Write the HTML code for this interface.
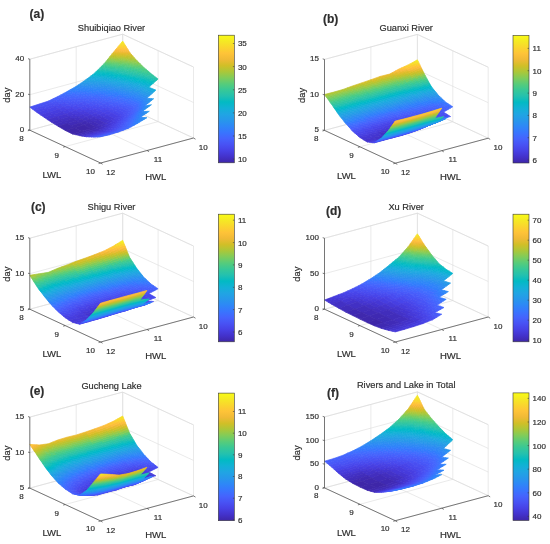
<!DOCTYPE html>
<html><head><meta charset="utf-8"><title>Figure</title>
<style>html,body{margin:0;padding:0;background:#fff}svg{display:block}text{font-family:"Liberation Sans",Arial,sans-serif;fill:#2e2e2e;stroke:#2e2e2e;stroke-width:.18}
.s{filter:blur(.4px)}.s path{stroke-width:.7;stroke-linejoin:round}
.c0{fill:#3e26a8;stroke:#3e26a8}.c1{fill:#3f28ad;stroke:#3f28ad}.c2{fill:#3f29b2;stroke:#3f29b2}.c3{fill:#402bb7;stroke:#402bb7}.c4{fill:#412dbb;stroke:#412dbb}.c5{fill:#422ebf;stroke:#422ebf}.c6{fill:#4230c4;stroke:#4230c4}.c7{fill:#4332c8;stroke:#4332c8}.c8{fill:#4433cd;stroke:#4433cd}.c9{fill:#4435d1;stroke:#4435d1}.c10{fill:#4537d5;stroke:#4537d5}.c11{fill:#4539d8;stroke:#4539d8}.c12{fill:#463bdc;stroke:#463bdc}.c13{fill:#463ddf;stroke:#463ddf}.c14{fill:#473fe2;stroke:#473fe2}.c15{fill:#4741e5;stroke:#4741e5}.c16{fill:#4743e7;stroke:#4743e7}.c17{fill:#4745ea;stroke:#4745ea}.c18{fill:#4848ec;stroke:#4848ec}.c19{fill:#484aee;stroke:#484aee}.c20{fill:#484cf0;stroke:#484cf0}.c21{fill:#484ef1;stroke:#484ef1}.c22{fill:#4851f3;stroke:#4851f3}.c23{fill:#4853f5;stroke:#4853f5}.c24{fill:#4755f6;stroke:#4755f6}.c25{fill:#4757f7;stroke:#4757f7}.c26{fill:#475af9;stroke:#475af9}.c27{fill:#475cfa;stroke:#475cfa}.c28{fill:#465efb;stroke:#465efb}.c29{fill:#4660fc;stroke:#4660fc}.c30{fill:#4563fc;stroke:#4563fc}.c31{fill:#4465fd;stroke:#4465fd}.c32{fill:#4367fd;stroke:#4367fd}.c33{fill:#426afe;stroke:#426afe}.c34{fill:#406cfe;stroke:#406cfe}.c35{fill:#3f6eff;stroke:#3f6eff}.c36{fill:#3d71ff;stroke:#3d71ff}.c37{fill:#3a73fe;stroke:#3a73fe}.c38{fill:#3876fe;stroke:#3876fe}.c39{fill:#3578fd;stroke:#3578fd}.c40{fill:#337bfd;stroke:#337bfd}.c41{fill:#317dfc;stroke:#317dfc}.c42{fill:#307ffb;stroke:#307ffb}.c43{fill:#2f82fa;stroke:#2f82fa}.c44{fill:#2e84f9;stroke:#2e84f9}.c45{fill:#2e86f7;stroke:#2e86f7}.c46{fill:#2d88f6;stroke:#2d88f6}.c47{fill:#2d8af4;stroke:#2d8af4}.c48{fill:#2d8cf3;stroke:#2d8cf3}.c49{fill:#2c8ef1;stroke:#2c8ef1}.c50{fill:#2b90ef;stroke:#2b90ef}.c51{fill:#2a92ee;stroke:#2a92ee}.c52{fill:#2994ec;stroke:#2994ec}.c53{fill:#2797eb;stroke:#2797eb}.c54{fill:#2698ea;stroke:#2698ea}.c55{fill:#269ae8;stroke:#269ae8}.c56{fill:#259ce7;stroke:#259ce7}.c57{fill:#249ee6;stroke:#249ee6}.c58{fill:#23a0e5;stroke:#23a0e5}.c59{fill:#22a2e4;stroke:#22a2e4}.c60{fill:#21a4e3;stroke:#21a4e3}.c61{fill:#1fa5e2;stroke:#1fa5e2}.c62{fill:#1ea7e1;stroke:#1ea7e1}.c63{fill:#1da9e0;stroke:#1da9e0}.c64{fill:#1babde;stroke:#1babde}.c65{fill:#19acdc;stroke:#19acdc}.c66{fill:#17aeda;stroke:#17aeda}.c67{fill:#15afd8;stroke:#15afd8}.c68{fill:#12b1d6;stroke:#12b1d6}.c69{fill:#0eb2d4;stroke:#0eb2d4}.c70{fill:#0ab4d2;stroke:#0ab4d2}.c71{fill:#07b5cf;stroke:#07b5cf}.c72{fill:#04b6cd;stroke:#04b6cd}.c73{fill:#01b7ca;stroke:#01b7ca}.c74{fill:#01b9c8;stroke:#01b9c8}.c75{fill:#01bac5;stroke:#01bac5}.c76{fill:#03bbc3;stroke:#03bbc3}.c77{fill:#06bcc0;stroke:#06bcc0}.c78{fill:#0abdbd;stroke:#0abdbd}.c79{fill:#0fbeba;stroke:#0fbeba}.c80{fill:#14bfb8;stroke:#14bfb8}.c81{fill:#1abfb5;stroke:#1abfb5}.c82{fill:#1ec0b2;stroke:#1ec0b2}.c83{fill:#23c1af;stroke:#23c1af}.c84{fill:#26c2ac;stroke:#26c2ac}.c85{fill:#29c3a9;stroke:#29c3a9}.c86{fill:#2cc4a7;stroke:#2cc4a7}.c87{fill:#2ec5a3;stroke:#2ec5a3}.c88{fill:#31c6a0;stroke:#31c6a0}.c89{fill:#33c69d;stroke:#33c69d}.c90{fill:#35c79a;stroke:#35c79a}.c91{fill:#38c897;stroke:#38c897}.c92{fill:#3bc993;stroke:#3bc993}.c93{fill:#3eca8f;stroke:#3eca8f}.c94{fill:#42ca8c;stroke:#42ca8c}.c95{fill:#46cb88;stroke:#46cb88}.c96{fill:#4bcb84;stroke:#4bcb84}.c97{fill:#50cc80;stroke:#50cc80}.c98{fill:#55cc7c;stroke:#55cc7c}.c99{fill:#5acc78;stroke:#5acc78}.c100{fill:#5fcd73;stroke:#5fcd73}.c101{fill:#64cd6f;stroke:#64cd6f}.c102{fill:#69cd6a;stroke:#69cd6a}.c103{fill:#6fcd66;stroke:#6fcd66}.c104{fill:#75cc61;stroke:#75cc61}.c105{fill:#7bcc5d;stroke:#7bcc5d}.c106{fill:#81cc59;stroke:#81cc59}.c107{fill:#86cb54;stroke:#86cb54}.c108{fill:#8ccb50;stroke:#8ccb50}.c109{fill:#92ca4c;stroke:#92ca4c}.c110{fill:#98ca47;stroke:#98ca47}.c111{fill:#9dc943;stroke:#9dc943}.c112{fill:#a3c83f;stroke:#a3c83f}.c113{fill:#a8c73b;stroke:#a8c73b}.c114{fill:#aec637;stroke:#aec637}.c115{fill:#b3c534;stroke:#b3c534}.c116{fill:#b8c431;stroke:#b8c431}.c117{fill:#bdc32e;stroke:#bdc32e}.c118{fill:#c2c22c;stroke:#c2c22c}.c119{fill:#c7c12a;stroke:#c7c12a}.c120{fill:#ccc028;stroke:#ccc028}.c121{fill:#d1bf27;stroke:#d1bf27}.c122{fill:#d5be28;stroke:#d5be28}.c123{fill:#d9bd28;stroke:#d9bd28}.c124{fill:#debd29;stroke:#debd29}.c125{fill:#e2bc2b;stroke:#e2bc2b}.c126{fill:#e6bb2d;stroke:#e6bb2d}.c127{fill:#e9bb30;stroke:#e9bb30}.c128{fill:#edba33;stroke:#edba33}.c129{fill:#f0ba36;stroke:#f0ba36}.c130{fill:#f4ba39;stroke:#f4ba39}.c131{fill:#f7ba3c;stroke:#f7ba3c}.c132{fill:#fabb3d;stroke:#fabb3d}.c133{fill:#fcbd3d;stroke:#fcbd3d}.c134{fill:#febe3c;stroke:#febe3c}.c135{fill:#fec03a;stroke:#fec03a}.c136{fill:#fec339;stroke:#fec339}.c137{fill:#fec537;stroke:#fec537}.c138{fill:#fec735;stroke:#fec735}.c139{fill:#feca33;stroke:#feca33}.c140{fill:#fdcc32;stroke:#fdcc32}.c141{fill:#fccf31;stroke:#fccf31}.c142{fill:#fcd12f;stroke:#fcd12f}.c143{fill:#fad42e;stroke:#fad42e}.c144{fill:#f9d62d;stroke:#f9d62d}.c145{fill:#f8d92c;stroke:#f8d92c}.c146{fill:#f7db2a;stroke:#f7db2a}.c147{fill:#f6de29;stroke:#f6de29}.c148{fill:#f6e028;stroke:#f6e028}.c149{fill:#f5e327;stroke:#f5e327}.c150{fill:#f5e526;stroke:#f5e526}.c151{fill:#f5e825;stroke:#f5e825}.c152{fill:#f5ea23;stroke:#f5ea23}.c153{fill:#f5ed22;stroke:#f5ed22}.c154{fill:#f6ef20;stroke:#f6ef20}.c155{fill:#f6f11e;stroke:#f6f11e}.c156{fill:#f7f41c;stroke:#f7f41c}.c157{fill:#f8f61a;stroke:#f8f61a}.c158{fill:#f8f917;stroke:#f8f917}.c159{fill:#f9fb15;stroke:#f9fb15}
</style></head><body>
<svg width="550" height="544" viewBox="0 0 550 544">
<defs><linearGradient id="pg" x1="0" y1="0" x2="0" y2="1"><stop offset="0%" stop-color="#f9fb15"/><stop offset="4.8%" stop-color="#f5e924"/><stop offset="9.5%" stop-color="#fad62d"/><stop offset="14.3%" stop-color="#fec338"/><stop offset="19%" stop-color="#f0ba36"/><stop offset="23.8%" stop-color="#d1bf27"/><stop offset="28.6%" stop-color="#abc739"/><stop offset="33.3%" stop-color="#81cc59"/><stop offset="38.1%" stop-color="#57cc7a"/><stop offset="42.9%" stop-color="#37c897"/><stop offset="47.6%" stop-color="#24c1ae"/><stop offset="52.4%" stop-color="#02bac3"/><stop offset="57.1%" stop-color="#12b1d6"/><stop offset="61.9%" stop-color="#20a5e3"/><stop offset="66.7%" stop-color="#2797eb"/><stop offset="71.4%" stop-color="#2e87f7"/><stop offset="76.2%" stop-color="#3875fe"/><stop offset="81%" stop-color="#4563fd"/><stop offset="85.7%" stop-color="#4852f4"/><stop offset="90.5%" stop-color="#4741e5"/><stop offset="95.2%" stop-color="#4332cb"/><stop offset="100%" stop-color="#3e26a8"/></linearGradient></defs>
<rect width="550" height="544" fill="#fff"/>
<g id="pa">
<line x1="29.8" y1="130.2" x2="122.7" y2="105.2" stroke="#dcdcdc" stroke-width="0.6"/>
<line x1="29.8" y1="130.2" x2="100.6" y2="163" stroke="#dcdcdc" stroke-width="0.6"/>
<line x1="65.2" y1="146.6" x2="158.1" y2="121.6" stroke="#dcdcdc" stroke-width="0.6"/>
<line x1="76.2" y1="117.7" x2="147.1" y2="150.5" stroke="#dcdcdc" stroke-width="0.6"/>
<line x1="100.6" y1="163" x2="193.5" y2="138" stroke="#dcdcdc" stroke-width="0.6"/>
<line x1="122.7" y1="105.2" x2="193.5" y2="138" stroke="#dcdcdc" stroke-width="0.6"/>
<line x1="29.8" y1="130.2" x2="29.8" y2="59.2" stroke="#dcdcdc" stroke-width="0.6"/>
<line x1="122.7" y1="105.2" x2="122.7" y2="34.2" stroke="#dcdcdc" stroke-width="0.6"/>
<line x1="76.2" y1="117.7" x2="76.2" y2="46.7" stroke="#dcdcdc" stroke-width="0.6"/>
<line x1="158.1" y1="121.6" x2="158.1" y2="50.6" stroke="#dcdcdc" stroke-width="0.6"/>
<line x1="122.7" y1="105.2" x2="122.7" y2="34.2" stroke="#dcdcdc" stroke-width="0.6"/>
<line x1="193.5" y1="138" x2="193.5" y2="67" stroke="#dcdcdc" stroke-width="0.6"/>
<line x1="29.8" y1="130.2" x2="122.7" y2="105.2" stroke="#dcdcdc" stroke-width="0.6"/>
<line x1="122.7" y1="105.2" x2="193.5" y2="138" stroke="#dcdcdc" stroke-width="0.6"/>
<line x1="29.8" y1="94.7" x2="122.7" y2="69.7" stroke="#dcdcdc" stroke-width="0.6"/>
<line x1="122.7" y1="69.7" x2="193.5" y2="102.5" stroke="#dcdcdc" stroke-width="0.6"/>
<line x1="29.8" y1="59.2" x2="122.7" y2="34.2" stroke="#dcdcdc" stroke-width="0.6"/>
<line x1="122.7" y1="34.2" x2="193.5" y2="67" stroke="#dcdcdc" stroke-width="0.6"/>
<line x1="29.8" y1="59.2" x2="122.7" y2="34.2" stroke="#dcdcdc" stroke-width="0.6"/>
<line x1="122.7" y1="34.2" x2="193.5" y2="67" stroke="#dcdcdc" stroke-width="0.6"/>
<g class="s"><path class="c98" d="M104.1 63.7l1 1.3l1.2 -1.4l-1 -1.3z"/>
<path class="c95" d="M102.8 65l1.2 1.5l1.3 -1.3l-1.2 -1.5z"/>
<path class="c92" d="M101.5 66.3l1.1 1.5l1.4 -1.3l-1.2 -1.5z"/>
<path class="c102" d="M105.3 62.3l1 1.3l1.2 -1.4l-1.1 -1.3z"/>
<path class="c89" d="M100.1 67.7l1.2 1.4l1.3 -1.3l-1.1 -1.5z"/>
<path class="c86" d="M98.8 69l1.2 1.3l1.3 -1.2l-1.2 -1.4z"/>
<path class="c106" d="M106.4 60.9l1.1 1.3l1.1 -1.4l-1 -1.4z"/>
<path class="c83" d="M97.5 70.3l1.2 1.3l1.3 -1.3l-1.2 -1.3z"/>
<path class="c79" d="M96.2 71.6l1.1 1.3l1.4 -1.3l-1.2 -1.3z"/>
<path class="c109" d="M107.6 59.4l1 1.4l1.2 -1.4l-1 -1.4z"/>
<path class="c96" d="M105.1 65l1 1.2l1.2 -1.4l-1 -1.2z"/>
<path class="c76" d="M94.8 72.9l1.2 1.3l1.3 -1.3l-1.1 -1.3z"/>
<path class="c113" d="M108.8 58l1 1.4l1.1 -1.4l-1 -1.4z"/>
<path class="c92" d="M104 66.5l1.2 1.4l1.3 -1.3l-1.2 -1.4z"/>
<path class="c99" d="M106.3 63.6l1 1.2l1.2 -1.3l-1 -1.3z"/>
<path class="c89" d="M102.6 67.8l1.2 1.4l1.4 -1.3l-1.2 -1.4z"/>
<path class="c116" d="M109.9 56.6l1 1.4l1.2 -1.4l-1 -1.4z"/>
<path class="c103" d="M107.5 62.2l1 1.3l1.1 -1.4l-1 -1.3z"/>
<path class="c86" d="M101.3 69.1l1.2 1.3l1.3 -1.2l-1.2 -1.4z"/>
<path class="c73" d="M93 74.4l1.4 1.5l1.8 -1.4l-1.4 -1.6z"/>
<path class="c106" d="M108.6 60.8l1 1.3l1.2 -1.4l-1 -1.3z"/>
<path class="c120" d="M111.1 55.2l1 1.4l1.2 -1.4l-1.1 -1.5z"/>
<path class="c83" d="M100 70.3l1.2 1.4l1.3 -1.3l-1.2 -1.3z"/>
<path class="c93" d="M106.1 66.2l1.1 1.3l1.1 -1.4l-1 -1.3z"/>
<path class="c110" d="M109.8 59.4l1 1.3l1.1 -1.4l-1 -1.3z"/>
<path class="c80" d="M98.7 71.6l1.1 1.4l1.4 -1.3l-1.2 -1.4z"/>
<path class="c123" d="M112.2 53.7l1.1 1.5l1.1 -1.4l-1 -1.5z"/>
<path class="c97" d="M107.3 64.8l1 1.3l1.2 -1.3l-1 -1.3z"/>
<path class="c77" d="M97.3 72.9l1.2 1.4l1.3 -1.3l-1.1 -1.4z"/>
<path class="c113" d="M110.9 58l1 1.3l1.2 -1.3l-1 -1.4z"/>
<path class="c127" d="M113.4 52.3l0.9 1.3l1.2 -1.4l-0.9 -1.3z"/>
<path class="c89" d="M105.2 67.9l1.1 1.4l1.4 -1.2l-1.2 -1.5z"/>
<path class="c100" d="M108.5 63.5l1 1.3l1.1 -1.4l-1 -1.3z"/>
<path class="c74" d="M96 74.2l1.2 1.3l1.3 -1.2l-1.2 -1.4z"/>
<path class="c117" d="M112.1 56.6l1 1.4l1.2 -1.4l-1 -1.4z"/>
<path class="c131" d="M114.6 50.9l0.9 1.3l1.1 -1.4l-0.9 -1.3z"/>
<path class="c103" d="M109.6 62.1l1 1.3l1.2 -1.3l-1 -1.4z"/>
<path class="c86" d="M103.8 69.2l1.2 1.4l1.3 -1.3l-1.1 -1.4z"/>
<path class="c70" d="M91.1 75.8l1.4 1.5l1.9 -1.4l-1.4 -1.5z"/>
<path class="c120" d="M113.3 55.2l1 1.4l1.1 -1.4l-1 -1.4z"/>
<path class="c107" d="M110.8 60.7l1 1.4l1.2 -1.4l-1.1 -1.4z"/>
<path class="c134" d="M115.7 49.5l0.9 1.3l1.2 -1.4l-0.9 -1.3z"/>
<path class="c83" d="M102.5 70.4l1.2 1.4l1.3 -1.2l-1.2 -1.4z"/>
<path class="c124" d="M114.3 53.6l0.9 1.3l1.1 -1.4l-0.8 -1.3z"/>
<path class="c91" d="M107.2 67.5l1 1.2l1.1 -1.3l-1 -1.3z"/>
<path class="c110" d="M111.9 59.3l1.1 1.4l1.1 -1.3l-1 -1.4z"/>
<path class="c138" d="M116.9 48.1l0.9 1.3l1.1 -1.3l-0.8 -1.4z"/>
<path class="c94" d="M108.3 66.1l1 1.3l1.2 -1.3l-1 -1.3z"/>
<path class="c128" d="M115.5 52.2l0.8 1.3l1.2 -1.4l-0.9 -1.3z"/>
<path class="c80" d="M101.2 71.7l1.2 1.4l1.3 -1.3l-1.2 -1.4z"/>
<path class="c114" d="M113.1 58l1 1.4l1.2 -1.4l-1 -1.4z"/>
<path class="c97" d="M109.5 64.8l1 1.3l1.1 -1.4l-1 -1.3z"/>
<path class="c131" d="M116.6 50.8l0.9 1.3l1.2 -1.3l-0.9 -1.4z"/>
<path class="c141" d="M118.1 46.7l0.8 1.4l1.2 -1.4l-0.9 -1.4z"/>
<path class="c77" d="M99.8 73l1.2 1.3l1.4 -1.2l-1.2 -1.4z"/>
<path class="c70" d="M94.4 75.9l1.4 1.5l1.9 -1.3l-1.5 -1.6z"/>
<path class="c101" d="M110.6 63.4l1 1.3l1.2 -1.3l-1 -1.3z"/>
<path class="c121" d="M115.2 54.9l0.9 1.2l1.1 -1.3l-0.9 -1.3z"/>
<path class="c117" d="M114.3 56.6l1 1.4l1.1 -1.3l-1 -1.5z"/>
<path class="c67" d="M89.3 77.2l1.4 1.5l1.8 -1.4l-1.4 -1.5z"/>
<path class="c86" d="M106.3 69.3l1.2 1.5l1.3 -1.2l-1.1 -1.5z"/>
<path class="c135" d="M117.8 49.4l0.9 1.4l1.1 -1.4l-0.9 -1.3z"/>
<path class="c74" d="M98.5 74.3l1.2 1.3l1.3 -1.3l-1.2 -1.3z"/>
<path class="c145" d="M119.2 45.3l0.9 1.4l1.2 -1.4l-0.9 -1.4z"/>
<path class="c104" d="M111.8 62.1l1 1.3l1.2 -1.3l-1 -1.4z"/>
<path class="c125" d="M116.3 53.5l0.9 1.3l1.2 -1.4l-0.9 -1.3z"/>
<path class="c138" d="M118.9 48.1l0.9 1.3l1.2 -1.3l-0.9 -1.4z"/>
<path class="c107" d="M113 60.7l1 1.4l1.1 -1.3l-1 -1.4z"/>
<path class="c71" d="M97.2 75.5l1.2 1.3l1.3 -1.2l-1.2 -1.3z"/>
<path class="c83" d="M105 70.6l1.2 1.4l1.3 -1.2l-1.2 -1.5z"/>
<path class="c128" d="M117.5 52.1l0.9 1.3l1.1 -1.3l-0.8 -1.3z"/>
<path class="c148" d="M120.4 43.9l0.9 1.4l1.1 -1.4l-0.9 -1.4z"/>
<path class="c88" d="M108.2 68.7l1 1.3l1.1 -1.3l-1 -1.3z"/>
<path class="c111" d="M114.1 59.4l1 1.4l1.2 -1.4l-1 -1.4z"/>
<path class="c141" d="M120.1 46.7l0.9 1.4l1.1 -1.4l-0.8 -1.4z"/>
<path class="c119" d="M116.1 56.1l0.9 1.3l1.1 -1.3l-0.9 -1.3z"/>
<path class="c132" d="M118.7 50.8l0.8 1.3l1.2 -1.3l-0.9 -1.4z"/>
<path class="c91" d="M109.3 67.4l1 1.3l1.2 -1.3l-1 -1.3z"/>
<path class="c80" d="M103.7 71.8l1.2 1.4l1.3 -1.2l-1.2 -1.4z"/>
<path class="c152" d="M121.5 42.5l0.9 1.4l1.2 -1.3l-0.9 -1.5z"/>
<path class="c114" d="M115.3 58l1 1.4l1.2 -1.3l-1.1 -1.4z"/>
<path class="c95" d="M110.5 66.1l1 1.3l1.2 -1.3l-1.1 -1.4z"/>
<path class="c122" d="M117.2 54.8l0.9 1.3l1.2 -1.3l-0.9 -1.4z"/>
<path class="c135" d="M119.8 49.4l0.9 1.4l1.2 -1.4l-0.9 -1.3z"/>
<path class="c145" d="M121.3 45.3l0.8 1.4l1.2 -1.4l-0.9 -1.4z"/>
<path class="c98" d="M111.6 64.7l1.1 1.4l1.1 -1.3l-1 -1.4z"/>
<path class="c125" d="M118.4 53.4l0.9 1.4l1.1 -1.4l-0.9 -1.3z"/>
<path class="c77" d="M102.4 73.1l1.1 1.4l1.4 -1.3l-1.2 -1.4z"/>
<path class="c67" d="M92.5 77.3l1.4 1.5l1.9 -1.4l-1.4 -1.5z"/>
<path class="c138" d="M121 48.1l0.9 1.3l1.1 -1.3l-0.9 -1.4z"/>
<path class="c101" d="M112.8 63.4l1 1.4l1.2 -1.3l-1 -1.4z"/>
<path class="c148" d="M122.4 43.9l0.9 1.4l1.2 -1.3l-0.9 -1.4z"/>
<path class="c64" d="M87.4 78.6l1.4 1.5l1.9 -1.4l-1.4 -1.5z"/>
<path class="c129" d="M119.5 52.1l0.9 1.3l1.2 -1.3l-0.9 -1.3z"/>
<path class="c104" d="M114 62.1l1 1.4l1.1 -1.3l-1 -1.4z"/>
<path class="c116" d="M117 57.4l0.8 1.3l1.2 -1.3l-0.9 -1.3z"/>
<path class="c142" d="M122.1 46.7l0.9 1.4l1.2 -1.3l-0.9 -1.5z"/>
<path class="c132" d="M120.7 50.8l0.9 1.3l1.2 -1.3l-0.9 -1.4z"/>
<path class="c75" d="M101 74.3l1.2 1.4l1.3 -1.2l-1.1 -1.4z"/>
<path class="c108" d="M115.1 60.8l1 1.4l1.2 -1.3l-1 -1.5z"/>
<path class="c119" d="M118.1 56.1l0.9 1.3l1.2 -1.3l-0.9 -1.3z"/>
<path class="c83" d="M107.5 70.8l1.2 1.4l1.3 -1.2l-1.2 -1.4z"/>
<path class="c145" d="M123.3 45.3l0.9 1.5l1.2 -1.4l-0.9 -1.4z"/>
<path class="c135" d="M121.9 49.4l0.9 1.4l1.1 -1.3l-0.9 -1.4z"/>
<path class="c111" d="M116.3 59.4l1 1.5l1.2 -1.3l-1 -1.5z"/>
<path class="c122" d="M119.3 54.8l0.9 1.3l1.1 -1.3l-0.9 -1.4z"/>
<path class="c85" d="M109.2 70l1 1.2l1.1 -1.2l-1 -1.3z"/>
<path class="c89" d="M110.3 68.7l1 1.3l1.2 -1.3l-1 -1.3z"/>
<path class="c72" d="M99.7 75.6l1.2 1.3l1.3 -1.2l-1.2 -1.4z"/>
<path class="c126" d="M120.4 53.4l0.9 1.4l1.2 -1.3l-0.9 -1.4z"/>
<path class="c138" d="M123 48.1l0.9 1.4l1.2 -1.3l-0.9 -1.4z"/>
<path class="c80" d="M106.2 72l1.2 1.4l1.3 -1.2l-1.2 -1.4z"/>
<path class="c92" d="M111.5 67.4l1 1.3l1.2 -1.3l-1 -1.3z"/>
<path class="c129" d="M121.6 52.1l0.9 1.4l1.1 -1.3l-0.8 -1.4z"/>
<path class="c142" d="M124.2 46.8l0.9 1.4l1.1 -1.4l-0.8 -1.4z"/>
<path class="c95" d="M112.7 66.1l1 1.3l1.1 -1.3l-1 -1.3z"/>
<path class="c113" d="M117.8 58.7l0.9 1.2l1.2 -1.3l-0.9 -1.2z"/>
<path class="c67" d="M95.8 77.4l1.4 1.6l1.9 -1.4l-1.4 -1.5z"/>
<path class="c132" d="M122.8 50.8l0.8 1.4l1.2 -1.3l-0.9 -1.4z"/>
<path class="c69" d="M98.4 76.8l1.2 1.3l1.3 -1.2l-1.2 -1.3z"/>
<path class="c98" d="M113.8 64.8l1 1.3l1.2 -1.3l-1 -1.3z"/>
<path class="c116" d="M119 57.4l0.9 1.2l1.1 -1.2l-0.8 -1.3z"/>
<path class="c101" d="M115 63.5l1 1.3l1.2 -1.2l-1.1 -1.4z"/>
<path class="c135" d="M123.9 49.5l0.9 1.4l1.2 -1.3l-0.9 -1.4z"/>
<path class="c119" d="M120.2 56.1l0.8 1.3l1.2 -1.3l-0.9 -1.3z"/>
<path class="c78" d="M104.9 73.2l1.1 1.4l1.4 -1.2l-1.2 -1.4z"/>
<path class="c64" d="M90.7 78.7l1.4 1.5l1.8 -1.4l-1.4 -1.5z"/>
<path class="c61" d="M85.5 80.1l1.5 1.4l1.8 -1.4l-1.4 -1.5z"/>
<path class="c104" d="M116.1 62.2l1.1 1.4l1.1 -1.3l-1 -1.4z"/>
<path class="c123" d="M121.3 54.8l0.9 1.3l1.2 -1.3l-0.9 -1.3z"/>
<path class="c138" d="M125.1 48.2l0.9 1.4l1.1 -1.3l-0.9 -1.5z"/>
<path class="c126" d="M122.5 53.5l0.9 1.3l1.1 -1.3l-0.9 -1.3z"/>
<path class="c108" d="M117.3 60.9l1 1.4l1.2 -1.3l-1 -1.4z"/>
<path class="c129" d="M123.6 52.2l0.9 1.3l1.2 -1.2l-0.9 -1.4z"/>
<path class="c75" d="M103.5 74.5l1.2 1.3l1.3 -1.2l-1.1 -1.4z"/>
<path class="c132" d="M124.8 50.9l0.9 1.4l1.1 -1.3l-0.8 -1.4z"/>
<path class="c110" d="M118.7 59.9l0.9 1.3l1.2 -1.3l-0.9 -1.3z"/>
<path class="c113" d="M119.9 58.6l0.9 1.3l1.1 -1.2l-0.9 -1.3z"/>
<path class="c135" d="M126 49.6l0.8 1.4l1.2 -1.3l-0.9 -1.4z"/>
<path class="c83" d="M110.2 71.2l1 1.3l1.2 -1.3l-1.1 -1.2z"/>
<path class="c116" d="M121 57.4l0.9 1.3l1.2 -1.3l-0.9 -1.3z"/>
<path class="c86" d="M111.3 70l1.1 1.2l1.1 -1.2l-1 -1.3z"/>
<path class="c80" d="M108.7 72.2l1.2 1.5l1.3 -1.2l-1.2 -1.5z"/>
<path class="c119" d="M122.2 56.1l0.9 1.3l1.2 -1.2l-0.9 -1.4z"/>
<path class="c89" d="M112.5 68.7l1 1.3l1.2 -1.3l-1 -1.3z"/>
<path class="c123" d="M123.4 54.8l0.9 1.4l1.1 -1.3l-0.9 -1.4z"/>
<path class="c92" d="M113.7 67.4l1 1.3l1.1 -1.2l-1 -1.4z"/>
<path class="c72" d="M102.2 75.7l1.2 1.3l1.3 -1.2l-1.2 -1.3z"/>
<path class="c126" d="M124.5 53.5l0.9 1.4l1.2 -1.2l-0.9 -1.4z"/>
<path class="c95" d="M114.8 66.1l1 1.4l1.2 -1.3l-1 -1.4z"/>
<path class="c129" d="M125.7 52.3l0.9 1.4l1.1 -1.3l-0.9 -1.4z"/>
<path class="c98" d="M116 64.8l1 1.4l1.2 -1.2l-1 -1.4z"/>
<path class="c132" d="M126.8 51l0.9 1.4l1.2 -1.3l-0.9 -1.4z"/>
<path class="c101" d="M117.2 63.6l1 1.4l1.1 -1.3l-1 -1.4z"/>
<path class="c65" d="M93.9 78.8l1.5 1.5l1.8 -1.3l-1.4 -1.6z"/>
<path class="c105" d="M118.3 62.3l1 1.4l1.2 -1.2l-1 -1.5z"/>
<path class="c77" d="M107.4 73.4l1.1 1.5l1.4 -1.2l-1.2 -1.5z"/>
<path class="c107" d="M119.6 61.2l0.9 1.3l1.2 -1.3l-0.9 -1.3z"/>
<path class="c69" d="M100.9 76.9l1.2 1.3l1.3 -1.2l-1.2 -1.3z"/>
<path class="c62" d="M88.8 80.1l1.4 1.4l1.9 -1.3l-1.4 -1.5z"/>
<path class="c110" d="M120.8 59.9l0.9 1.3l1.1 -1.2l-0.9 -1.3z"/>
<path class="c113" d="M121.9 58.7l0.9 1.3l1.2 -1.3l-0.9 -1.3z"/>
<path class="c116" d="M123.1 57.4l0.9 1.3l1.1 -1.2l-0.8 -1.3z"/>
<path class="c120" d="M124.3 56.2l0.8 1.3l1.2 -1.2l-0.9 -1.4z"/>
<path class="c123" d="M125.4 54.9l0.9 1.4l1.2 -1.3l-0.9 -1.3z"/>
<path class="c126" d="M126.6 53.7l0.9 1.3l1.1 -1.2l-0.9 -1.4z"/>
<path class="c129" d="M127.7 52.4l0.9 1.4l1.2 -1.2l-0.9 -1.5z"/>
<path class="c75" d="M106 74.6l1.2 1.4l1.3 -1.1l-1.1 -1.5z"/>
<path class="c66" d="M99.6 78.1l1.1 1.3l1.4 -1.2l-1.2 -1.3z"/>
<path class="c58" d="M83.2 81.6l1.8 1.8l2.3 -1.6l-1.8 -1.7z"/>
<path class="c64" d="M97.2 79l1.4 1.5l1.9 -1.3l-1.4 -1.6z"/>
<path class="c72" d="M104.7 75.8l1.2 1.4l1.3 -1.2l-1.2 -1.4z"/>
<path class="c62" d="M92.1 80.2l1.4 1.4l1.9 -1.3l-1.5 -1.5z"/>
<path class="c59" d="M87 81.5l1.4 1.4l1.8 -1.4l-1.4 -1.4z"/>
<path class="c80" d="M111.2 72.5l1.4 1.3l1.2 -1.2l-1.4 -1.4z"/>
<path class="c69" d="M103.4 77l1.2 1.4l1.3 -1.2l-1.2 -1.4z"/>
<path class="c83" d="M112.4 71.2l1.4 1.4l1.1 -1.2l-1.4 -1.4z"/>
<path class="c86" d="M113.5 70l1.4 1.4l1.2 -1.3l-1.4 -1.4z"/>
<path class="c89" d="M114.7 68.7l1.4 1.4l1.2 -1.2l-1.5 -1.4z"/>
<path class="c93" d="M115.8 67.5l1.5 1.4l1.1 -1.2l-1.4 -1.5z"/>
<path class="c96" d="M117 66.2l1.4 1.5l1.2 -1.3l-1.4 -1.4z"/>
<path class="c125" d="M128.6 53.8l1.4 1.6l1.2 -1.2l-1.4 -1.6z"/>
<path class="c122" d="M127.5 55l1.4 1.6l1.1 -1.2l-1.4 -1.6z"/>
<path class="c99" d="M118.2 65l1.4 1.4l1.1 -1.2l-1.4 -1.5z"/>
<path class="c119" d="M126.3 56.3l1.4 1.5l1.2 -1.2l-1.4 -1.6z"/>
<path class="c117" d="M125.1 57.5l1.5 1.6l1.1 -1.3l-1.4 -1.5z"/>
<path class="c114" d="M124 58.7l1.4 1.6l1.2 -1.2l-1.5 -1.6z"/>
<path class="c111" d="M122.8 60l1.4 1.5l1.2 -1.2l-1.4 -1.6z"/>
<path class="c102" d="M119.3 63.7l1.4 1.5l1.2 -1.3l-1.4 -1.4z"/>
<path class="c108" d="M121.7 61.2l1.4 1.5l1.1 -1.2l-1.4 -1.5z"/>
<path class="c105" d="M120.5 62.5l1.4 1.4l1.2 -1.2l-1.4 -1.5z"/>
<path class="c67" d="M102.1 78.2l1.1 1.4l1.4 -1.2l-1.2 -1.4z"/>
<path class="c77" d="M109.7 73.9l1.7 1.6l1.6 -1.3l-1.8 -1.7z"/>
<path class="c62" d="M95.4 80.3l1.4 1.5l1.8 -1.3l-1.4 -1.5z"/>
<path class="c64" d="M100.7 79.4l1.2 1.3l1.3 -1.1l-1.1 -1.4z"/>
<path class="c59" d="M90.2 81.5l1.4 1.5l1.9 -1.4l-1.4 -1.4z"/>
<path class="c74" d="M108.1 75.2l1.8 1.7l1.5 -1.4l-1.7 -1.6z"/>
<path class="c55" d="M80.9 83.2l1.8 1.7l2.3 -1.5l-1.8 -1.8z"/>
<path class="c62" d="M98.6 80.5l1.5 1.5l1.8 -1.3l-1.4 -1.5z"/>
<path class="c71" d="M106.6 76.6l1.7 1.6l1.6 -1.3l-1.8 -1.7z"/>
<path class="c59" d="M93.5 81.6l1.4 1.5l1.9 -1.3l-1.4 -1.5z"/>
<path class="c122" d="M130 55.4l1.5 1.6l1.1 -1.2l-1.4 -1.6z"/>
<path class="c119" d="M128.9 56.6l1.4 1.6l1.2 -1.2l-1.5 -1.6z"/>
<path class="c117" d="M127.7 57.8l1.4 1.6l1.2 -1.2l-1.4 -1.6z"/>
<path class="c68" d="M105 78l1.8 1.6l1.5 -1.4l-1.7 -1.6z"/>
<path class="c114" d="M126.6 59.1l1.4 1.5l1.1 -1.2l-1.4 -1.6z"/>
<path class="c56" d="M88.4 82.9l1.4 1.4l1.8 -1.3l-1.4 -1.5z"/>
<path class="c111" d="M125.4 60.3l1.4 1.5l1.2 -1.2l-1.4 -1.5z"/>
<path class="c108" d="M124.2 61.5l1.4 1.5l1.2 -1.2l-1.4 -1.5z"/>
<path class="c55" d="M85 83.4l1.8 1.7l2.3 -1.5l-1.8 -1.8z"/>
<path class="c105" d="M123.1 62.7l1.4 1.5l1.1 -1.2l-1.4 -1.5z"/>
<path class="c102" d="M121.9 63.9l1.4 1.5l1.2 -1.2l-1.4 -1.5z"/>
<path class="c99" d="M120.7 65.2l1.5 1.4l1.1 -1.2l-1.4 -1.5z"/>
<path class="c96" d="M119.6 66.4l1.4 1.5l1.2 -1.3l-1.5 -1.4z"/>
<path class="c93" d="M118.4 67.7l1.4 1.4l1.2 -1.2l-1.4 -1.5z"/>
<path class="c90" d="M117.3 68.9l1.4 1.4l1.1 -1.2l-1.4 -1.4z"/>
<path class="c87" d="M116.1 70.1l1.4 1.4l1.2 -1.2l-1.4 -1.4z"/>
<path class="c84" d="M114.9 71.4l1.5 1.4l1.1 -1.3l-1.4 -1.4z"/>
<path class="c81" d="M113.8 72.6l1.4 1.4l1.2 -1.2l-1.5 -1.4z"/>
<path class="c78" d="M112.6 73.8l1.4 1.4l1.2 -1.2l-1.4 -1.4z"/>
<path class="c65" d="M103.5 79.4l1.7 1.5l1.6 -1.3l-1.8 -1.6z"/>
<path class="c59" d="M96.8 81.8l1.4 1.5l1.9 -1.3l-1.5 -1.5z"/>
<path class="c52" d="M78.6 84.7l1.7 1.7l2.4 -1.5l-1.8 -1.7z"/>
<path class="c56" d="M91.6 83l1.5 1.4l1.8 -1.3l-1.4 -1.5z"/>
<path class="c62" d="M101.9 80.7l1.8 1.6l1.5 -1.4l-1.7 -1.5z"/>
<path class="c74" d="M111.4 75.5l1.8 1.7l1.5 -1.3l-1.7 -1.7z"/>
<path class="c119" d="M131.5 57l1.4 1.6l1.1 -1.2l-1.4 -1.6z"/>
<path class="c116" d="M130.3 58.2l1.4 1.6l1.2 -1.2l-1.4 -1.6z"/>
<path class="c56" d="M94.9 83.1l1.4 1.5l1.9 -1.3l-1.4 -1.5z"/>
<path class="c114" d="M129.1 59.4l1.4 1.6l1.2 -1.2l-1.4 -1.6z"/>
<path class="c52" d="M82.7 84.9l1.7 1.7l2.4 -1.5l-1.8 -1.7z"/>
<path class="c71" d="M109.9 76.9l1.7 1.6l1.6 -1.3l-1.8 -1.7z"/>
<path class="c111" d="M128 60.6l1.4 1.6l1.1 -1.2l-1.4 -1.6z"/>
<path class="c108" d="M126.8 61.8l1.4 1.5l1.2 -1.1l-1.4 -1.6z"/>
<path class="c105" d="M125.6 63l1.5 1.5l1.1 -1.2l-1.4 -1.5z"/>
<path class="c102" d="M124.5 64.2l1.4 1.5l1.2 -1.2l-1.5 -1.5z"/>
<path class="c54" d="M89.8 84.3l1.4 1.4l1.9 -1.3l-1.5 -1.4z"/>
<path class="c99" d="M123.3 65.4l1.4 1.5l1.2 -1.2l-1.4 -1.5z"/>
<path class="c96" d="M122.2 66.6l1.4 1.5l1.1 -1.2l-1.4 -1.5z"/>
<path class="c93" d="M121 67.9l1.4 1.4l1.2 -1.2l-1.4 -1.5z"/>
<path class="c90" d="M119.8 69.1l1.5 1.4l1.1 -1.2l-1.4 -1.4z"/>
<path class="c88" d="M118.7 70.3l1.4 1.4l1.2 -1.2l-1.5 -1.4z"/>
<path class="c85" d="M117.5 71.5l1.4 1.4l1.2 -1.2l-1.4 -1.4z"/>
<path class="c82" d="M116.4 72.8l1.4 1.3l1.1 -1.2l-1.4 -1.4z"/>
<path class="c68" d="M108.3 78.2l1.8 1.7l1.5 -1.4l-1.7 -1.6z"/>
<path class="c79" d="M115.2 74l1.4 1.3l1.2 -1.2l-1.4 -1.3z"/>
<path class="c49" d="M76.2 86.3l1.8 1.6l2.3 -1.5l-1.7 -1.7z"/>
<path class="c76" d="M114 75.2l1.4 1.3l1.2 -1.2l-1.4 -1.3z"/>
<path class="c58" d="M99.6 82.3l2.3 2.1l2.4 -1.6l-2.4 -2.1z"/>
<path class="c52" d="M86.8 85.1l1.7 1.7l2.3 -1.4l-1.7 -1.8z"/>
<path class="c65" d="M106.8 79.6l1.7 1.6l1.6 -1.3l-1.8 -1.7z"/>
<path class="c54" d="M93.1 84.4l1.4 1.5l1.8 -1.3l-1.4 -1.5z"/>
<path class="c116" d="M132.9 58.6l1.4 1.6l1.1 -1.2l-1.4 -1.6z"/>
<path class="c62" d="M105.2 80.9l1.8 1.6l1.5 -1.3l-1.7 -1.6z"/>
<path class="c49" d="M80.3 86.4l1.8 1.7l2.3 -1.5l-1.7 -1.7z"/>
<path class="c113" d="M131.7 59.8l1.4 1.6l1.2 -1.2l-1.4 -1.6z"/>
<path class="c111" d="M130.5 61l1.5 1.5l1.1 -1.1l-1.4 -1.6z"/>
<path class="c108" d="M129.4 62.2l1.4 1.5l1.2 -1.2l-1.5 -1.5z"/>
<path class="c105" d="M128.2 63.3l1.4 1.6l1.2 -1.2l-1.4 -1.5z"/>
<path class="c102" d="M127.1 64.5l1.4 1.5l1.1 -1.1l-1.4 -1.6z"/>
<path class="c59" d="M103.7 82.3l1.7 1.6l1.6 -1.4l-1.8 -1.6z"/>
<path class="c99" d="M125.9 65.7l1.4 1.5l1.2 -1.2l-1.4 -1.5z"/>
<path class="c55" d="M97.3 84l2.3 2l2.3 -1.6l-2.3 -2.1z"/>
<path class="c96" d="M124.7 66.9l1.5 1.5l1.1 -1.2l-1.4 -1.5z"/>
<path class="c72" d="M113.2 77.2l1.8 1.7l1.5 -1.3l-1.8 -1.7z"/>
<path class="c51" d="M91.2 85.7l1.4 1.5l1.9 -1.3l-1.4 -1.5z"/>
<path class="c94" d="M123.6 68.1l1.4 1.5l1.2 -1.2l-1.5 -1.5z"/>
<path class="c91" d="M122.4 69.3l1.4 1.5l1.2 -1.2l-1.4 -1.5z"/>
<path class="c88" d="M121.3 70.5l1.4 1.5l1.1 -1.2l-1.4 -1.5z"/>
<path class="c85" d="M120.1 71.7l1.4 1.4l1.2 -1.1l-1.4 -1.5z"/>
<path class="c82" d="M118.9 72.9l1.4 1.4l1.2 -1.2l-1.4 -1.4z"/>
<path class="c79" d="M117.8 74.1l1.4 1.4l1.1 -1.2l-1.4 -1.4z"/>
<path class="c49" d="M84.4 86.6l1.8 1.7l2.3 -1.5l-1.7 -1.7z"/>
<path class="c46" d="M73.2 88.1l1.7 1.6l3.1 -1.8l-1.8 -1.6z"/>
<path class="c76" d="M116.6 75.3l1.4 1.4l1.2 -1.2l-1.4 -1.4z"/>
<path class="c74" d="M115.4 76.5l1.5 1.4l1.1 -1.2l-1.4 -1.4z"/>
<path class="c69" d="M111.6 78.5l1.8 1.7l1.6 -1.3l-1.8 -1.7z"/>
<path class="c113" d="M134.3 60.2l1.4 1.6l1.2 -1.2l-1.5 -1.6z"/>
<path class="c46" d="M78 87.9l1.8 1.7l2.3 -1.5l-1.8 -1.7z"/>
<path class="c66" d="M110.1 79.9l1.8 1.6l1.5 -1.3l-1.8 -1.7z"/>
<path class="c110" d="M133.1 61.4l1.4 1.5l1.2 -1.1l-1.4 -1.6z"/>
<path class="c49" d="M88.5 86.8l1.8 1.8l2.3 -1.4l-1.8 -1.8z"/>
<path class="c108" d="M132 62.5l1.4 1.6l1.1 -1.2l-1.4 -1.5z"/>
<path class="c105" d="M130.8 63.7l1.4 1.6l1.2 -1.2l-1.4 -1.6z"/>
<path class="c52" d="M94.9 85.6l2.4 1.9l2.3 -1.5l-2.3 -2z"/>
<path class="c102" d="M129.6 64.9l1.5 1.5l1.1 -1.1l-1.4 -1.6z"/>
<path class="c63" d="M108.5 81.2l1.8 1.6l1.6 -1.3l-1.8 -1.6z"/>
<path class="c99" d="M128.5 66l1.4 1.6l1.2 -1.2l-1.5 -1.5z"/>
<path class="c97" d="M127.3 67.2l1.4 1.5l1.2 -1.1l-1.4 -1.6z"/>
<path class="c94" d="M126.2 68.4l1.4 1.5l1.1 -1.2l-1.4 -1.5z"/>
<path class="c91" d="M125 69.6l1.4 1.4l1.2 -1.1l-1.4 -1.5z"/>
<path class="c88" d="M123.8 70.8l1.4 1.4l1.2 -1.2l-1.4 -1.4z"/>
<path class="c46" d="M82.1 88.1l1.8 1.6l2.3 -1.4l-1.8 -1.7z"/>
<path class="c85" d="M122.7 72l1.4 1.4l1.1 -1.2l-1.4 -1.4z"/>
<path class="c60" d="M107 82.5l1.8 1.6l1.5 -1.3l-1.8 -1.6z"/>
<path class="c83" d="M121.5 73.1l1.4 1.5l1.2 -1.2l-1.4 -1.4z"/>
<path class="c55" d="M101.9 84.4l2.4 2l2.3 -1.5l-2.3 -2.1z"/>
<path class="c80" d="M120.3 74.3l1.5 1.4l1.1 -1.1l-1.4 -1.5z"/>
<path class="c77" d="M119.2 75.5l1.4 1.4l1.2 -1.2l-1.5 -1.4z"/>
<path class="c74" d="M118 76.7l1.4 1.4l1.2 -1.2l-1.4 -1.4z"/>
<path class="c71" d="M116.9 77.9l1.4 1.3l1.1 -1.1l-1.4 -1.4z"/>
<path class="c69" d="M115 78.9l1.7 1.6l1.6 -1.3l-1.8 -1.6z"/>
<path class="c57" d="M105.4 83.9l1.8 1.5l1.6 -1.3l-1.8 -1.6z"/>
<path class="c49" d="M92.6 87.2l2.4 1.9l2.3 -1.6l-2.4 -1.9z"/>
<path class="c46" d="M86.2 88.3l1.8 1.7l2.3 -1.4l-1.8 -1.8z"/>
<path class="c43" d="M70.1 89.8l1.7 1.6l3.1 -1.7l-1.7 -1.6z"/>
<path class="c44" d="M74.9 89.7l1.8 1.6l3.1 -1.7l-1.8 -1.7z"/>
<path class="c110" d="M135.5 62l1.8 1.7l1.3 -1.4l-1.7 -1.7z"/>
<path class="c66" d="M113.4 80.2l1.8 1.6l1.5 -1.3l-1.7 -1.6z"/>
<path class="c107" d="M134.2 63.3l1.8 1.7l1.3 -1.3l-1.8 -1.7z"/>
<path class="c104" d="M132.9 64.6l1.7 1.7l1.4 -1.3l-1.8 -1.7z"/>
<path class="c101" d="M131.6 65.9l1.7 1.7l1.3 -1.3l-1.7 -1.7z"/>
<path class="c44" d="M79.8 89.6l1.8 1.6l2.3 -1.5l-1.8 -1.6z"/>
<path class="c63" d="M111.9 81.5l1.7 1.6l1.6 -1.3l-1.8 -1.6z"/>
<path class="c52" d="M99.6 86l2.4 2l2.3 -1.6l-2.4 -2z"/>
<path class="c98" d="M130.2 67.2l1.8 1.7l1.3 -1.3l-1.7 -1.7z"/>
<path class="c94" d="M128.9 68.6l1.8 1.6l1.3 -1.3l-1.8 -1.7z"/>
<path class="c91" d="M127.6 69.9l1.7 1.6l1.4 -1.3l-1.8 -1.6z"/>
<path class="c88" d="M126.2 71.2l1.8 1.6l1.3 -1.3l-1.7 -1.6z"/>
<path class="c60" d="M110.3 82.8l1.8 1.6l1.5 -1.3l-1.7 -1.6z"/>
<path class="c85" d="M124.9 72.5l1.8 1.6l1.3 -1.3l-1.8 -1.6z"/>
<path class="c46" d="M90.3 88.6l2.4 1.9l2.3 -1.4l-2.4 -1.9z"/>
<path class="c82" d="M123.6 73.9l1.8 1.5l1.3 -1.3l-1.8 -1.6z"/>
<path class="c44" d="M83.9 89.7l1.8 1.7l2.3 -1.4l-1.8 -1.7z"/>
<path class="c79" d="M122.3 75.2l1.7 1.6l1.4 -1.4l-1.8 -1.5z"/>
<path class="c76" d="M120.9 76.6l1.8 1.5l1.3 -1.3l-1.7 -1.6z"/>
<path class="c57" d="M108.8 84.1l1.7 1.6l1.6 -1.3l-1.8 -1.6z"/>
<path class="c72" d="M119.6 77.9l1.8 1.5l1.3 -1.3l-1.8 -1.5z"/>
<path class="c69" d="M118.3 79.2l1.8 1.5l1.3 -1.3l-1.8 -1.5z"/>
<path class="c49" d="M97.3 87.5l2.4 2l2.3 -1.5l-2.4 -2z"/>
<path class="c40" d="M67 91.6l1.7 1.6l3.1 -1.8l-1.7 -1.6z"/>
<path class="c54" d="M107.2 85.4l1.8 1.6l1.5 -1.3l-1.7 -1.6z"/>
<path class="c41" d="M71.8 91.4l1.8 1.6l3.1 -1.7l-1.8 -1.6z"/>
<path class="c107" d="M137.3 63.7l1.8 1.6l1.3 -1.2l-1.8 -1.8z"/>
<path class="c41" d="M76.7 91.3l1.8 1.6l3.1 -1.7l-1.8 -1.6z"/>
<path class="c66" d="M116.7 80.5l2.4 2l1.5 -1.3l-2.3 -2z"/>
<path class="c104" d="M136 65l1.7 1.6l1.4 -1.3l-1.8 -1.6z"/>
<path class="c52" d="M104.3 86.4l2.4 2.1l2.3 -1.5l-2.4 -2.1z"/>
<path class="c101" d="M134.6 66.3l1.8 1.6l1.3 -1.3l-1.7 -1.6z"/>
<path class="c43" d="M88 90l2.3 1.9l2.4 -1.4l-2.4 -1.9z"/>
<path class="c98" d="M133.3 67.6l1.8 1.6l1.3 -1.3l-1.8 -1.6z"/>
<path class="c41" d="M81.6 91.2l1.7 1.6l2.4 -1.4l-1.8 -1.7z"/>
<path class="c95" d="M132 68.9l1.8 1.6l1.3 -1.3l-1.8 -1.6z"/>
<path class="c63" d="M115.2 81.8l2.3 2l1.6 -1.3l-2.4 -2z"/>
<path class="c92" d="M130.7 70.2l1.7 1.6l1.4 -1.3l-1.8 -1.6z"/>
<path class="c46" d="M95 89.1l2.3 2l2.4 -1.6l-2.4 -2z"/>
<path class="c89" d="M129.3 71.5l1.8 1.6l1.3 -1.3l-1.7 -1.6z"/>
<path class="c86" d="M128 72.8l1.8 1.6l1.3 -1.3l-1.8 -1.6z"/>
<path class="c60" d="M113.6 83.1l2.4 1.9l1.5 -1.2l-2.3 -2z"/>
<path class="c83" d="M126.7 74.1l1.8 1.6l1.3 -1.3l-1.8 -1.6z"/>
<path class="c80" d="M125.4 75.4l1.7 1.6l1.4 -1.3l-1.8 -1.6z"/>
<path class="c76" d="M124 76.8l1.8 1.5l1.3 -1.3l-1.7 -1.6z"/>
<path class="c49" d="M102 88l2.3 2l2.4 -1.5l-2.4 -2.1z"/>
<path class="c73" d="M122.7 78.1l1.8 1.5l1.3 -1.3l-1.8 -1.5z"/>
<path class="c58" d="M112.1 84.4l2.3 1.9l1.6 -1.3l-2.4 -1.9z"/>
<path class="c70" d="M121.4 79.4l1.7 1.5l1.4 -1.3l-1.8 -1.5z"/>
<path class="c41" d="M85.7 91.4l2.3 1.9l2.3 -1.4l-2.3 -1.9z"/>
<path class="c67" d="M120.1 80.7l1.7 1.5l1.3 -1.3l-1.7 -1.5z"/>
<path class="c38" d="M68.7 93.2l1.8 1.5l3.1 -1.7l-1.8 -1.6z"/>
<path class="c55" d="M110.5 85.7l2.4 1.9l1.5 -1.3l-2.3 -1.9z"/>
<path class="c104" d="M139.1 65.3l1.7 1.7l1.4 -1.2l-1.8 -1.7z"/>
<path class="c43" d="M92.7 90.5l2.3 2l2.3 -1.4l-2.3 -2z"/>
<path class="c38" d="M73.6 93l1.8 1.5l3.1 -1.6l-1.8 -1.6z"/>
<path class="c101" d="M137.7 66.6l1.8 1.7l1.3 -1.3l-1.7 -1.7z"/>
<path class="c38" d="M78.5 92.9l1.7 1.6l3.1 -1.7l-1.7 -1.6z"/>
<path class="c37" d="M63.9 93.3l2.3 2l3.1 -1.6l-2.3 -2.1z"/>
<path class="c98" d="M136.4 67.9l1.8 1.7l1.3 -1.3l-1.8 -1.7z"/>
<path class="c52" d="M109 87l2.4 1.8l1.5 -1.2l-2.4 -1.9z"/>
<path class="c95" d="M135.1 69.2l1.8 1.6l1.3 -1.2l-1.8 -1.7z"/>
<path class="c46" d="M99.7 89.5l2.3 2l2.3 -1.5l-2.3 -2z"/>
<path class="c92" d="M133.8 70.5l1.7 1.6l1.4 -1.3l-1.8 -1.6z"/>
<path class="c89" d="M132.4 71.8l1.8 1.6l1.3 -1.3l-1.7 -1.6z"/>
<path class="c86" d="M131.1 73.1l1.8 1.6l1.3 -1.3l-1.8 -1.6z"/>
<path class="c38" d="M83.3 92.8l2.4 1.9l2.3 -1.4l-2.3 -1.9z"/>
<path class="c83" d="M129.8 74.4l1.8 1.6l1.3 -1.3l-1.8 -1.6z"/>
<path class="c63" d="M119.1 82.5l2.4 2l1.5 -1.3l-2.4 -2z"/>
<path class="c80" d="M128.5 75.7l1.7 1.5l1.4 -1.2l-1.8 -1.6z"/>
<path class="c49" d="M106.7 88.5l2.3 1.8l2.3 -1.5l-2.3 -1.8z"/>
<path class="c77" d="M127.1 77l1.8 1.5l1.3 -1.3l-1.7 -1.5z"/>
<path class="c41" d="M90.3 91.9l2.4 1.9l2.3 -1.3l-2.3 -2z"/>
<path class="c74" d="M125.8 78.3l1.8 1.5l1.3 -1.3l-1.8 -1.5z"/>
<path class="c60" d="M117.5 83.8l2.4 1.9l1.6 -1.2l-2.4 -2z"/>
<path class="c71" d="M124.5 79.6l1.7 1.5l1.4 -1.3l-1.8 -1.5z"/>
<path class="c43" d="M97.3 91.1l2.4 1.9l2.3 -1.5l-2.3 -2z"/>
<path class="c68" d="M123.1 80.9l1.8 1.5l1.3 -1.3l-1.7 -1.5z"/>
<path class="c65" d="M121.8 82.2l1.8 1.5l1.3 -1.3l-1.8 -1.5z"/>
<path class="c101" d="M140.8 67l1.8 1.7l1.3 -1.2l-1.7 -1.7z"/>
<path class="c58" d="M116 85l2.4 2l1.5 -1.3l-2.4 -1.9z"/>
<path class="c35" d="M70.5 94.7l1.8 1.5l3.1 -1.7l-1.8 -1.5z"/>
<path class="c98" d="M139.5 68.3l1.8 1.7l1.3 -1.3l-1.8 -1.7z"/>
<path class="c36" d="M75.4 94.5l1.7 1.6l3.1 -1.6l-1.7 -1.6z"/>
<path class="c34" d="M60.8 94.9l2.3 2l3.1 -1.6l-2.3 -2z"/>
<path class="c95" d="M138.2 69.6l1.8 1.6l1.3 -1.2l-1.8 -1.7z"/>
<path class="c46" d="M104.3 90l2.4 1.8l2.3 -1.5l-2.3 -1.8z"/>
<path class="c93" d="M136.9 70.8l1.7 1.7l1.4 -1.3l-1.8 -1.6z"/>
<path class="c55" d="M114.4 86.3l2.4 1.9l1.6 -1.2l-2.4 -2z"/>
<path class="c90" d="M135.5 72.1l1.8 1.7l1.3 -1.3l-1.7 -1.7z"/>
<path class="c36" d="M80.2 94.5l2.4 1.8l3.1 -1.6l-2.4 -1.9z"/>
<path class="c38" d="M88 93.3l2.4 1.9l2.3 -1.4l-2.4 -1.9z"/>
<path class="c87" d="M134.2 73.4l1.8 1.6l1.3 -1.2l-1.8 -1.7z"/>
<path class="c84" d="M132.9 74.7l1.8 1.6l1.3 -1.3l-1.8 -1.6z"/>
<path class="c52" d="M112.9 87.6l2.4 1.9l1.5 -1.3l-2.4 -1.9z"/>
<path class="c40" d="M95 92.5l2.4 1.9l2.3 -1.4l-2.4 -1.9z"/>
<path class="c34" d="M66.2 95.3l2.4 2l3.1 -1.6l-2.4 -2z"/>
<path class="c81" d="M131.6 76l1.7 1.5l1.3 -1.2l-1.7 -1.6z"/>
<path class="c78" d="M130.2 77.2l1.8 1.6l1.3 -1.3l-1.7 -1.5z"/>
<path class="c75" d="M128.9 78.5l1.8 1.6l1.3 -1.3l-1.8 -1.6z"/>
<path class="c49" d="M111.4 88.8l2.3 1.9l1.6 -1.2l-2.4 -1.9z"/>
<path class="c43" d="M102 91.5l2.4 1.8l2.3 -1.5l-2.4 -1.8z"/>
<path class="c72" d="M127.6 79.8l1.7 1.6l1.4 -1.3l-1.8 -1.6z"/>
<path class="c69" d="M126.2 81.1l1.8 1.5l1.3 -1.2l-1.7 -1.6z"/>
<path class="c66" d="M124.9 82.4l1.8 1.5l1.3 -1.3l-1.8 -1.5z"/>
<path class="c60" d="M121.5 84.5l2.3 1.9l1.6 -1.2l-2.4 -2z"/>
<path class="c36" d="M85.7 94.7l2.3 1.9l2.4 -1.4l-2.4 -1.9z"/>
<path class="c63" d="M123.6 83.7l1.8 1.5l1.3 -1.3l-1.8 -1.5z"/>
<path class="c33" d="M72.3 96.2l1.7 1.5l3.1 -1.6l-1.7 -1.6z"/>
<path class="c32" d="M57.7 96.6l2.3 1.9l3.1 -1.6l-2.3 -2z"/>
<path class="c98" d="M142.6 68.7l2.4 2l1.3 -1.2l-2.4 -2z"/>
<path class="c47" d="M109 90.3l2.4 1.9l2.3 -1.5l-2.4 -1.9z"/>
<path class="c38" d="M92.7 93.8l2.4 1.9l2.3 -1.3l-2.4 -1.9z"/>
<path class="c96" d="M141.3 70l2.3 2l1.4 -1.3l-2.4 -2z"/>
<path class="c58" d="M119.9 85.7l2.4 2l1.5 -1.3l-2.3 -1.9z"/>
<path class="c93" d="M140 71.2l2.3 2l1.3 -1.2l-2.3 -2z"/>
<path class="c33" d="M77.1 96.1l2.4 1.8l3.1 -1.6l-2.4 -1.8z"/>
<path class="c40" d="M99.7 93l2.4 1.8l2.3 -1.5l-2.4 -1.8z"/>
<path class="c90" d="M138.6 72.5l2.4 2l1.3 -1.3l-2.3 -2z"/>
<path class="c55" d="M118.4 87l2.3 1.9l1.6 -1.2l-2.4 -2z"/>
<path class="c87" d="M137.3 73.8l2.4 1.9l1.3 -1.2l-2.4 -2z"/>
<path class="c31" d="M63.1 96.9l2.4 2l3.1 -1.6l-2.4 -2z"/>
<path class="c84" d="M136 75l2.3 1.9l1.4 -1.2l-2.4 -1.9z"/>
<path class="c81" d="M134.7 76.3l2.3 1.9l1.3 -1.3l-2.3 -1.9z"/>
<path class="c44" d="M106.7 91.8l2.4 1.9l2.3 -1.5l-2.4 -1.9z"/>
<path class="c52" d="M116.8 88.2l2.4 1.9l1.5 -1.2l-2.3 -1.9z"/>
<path class="c78" d="M133.3 77.5l2.4 1.9l1.3 -1.2l-2.4 -1.9z"/>
<path class="c36" d="M90.4 95.2l2.3 1.9l2.4 -1.4l-2.4 -1.9z"/>
<path class="c33" d="M82.6 96.3l2.4 1.9l3 -1.6l-2.3 -1.9z"/>
<path class="c75" d="M132 78.8l2.4 1.9l1.3 -1.3l-2.4 -1.9z"/>
<path class="c31" d="M68.6 97.3l2.3 2l3.1 -1.6l-2.3 -2z"/>
<path class="c50" d="M115.3 89.5l2.3 1.9l1.6 -1.3l-2.4 -1.9z"/>
<path class="c72" d="M130.7 80.1l2.3 1.9l1.4 -1.3l-2.4 -1.9z"/>
<path class="c69" d="M129.3 81.4l2.4 1.8l1.3 -1.2l-2.3 -1.9z"/>
<path class="c37" d="M96.6 94.8l2.4 1.8l3.1 -1.8l-2.4 -1.8z"/>
<path class="c66" d="M128 82.6l2.4 1.9l1.3 -1.3l-2.4 -1.8z"/>
<path class="c47" d="M113.7 90.7l2.4 1.9l1.5 -1.2l-2.3 -1.9z"/>
<path class="c63" d="M126.7 83.9l2.3 1.8l1.4 -1.2l-2.4 -1.9z"/>
<path class="c41" d="M104.4 93.3l2.3 1.9l2.4 -1.5l-2.4 -1.9z"/>
<path class="c60" d="M125.4 85.2l2.3 1.8l1.3 -1.3l-2.3 -1.8z"/>
<path class="c31" d="M74 97.7l2.4 1.8l3.1 -1.6l-2.4 -1.8z"/>
<path class="c29" d="M53 98.8l2.4 1.9l4.6 -2.2l-2.3 -1.9z"/>
<path class="c33" d="M88 96.6l2.4 1.8l2.3 -1.3l-2.3 -1.9z"/>
<path class="c57" d="M123.5 86.7l2.4 1.7l1.8 -1.4l-2.3 -1.8z"/>
<path class="c95" d="M145 70.7l2.3 2.1l1.4 -1.3l-2.4 -2z"/>
<path class="c29" d="M60 98.5l2.4 1.9l3.1 -1.5l-2.4 -2z"/>
<path class="c44" d="M111.4 92.2l2.3 1.8l2.4 -1.4l-2.4 -1.9z"/>
<path class="c93" d="M143.6 72l2.4 2l1.3 -1.2l-2.3 -2.1z"/>
<path class="c90" d="M142.3 73.2l2.4 2l1.3 -1.2l-2.4 -2z"/>
<path class="c54" d="M121.6 88.1l2.4 1.8l1.9 -1.5l-2.4 -1.7z"/>
<path class="c87" d="M141 74.5l2.4 1.9l1.3 -1.2l-2.4 -2z"/>
<path class="c31" d="M79.5 97.9l2.4 1.9l3.1 -1.6l-2.4 -1.9z"/>
<path class="c38" d="M102.1 94.8l2.3 1.8l2.3 -1.4l-2.3 -1.9z"/>
<path class="c84" d="M139.7 75.7l2.3 2l1.4 -1.3l-2.4 -1.9z"/>
<path class="c29" d="M65.5 98.9l2.3 1.9l3.1 -1.5l-2.3 -2z"/>
<path class="c34" d="M93.5 96.6l2.4 1.8l3.1 -1.8l-2.4 -1.8z"/>
<path class="c81" d="M138.3 76.9l2.4 2l1.3 -1.2l-2.3 -2z"/>
<path class="c51" d="M119.8 89.6l2.3 1.8l1.9 -1.5l-2.4 -1.8z"/>
<path class="c78" d="M137 78.2l2.4 1.9l1.3 -1.2l-2.4 -2z"/>
<path class="c41" d="M109.1 93.7l2.3 1.8l2.3 -1.5l-2.3 -1.8z"/>
<path class="c76" d="M135.7 79.4l2.3 1.9l1.4 -1.2l-2.4 -1.9z"/>
<path class="c31" d="M85 98.2l2.3 1.8l3.1 -1.6l-2.4 -1.8z"/>
<path class="c73" d="M134.4 80.7l2.3 1.9l1.3 -1.3l-2.3 -1.9z"/>
<path class="c28" d="M70.9 99.3l2.4 1.8l3.1 -1.6l-2.4 -1.8z"/>
<path class="c48" d="M117.9 91.1l2.4 1.7l1.8 -1.4l-2.3 -1.8z"/>
<path class="c70" d="M133 82l2.4 1.8l1.3 -1.2l-2.3 -1.9z"/>
<path class="c67" d="M131.7 83.2l2.4 1.9l1.3 -1.3l-2.4 -1.8z"/>
<path class="c35" d="M99 96.6l2.3 1.8l3.1 -1.8l-2.3 -1.8z"/>
<path class="c64" d="M130.4 84.5l2.3 1.8l1.4 -1.2l-2.4 -1.9z"/>
<path class="c45" d="M116.1 92.6l2.3 1.7l1.9 -1.5l-2.4 -1.7z"/>
<path class="c61" d="M129 85.7l2.4 1.8l1.3 -1.2l-2.3 -1.8z"/>
<path class="c39" d="M106.7 95.2l2.4 1.8l2.3 -1.5l-2.3 -1.8z"/>
<path class="c58" d="M127.7 87l2.4 1.8l1.3 -1.3l-2.4 -1.8z"/>
<path class="c28" d="M76.4 99.5l2.4 1.8l3.1 -1.5l-2.4 -1.9z"/>
<path class="c26" d="M55.4 100.7l2.3 1.9l4.7 -2.2l-2.4 -1.9z"/>
<path class="c31" d="M90.4 98.4l2.4 1.8l3.1 -1.8l-2.4 -1.8z"/>
<path class="c92" d="M147.3 72.8l2.4 2l1.3 -1.2l-2.3 -2.1z"/>
<path class="c26" d="M62.4 100.4l2.3 2l3.1 -1.6l-2.3 -1.9z"/>
<path class="c90" d="M146 74l2.4 2l1.3 -1.2l-2.4 -2z"/>
<path class="c55" d="M125.9 88.4l2.3 1.8l1.9 -1.4l-2.4 -1.8z"/>
<path class="c26" d="M48.4 101.1l2.3 1.8l4.7 -2.2l-2.4 -1.9z"/>
<path class="c87" d="M144.7 75.2l2.3 2l1.4 -1.2l-2.4 -2z"/>
<path class="c84" d="M143.4 76.4l2.3 2l1.3 -1.2l-2.3 -2z"/>
<path class="c52" d="M124 89.9l2.4 1.8l1.8 -1.5l-2.3 -1.8z"/>
<path class="c28" d="M81.9 99.8l2.3 1.8l3.1 -1.6l-2.3 -1.8z"/>
<path class="c81" d="M142 77.7l2.4 1.9l1.3 -1.2l-2.3 -2z"/>
<path class="c36" d="M104.4 96.6l2.4 1.8l2.3 -1.4l-2.4 -1.8z"/>
<path class="c26" d="M67.8 100.8l2.4 1.8l3.1 -1.5l-2.4 -1.8z"/>
<path class="c78" d="M140.7 78.9l2.4 1.9l1.3 -1.2l-2.4 -1.9z"/>
<path class="c32" d="M95.9 98.4l2.3 1.8l3.1 -1.8l-2.3 -1.8z"/>
<path class="c41" d="M113.7 94l3.6 2.6l2.3 -1.5l-3.5 -2.5z"/>
<path class="c76" d="M139.4 80.1l2.3 1.9l1.4 -1.2l-2.4 -1.9z"/>
<path class="c49" d="M122.1 91.4l2.4 1.7l1.9 -1.4l-2.4 -1.8z"/>
<path class="c73" d="M138 81.3l2.4 1.9l1.3 -1.2l-2.3 -1.9z"/>
<path class="c70" d="M136.7 82.6l2.4 1.9l1.3 -1.3l-2.4 -1.9z"/>
<path class="c26" d="M73.3 101.1l2.4 1.7l3.1 -1.5l-2.4 -1.8z"/>
<path class="c67" d="M135.4 83.8l2.3 1.9l1.4 -1.2l-2.4 -1.9z"/>
<path class="c46" d="M120.3 92.8l2.3 1.7l1.9 -1.4l-2.4 -1.7z"/>
<path class="c64" d="M134.1 85.1l2.3 1.8l1.3 -1.2l-2.3 -1.9z"/>
<path class="c62" d="M132.7 86.3l2.4 1.8l1.3 -1.2l-2.3 -1.8z"/>
<path class="c39" d="M111.4 95.5l3.6 2.5l2.3 -1.4l-3.6 -2.6z"/>
<path class="c33" d="M101.3 98.4l2.4 1.8l3.1 -1.8l-2.4 -1.8z"/>
<path class="c59" d="M131.4 87.5l2.4 1.9l1.3 -1.3l-2.4 -1.8z"/>
<path class="c28" d="M87.3 100l3.6 2.6l3.1 -1.5l-3.6 -2.7z"/>
<path class="c43" d="M118.4 94.3l2.4 1.7l1.8 -1.5l-2.3 -1.7z"/>
<path class="c56" d="M130.1 88.8l2.3 1.8l1.4 -1.2l-2.4 -1.9z"/>
<path class="c24" d="M57.7 102.6l2.4 1.8l4.6 -2l-2.3 -2z"/>
<path class="c89" d="M149.5 75l2.3 1.8l1.6 -1.4l-2.4 -1.8z"/>
<path class="c26" d="M78.8 101.3l2.3 1.8l3.1 -1.5l-2.3 -1.8z"/>
<path class="c29" d="M92.8 100.2l2.3 1.7l3.1 -1.7l-2.3 -1.8z"/>
<path class="c24" d="M64.7 102.4l2.4 1.7l3.1 -1.5l-2.4 -1.8z"/>
<path class="c86" d="M147.9 76.4l2.4 1.8l1.5 -1.4l-2.3 -1.8z"/>
<path class="c23" d="M50.7 102.9l2.4 1.8l4.6 -2.1l-2.3 -1.9z"/>
<path class="c53" d="M128.2 90.2l2.4 1.8l1.8 -1.4l-2.3 -1.8z"/>
<path class="c83" d="M146.4 77.8l2.3 1.8l1.6 -1.4l-2.4 -1.8z"/>
<path class="c36" d="M109.1 97l3.5 2.5l2.4 -1.5l-3.6 -2.5z"/>
<path class="c80" d="M144.8 79.2l2.4 1.8l1.5 -1.4l-2.3 -1.8z"/>
<path class="c50" d="M126.4 91.7l2.3 1.7l1.9 -1.4l-2.4 -1.8z"/>
<path class="c77" d="M143.3 80.6l2.3 1.7l1.6 -1.3l-2.4 -1.8z"/>
<path class="c24" d="M70.2 102.6l2.4 1.7l3.1 -1.5l-2.4 -1.7z"/>
<path class="c30" d="M98.2 100.2l2.4 1.7l3.1 -1.7l-2.4 -1.8z"/>
<path class="c74" d="M141.7 82l2.4 1.7l1.5 -1.4l-2.3 -1.7z"/>
<path class="c47" d="M124.5 93.1l2.4 1.7l1.8 -1.4l-2.3 -1.7z"/>
<path class="c26" d="M84.2 101.6l3.6 2.5l3.1 -1.5l-3.6 -2.6z"/>
<path class="c33" d="M106.8 98.4l3.5 2.5l2.3 -1.4l-3.5 -2.5z"/>
<path class="c24" d="M75.7 102.8l2.3 1.8l3.1 -1.5l-2.3 -1.8z"/>
<path class="c44" d="M122.6 94.5l2.4 1.8l1.9 -1.5l-2.4 -1.7z"/>
<path class="c70" d="M140.2 83.4l3.5 2.6l1.6 -1.4l-3.6 -2.6z"/>
<path class="c67" d="M138.6 84.9l3.6 2.5l1.5 -1.4l-3.5 -2.6z"/>
<path class="c41" d="M120.8 96l2.3 1.7l1.9 -1.4l-2.4 -1.8z"/>
<path class="c87" d="M151.8 76.8l2.4 1.8l1.5 -1.4l-2.3 -1.8z"/>
<path class="c63" d="M137.1 86.3l3.5 2.5l1.6 -1.4l-3.6 -2.5z"/>
<path class="c23" d="M39.1 104.1l2.3 1.8l9.3 -3l-2.3 -1.8z"/>
<path class="c38" d="M117.3 96.6l3.5 2.5l2.3 -1.4l-3.5 -2.6z"/>
<path class="c27" d="M95.1 101.9l2.4 1.8l3.1 -1.8l-2.4 -1.7z"/>
<path class="c60" d="M135.5 87.7l3.6 2.5l1.5 -1.4l-3.5 -2.5z"/>
<path class="c84" d="M150.3 78.2l2.3 1.7l1.6 -1.3l-2.4 -1.8z"/>
<path class="c22" d="M67.1 104.1l2.4 1.7l3.1 -1.5l-2.4 -1.7z"/>
<path class="c21" d="M53.1 104.7l2.4 1.8l4.6 -2.1l-2.4 -1.8z"/>
<path class="c31" d="M103.7 100.2l3.5 2.4l3.1 -1.7l-3.5 -2.5z"/>
<path class="c57" d="M134 89.1l3.5 2.5l1.6 -1.4l-3.6 -2.5z"/>
<path class="c81" d="M148.7 79.6l2.4 1.7l1.5 -1.4l-2.3 -1.7z"/>
<path class="c21" d="M60.1 104.4l3.5 2.6l4.7 -2l-3.6 -2.6z"/>
<path class="c54" d="M132.4 90.6l3.6 2.4l1.5 -1.4l-3.5 -2.5z"/>
<path class="c23" d="M81.1 103.1l3.6 2.6l3.1 -1.6l-3.6 -2.5z"/>
<path class="c78" d="M147.2 81l2.3 1.7l1.6 -1.4l-2.4 -1.7z"/>
<path class="c75" d="M145.6 82.3l2.4 1.8l1.5 -1.4l-2.3 -1.7z"/>
<path class="c22" d="M72.6 104.3l2.3 1.8l3.1 -1.5l-2.3 -1.8z"/>
<path class="c36" d="M115 98l3.5 2.5l2.3 -1.4l-3.5 -2.5z"/>
<path class="c50" d="M130.6 92l3.5 2.4l1.9 -1.4l-3.6 -2.4z"/>
<path class="c25" d="M90.9 102.6l3.5 2.6l3.1 -1.5l-3.5 -2.6z"/>
<path class="c71" d="M144.1 83.7l2.4 1.7l1.5 -1.3l-2.4 -1.8z"/>
<path class="c48" d="M128.7 93.4l3.6 2.4l1.8 -1.4l-3.5 -2.4z"/>
<path class="c28" d="M100.6 101.9l3.5 2.4l3.1 -1.7l-3.5 -2.4z"/>
<path class="c33" d="M112.6 99.5l3.6 2.5l2.3 -1.5l-3.5 -2.5z"/>
<path class="c45" d="M126.9 94.8l3.5 2.4l1.9 -1.4l-3.6 -2.4z"/>
<path class="c85" d="M154.2 78.6l2.4 1.8l1.5 -1.4l-2.4 -1.8z"/>
<path class="c21" d="M41.4 105.9l2.4 1.8l9.3 -3l-2.4 -1.8z"/>
<path class="c42" d="M125 96.3l3.5 2.3l1.9 -1.4l-3.5 -2.4z"/>
<path class="c82" d="M152.6 79.9l2.4 1.8l1.6 -1.3l-2.4 -1.8z"/>
<path class="c20" d="M69.5 105.8l2.3 1.7l3.1 -1.4l-2.3 -1.8z"/>
<path class="c23" d="M87.8 104.1l3.5 2.6l3.1 -1.5l-3.5 -2.6z"/>
<path class="c21" d="M76.5 105.3l3.5 2.6l4.7 -2.2l-3.6 -2.6z"/>
<path class="c79" d="M151.1 81.3l2.4 1.8l1.5 -1.4l-2.4 -1.8z"/>
<path class="c31" d="M110.3 100.9l3.6 2.5l2.3 -1.4l-3.6 -2.5z"/>
<path class="c39" d="M123.2 97.7l3.5 2.3l1.8 -1.4l-3.5 -2.3z"/>
<path class="c76" d="M149.5 82.7l2.4 1.7l1.6 -1.3l-2.4 -1.8z"/>
<path class="c18" d="M55.5 106.5l3.5 2.5l4.6 -2l-3.5 -2.6z"/>
<path class="c67" d="M143.7 86l3.6 2.5l1.5 -1.3l-3.5 -2.6z"/>
<path class="c25" d="M97.5 103.7l3.5 2.4l3.1 -1.8l-3.5 -2.4z"/>
<path class="c73" d="M148 84.1l2.4 1.7l1.5 -1.4l-2.4 -1.7z"/>
<path class="c64" d="M142.2 87.4l3.5 2.5l1.6 -1.4l-3.6 -2.5z"/>
<path class="c69" d="M146.5 85.4l2.3 1.8l1.6 -1.4l-2.4 -1.7z"/>
<path class="c60" d="M140.6 88.8l3.6 2.5l1.5 -1.4l-3.5 -2.5z"/>
<path class="c36" d="M120.8 99.1l3.6 2.4l2.3 -1.5l-3.6 -2.3z"/>
<path class="c57" d="M139.1 90.2l3.5 2.5l1.6 -1.4l-3.6 -2.5z"/>
<path class="c28" d="M107.2 102.6l3.6 2.5l3.1 -1.7l-3.6 -2.5z"/>
<path class="c54" d="M137.5 91.6l3.6 2.5l1.5 -1.4l-3.5 -2.5z"/>
<path class="c18" d="M63.6 107l3.6 2.5l4.6 -2l-3.5 -2.5z"/>
<path class="c20" d="M84.7 105.7l3.5 2.5l3.1 -1.5l-3.5 -2.6z"/>
<path class="c51" d="M136 93l3.5 2.5l1.6 -1.4l-3.6 -2.5z"/>
<path class="c19" d="M43.8 107.7l2.4 1.7l9.3 -2.9l-2.4 -1.8z"/>
<path class="c48" d="M134.1 94.4l3.6 2.4l1.8 -1.3l-3.5 -2.5z"/>
<path class="c33" d="M118.5 100.5l3.5 2.4l2.4 -1.4l-3.6 -2.4z"/>
<path class="c22" d="M94.4 105.2l3.5 2.4l3.1 -1.5l-3.5 -2.4z"/>
<path class="c18" d="M71.8 107.5l3.6 2.5l4.6 -2.1l-3.5 -2.6z"/>
<path class="c45" d="M132.3 95.8l3.5 2.4l1.9 -1.4l-3.6 -2.4z"/>
<path class="c25" d="M104.1 104.3l3.6 2.5l3.1 -1.7l-3.6 -2.5z"/>
<path class="c31" d="M116.2 102l3.5 2.3l2.3 -1.4l-3.5 -2.4z"/>
<path class="c42" d="M130.4 97.2l3.5 2.4l1.9 -1.4l-3.5 -2.4z"/>
<path class="c22" d="M29.8 107.1l2.4 1.8l9.2 -3l-2.3 -1.8z"/>
<path class="c39" d="M128.5 98.6l3.6 2.4l1.8 -1.4l-3.5 -2.4z"/>
<path class="c18" d="M80 107.9l3.6 2.5l4.6 -2.2l-3.5 -2.5z"/>
<path class="c20" d="M91.3 106.7l3.5 2.4l3.1 -1.5l-3.5 -2.4z"/>
<path class="c28" d="M113.9 103.4l3.5 2.3l2.3 -1.4l-3.5 -2.3z"/>
<path class="c36" d="M126.7 100l3.5 2.4l1.9 -1.4l-3.6 -2.4z"/>
<path class="c15" d="M59 109l3.5 2.5l4.7 -2l-3.6 -2.5z"/>
<path class="c22" d="M101 106.1l3.6 2.4l3.1 -1.7l-3.6 -2.5z"/>
<path class="c34" d="M124.4 101.5l3.5 2.3l2.3 -1.4l-3.5 -2.4z"/>
<path class="c16" d="M46.2 109.4l3.5 2.5l9.3 -2.9l-3.5 -2.5z"/>
<path class="c15" d="M67.2 109.5l3.5 2.5l4.7 -2l-3.6 -2.5z"/>
<path class="c26" d="M110.8 105.1l3.5 2.2l3.1 -1.6l-3.5 -2.3z"/>
<path class="c18" d="M88.2 108.2l3.5 2.4l3.1 -1.5l-3.5 -2.4z"/>
<path class="c20" d="M97.9 107.6l3.6 2.3l3.1 -1.4l-3.6 -2.4z"/>
<path class="c31" d="M122 102.9l3.6 2.3l2.3 -1.4l-3.5 -2.3z"/>
<path class="c19" d="M32.2 108.9l2.3 1.7l9.3 -2.9l-2.4 -1.8z"/>
<path class="c15" d="M75.4 110l3.5 2.5l4.7 -2.1l-3.6 -2.5z"/>
<path class="c23" d="M107.7 106.8l3.5 2.2l3.1 -1.7l-3.5 -2.2z"/>
<path class="c29" d="M119.7 104.3l3.6 2.3l2.3 -1.4l-3.6 -2.3z"/>
<path class="c66" d="M147.3 88.5l7 3l1.6 -1.4l-7.1 -2.9z"/>
<path class="c63" d="M145.7 89.9l7.1 3l1.5 -1.4l-7 -3z"/>
<path class="c59" d="M144.2 91.3l7 3l1.6 -1.4l-7.1 -3z"/>
<path class="c15" d="M83.6 110.4l3.5 2.3l4.6 -2.1l-3.5 -2.4z"/>
<path class="c18" d="M94.8 109.1l3.6 2.3l3.1 -1.5l-3.6 -2.3z"/>
<path class="c56" d="M142.6 92.7l7.1 3l1.5 -1.4l-7 -3z"/>
<path class="c26" d="M117.4 105.7l3.5 2.3l2.4 -1.4l-3.6 -2.3z"/>
<path class="c13" d="M62.5 111.5l3.6 2.4l4.6 -1.9l-3.5 -2.5z"/>
<path class="c53" d="M141.1 94.1l7 3l1.6 -1.4l-7.1 -3z"/>
<path class="c50" d="M139.5 95.5l7.1 3l1.5 -1.4l-7 -3z"/>
<path class="c20" d="M104.6 108.5l3.5 2.2l3.1 -1.7l-3.5 -2.2z"/>
<path class="c17" d="M34.5 110.6l2.4 1.8l9.3 -3l-2.4 -1.7z"/>
<path class="c47" d="M137.7 96.8l7 3.2l1.9 -1.5l-7.1 -3z"/>
<path class="c13" d="M49.7 111.9l3.5 2.5l9.3 -2.9l-3.5 -2.5z"/>
<path class="c12" d="M70.7 112l3.6 2.4l4.6 -1.9l-3.5 -2.5z"/>
<path class="c44" d="M135.8 98.2l7.1 3.2l1.8 -1.4l-7 -3.2z"/>
<path class="c23" d="M114.3 107.3l3.5 2.3l3.1 -1.6l-3.5 -2.3z"/>
<path class="c15" d="M91.7 110.6l3.6 2.3l3.1 -1.5l-3.6 -2.3z"/>
<path class="c41" d="M133.9 99.6l7.1 3.2l1.9 -1.4l-7.1 -3.2z"/>
<path class="c12" d="M78.9 112.5l3.5 2.3l4.7 -2.1l-3.5 -2.3z"/>
<path class="c38" d="M132.1 101l7.1 3.2l1.8 -1.4l-7.1 -3.2z"/>
<path class="c17" d="M99.9 110.7l3.6 2.2l4.6 -2.2l-3.5 -2.2z"/>
<path class="c21" d="M111.2 109l3.5 2.3l3.1 -1.7l-3.5 -2.3z"/>
<path class="c35" d="M130.2 102.4l7.1 3.2l1.9 -1.4l-7.1 -3.2z"/>
<path class="c13" d="M87.1 112.7l3.5 2.3l4.7 -2.1l-3.6 -2.3z"/>
<path class="c33" d="M127.9 103.8l7.1 3.2l2.3 -1.4l-7.1 -3.2z"/>
<path class="c15" d="M36.9 112.4l3.5 2.4l9.3 -2.9l-3.5 -2.5z"/>
<path class="c10" d="M66.1 113.9l3.5 2.5l4.7 -2l-3.6 -2.4z"/>
<path class="c18" d="M108.1 110.7l3.5 2.3l3.1 -1.7l-3.5 -2.3z"/>
<path class="c30" d="M125.6 105.2l7.1 3.2l2.3 -1.4l-7.1 -3.2z"/>
<path class="c11" d="M53.2 114.4l3.6 2.4l9.3 -2.9l-3.6 -2.4z"/>
<path class="c14" d="M95.3 112.9l3.5 2.2l4.7 -2.2l-3.6 -2.2z"/>
<path class="c10" d="M74.3 114.4l3.5 2.3l4.6 -1.9l-3.5 -2.3z"/>
<path class="c27" d="M123.3 106.6l7 3.3l2.4 -1.5l-7.1 -3.2z"/>
<path class="c10" d="M82.4 114.8l3.6 2.3l4.6 -2.1l-3.5 -2.3z"/>
<path class="c15" d="M103.5 112.9l3.5 2.3l4.6 -2.2l-3.5 -2.3z"/>
<path class="c25" d="M120.9 108l7.1 3.3l2.3 -1.4l-7 -3.3z"/>
<path class="c48" d="M144.7 100l1.8 0l1.9 -1.4l-1.8 -0.1z"/>
<path class="c45" d="M142.9 101.4l1.8 0.1l1.8 -1.5l-1.8 0z"/>
<path class="c12" d="M40.4 114.8l3.6 2.4l9.2 -2.8l-3.5 -2.5z"/>
<path class="c11" d="M90.6 115l3.6 2.2l4.6 -2.1l-3.5 -2.2z"/>
<path class="c8" d="M69.6 116.4l3.6 2.2l4.6 -1.9l-3.5 -2.3z"/>
<path class="c22" d="M117.8 109.6l7.1 3.4l3.1 -1.7l-7.1 -3.3z"/>
<path class="c42" d="M141 102.8l1.8 0.1l1.9 -1.4l-1.8 -0.1z"/>
<path class="c39" d="M139.2 104.2l1.7 0.1l1.9 -1.4l-1.8 -0.1z"/>
<path class="c8" d="M56.8 116.8l3.5 2.4l9.3 -2.8l-3.5 -2.5z"/>
<path class="c37" d="M137.3 105.6l1.8 0.1l1.8 -1.4l-1.7 -0.1z"/>
<path class="c12" d="M98.8 115.1l3.6 2.2l4.6 -2.1l-3.5 -2.3z"/>
<path class="c8" d="M77.8 116.7l3.5 2.3l4.7 -1.9l-3.6 -2.3z"/>
<path class="c20" d="M114.7 111.3l7.1 3.4l3.1 -1.7l-7.1 -3.4z"/>
<path class="c51" d="M146.5 100l1.8 0.1l1.8 -1.5l-1.7 0z"/>
<path class="c34" d="M135 107l2.3 0.2l2.4 -1.4l-2.4 -0.2z"/>
<path class="c8" d="M86 117.1l3.5 2.2l4.7 -2.1l-3.6 -2.2z"/>
<path class="c48" d="M144.7 101.5l1.7 0l1.9 -1.4l-1.8 -0.1z"/>
<path class="c45" d="M142.8 102.9l1.8 0.1l1.8 -1.5l-1.7 0z"/>
<path class="c17" d="M111.6 113l7.1 3.4l3.1 -1.7l-7.1 -3.4z"/>
<path class="c31" d="M132.7 108.4l2.3 0.3l2.3 -1.5l-2.3 -0.2z"/>
<path class="c10" d="M44 117.2l3.5 2.4l9.3 -2.8l-3.6 -2.4z"/>
<path class="c42" d="M140.9 104.3l1.8 0.1l1.9 -1.4l-1.8 -0.1z"/>
<path class="c9" d="M94.2 117.2l3.5 2.2l4.7 -2.1l-3.6 -2.2z"/>
<path class="c6" d="M73.2 118.6l3.5 2.2l4.6 -1.8l-3.5 -2.3z"/>
<path class="c39" d="M139.1 105.7l1.7 0.2l1.9 -1.5l-1.8 -0.1z"/>
<path class="c29" d="M130.3 109.9l2.4 0.2l2.3 -1.4l-2.3 -0.3z"/>
<path class="c6" d="M60.3 119.2l3.6 2.2l9.3 -2.8l-3.6 -2.2z"/>
<path class="c53" d="M148.3 100.1l1.8 0.1l1.8 -1.5l-1.8 -0.1z"/>
<path class="c14" d="M107 115.2l7.1 3.4l4.6 -2.2l-7.1 -3.4z"/>
<path class="c6" d="M81.3 119l3.6 2.1l4.6 -1.8l-3.5 -2.2z"/>
<path class="c26" d="M128 111.3l2.4 0.3l2.3 -1.5l-2.4 -0.2z"/>
<path class="c50" d="M146.4 101.5l1.8 0.1l1.9 -1.4l-1.8 -0.1z"/>
<path class="c47" d="M144.6 103l1.7 0.1l1.9 -1.5l-1.8 -0.1z"/>
<path class="c37" d="M137.3 107.2l2.4 0.3l2.3 -1.5l-2.3 -0.2z"/>
<path class="c6" d="M89.5 119.3l3.6 2.1l4.6 -2l-3.5 -2.2z"/>
<path class="c23" d="M124.9 113l2.4 0.3l3.1 -1.7l-2.4 -0.3z"/>
<path class="c44" d="M142.7 104.4l1.8 0.2l1.8 -1.5l-1.7 -0.1z"/>
<path class="c41" d="M140.8 105.9l1.8 0.2l1.9 -1.5l-1.8 -0.2z"/>
<path class="c34" d="M135 108.7l2.4 0.2l2.3 -1.4l-2.4 -0.3z"/>
<path class="c7" d="M47.5 119.6l3.5 2.3l9.3 -2.7l-3.5 -2.4z"/>
<path class="c11" d="M102.4 117.3l7 3.5l4.7 -2.2l-7.1 -3.4z"/>
<path class="c21" d="M121.8 114.7l2.4 0.3l3.1 -1.7l-2.4 -0.3z"/>
<path class="c4" d="M76.7 120.8l3.5 2.2l4.7 -1.9l-3.6 -2.1z"/>
<path class="c56" d="M150.1 100.2l1.7 0l1.9 -1.5l-1.8 0z"/>
<path class="c32" d="M132.7 110.1l2.4 0.3l2.3 -1.5l-2.4 -0.2z"/>
<path class="c53" d="M148.2 101.6l1.8 0.1l1.8 -1.5l-1.7 0z"/>
<path class="c4" d="M63.9 121.4l3.5 2.2l9.3 -2.8l-3.5 -2.2z"/>
<path class="c50" d="M146.3 103.1l1.8 0.1l1.9 -1.5l-1.8 -0.1z"/>
<path class="c29" d="M130.4 111.6l2.3 0.3l2.4 -1.5l-2.4 -0.3z"/>
<path class="c4" d="M84.9 121.1l3.5 2.2l4.7 -1.9l-3.6 -2.1z"/>
<path class="c18" d="M118.7 116.4l2.4 0.4l3.1 -1.8l-2.4 -0.3z"/>
<path class="c46" d="M144.5 104.6l1.7 0.1l1.9 -1.5l-1.8 -0.1z"/>
<path class="c43" d="M142.6 106.1l1.8 0.1l1.8 -1.5l-1.7 -0.1z"/>
<path class="c40" d="M139.7 107.5l2.4 0.2l2.3 -1.5l-2.4 -0.2z"/>
<path class="c8" d="M97.7 119.4l7.1 3.5l4.6 -2.1l-7 -3.5z"/>
<path class="c26" d="M127.3 113.3l2.3 0.3l3.1 -1.7l-2.3 -0.3z"/>
<path class="c15" d="M115.6 117.9l2.4 0.4l3.1 -1.5l-2.4 -0.4z"/>
<path class="c37" d="M137.4 108.9l2.3 0.3l2.4 -1.5l-2.4 -0.2z"/>
<path class="c5" d="M51 121.9l3.6 2.2l9.3 -2.7l-3.6 -2.2z"/>
<path class="c23" d="M124.2 115l2.3 0.4l3.1 -1.8l-2.3 -0.3z"/>
<path class="c34" d="M135.1 110.4l2.3 0.3l2.3 -1.5l-2.3 -0.3z"/>
<path class="c2" d="M80.2 123l3.6 2.1l4.6 -1.8l-3.5 -2.2z"/>
<path class="c13" d="M112.5 119.3l2.4 0.5l3.1 -1.5l-2.4 -0.4z"/>
<path class="c3" d="M67.4 123.6l3.5 2.1l9.3 -2.7l-3.5 -2.2z"/>
<path class="c31" d="M132.7 111.9l2.4 0.3l2.3 -1.5l-2.3 -0.3z"/>
<path class="c5" d="M93.1 121.4l7 3.6l4.7 -2.1l-7.1 -3.5z"/>
<path class="c20" d="M121.1 116.8l2.3 0.4l3.1 -1.8l-2.3 -0.4z"/>
<path class="c43" d="M142.5 107.4l1.4 -0.3l1.9 -1.2l-1.4 0.3z"/>
<path class="c41" d="M140.7 108.6l1.4 -0.2l1.8 -1.3l-1.4 0.3z"/>
<path class="c28" d="M129.6 113.6l2.4 0.4l3.1 -1.8l-2.4 -0.3z"/>
<path class="c11" d="M109.4 120.8l2.4 0.5l3.1 -1.5l-2.4 -0.5z"/>
<path class="c17" d="M118 118.3l2.4 0.4l3 -1.5l-2.3 -0.4z"/>
<path class="c38" d="M138.8 109.8l1.4 -0.2l1.9 -1.2l-1.4 0.2z"/>
<path class="c36" d="M137 111l1.4 -0.2l1.8 -1.2l-1.4 0.2z"/>
<path class="c25" d="M126.5 115.4l2.4 0.4l3.1 -1.8l-2.4 -0.4z"/>
<path class="c4" d="M54.6 124.1l3.5 2.2l9.3 -2.7l-3.5 -2.2z"/>
<path class="c3" d="M88.4 123.3l7.1 3.5l4.6 -1.8l-7 -3.6z"/>
<path class="c46" d="M143.9 107.1l1.5 -0.2l1.8 -1.3l-1.4 0.3z"/>
<path class="c34" d="M135.1 112.2l1.4 -0.2l1.9 -1.2l-1.4 0.2z"/>
<path class="c15" d="M114.9 119.8l2.4 0.5l3.1 -1.6l-2.4 -0.4z"/>
<path class="c44" d="M142.1 108.4l1.4 -0.3l1.9 -1.2l-1.5 0.2z"/>
<path class="c22" d="M123.4 117.2l2.4 0.4l3.1 -1.8l-2.4 -0.4z"/>
<path class="c1" d="M70.9 125.7l3.6 2.1l9.3 -2.7l-3.6 -2.1z"/>
<path class="c31" d="M132.8 113.5l1.4 -0.1l2.3 -1.4l-1.4 0.2z"/>
<path class="c41" d="M140.2 109.6l1.4 -0.2l1.9 -1.3l-1.4 0.3z"/>
<path class="c9" d="M104.8 122.9l3.5 0.8l4.7 -2.1l-3.6 -0.8z"/>
<path class="c13" d="M111.8 121.3l2.4 0.5l3.1 -1.5l-2.4 -0.5z"/>
<path class="c29" d="M130.5 114.9l1.4 -0.1l2.3 -1.4l-1.4 0.1z"/>
<path class="c39" d="M138.4 110.8l1.4 -0.2l1.8 -1.2l-1.4 0.2z"/>
<path class="c20" d="M120.4 118.7l2.3 0.5l3.1 -1.6l-2.4 -0.4z"/>
<path class="c1" d="M83.8 125.1l7.1 3.6l4.6 -1.9l-7.1 -3.5z"/>
<path class="c49" d="M145.4 106.9l1.4 -0.3l1.8 -1.3l-1.4 0.3z"/>
<path class="c36" d="M136.5 112l1.4 -0.1l1.9 -1.3l-1.4 0.2z"/>
<path class="c27" d="M128.1 116.2l1.4 0l2.4 -1.4l-1.4 0.1z"/>
<path class="c47" d="M143.5 108.1l1.4 -0.2l1.9 -1.3l-1.4 0.3z"/>
<path class="c34" d="M134.2 113.4l1.4 -0.1l2.3 -1.4l-1.4 0.1z"/>
<path class="c17" d="M117.3 120.3l2.3 0.4l3.1 -1.5l-2.3 -0.5z"/>
<path class="c44" d="M141.6 109.4l1.5 -0.3l1.8 -1.2l-1.4 0.2z"/>
<path class="c6" d="M100.1 125l3.6 0.8l4.6 -2.1l-3.5 -0.8z"/>
<path class="c24" d="M125.8 117.6l1.4 -0.1l2.3 -1.3l-1.4 0z"/>
<path class="c32" d="M131.9 114.8l1.4 -0.1l2.3 -1.4l-1.4 0.1z"/>
<path class="c42" d="M139.8 110.6l1.4 -0.2l1.9 -1.3l-1.5 0.3z"/>
<path class="c39" d="M137.9 111.9l1.4 -0.2l1.9 -1.3l-1.4 0.2z"/>
<path class="c52" d="M146.8 106.6l1.4 -0.3l1.9 -1.3l-1.5 0.3z"/>
<path class="c15" d="M114.2 121.8l2.3 0.5l3.1 -1.6l-2.3 -0.4z"/>
<path class="c29" d="M129.5 116.2l1.5 -0.1l2.3 -1.4l-1.4 0.1z"/>
<path class="c1" d="M58.1 126.3l7.1 4.1l9.3 -2.6l-7.1 -4.2z"/>
<path class="c22" d="M122.7 119.2l1.8 0l3.1 -1.7l-1.8 0.1z"/>
<path class="c50" d="M144.9 107.9l1.4 -0.3l1.9 -1.3l-1.4 0.3z"/>
<path class="c37" d="M135.6 113.3l1.4 -0.1l2.3 -1.5l-1.4 0.2z"/>
<path class="c27" d="M127.2 117.5l1.4 0l2.4 -1.4l-1.5 0.1z"/>
<path class="c47" d="M143.1 109.1l1.4 -0.2l1.8 -1.3l-1.4 0.3z"/>
<path class="c12" d="M108.3 123.7l3.6 0.8l4.6 -2.2l-3.5 -0.7z"/>
<path class="c4" d="M95.5 126.8l3.5 0.9l4.7 -1.9l-3.6 -0.8z"/>
<path class="c34" d="M133.3 114.7l1.4 -0.1l2.3 -1.4l-1.4 0.1z"/>
<path class="c20" d="M119.6 120.7l1.8 0.1l3.1 -1.6l-1.8 0z"/>
<path class="c44" d="M141.2 110.4l1.4 -0.2l1.9 -1.3l-1.4 0.2z"/>
<path class="c0" d="M74.5 127.8l7.1 3.5l9.3 -2.6l-7.1 -3.6z"/>
<path class="c42" d="M139.3 111.7l1.5 -0.1l1.8 -1.4l-1.4 0.2z"/>
<path class="c31" d="M131 116.1l1.4 -0.1l2.3 -1.4l-1.4 0.1z"/>
<path class="c55" d="M148.2 106.3l1.4 -0.3l1.9 -1.3l-1.4 0.3z"/>
<path class="c39" d="M137 113.2l1.4 -0.2l2.4 -1.4l-1.5 0.1z"/>
<path class="c53" d="M146.3 107.6l1.5 -0.2l1.8 -1.4l-1.4 0.3z"/>
<path class="c25" d="M124.5 119.2l1.8 0l3.1 -1.7l-1.8 0z"/>
<path class="c17" d="M116.5 122.3l1.8 0.1l3.1 -1.6l-1.8 -0.1z"/>
<path class="c29" d="M128.6 117.5l1.5 0l2.3 -1.5l-1.4 0.1z"/>
<path class="c50" d="M144.5 108.9l1.4 -0.2l1.9 -1.3l-1.5 0.2z"/>
<path class="c9" d="M103.7 125.8l3.5 0.9l4.7 -2.2l-3.6 -0.8z"/>
<path class="c36" d="M134.7 114.6l1.4 -0.1l2.3 -1.5l-1.4 0.2z"/>
<path class="c2" d="M90.9 128.7l3.5 0.9l4.6 -1.9l-3.5 -0.9z"/>
<path class="c47" d="M142.6 110.2l1.4 -0.1l1.9 -1.4l-1.4 0.2z"/>
<path class="c22" d="M121.4 120.8l1.8 0l3.1 -1.6l-1.8 0z"/>
<path class="c45" d="M140.8 111.6l1.4 -0.2l1.8 -1.3l-1.4 0.1z"/>
<path class="c34" d="M132.4 116l1.4 0l2.3 -1.5l-1.4 0.1z"/>
<path class="c15" d="M113.4 123.8l2.4 0.1l3.1 -1.5l-2.4 -0.1z"/>
<path class="c42" d="M138.4 113l1.5 -0.1l2.3 -1.5l-1.4 0.2z"/>
<path class="c31" d="M130.1 117.5l1.4 -0.1l2.3 -1.4l-1.4 0z"/>
<path class="c28" d="M126.3 119.2l1.7 0l3.1 -1.7l-1.7 0z"/>
<path class="c20" d="M118.3 122.4l1.8 0.1l3.1 -1.7l-1.8 0z"/>
<path class="c6" d="M99 127.7l3.6 0.9l4.6 -1.9l-3.5 -0.9z"/>
<path class="c39" d="M136.1 114.5l1.4 -0.1l2.4 -1.5l-1.5 0.1z"/>
<path class="c13" d="M110.3 125.2l2.4 0.2l3.1 -1.5l-2.4 -0.1z"/>
<path class="c36" d="M133.8 116l1.4 -0.1l2.3 -1.5l-1.4 0.1z"/>
<path class="c25" d="M123.2 120.8l1.7 0.1l3.1 -1.7l-1.7 0z"/>
<path class="c33" d="M131.5 117.4l1.4 0l2.3 -1.5l-1.4 0.1z"/>
<path class="c44" d="M139.9 112.9l1.7 0l2.4 -1.5l-1.8 0z"/>
<path class="c0" d="M65.2 130.4l7.1 3.5l9.3 -2.6l-7.1 -3.5z"/>
<path class="c11" d="M107.2 126.7l2.4 0.3l3.1 -1.6l-2.4 -0.2z"/>
<path class="c1" d="M81.6 131.3l3.5 0.9l9.3 -2.6l-3.5 -0.9z"/>
<path class="c22" d="M120.1 122.5l1.7 0.1l3.1 -1.7l-1.7 -0.1z"/>
<path class="c30" d="M128 119.2l1.8 0l3.1 -1.8l-1.8 0.1z"/>
<path class="c18" d="M115.8 123.9l2.3 0.2l3.1 -1.5l-2.3 -0.2z"/>
<path class="c4" d="M94.4 129.6l3.5 0.8l4.7 -1.8l-3.6 -0.9z"/>
<path class="c42" d="M137.5 114.4l1.8 0l2.3 -1.5l-1.7 0z"/>
<path class="c39" d="M135.2 115.9l1.8 0l2.3 -1.5l-1.8 0z"/>
<path class="c27" d="M124.9 120.9l1.8 0l3.1 -1.7l-1.8 0z"/>
<path class="c16" d="M112.7 125.4l2.3 0.3l3.1 -1.6l-2.3 -0.2z"/>
<path class="c9" d="M102.6 128.6l2.3 0.3l4.7 -1.9l-2.4 -0.3z"/>
<path class="c36" d="M132.9 117.4l1.8 0l2.3 -1.5l-1.8 0z"/>
<path class="c47" d="M141.6 112.9l1.8 0l2.3 -1.5l-1.7 0z"/>
<path class="c33" d="M130.6 118.7l1.7 0.1l2.4 -1.4l-1.8 0z"/>
<path class="c24" d="M121.8 122.6l1.8 0.1l3.1 -1.8l-1.8 0z"/>
<path class="c44" d="M139.3 114.4l1.8 0l2.3 -1.5l-1.8 0z"/>
<path class="c14" d="M109.6 127l2.4 0.3l3 -1.6l-2.3 -0.3z"/>
<path class="c21" d="M118.1 124.1l2.4 0.2l3.1 -1.6l-2.4 -0.1z"/>
<path class="c31" d="M128.2 120.1l1.8 0l2.3 -1.3l-1.7 -0.1z"/>
<path class="c41" d="M137 115.9l1.8 0l2.3 -1.5l-1.8 0z"/>
<path class="c7" d="M97.9 130.4l2.4 0.4l4.6 -1.9l-2.3 -0.3z"/>
<path class="c3" d="M85.1 132.2l3.5 0.9l9.3 -2.7l-3.5 -0.8z"/>
<path class="c39" d="M134.7 117.4l1.7 0l2.4 -1.5l-1.8 0z"/>
<path class="c29" d="M125.9 121.4l1.8 0l2.3 -1.3l-1.8 0z"/>
<path class="c50" d="M143.4 112.9l1.8 0l2.3 -1.5l-1.8 0z"/>
<path class="c11" d="M104.9 128.9l2.4 0.3l4.7 -1.9l-2.4 -0.3z"/>
<path class="c19" d="M115 125.7l2.4 0.2l3.1 -1.6l-2.4 -0.2z"/>
<path class="c36" d="M132.3 118.8l1.8 0l2.3 -1.4l-1.7 0z"/>
<path class="c26" d="M123.6 122.7l1.8 0.1l2.3 -1.4l-1.8 0z"/>
<path class="c47" d="M141.1 114.4l1.7 0l2.4 -1.5l-1.8 0z"/>
<path class="c0" d="M72.3 133.9l3.5 0.8l9.3 -2.5l-3.5 -0.9z"/>
<path class="c34" d="M130 120.1l1.8 0l2.3 -1.3l-1.8 0z"/>
<path class="c44" d="M138.8 115.9l1.7 0l2.3 -1.5l-1.7 0z"/>
<path class="c16" d="M112 127.3l2.3 0.2l3.1 -1.6l-2.4 -0.2z"/>
<path class="c24" d="M120.5 124.3l2.4 0.1l3.1 -1.6l-2.4 -0.1z"/>
<path class="c41" d="M136.4 117.4l1.8 0l2.3 -1.5l-1.7 0z"/>
<path class="c31" d="M127.7 121.4l1.8 0.1l2.3 -1.4l-1.8 0z"/>
<path class="c9" d="M100.3 130.8l2.4 0.4l4.6 -2l-2.4 -0.3z"/>
<path class="c53" d="M145.2 112.9l1.7 0l2.4 -1.6l-1.8 0.1z"/>
<path class="c39" d="M134.1 118.8l1.8 0l2.3 -1.4l-1.8 0z"/>
<path class="c29" d="M125.4 122.8l1.7 0l2.4 -1.3l-1.8 -0.1z"/>
<path class="c50" d="M142.8 114.4l1.8 0l2.3 -1.5l-1.7 0z"/>
<path class="c14" d="M107.3 129.2l2.4 0.4l4.6 -2.1l-2.3 -0.2z"/>
<path class="c5" d="M88.6 133.1l2.4 0.3l9.3 -2.6l-2.4 -0.4z"/>
<path class="c22" d="M117.4 125.9l2.4 0.2l3.1 -1.7l-2.4 -0.1z"/>
<path class="c36" d="M131.8 120.1l1.8 0.1l2.3 -1.4l-1.8 0z"/>
<path class="c47" d="M140.5 115.9l1.8 0l2.3 -1.5l-1.8 0z"/>
<path class="c19" d="M114.3 127.5l2.4 0.2l3.1 -1.6l-2.4 -0.2z"/>
<path class="c34" d="M129.5 121.5l1.7 0l2.4 -1.3l-1.8 -0.1z"/>
<path class="c44" d="M138.2 117.4l1.8 0l2.3 -1.5l-1.8 0z"/>
<path class="c3" d="M75.8 134.7l3.6 0.9l9.2 -2.5l-3.5 -0.9z"/>
<path class="c28" d="M122.9 124.4l2.3 0.2l3.1 -1.7l-2.3 -0.1z"/>
<path class="c41" d="M135.9 118.8l1.7 0l2.4 -1.4l-1.8 0z"/>
<path class="c11" d="M102.7 131.2l2.3 0.4l4.7 -2l-2.4 -0.4z"/>
<path class="c31" d="M127.1 122.8l1.8 0.1l2.3 -1.4l-1.7 0z"/>
<path class="c39" d="M133.6 120.2l1.7 0l2.3 -1.4l-1.7 0z"/>
<path class="c8" d="M91 133.4l2.4 0.4l9.3 -2.6l-2.4 -0.4z"/>
<path class="c17" d="M109.7 129.6l2.3 0.1l4.7 -2l-2.4 -0.2z"/>
<path class="c25" d="M119.8 126.1l2.3 0.1l3.1 -1.6l-2.3 -0.2z"/>
<path class="c36" d="M131.2 121.5l1.8 0.1l2.3 -1.4l-1.7 0z"/>
<path class="c22" d="M116.7 127.7l2.3 0.2l3.1 -1.7l-2.3 -0.1z"/>
<path class="c44" d="M137.6 118.8l1.8 0.1l2.3 -1.4l-1.7 -0.1z"/>
<path class="c34" d="M128.9 122.9l1.8 0.1l2.3 -1.4l-1.8 -0.1z"/>
<path class="c31" d="M125.2 124.6l2.4 0.1l3.1 -1.7l-2.4 -0.1z"/>
<path class="c14" d="M105 131.6l2.4 0.1l4.6 -2l-2.3 -0.1z"/>
<path class="c41" d="M135.3 120.2l1.8 0.1l2.3 -1.4l-1.8 -0.1z"/>
<path class="c5" d="M79.4 135.6l2.3 0.4l9.3 -2.6l-2.4 -0.3z"/>
<path class="c10" d="M93.4 133.8l2.3 0.4l9.3 -2.6l-2.3 -0.4z"/>
<path class="c39" d="M133 121.6l1.8 0l2.3 -1.3l-1.8 -0.1z"/>
<path class="c20" d="M112 129.7l2.4 0.2l4.6 -2l-2.3 -0.2z"/>
<path class="c28" d="M122.1 126.2l2.4 0.2l3.1 -1.7l-2.4 -0.1z"/>
<path class="c46" d="M139.4 118.9l1.8 0l2.3 -1.4l-1.8 0z"/>
<path class="c36" d="M130.7 123l1.8 0l2.3 -1.4l-1.8 0z"/>
<path class="c25" d="M119 127.9l2.4 0.1l3.1 -1.6l-2.4 -0.2z"/>
<path class="c44" d="M137.1 120.3l1.8 0l2.3 -1.4l-1.8 0z"/>
<path class="c34" d="M127.6 124.7l1.8 0l3 -1.7l-1.7 0z"/>
<path class="c17" d="M107.4 131.7l2.3 0.2l4.7 -2l-2.4 -0.2z"/>
<path class="c8" d="M81.7 136l2.4 0.4l9.3 -2.6l-2.4 -0.4z"/>
<path class="c41" d="M134.8 121.6l1.7 0.1l2.4 -1.4l-1.8 0z"/>
<path class="c13" d="M95.7 134.2l2.4 0.2l9.3 -2.7l-2.4 -0.1z"/>
<path class="c31" d="M124.5 126.4l1.8 0l3.1 -1.7l-1.8 0z"/>
<path class="c23" d="M114.4 129.9l2.3 0.1l4.7 -2l-2.4 -0.1z"/>
<path class="c49" d="M141.2 118.9l1.8 0.1l2.3 -1.4l-1.8 -0.1z"/>
<path class="c39" d="M132.5 123l1.7 0.1l2.3 -1.4l-1.7 -0.1z"/>
<path class="c46" d="M138.9 120.3l1.7 0.1l2.4 -1.4l-1.8 -0.1z"/>
<path class="c28" d="M121.4 128l1.8 0.1l3.1 -1.7l-1.8 0z"/>
<path class="c36" d="M129.4 124.7l1.7 0.1l3.1 -1.7l-1.8 -0.1z"/>
<path class="c44" d="M136.5 121.7l1.8 0l2.3 -1.3l-1.7 -0.1z"/>
<path class="c10" d="M84.1 136.4l2.3 0.3l9.3 -2.5l-2.3 -0.4z"/>
<path class="c20" d="M109.7 131.9l2.4 0.1l4.6 -2l-2.3 -0.1z"/>
<path class="c33" d="M126.3 126.4l1.7 0.1l3.1 -1.7l-1.7 -0.1z"/>
<path class="c51" d="M143 119l1.7 0l2.3 -1.3l-1.7 -0.1z"/>
<path class="c41" d="M134.2 123.1l1.8 0l2.3 -1.4l-1.8 0z"/>
<path class="c26" d="M116.7 130l1.8 0l4.7 -1.9l-1.8 -0.1z"/>
<path class="c16" d="M98.1 134.4l2.3 0.1l9.3 -2.6l-2.3 -0.2z"/>
<path class="c49" d="M140.6 120.4l1.8 0l2.3 -1.4l-1.7 0z"/>
<path class="c30" d="M123.2 128.1l1.7 0.1l3.1 -1.7l-1.7 -0.1z"/>
<path class="c39" d="M131.1 124.8l1.8 0l3.1 -1.7l-1.8 0z"/>
<path class="c46" d="M138.3 121.7l1.8 0.1l2.3 -1.4l-1.8 0z"/>
<path class="c36" d="M128 126.5l1.8 0.1l3.1 -1.8l-1.8 0z"/>
<path class="c44" d="M136 123.1l1.8 0.1l2.3 -1.4l-1.8 -0.1z"/>
<path class="c23" d="M112.1 132l1.8 -0.1l4.6 -1.9l-1.8 0z"/>
<path class="c28" d="M118.5 130l1.8 0l4.6 -1.8l-1.7 -0.1z"/>
<path class="c13" d="M86.4 136.7l2.4 0.1l9.3 -2.4l-2.4 -0.2z"/>
<path class="c33" d="M124.9 128.2l1.8 0.1l3.1 -1.7l-1.8 -0.1z"/>
<path class="c41" d="M132.9 124.8l1.8 0.1l3.1 -1.7l-1.8 -0.1z"/>
<path class="c19" d="M100.4 134.5l2.4 0.1l9.3 -2.6l-2.4 -0.1z"/>
<path class="c38" d="M129.8 126.6l1.8 0l3.1 -1.7l-1.8 -0.1z"/>
<path class="c26" d="M113.9 131.9l1.7 0l4.7 -1.9l-1.8 0z"/>
<path class="c31" d="M120.3 130l1.8 0l4.6 -1.7l-1.8 -0.1z"/>
<path class="c35" d="M126.7 128.3l1.8 0l3.1 -1.7l-1.8 0z"/>
<path class="c16" d="M88.8 136.8l2.4 0.1l9.2 -2.4l-2.3 -0.1z"/>
<path class="c22" d="M102.8 134.6l1.8 0l9.3 -2.7l-1.8 0.1z"/>
<path class="c29" d="M115.6 131.9l1.8 -0.1l4.7 -1.8l-1.8 0z"/>
<path class="c33" d="M122.1 130l1.7 0l4.7 -1.7l-1.8 0z"/>
<path class="c25" d="M104.6 134.6l1.7 0l9.3 -2.7l-1.7 0z"/>
<path class="c19" d="M91.2 136.9l2.3 0.1l9.3 -2.4l-2.4 -0.1z"/>
<path class="c32" d="M117.4 131.8l1.8 -0.1l4.6 -1.7l-1.7 0z"/>
<path class="c28" d="M106.3 134.6l1.8 0l9.3 -2.8l-1.8 0.1z"/>
<path class="c22" d="M93.5 137l1.8 -0.1l9.3 -2.3l-1.8 0z"/>
<path class="c30" d="M108.1 134.6l1.8 0l9.3 -2.9l-1.8 0.1z"/>
<path class="c25" d="M95.3 136.9l1.8 0l9.2 -2.3l-1.7 0z"/>
<path class="c28" d="M97.1 136.9l1.7 -0.1l9.3 -2.2l-1.8 0z"/>
<path class="c30" d="M98.8 136.8l1.8 -0.1l9.3 -2.1l-1.8 0z"/></g>
<line x1="29.8" y1="130.2" x2="29.8" y2="59.2" stroke="#444444" stroke-width="0.7"/>
<line x1="29.8" y1="130.2" x2="100.6" y2="163" stroke="#444444" stroke-width="0.7"/>
<line x1="100.6" y1="163" x2="193.5" y2="138" stroke="#444444" stroke-width="0.7"/>
<line x1="29.8" y1="130.2" x2="27.8" y2="130.8" stroke="#444444" stroke-width="0.7"/>
<line x1="100.6" y1="163" x2="102.6" y2="164.2" stroke="#444444" stroke-width="0.7"/>
<line x1="65.2" y1="146.6" x2="63.2" y2="147.2" stroke="#444444" stroke-width="0.7"/>
<line x1="147.1" y1="150.5" x2="149.1" y2="151.7" stroke="#444444" stroke-width="0.7"/>
<line x1="100.6" y1="163" x2="98.6" y2="163.6" stroke="#444444" stroke-width="0.7"/>
<line x1="193.5" y1="138" x2="195.5" y2="139.2" stroke="#444444" stroke-width="0.7"/>
<line x1="29.8" y1="130.2" x2="28" y2="129.7" stroke="#444444" stroke-width="0.7"/>
<line x1="29.8" y1="94.7" x2="28" y2="94.2" stroke="#444444" stroke-width="0.7"/>
<line x1="29.8" y1="59.2" x2="28" y2="58.7" stroke="#444444" stroke-width="0.7"/>
<text x="24.2" y="132.2" font-size="8" text-anchor="end">0</text>
<text x="24.2" y="96.7" font-size="8" text-anchor="end">20</text>
<text x="24.2" y="61.2" font-size="8" text-anchor="end">40</text>
<text x="21.6" y="140.6" font-size="8" text-anchor="middle">8</text>
<text x="56.7" y="157.6" font-size="8" text-anchor="middle">9</text>
<text x="90.4" y="173.5" font-size="8" text-anchor="middle">10</text>
<text x="110.8" y="174.6" font-size="8" text-anchor="middle">12</text>
<text x="158" y="161.9" font-size="8" text-anchor="middle">11</text>
<text x="203.2" y="149.6" font-size="8" text-anchor="middle">10</text>
<text x="51.8" y="178.3" font-size="9.5" text-anchor="middle">LWL</text>
<text x="155.8" y="179.9" font-size="9.5" text-anchor="middle">HWL</text>
<text font-size="9.4" text-anchor="middle" transform="translate(10.2 95.2) rotate(-90)">day</text>
<text x="111.5" y="30.7" font-size="9.25" text-anchor="middle">Shuibiqiao River</text>
<text x="29.5" y="17.8" font-size="12" font-weight="bold" fill="#000">(a)</text>
<rect x="218.3" y="35.2" width="16" height="127.6" fill="url(#pg)" stroke="#3a3a3a" stroke-width="0.6"/>
<line x1="232.9" y1="159.1" x2="234.3" y2="159.1" stroke="#3a3a3a" stroke-width="0.6"/>
<text x="237.9" y="162" font-size="8">10</text>
<line x1="232.9" y1="136" x2="234.3" y2="136" stroke="#3a3a3a" stroke-width="0.6"/>
<text x="237.9" y="138.9" font-size="8">15</text>
<line x1="232.9" y1="112.9" x2="234.3" y2="112.9" stroke="#3a3a3a" stroke-width="0.6"/>
<text x="237.9" y="115.8" font-size="8">20</text>
<line x1="232.9" y1="89.8" x2="234.3" y2="89.8" stroke="#3a3a3a" stroke-width="0.6"/>
<text x="237.9" y="92.7" font-size="8">25</text>
<line x1="232.9" y1="66.6" x2="234.3" y2="66.6" stroke="#3a3a3a" stroke-width="0.6"/>
<text x="237.9" y="69.5" font-size="8">30</text>
<line x1="232.9" y1="43.5" x2="234.3" y2="43.5" stroke="#3a3a3a" stroke-width="0.6"/>
<text x="237.9" y="46.4" font-size="8">35</text>
</g>
<g id="pb">
<line x1="324.5" y1="130.4" x2="417.4" y2="105.4" stroke="#dcdcdc" stroke-width="0.6"/>
<line x1="324.5" y1="130.4" x2="395.3" y2="163.2" stroke="#dcdcdc" stroke-width="0.6"/>
<line x1="359.9" y1="146.8" x2="452.8" y2="121.8" stroke="#dcdcdc" stroke-width="0.6"/>
<line x1="370.9" y1="117.9" x2="441.8" y2="150.7" stroke="#dcdcdc" stroke-width="0.6"/>
<line x1="395.3" y1="163.2" x2="488.2" y2="138.2" stroke="#dcdcdc" stroke-width="0.6"/>
<line x1="417.4" y1="105.4" x2="488.2" y2="138.2" stroke="#dcdcdc" stroke-width="0.6"/>
<line x1="324.5" y1="130.4" x2="324.5" y2="59.4" stroke="#dcdcdc" stroke-width="0.6"/>
<line x1="417.4" y1="105.4" x2="417.4" y2="34.4" stroke="#dcdcdc" stroke-width="0.6"/>
<line x1="370.9" y1="117.9" x2="370.9" y2="46.9" stroke="#dcdcdc" stroke-width="0.6"/>
<line x1="452.8" y1="121.8" x2="452.8" y2="50.8" stroke="#dcdcdc" stroke-width="0.6"/>
<line x1="417.4" y1="105.4" x2="417.4" y2="34.4" stroke="#dcdcdc" stroke-width="0.6"/>
<line x1="488.2" y1="138.2" x2="488.2" y2="67.2" stroke="#dcdcdc" stroke-width="0.6"/>
<line x1="324.5" y1="130.4" x2="417.4" y2="105.4" stroke="#dcdcdc" stroke-width="0.6"/>
<line x1="417.4" y1="105.4" x2="488.2" y2="138.2" stroke="#dcdcdc" stroke-width="0.6"/>
<line x1="324.5" y1="94.9" x2="417.4" y2="69.9" stroke="#dcdcdc" stroke-width="0.6"/>
<line x1="417.4" y1="69.9" x2="488.2" y2="102.7" stroke="#dcdcdc" stroke-width="0.6"/>
<line x1="324.5" y1="59.4" x2="417.4" y2="34.4" stroke="#dcdcdc" stroke-width="0.6"/>
<line x1="417.4" y1="34.4" x2="488.2" y2="67.2" stroke="#dcdcdc" stroke-width="0.6"/>
<line x1="324.5" y1="59.4" x2="417.4" y2="34.4" stroke="#dcdcdc" stroke-width="0.6"/>
<line x1="417.4" y1="34.4" x2="488.2" y2="67.2" stroke="#dcdcdc" stroke-width="0.6"/>
<g class="s"><path class="c113" d="M421.3 73.5l0.9 1.7l2.3 -1l-0.9 -1.8z"/>
<path class="c118" d="M420.4 71.7l0.9 1.8l2.3 -1.1l-0.9 -1.8z"/>
<path class="c124" d="M419.5 69.9l0.9 1.8l2.3 -1.1l-0.9 -1.8z"/>
<path class="c129" d="M418.6 68.2l0.9 1.7l2.3 -1.1l-0.9 -1.8z"/>
<path class="c134" d="M417.7 66.4l0.9 1.8l2.3 -1.2l-0.8 -1.8z"/>
<path class="c107" d="M419.8 76.2l0.9 1.6l4.7 -2l-0.9 -1.6z"/>
<path class="c103" d="M420.7 77.8l0.9 1.6l4.6 -2l-0.8 -1.6z"/>
<path class="c98" d="M421.6 79.4l0.9 1.5l4.6 -1.9l-0.9 -1.6z"/>
<path class="c140" d="M416.8 64.6l0.9 1.8l2.4 -1.2l-0.9 -1.8z"/>
<path class="c93" d="M422.5 80.9l0.9 1.6l4.6 -1.9l-0.9 -1.6z"/>
<path class="c89" d="M423.4 82.5l0.9 1.6l4.6 -1.9l-0.9 -1.6z"/>
<path class="c84" d="M424.3 84.1l0.8 1.6l4.7 -1.9l-0.9 -1.6z"/>
<path class="c80" d="M425.1 85.7l0.9 1.5l4.7 -1.8l-0.9 -1.6z"/>
<path class="c145" d="M416 62.9l0.8 1.7l2.4 -1.2l-0.9 -1.8z"/>
<path class="c75" d="M426 87.2l0.9 1.6l4.7 -1.8l-0.9 -1.6z"/>
<path class="c151" d="M415.1 61.1l0.9 1.8l2.3 -1.3l-0.9 -1.8z"/>
<path class="c71" d="M426.9 88.8l1 1.3l4.7 -1.9l-1 -1.2z"/>
<path class="c111" d="M419 74.5l0.8 1.7l2.4 -1l-0.9 -1.7z"/>
<path class="c117" d="M418.1 72.8l0.9 1.7l2.3 -1l-0.9 -1.8z"/>
<path class="c122" d="M417.2 71l0.9 1.8l2.3 -1.1l-0.9 -1.8z"/>
<path class="c127" d="M416.3 69.3l0.9 1.7l2.3 -1.1l-0.9 -1.7z"/>
<path class="c68" d="M427.9 90.1l1 1.2l4.7 -1.9l-1 -1.2z"/>
<path class="c132" d="M415.4 67.6l0.9 1.7l2.3 -1.1l-0.9 -1.8z"/>
<path class="c138" d="M414.5 65.8l0.9 1.8l2.3 -1.2l-0.9 -1.8z"/>
<path class="c143" d="M413.6 64.1l0.9 1.7l2.3 -1.2l-0.8 -1.7z"/>
<path class="c148" d="M412.8 62.4l0.8 1.7l2.4 -1.2l-0.9 -1.8z"/>
<path class="c65" d="M428.9 91.3l1 1.3l4.7 -1.9l-1 -1.3z"/>
<path class="c110" d="M416.6 75.5l0.9 1.7l2.3 -1l-0.8 -1.7z"/>
<path class="c115" d="M415.7 73.8l0.9 1.7l2.4 -1l-0.9 -1.7z"/>
<path class="c120" d="M414.9 72.1l0.8 1.7l2.4 -1l-0.9 -1.8z"/>
<path class="c62" d="M429.9 92.6l1.1 1.2l4.6 -1.9l-1 -1.2z"/>
<path class="c125" d="M414 70.4l0.9 1.7l2.3 -1.1l-0.9 -1.7z"/>
<path class="c130" d="M413.1 68.7l0.9 1.7l2.3 -1.1l-0.9 -1.7z"/>
<path class="c135" d="M412.2 67l0.9 1.7l2.3 -1.1l-0.9 -1.8z"/>
<path class="c140" d="M411.3 65.4l0.9 1.6l2.3 -1.2l-0.9 -1.7z"/>
<path class="c146" d="M410.4 63.7l0.9 1.7l2.3 -1.3l-0.8 -1.7z"/>
<path class="c104" d="M415.2 78.2l0.9 1.5l4.6 -1.9l-0.9 -1.6z"/>
<path class="c100" d="M416.1 79.7l0.9 1.6l4.6 -1.9l-0.9 -1.6z"/>
<path class="c95" d="M417 81.3l0.8 1.6l4.7 -2l-0.9 -1.5z"/>
<path class="c59" d="M431 93.8l1 1.3l4.6 -2l-1 -1.2z"/>
<path class="c91" d="M417.8 82.9l0.9 1.5l4.7 -1.9l-0.9 -1.6z"/>
<path class="c86" d="M418.7 84.4l0.9 1.6l4.7 -1.9l-0.9 -1.6z"/>
<path class="c82" d="M419.6 86l0.9 1.5l4.6 -1.8l-0.8 -1.6z"/>
<path class="c77" d="M420.5 87.5l0.9 1.6l4.6 -1.9l-0.9 -1.5z"/>
<path class="c73" d="M421.4 89.1l0.9 1.6l4.6 -1.9l-0.9 -1.6z"/>
<path class="c108" d="M414.3 76.5l0.9 1.7l2.3 -1l-0.9 -1.7z"/>
<path class="c69" d="M422.3 90.7l1 1.2l4.6 -1.8l-1 -1.3z"/>
<path class="c56" d="M432 95.1l1 1.2l4.6 -2l-1 -1.2z"/>
<path class="c113" d="M413.4 74.9l0.9 1.6l2.3 -1l-0.9 -1.7z"/>
<path class="c118" d="M412.5 73.2l0.9 1.7l2.3 -1.1l-0.8 -1.7z"/>
<path class="c123" d="M411.6 71.6l0.9 1.6l2.4 -1.1l-0.9 -1.7z"/>
<path class="c128" d="M410.8 69.9l0.8 1.7l2.4 -1.2l-0.9 -1.7z"/>
<path class="c133" d="M409.9 68.3l0.9 1.6l2.3 -1.2l-0.9 -1.7z"/>
<path class="c138" d="M409 66.6l0.9 1.7l2.3 -1.3l-0.9 -1.6z"/>
<path class="c143" d="M408.1 64.9l0.9 1.7l2.3 -1.2l-0.9 -1.7z"/>
<path class="c66" d="M423.3 91.9l1 1.3l4.6 -1.9l-1 -1.2z"/>
<path class="c53" d="M433 96.3l1 1.3l4.6 -2l-1 -1.3z"/>
<path class="c51" d="M435.5 96.9l1.5 1.4l3.1 -1.4l-1.5 -1.3z"/>
<path class="c62" d="M424.3 93.2l1 1.3l4.6 -1.9l-1 -1.3z"/>
<path class="c107" d="M411.2 77.8l0.9 1.6l3.1 -1.2l-0.9 -1.7z"/>
<path class="c59" d="M425.3 94.5l1 1.3l4.7 -2l-1.1 -1.2z"/>
<path class="c112" d="M410.3 76.1l0.9 1.7l3.1 -1.3l-0.9 -1.6z"/>
<path class="c117" d="M409.4 74.5l0.9 1.6l3.1 -1.2l-0.9 -1.7z"/>
<path class="c121" d="M408.6 72.9l0.8 1.6l3.1 -1.3l-0.9 -1.6z"/>
<path class="c126" d="M407.7 71.2l0.9 1.7l3 -1.3l-0.8 -1.7z"/>
<path class="c131" d="M406.8 69.6l0.9 1.6l3.1 -1.3l-0.9 -1.6z"/>
<path class="c136" d="M405.9 68l0.9 1.6l3.1 -1.3l-0.9 -1.7z"/>
<path class="c141" d="M405 66.3l0.9 1.7l3.1 -1.4l-0.9 -1.7z"/>
<path class="c102" d="M410.5 80l0.9 1.5l4.7 -1.8l-0.9 -1.5z"/>
<path class="c48" d="M437 98.3l1.4 1.3l3.1 -1.4l-1.4 -1.3z"/>
<path class="c56" d="M426.3 95.8l1 1.3l4.7 -2l-1 -1.3z"/>
<path class="c97" d="M411.4 81.5l0.9 1.6l4.7 -1.8l-0.9 -1.6z"/>
<path class="c93" d="M412.3 83.1l0.9 1.5l4.6 -1.7l-0.8 -1.6z"/>
<path class="c88" d="M413.2 84.6l0.9 1.5l4.6 -1.7l-0.9 -1.5z"/>
<path class="c84" d="M414.1 86.1l0.9 1.5l4.6 -1.6l-0.9 -1.6z"/>
<path class="c80" d="M415 87.6l0.9 1.6l4.6 -1.7l-0.9 -1.5z"/>
<path class="c75" d="M415.9 89.2l0.8 1.5l4.7 -1.6l-0.9 -1.6z"/>
<path class="c71" d="M416.7 90.7l0.9 1.5l4.7 -1.5l-0.9 -1.6z"/>
<path class="c53" d="M427.3 97.1l1 1.2l4.7 -2l-1 -1.2z"/>
<path class="c48" d="M432.4 98.3l1.5 1.4l3.1 -1.4l-1.5 -1.4z"/>
<path class="c50" d="M428.3 98.3l1.1 1.3l4.6 -2l-1 -1.3z"/>
<path class="c45" d="M438.4 99.6l1.4 1.4l3.1 -1.5l-1.4 -1.3z"/>
<path class="c139" d="M401.9 67.7l0.9 1.7l3.1 -1.4l-0.9 -1.7z"/>
<path class="c134" d="M402.8 69.4l0.9 1.6l3.1 -1.4l-0.9 -1.6z"/>
<path class="c129" d="M403.7 71l0.9 1.6l3.1 -1.4l-0.9 -1.6z"/>
<path class="c124" d="M404.6 72.6l0.9 1.6l3.1 -1.3l-0.9 -1.7z"/>
<path class="c120" d="M405.5 74.2l0.8 1.6l3.1 -1.3l-0.8 -1.6z"/>
<path class="c115" d="M406.3 75.8l0.9 1.6l3.1 -1.3l-0.9 -1.6z"/>
<path class="c110" d="M407.2 77.4l0.9 1.6l3.1 -1.2l-0.9 -1.7z"/>
<path class="c105" d="M408.1 79l0.9 1.6l3.1 -1.2l-0.9 -1.6z"/>
<path class="c46" d="M433.9 99.7l1.4 1.3l3.1 -1.4l-1.4 -1.3z"/>
<path class="c66" d="M413 93.8l0.9 1.2l9.3 -3.2l-0.9 -1.1z"/>
<path class="c43" d="M439.8 101l1.4 1.3l3.1 -1.4l-1.4 -1.4z"/>
<path class="c46" d="M429.4 99.6l1.4 1.4l3.1 -1.3l-1.5 -1.4z"/>
<path class="c64" d="M413.9 95l0.9 1.1l9.2 -3.2l-0.8 -1.1z"/>
<path class="c100" d="M405.9 81.8l0.9 1.5l4.6 -1.8l-0.9 -1.5z"/>
<path class="c43" d="M435.3 101l1.4 1.4l3.1 -1.4l-1.4 -1.4z"/>
<path class="c95" d="M406.8 83.3l0.9 1.5l4.6 -1.7l-0.9 -1.6z"/>
<path class="c136" d="M398.8 69.1l0.9 1.6l3.1 -1.3l-0.9 -1.7z"/>
<path class="c91" d="M407.7 84.8l0.9 1.5l4.6 -1.7l-0.9 -1.5z"/>
<path class="c132" d="M399.7 70.7l0.9 1.6l3.1 -1.3l-0.9 -1.6z"/>
<path class="c127" d="M400.6 72.3l0.9 1.6l3.1 -1.3l-0.9 -1.6z"/>
<path class="c122" d="M401.5 73.9l0.9 1.6l3.1 -1.3l-0.9 -1.6z"/>
<path class="c87" d="M408.6 86.3l0.8 1.5l4.7 -1.7l-0.9 -1.5z"/>
<path class="c118" d="M402.4 75.5l0.8 1.6l3.1 -1.3l-0.8 -1.6z"/>
<path class="c113" d="M403.2 77.1l0.9 1.5l3.1 -1.2l-0.9 -1.6z"/>
<path class="c61" d="M414.8 96.1l0.8 1.1l9.3 -3.2l-0.9 -1.1z"/>
<path class="c109" d="M404.1 78.6l0.9 1.6l3.1 -1.2l-0.9 -1.6z"/>
<path class="c82" d="M409.4 87.8l0.9 1.5l4.7 -1.7l-0.9 -1.5z"/>
<path class="c104" d="M405 80.2l0.9 1.6l3.1 -1.2l-0.9 -1.6z"/>
<path class="c78" d="M410.3 89.3l0.9 1.5l4.7 -1.6l-0.9 -1.6z"/>
<path class="c74" d="M411.2 90.8l0.9 1.5l4.6 -1.6l-0.8 -1.5z"/>
<path class="c43" d="M430.8 101l1.4 1.4l3.1 -1.4l-1.4 -1.3z"/>
<path class="c40" d="M441.2 102.3l1.4 1.4l3.1 -1.5l-1.4 -1.3z"/>
<path class="c69" d="M412.1 92.3l0.9 1.5l4.6 -1.6l-0.9 -1.5z"/>
<path class="c58" d="M415.6 97.2l0.9 1.2l9.3 -3.3l-0.9 -1.1z"/>
<path class="c40" d="M436.7 102.4l1.4 1.4l3.1 -1.5l-1.4 -1.3z"/>
<path class="c55" d="M416.5 98.4l0.9 1.1l9.3 -3.2l-0.9 -1.2z"/>
<path class="c52" d="M417.4 99.5l0.9 1.2l9.3 -3.3l-0.9 -1.1z"/>
<path class="c41" d="M432.2 102.4l1.4 1.4l3.1 -1.4l-1.4 -1.4z"/>
<path class="c134" d="M395.7 70.8l0.9 1.5l3.1 -1.6l-0.9 -1.6z"/>
<path class="c129" d="M396.6 72.3l0.9 1.6l3.1 -1.6l-0.9 -1.6z"/>
<path class="c44" d="M424.7 101.3l1.4 1.4l4.7 -1.7l-1.4 -1.4z"/>
<path class="c125" d="M397.5 73.9l0.9 1.5l3.1 -1.5l-0.9 -1.6z"/>
<path class="c120" d="M398.4 75.4l0.9 1.5l3.1 -1.4l-0.9 -1.6z"/>
<path class="c116" d="M399.3 76.9l0.8 1.5l3.1 -1.3l-0.8 -1.6z"/>
<path class="c111" d="M400.1 78.4l0.9 1.5l3.1 -1.3l-0.9 -1.5z"/>
<path class="c49" d="M418.3 100.7l0.9 1.1l9.3 -3.3l-0.9 -1.1z"/>
<path class="c107" d="M401 79.9l0.9 1.6l3.1 -1.3l-0.9 -1.6z"/>
<path class="c38" d="M443.4 103.3l2.4 1.6l2.3 -1.2l-2.4 -1.5z"/>
<path class="c102" d="M401.9 81.5l0.9 1.5l3.1 -1.2l-0.9 -1.6z"/>
<path class="c37" d="M438.1 103.8l1.4 1.4l3.1 -1.5l-1.4 -1.4z"/>
<path class="c47" d="M419.2 101.8l0.9 1.2l9.3 -3.4l-0.9 -1.1z"/>
<path class="c38" d="M433.6 103.8l1.4 1.4l3.1 -1.4l-1.4 -1.4z"/>
<path class="c98" d="M401.3 83.6l0.8 1.5l4.7 -1.8l-0.9 -1.5z"/>
<path class="c41" d="M426.1 102.7l1.4 1.5l4.7 -1.8l-1.4 -1.4z"/>
<path class="c93" d="M402.1 85.1l0.9 1.4l4.7 -1.7l-0.9 -1.5z"/>
<path class="c89" d="M403 86.5l0.9 1.5l4.7 -1.7l-0.9 -1.5z"/>
<path class="c85" d="M403.9 88l0.9 1.4l4.6 -1.6l-0.8 -1.5z"/>
<path class="c131" d="M392.6 72.5l0.9 1.4l3.1 -1.6l-0.9 -1.5z"/>
<path class="c81" d="M404.8 89.4l0.9 1.5l4.6 -1.6l-0.9 -1.5z"/>
<path class="c126" d="M393.5 73.9l0.9 1.5l3.1 -1.5l-0.9 -1.6z"/>
<path class="c36" d="M441.1 104.4l2.3 1.7l2.4 -1.2l-2.4 -1.6z"/>
<path class="c77" d="M405.7 90.9l0.9 1.5l4.6 -1.6l-0.9 -1.5z"/>
<path class="c122" d="M394.4 75.4l0.9 1.5l3.1 -1.5l-0.9 -1.5z"/>
<path class="c72" d="M406.6 92.4l0.8 1.4l4.7 -1.5l-0.9 -1.5z"/>
<path class="c118" d="M395.3 76.9l0.9 1.4l3.1 -1.4l-0.9 -1.5z"/>
<path class="c68" d="M407.4 93.8l0.9 1.5l4.7 -1.5l-0.9 -1.5z"/>
<path class="c114" d="M396.2 78.3l0.9 1.5l3 -1.4l-0.8 -1.5z"/>
<path class="c109" d="M397.1 79.8l0.8 1.5l3.1 -1.4l-0.9 -1.5z"/>
<path class="c35" d="M435 105.2l1.4 1.5l3.1 -1.5l-1.4 -1.4z"/>
<path class="c38" d="M427.5 104.2l1.5 1.4l4.6 -1.8l-1.4 -1.4z"/>
<path class="c105" d="M397.9 81.3l0.9 1.4l3.1 -1.2l-0.9 -1.6z"/>
<path class="c101" d="M398.8 82.7l0.9 1.5l3.1 -1.2l-0.9 -1.5z"/>
<path class="c34" d="M438.8 105.5l2.3 1.8l2.3 -1.2l-2.3 -1.7z"/>
<path class="c36" d="M445.8 104.9l2.3 1.6l2.3 -1.2l-2.3 -1.6z"/>
<path class="c127" d="M389.5 74.1l0.9 1.4l3.1 -1.6l-0.9 -1.4z"/>
<path class="c43" d="M420.1 103l1.4 1.4l4.6 -1.7l-1.4 -1.4z"/>
<path class="c123" d="M390.4 75.5l0.9 1.4l3.1 -1.5l-0.9 -1.5z"/>
<path class="c35" d="M429 105.6l1.4 1.4l4.6 -1.8l-1.4 -1.4z"/>
<path class="c119" d="M391.3 76.9l0.9 1.5l3.1 -1.5l-0.9 -1.5z"/>
<path class="c115" d="M392.2 78.4l0.9 1.4l3.1 -1.5l-0.9 -1.4z"/>
<path class="c111" d="M393.1 79.8l0.9 1.4l3.1 -1.4l-0.9 -1.5z"/>
<path class="c64" d="M403.7 96.8l0.9 1.1l9.3 -2.9l-0.9 -1.2z"/>
<path class="c107" d="M394 81.2l0.8 1.4l3.1 -1.3l-0.8 -1.5z"/>
<path class="c96" d="M396.6 85.4l0.9 1.4l4.6 -1.7l-0.8 -1.5z"/>
<path class="c103" d="M394.8 82.6l0.9 1.4l3.1 -1.3l-0.9 -1.4z"/>
<path class="c32" d="M436.4 106.7l2.4 1.8l2.3 -1.2l-2.3 -1.8z"/>
<path class="c40" d="M421.5 104.4l1.4 1.5l4.6 -1.7l-1.4 -1.5z"/>
<path class="c92" d="M397.5 86.8l0.9 1.4l4.6 -1.7l-0.9 -1.4z"/>
<path class="c34" d="M443.4 106.1l2.4 1.7l2.3 -1.3l-2.3 -1.6z"/>
<path class="c99" d="M395.7 84l0.9 1.4l3.1 -1.2l-0.9 -1.5z"/>
<path class="c87" d="M398.4 88.2l0.9 1.5l4.6 -1.7l-0.9 -1.5z"/>
<path class="c61" d="M404.6 97.9l0.9 1.2l9.3 -3l-0.9 -1.1z"/>
<path class="c32" d="M430.4 107l1.4 1.5l4.6 -1.8l-1.4 -1.5z"/>
<path class="c83" d="M399.3 89.7l0.9 1.4l4.6 -1.7l-0.9 -1.4z"/>
<path class="c79" d="M400.2 91.1l0.8 1.4l4.7 -1.6l-0.9 -1.5z"/>
<path class="c58" d="M405.5 99.1l0.8 1.1l9.3 -3l-0.8 -1.1z"/>
<path class="c75" d="M401 92.5l0.9 1.5l4.7 -1.6l-0.9 -1.5z"/>
<path class="c71" d="M401.9 94l0.9 1.4l4.6 -1.6l-0.8 -1.4z"/>
<path class="c67" d="M402.8 95.4l0.9 1.4l4.6 -1.5l-0.9 -1.5z"/>
<path class="c37" d="M422.9 105.9l1.4 1.5l4.7 -1.8l-1.5 -1.4z"/>
<path class="c56" d="M406.3 100.2l0.9 1.2l9.3 -3l-0.9 -1.2z"/>
<path class="c31" d="M441.1 107.3l2.4 1.7l2.3 -1.2l-2.4 -1.7z"/>
<path class="c34" d="M448.1 106.5l2.4 1.6l2.3 -1.3l-2.4 -1.5z"/>
<path class="c53" d="M407.2 101.4l0.9 1.1l9.3 -3l-0.9 -1.1z"/>
<path class="c50" d="M408.1 102.5l0.9 1.2l9.3 -3l-0.9 -1.2z"/>
<path class="c30" d="M431.8 108.5l2.3 1.7l4.7 -1.7l-2.4 -1.8z"/>
<path class="c33" d="M424.3 107.4l1.4 1.4l4.7 -1.8l-1.4 -1.4z"/>
<path class="c29" d="M438.8 108.5l2.4 1.8l2.3 -1.3l-2.4 -1.7z"/>
<path class="c47" d="M409 103.7l0.9 1.1l9.3 -3l-0.9 -1.1z"/>
<path class="c32" d="M445.8 107.8l2.4 1.6l2.3 -1.3l-2.4 -1.6z"/>
<path class="c44" d="M409.9 104.8l0.9 1.1l9.3 -2.9l-0.9 -1.2z"/>
<path class="c126" d="M380.2 76.4l0.9 1.5l9.3 -2.4l-0.9 -1.4z"/>
<path class="c30" d="M425.7 108.8l1.4 1.5l4.7 -1.8l-1.4 -1.5z"/>
<path class="c122" d="M381.1 77.9l0.9 1.4l9.3 -2.4l-0.9 -1.4z"/>
<path class="c118" d="M382 79.3l0.9 1.5l9.3 -2.4l-0.9 -1.5z"/>
<path class="c41" d="M410.8 105.9l1.4 1.5l9.3 -3l-1.4 -1.4z"/>
<path class="c29" d="M443.5 109l2.3 1.8l2.4 -1.4l-2.4 -1.6z"/>
<path class="c114" d="M382.9 80.8l0.9 1.4l9.3 -2.4l-0.9 -1.4z"/>
<path class="c110" d="M383.8 82.2l0.9 1.5l9.3 -2.5l-0.9 -1.4z"/>
<path class="c106" d="M384.7 83.7l0.8 1.5l9.3 -2.6l-0.8 -1.4z"/>
<path class="c102" d="M385.5 85.2l0.9 1.4l9.3 -2.6l-0.9 -1.4z"/>
<path class="c27" d="M434.1 110.2l2.4 1.8l4.7 -1.7l-2.4 -1.8z"/>
<path class="c98" d="M386.4 86.6l0.9 1.5l9.3 -2.7l-0.9 -1.4z"/>
<path class="c94" d="M387.3 88.1l0.9 1.4l9.3 -2.7l-0.9 -1.4z"/>
<path class="c38" d="M412.2 107.4l1.4 1.5l9.3 -3l-1.4 -1.5z"/>
<path class="c26" d="M441.2 110.3l2.3 1.8l2.3 -1.3l-2.3 -1.8z"/>
<path class="c90" d="M388.2 89.5l0.9 1.4l9.3 -2.7l-0.9 -1.4z"/>
<path class="c27" d="M427.1 110.3l2.4 1.7l4.6 -1.8l-2.3 -1.7z"/>
<path class="c86" d="M389.1 90.9l0.9 1.5l9.3 -2.7l-0.9 -1.5z"/>
<path class="c82" d="M390 92.4l0.9 1.4l9.2 -2.7l-0.8 -1.4z"/>
<path class="c78" d="M390.9 93.8l0.8 1.5l9.3 -2.8l-0.9 -1.4z"/>
<path class="c74" d="M391.7 95.3l0.9 1.4l9.3 -2.7l-0.9 -1.5z"/>
<path class="c35" d="M413.6 108.9l1.4 1.5l9.3 -3l-1.4 -1.5z"/>
<path class="c70" d="M392.6 96.7l0.9 1.4l9.3 -2.7l-0.9 -1.4z"/>
<path class="c66" d="M393.5 98.1l0.9 1.5l9.3 -2.8l-0.9 -1.4z"/>
<path class="c63" d="M394.4 99.6l0.9 1.1l9.3 -2.8l-0.9 -1.1z"/>
<path class="c60" d="M395.3 100.7l0.9 1.2l9.3 -2.8l-0.9 -1.2z"/>
<path class="c31" d="M415 110.4l1.4 1.5l9.3 -3.1l-1.4 -1.4z"/>
<path class="c24" d="M436.5 112l2.4 1.8l4.6 -1.7l-2.3 -1.8z"/>
<path class="c57" d="M396.2 101.9l0.9 1.1l9.2 -2.8l-0.8 -1.1z"/>
<path class="c25" d="M429.5 112l2.4 1.7l4.6 -1.7l-2.4 -1.8z"/>
<path class="c54" d="M397.1 103l0.8 1.2l9.3 -2.8l-0.9 -1.2z"/>
<path class="c28" d="M416.4 111.9l1.4 1.5l9.3 -3.1l-1.4 -1.5z"/>
<path class="c51" d="M397.9 104.2l0.9 1.1l9.3 -2.8l-0.9 -1.1z"/>
<path class="c48" d="M398.8 105.3l0.9 1.2l9.3 -2.8l-0.9 -1.2z"/>
<path class="c45" d="M399.7 106.5l0.9 1.2l9.3 -2.9l-0.9 -1.1z"/>
<path class="c42" d="M400.6 107.7l0.9 1.1l9.3 -2.9l-0.9 -1.1z"/>
<path class="c25" d="M417.9 113.4l2.3 1.6l9.3 -3l-2.4 -1.7z"/>
<path class="c125" d="M371 79.7l0.8 1.4l9.3 -3.2l-0.9 -1.5z"/>
<path class="c22" d="M431.9 113.7l2.3 1.8l4.7 -1.7l-2.4 -1.8z"/>
<path class="c121" d="M371.8 81.1l0.9 1.4l9.3 -3.2l-0.9 -1.4z"/>
<path class="c40" d="M401.5 108.8l1.2 1.3l9.2 -2.9l-1.1 -1.3z"/>
<path class="c22" d="M438.9 113.8l3.5 1.8l4.6 -1.3l-3.5 -2.2z"/>
<path class="c117" d="M372.7 82.5l0.9 1.4l9.3 -3.1l-0.9 -1.5z"/>
<path class="c113" d="M373.6 83.9l0.9 1.4l9.3 -3.1l-0.9 -1.4z"/>
<path class="c109" d="M374.5 85.3l0.9 1.4l9.3 -3l-0.9 -1.5z"/>
<path class="c105" d="M375.4 86.7l0.9 1.4l9.2 -2.9l-0.8 -1.5z"/>
<path class="c37" d="M402.7 110.1l1.1 1.3l9.3 -3l-1.2 -1.2z"/>
<path class="c101" d="M376.3 88.1l0.8 1.4l9.3 -2.9l-0.9 -1.4z"/>
<path class="c97" d="M377.1 89.5l0.9 1.4l9.3 -2.8l-0.9 -1.5z"/>
<path class="c93" d="M378 90.9l0.9 1.4l9.3 -2.8l-0.9 -1.4z"/>
<path class="c89" d="M378.9 92.3l0.9 1.4l9.3 -2.8l-0.9 -1.4z"/>
<path class="c85" d="M379.8 93.7l0.9 1.5l9.3 -2.8l-0.9 -1.5z"/>
<path class="c34" d="M403.8 111.4l1.2 1.3l9.3 -3l-1.2 -1.3z"/>
<path class="c81" d="M380.7 95.2l0.9 1.4l9.3 -2.8l-0.9 -1.4z"/>
<path class="c77" d="M381.6 96.6l0.9 1.4l9.2 -2.7l-0.8 -1.5z"/>
<path class="c23" d="M420.2 115l2.4 1.6l9.3 -2.9l-2.4 -1.7z"/>
<path class="c73" d="M382.5 98l0.8 1.4l9.3 -2.7l-0.9 -1.4z"/>
<path class="c69" d="M383.3 99.4l0.9 1.5l9.3 -2.8l-0.9 -1.4z"/>
<path class="c31" d="M405 112.7l1.2 1.2l9.3 -3l-1.2 -1.2z"/>
<path class="c65" d="M384.2 100.9l0.9 1.4l9.3 -2.7l-0.9 -1.5z"/>
<path class="c62" d="M385.1 102.3l0.9 1.2l9.3 -2.8l-0.9 -1.1z"/>
<path class="c59" d="M386 103.5l0.9 1.2l9.3 -2.8l-0.9 -1.2z"/>
<path class="c21" d="M434.2 115.5l3.6 1.4l4.6 -1.3l-3.5 -1.8z"/>
<path class="c28" d="M406.2 113.9l1.2 1.3l9.3 -3.1l-1.2 -1.2z"/>
<path class="c56" d="M386.9 104.7l0.9 1.1l9.3 -2.8l-0.9 -1.1z"/>
<path class="c53" d="M387.8 105.8l0.8 1.2l9.3 -2.8l-0.8 -1.2z"/>
<path class="c26" d="M407.4 115.2l1.2 1.3l9.2 -3.1l-1.1 -1.3z"/>
<path class="c20" d="M442.4 115.6l3.5 1.8l4.7 -0.8l-3.6 -2.3z"/>
<path class="c24" d="M413.2 114.9l2.4 1.7l4.6 -1.6l-2.4 -1.6z"/>
<path class="c21" d="M422.6 116.6l2.3 1.7l9.3 -2.8l-2.3 -1.8z"/>
<path class="c50" d="M388.6 107l0.9 1.2l9.3 -2.9l-0.9 -1.1z"/>
<path class="c47" d="M389.5 108.2l0.9 1.2l9.3 -2.9l-0.9 -1.2z"/>
<path class="c44" d="M390.4 109.4l0.9 1.1l9.3 -2.8l-0.9 -1.2z"/>
<path class="c41" d="M391.3 110.5l0.9 1.2l9.3 -2.9l-0.9 -1.1z"/>
<path class="c122" d="M361.7 82.9l0.8 1.4l9.3 -3.2l-0.8 -1.4z"/>
<path class="c118" d="M362.5 84.3l0.9 1.3l9.3 -3.1l-0.9 -1.4z"/>
<path class="c115" d="M363.4 85.6l0.9 1.4l9.3 -3.1l-0.9 -1.4z"/>
<path class="c38" d="M392.2 111.7l1.2 1.3l9.3 -2.9l-1.2 -1.3z"/>
<path class="c111" d="M364.3 87l0.9 1.4l9.3 -3.1l-0.9 -1.4z"/>
<path class="c21" d="M415.6 116.6l2.3 1.7l4.7 -1.7l-2.4 -1.6z"/>
<path class="c107" d="M365.2 88.4l0.9 1.3l9.3 -3l-0.9 -1.4z"/>
<path class="c103" d="M366.1 89.7l0.9 1.4l9.3 -3l-0.9 -1.4z"/>
<path class="c35" d="M393.4 113l1.1 1.4l9.3 -3l-1.1 -1.3z"/>
<path class="c99" d="M367 91.1l0.9 1.3l9.2 -2.9l-0.8 -1.4z"/>
<path class="c22" d="M408.6 116.5l2.3 1.7l4.7 -1.6l-2.4 -1.7z"/>
<path class="c96" d="M367.9 92.4l0.8 1.4l9.3 -2.9l-0.9 -1.4z"/>
<path class="c92" d="M368.7 93.8l0.9 1.4l9.3 -2.9l-0.9 -1.4z"/>
<path class="c21" d="M437.8 116.9l3.5 1.4l4.6 -0.9l-3.5 -1.8z"/>
<path class="c88" d="M369.6 95.2l0.9 1.4l9.3 -2.9l-0.9 -1.4z"/>
<path class="c32" d="M394.5 114.4l1.2 1.3l9.3 -3l-1.2 -1.3z"/>
<path class="c84" d="M370.5 96.6l0.9 1.4l9.3 -2.8l-0.9 -1.5z"/>
<path class="c80" d="M371.4 98l0.9 1.4l9.3 -2.8l-0.9 -1.4z"/>
<path class="c76" d="M372.3 99.4l0.9 1.4l9.3 -2.8l-0.9 -1.4z"/>
<path class="c72" d="M373.2 100.8l0.8 1.4l9.3 -2.8l-0.8 -1.4z"/>
<path class="c29" d="M395.7 115.7l1.2 1.4l9.3 -3.2l-1.2 -1.2z"/>
<path class="c68" d="M374 102.2l0.9 1.5l9.3 -2.8l-0.9 -1.5z"/>
<path class="c64" d="M374.9 103.7l0.9 1.4l9.3 -2.8l-0.9 -1.4z"/>
<path class="c19" d="M417.9 118.3l2.4 1.7l4.6 -1.7l-2.3 -1.7z"/>
<path class="c61" d="M375.8 105.1l0.9 1.1l9.3 -2.7l-0.9 -1.2z"/>
<path class="c26" d="M396.9 117.1l1.2 1.3l9.3 -3.2l-1.2 -1.3z"/>
<path class="c58" d="M376.7 106.2l0.9 1.2l9.3 -2.7l-0.9 -1.2z"/>
<path class="c20" d="M410.9 118.2l2.4 1.7l4.6 -1.6l-2.3 -1.7z"/>
<path class="c55" d="M377.6 107.4l0.9 1.2l9.3 -2.8l-0.9 -1.1z"/>
<path class="c23" d="M398.1 118.4l1.2 1.3l9.3 -3.2l-1.2 -1.3z"/>
<path class="c21" d="M403.9 118.1l2.4 1.8l4.6 -1.7l-2.3 -1.7z"/>
<path class="c21" d="M424.9 118.3l7.1 2.6l9.3 -2.6l-7.1 -2.8z"/>
<path class="c52" d="M378.5 108.6l0.9 1.2l9.2 -2.8l-0.8 -1.2z"/>
<path class="c49" d="M379.4 109.8l0.8 1.2l9.3 -2.8l-0.9 -1.2z"/>
<path class="c46" d="M380.2 111l0.9 1.1l9.3 -2.7l-0.9 -1.2z"/>
<path class="c43" d="M381.1 112.1l0.9 1.2l9.3 -2.8l-0.9 -1.1z"/>
<path class="c120" d="M352.4 86l0.9 1.3l9.2 -3l-0.8 -1.4z"/>
<path class="c18" d="M413.3 119.9l2.3 1.7l4.7 -1.6l-2.4 -1.7z"/>
<path class="c40" d="M382 113.3l0.9 1.2l9.3 -2.8l-0.9 -1.2z"/>
<path class="c116" d="M353.3 87.3l0.8 1.4l9.3 -3.1l-0.9 -1.3z"/>
<path class="c112" d="M354.1 88.7l0.9 1.3l9.3 -3l-0.9 -1.4z"/>
<path class="c18" d="M406.3 119.9l2.3 1.8l4.7 -1.8l-2.4 -1.7z"/>
<path class="c36" d="M382.9 114.5l1.2 1.4l9.3 -2.9l-1.2 -1.3z"/>
<path class="c109" d="M355 90l0.9 1.3l9.3 -2.9l-0.9 -1.4z"/>
<path class="c105" d="M355.9 91.3l0.9 1.4l9.3 -3l-0.9 -1.3z"/>
<path class="c101" d="M356.8 92.7l0.9 1.3l9.3 -2.9l-0.9 -1.4z"/>
<path class="c19" d="M399.3 119.7l2.3 1.9l4.7 -1.7l-2.4 -1.8z"/>
<path class="c33" d="M384.1 115.9l1.2 1.4l9.2 -2.9l-1.1 -1.4z"/>
<path class="c98" d="M357.7 94l0.9 1.4l9.3 -3l-0.9 -1.3z"/>
<path class="c94" d="M358.6 95.4l0.8 1.3l9.3 -2.9l-0.8 -1.4z"/>
<path class="c90" d="M359.4 96.7l0.9 1.4l9.3 -2.9l-0.9 -1.4z"/>
<path class="c30" d="M385.3 117.3l1.1 1.3l9.3 -2.9l-1.2 -1.3z"/>
<path class="c86" d="M360.3 98.1l0.9 1.4l9.3 -2.9l-0.9 -1.4z"/>
<path class="c83" d="M361.2 99.5l0.9 1.3l9.3 -2.8l-0.9 -1.4z"/>
<path class="c23" d="M436.7 119.6l1.1 -0.1l4.7 -1.4l-1.2 0.2z"/>
<path class="c79" d="M362.1 100.8l0.9 1.4l9.3 -2.8l-0.9 -1.4z"/>
<path class="c75" d="M363 102.2l0.9 1.4l9.3 -2.8l-0.9 -1.4z"/>
<path class="c27" d="M386.4 118.6l1.2 1.4l9.3 -2.9l-1.2 -1.4z"/>
<path class="c16" d="M408.6 121.7l2.4 1.8l4.6 -1.9l-2.3 -1.7z"/>
<path class="c71" d="M363.9 103.6l0.9 1.4l9.2 -2.8l-0.8 -1.4z"/>
<path class="c19" d="M420.3 120l7.1 2.8l4.6 -1.9l-7.1 -2.6z"/>
<path class="c67" d="M364.8 105l0.8 1.3l9.3 -2.6l-0.9 -1.5z"/>
<path class="c63" d="M365.6 106.3l0.9 1.4l9.3 -2.6l-0.9 -1.4z"/>
<path class="c16" d="M401.6 121.6l2.4 1.9l4.6 -1.8l-2.3 -1.8z"/>
<path class="c24" d="M387.6 120l1.2 1.4l9.3 -3l-1.2 -1.3z"/>
<path class="c60" d="M366.5 107.7l0.9 1.2l9.3 -2.7l-0.9 -1.1z"/>
<path class="c18" d="M394.6 121.3l1.8 1.4l4.6 -1.5l-1.7 -1.5z"/>
<path class="c57" d="M367.4 108.9l0.9 1.1l9.3 -2.6l-0.9 -1.2z"/>
<path class="c21" d="M388.8 121.4l1.2 1.4l9.3 -3.1l-1.2 -1.3z"/>
<path class="c118" d="M347.7 87.7l0.9 1.3l4.7 -1.7l-0.9 -1.3z"/>
<path class="c26" d="M437.8 119.5l1.2 -0.1l4.7 -1.5l-1.2 0.2z"/>
<path class="c54" d="M368.3 110l0.9 1.2l9.3 -2.6l-0.9 -1.2z"/>
<path class="c114" d="M348.6 89l0.9 1.3l4.6 -1.6l-0.8 -1.4z"/>
<path class="c51" d="M369.2 111.2l0.9 1.2l9.3 -2.6l-0.9 -1.2z"/>
<path class="c111" d="M349.5 90.3l0.9 1.3l4.6 -1.6l-0.9 -1.3z"/>
<path class="c107" d="M350.4 91.6l0.9 1.3l4.6 -1.6l-0.9 -1.3z"/>
<path class="c48" d="M370.1 112.4l0.9 1.1l9.2 -2.5l-0.8 -1.2z"/>
<path class="c104" d="M351.3 92.9l0.9 1.3l4.6 -1.5l-0.9 -1.4z"/>
<path class="c16" d="M396.4 122.7l1.8 1.5l4.6 -1.6l-1.8 -1.4z"/>
<path class="c23" d="M432 120.9l1.2 0.1l4.6 -1.5l-1.1 0.1z"/>
<path class="c13" d="M404 123.5l2.3 1.9l4.7 -1.9l-2.4 -1.8z"/>
<path class="c45" d="M371 113.5l0.8 1.2l9.3 -2.6l-0.9 -1.1z"/>
<path class="c17" d="M415.6 121.6l7.1 3.1l4.7 -1.9l-7.1 -2.8z"/>
<path class="c100" d="M352.2 94.2l0.8 1.3l4.7 -1.5l-0.9 -1.3z"/>
<path class="c96" d="M353 95.5l0.9 1.3l4.7 -1.4l-0.9 -1.4z"/>
<path class="c42" d="M371.8 114.7l0.9 1.2l9.3 -2.6l-0.9 -1.2z"/>
<path class="c93" d="M353.9 96.8l0.9 1.3l4.6 -1.4l-0.8 -1.3z"/>
<path class="c29" d="M439 119.4l1.2 -0.1l4.6 -1.6l-1.1 0.2z"/>
<path class="c39" d="M372.7 115.9l0.9 1.1l9.3 -2.5l-0.9 -1.2z"/>
<path class="c17" d="M390 122.8l1.8 1.5l4.6 -1.6l-1.8 -1.4z"/>
<path class="c36" d="M373.6 117l1.2 1.4l9.3 -2.5l-1.2 -1.4z"/>
<path class="c13" d="M398.2 124.2l1.7 1.5l4.7 -1.7l-1.8 -1.4z"/>
<path class="c116" d="M343.1 89.4l0.9 1.3l4.6 -1.7l-0.9 -1.3z"/>
<path class="c25" d="M433.2 121l1.2 0l4.6 -1.6l-1.2 0.1z"/>
<path class="c113" d="M344 90.7l0.9 1.2l4.6 -1.6l-0.9 -1.3z"/>
<path class="c33" d="M374.8 118.4l1.2 1.4l9.3 -2.5l-1.2 -1.4z"/>
<path class="c109" d="M344.9 91.9l0.8 1.3l4.7 -1.6l-0.9 -1.3z"/>
<path class="c15" d="M412.5 122.9l7.1 3.2l3.1 -1.4l-7.1 -3.1z"/>
<path class="c89" d="M350.2 99.6l0.8 1.3l9.3 -2.8l-0.9 -1.4z"/>
<path class="c106" d="M345.7 93.2l0.9 1.3l4.7 -1.6l-0.9 -1.3z"/>
<path class="c85" d="M351 100.9l0.9 1.3l9.3 -2.7l-0.9 -1.4z"/>
<path class="c14" d="M391.8 124.3l1.7 1.6l4.7 -1.7l-1.8 -1.5z"/>
<path class="c29" d="M376 119.8l1.2 1.4l9.2 -2.6l-1.1 -1.3z"/>
<path class="c102" d="M346.6 94.5l0.9 1.3l4.7 -1.6l-0.9 -1.3z"/>
<path class="c31" d="M440.2 119.3l1.2 -0.1l4.6 -1.7l-1.2 0.2z"/>
<path class="c81" d="M351.9 102.2l0.9 1.4l9.3 -2.8l-0.9 -1.3z"/>
<path class="c11" d="M399.9 125.7l1.8 1.5l4.6 -1.8l-1.7 -1.4z"/>
<path class="c99" d="M347.5 95.8l0.9 1.2l4.6 -1.5l-0.8 -1.3z"/>
<path class="c78" d="M352.8 103.6l0.9 1.3l9.3 -2.7l-0.9 -1.4z"/>
<path class="c22" d="M427.4 122.8l1.7 0l4.7 -1.8l-1.8 -0.1z"/>
<path class="c74" d="M353.7 104.9l0.9 1.3l9.3 -2.6l-0.9 -1.4z"/>
<path class="c95" d="M348.4 97l0.9 1.3l4.6 -1.5l-0.9 -1.3z"/>
<path class="c26" d="M377.2 121.2l1.1 1.3l9.3 -2.5l-1.2 -1.4z"/>
<path class="c70" d="M354.6 106.2l0.9 1.3l9.3 -2.5l-0.9 -1.4z"/>
<path class="c92" d="M349.3 98.3l0.9 1.3l4.6 -1.5l-0.9 -1.3z"/>
<path class="c27" d="M434.4 121l1.2 0l4.6 -1.7l-1.2 0.1z"/>
<path class="c67" d="M355.5 107.5l0.9 1.4l9.2 -2.6l-0.8 -1.3z"/>
<path class="c13" d="M409.4 124.2l7.1 3.3l3.1 -1.4l-7.1 -3.2z"/>
<path class="c63" d="M356.4 108.9l0.8 1.3l9.3 -2.5l-0.9 -1.4z"/>
<path class="c23" d="M378.3 122.5l1.2 1.4l9.3 -2.5l-1.2 -1.4z"/>
<path class="c12" d="M393.5 125.9l1.8 1.5l4.6 -1.7l-1.7 -1.5z"/>
<path class="c60" d="M357.2 110.2l0.9 1.1l9.3 -2.4l-0.9 -1.2z"/>
<path class="c19" d="M379.5 123.9l1.2 1.4l9.3 -2.5l-1.2 -1.4z"/>
<path class="c57" d="M358.1 111.3l0.9 1.2l9.3 -2.5l-0.9 -1.1z"/>
<path class="c34" d="M441.4 119.2l1.2 -0.1l4.6 -1.9l-1.2 0.3z"/>
<path class="c54" d="M359 112.5l0.9 1.1l9.3 -2.4l-0.9 -1.2z"/>
<path class="c30" d="M435.6 121l1.1 0l4.7 -1.8l-1.2 0.1z"/>
<path class="c51" d="M359.9 113.6l0.9 1.1l9.3 -2.3l-0.9 -1.2z"/>
<path class="c11" d="M406.3 125.4l7.1 3.5l3.1 -1.4l-7.1 -3.3z"/>
<path class="c9" d="M395.3 127.4l1.8 1.6l4.6 -1.8l-1.8 -1.5z"/>
<path class="c19" d="M422.7 124.7l1.8 0l4.6 -1.9l-1.7 0z"/>
<path class="c16" d="M380.7 125.3l1.8 1.5l9.3 -2.5l-1.8 -1.5z"/>
<path class="c25" d="M429.1 122.8l1.8 0.1l4.7 -1.9l-1.8 0z"/>
<path class="c48" d="M360.8 114.7l0.9 1.2l9.3 -2.4l-0.9 -1.1z"/>
<path class="c115" d="M333.8 92.1l0.9 1.3l9.3 -2.7l-0.9 -1.3z"/>
<path class="c112" d="M334.7 93.4l0.9 1.2l9.2 -2.7l-0.8 -1.2z"/>
<path class="c45" d="M361.7 115.9l0.9 1.1l9.2 -2.3l-0.8 -1.2z"/>
<path class="c108" d="M335.6 94.6l0.8 1.2l9.3 -2.6l-0.9 -1.3z"/>
<path class="c37" d="M442.6 119.1l1.1 -0.1l4.7 -2l-1.2 0.2z"/>
<path class="c42" d="M362.6 117l0.8 1.1l9.3 -2.2l-0.9 -1.2z"/>
<path class="c105" d="M336.4 95.8l0.9 1.3l9.3 -2.6l-0.9 -1.3z"/>
<path class="c39" d="M363.4 118.1l0.9 1.2l9.3 -2.3l-0.9 -1.1z"/>
<path class="c14" d="M382.5 126.8l1.7 1.6l9.3 -2.5l-1.7 -1.6z"/>
<path class="c102" d="M337.3 97.1l0.9 1.2l9.3 -2.5l-0.9 -1.3z"/>
<path class="c32" d="M436.7 121l1.2 0l4.7 -1.9l-1.2 0.1z"/>
<path class="c98" d="M338.2 98.3l0.9 1.3l9.3 -2.6l-0.9 -1.2z"/>
<path class="c9" d="M401.7 127.2l7.1 3.8l4.6 -2.1l-7.1 -3.5z"/>
<path class="c36" d="M364.3 119.3l1.2 1.3l9.3 -2.2l-1.2 -1.4z"/>
<path class="c17" d="M419.6 126.1l1.8 0l3.1 -1.4l-1.8 0z"/>
<path class="c95" d="M339.1 99.6l0.9 1.2l9.3 -2.5l-0.9 -1.3z"/>
<path class="c92" d="M340 100.8l0.9 1.3l9.3 -2.5l-0.9 -1.3z"/>
<path class="c33" d="M365.5 120.6l1.2 1.4l9.3 -2.2l-1.2 -1.4z"/>
<path class="c88" d="M340.9 102.1l0.9 1.3l9.2 -2.5l-0.8 -1.3z"/>
<path class="c22" d="M424.5 124.7l1.8 0.1l4.6 -1.9l-1.8 -0.1z"/>
<path class="c28" d="M430.9 122.9l1.8 0l4.6 -1.9l-1.7 0z"/>
<path class="c11" d="M384.2 128.4l1.8 1.5l9.3 -2.5l-1.8 -1.5z"/>
<path class="c85" d="M341.8 103.4l0.8 1.3l9.3 -2.5l-0.9 -1.3z"/>
<path class="c81" d="M342.6 104.7l0.9 1.3l9.3 -2.4l-0.9 -1.4z"/>
<path class="c30" d="M366.7 122l1.2 1.3l9.3 -2.1l-1.2 -1.4z"/>
<path class="c78" d="M343.5 106l0.9 1.2l9.3 -2.3l-0.9 -1.3z"/>
<path class="c34" d="M437.9 121l1.2 0l4.6 -2l-1.1 0.1z"/>
<path class="c15" d="M416.5 127.5l1.8 0l3.1 -1.4l-1.8 0z"/>
<path class="c74" d="M344.4 107.2l0.9 1.3l9.3 -2.3l-0.9 -1.3z"/>
<path class="c27" d="M367.9 123.3l1.1 1.4l9.3 -2.2l-1.1 -1.3z"/>
<path class="c70" d="M345.3 108.5l0.9 1.3l9.3 -2.3l-0.9 -1.3z"/>
<path class="c67" d="M346.2 109.8l0.9 1.3l9.3 -2.2l-0.9 -1.4z"/>
<path class="c8" d="M386 129.9l1.8 1.6l9.3 -2.5l-1.8 -1.6z"/>
<path class="c6" d="M397.1 129l7 4l4.7 -2l-7.1 -3.8z"/>
<path class="c63" d="M347.1 111.1l0.8 1.3l9.3 -2.2l-0.8 -1.3z"/>
<path class="c23" d="M369 124.7l1.2 1.3l9.3 -2.1l-1.2 -1.4z"/>
<path class="c20" d="M421.4 126.1l1.8 0.1l3.1 -1.4l-1.8 -0.1z"/>
<path class="c60" d="M348 112.4l1 1.3l9.3 -2.2l-1.1 -1.3z"/>
<path class="c12" d="M413.4 128.9l1.8 0l3.1 -1.4l-1.8 0z"/>
<path class="c20" d="M370.2 126l1.2 1.4l9.3 -2.1l-1.2 -1.4z"/>
<path class="c25" d="M426.3 124.8l1.7 0l4.7 -1.9l-1.8 0z"/>
<path class="c57" d="M349 113.7l1 1.3l9.3 -2.2l-1 -1.3z"/>
<path class="c31" d="M432.7 122.9l1.7 0l4.7 -1.9l-1.8 0z"/>
<path class="c54" d="M350 115l1 1.2l9.3 -2.1l-1 -1.3z"/>
<path class="c18" d="M418.3 127.5l1.8 0.1l3.1 -1.4l-1.8 -0.1z"/>
<path class="c115" d="M324.5 94.5l0.9 1.3l9.3 -2.4l-0.9 -1.3z"/>
<path class="c17" d="M371.4 127.4l1.8 1.5l9.3 -2.1l-1.8 -1.5z"/>
<path class="c50" d="M351 116.2l1 1.3l9.3 -2.1l-1 -1.3z"/>
<path class="c111" d="M325.4 95.8l0.9 1.2l9.3 -2.4l-0.9 -1.2z"/>
<path class="c47" d="M352 117.5l1 1.3l9.3 -2.1l-1 -1.3z"/>
<path class="c9" d="M408.8 131l1.4 -0.1l4.6 -2l-1.4 0z"/>
<path class="c108" d="M326.3 97l0.9 1.2l9.2 -2.4l-0.8 -1.2z"/>
<path class="c44" d="M353 118.8l1 1.3l9.3 -2.1l-1 -1.3z"/>
<path class="c105" d="M327.2 98.2l0.8 1.2l9.3 -2.3l-0.9 -1.3z"/>
<path class="c23" d="M423.2 126.2l1.7 0l3.1 -1.4l-1.7 0z"/>
<path class="c102" d="M328 99.4l0.9 1.2l9.3 -2.3l-0.9 -1.2z"/>
<path class="c15" d="M373.2 128.9l1.7 1.5l9.3 -2l-1.7 -1.6z"/>
<path class="c41" d="M354 120.1l1 1.2l9.3 -2l-1 -1.3z"/>
<path class="c34" d="M434.4 122.9l1.1 -0.3l4.6 -2l-1 0.4z"/>
<path class="c16" d="M415.2 128.9l1.8 0.1l3.1 -1.4l-1.8 -0.1z"/>
<path class="c99" d="M328.9 100.6l0.9 1.3l9.3 -2.3l-0.9 -1.3z"/>
<path class="c29" d="M428 124.8l1.8 0.1l4.6 -2l-1.7 0z"/>
<path class="c95" d="M329.8 101.9l0.9 1.2l9.3 -2.3l-0.9 -1.2z"/>
<path class="c38" d="M355 121.3l1.2 1.4l9.3 -2.1l-1.2 -1.3z"/>
<path class="c92" d="M330.7 103.1l0.9 1.2l9.3 -2.2l-0.9 -1.3z"/>
<path class="c5" d="M387.8 131.5l7 3.9l9.3 -2.4l-7 -4z"/>
<path class="c89" d="M331.6 104.3l0.9 1.3l9.3 -2.2l-0.9 -1.3z"/>
<path class="c21" d="M420.1 127.6l1.7 0l3.1 -1.4l-1.7 0z"/>
<path class="c35" d="M356.2 122.7l1.2 1.3l9.3 -2l-1.2 -1.4z"/>
<path class="c12" d="M410.2 130.9l1.4 -0.1l4.7 -1.8l-1.5 -0.1z"/>
<path class="c12" d="M374.9 130.4l1.8 1.5l9.3 -2l-1.8 -1.5z"/>
<path class="c85" d="M332.5 105.6l0.9 1.3l9.2 -2.2l-0.8 -1.3z"/>
<path class="c7" d="M404.1 133l1.5 -0.1l4.6 -2l-1.4 0.1z"/>
<path class="c82" d="M333.4 106.9l0.8 1.3l9.3 -2.2l-0.9 -1.3z"/>
<path class="c38" d="M435.5 122.6l1 -0.4l4.6 -1.9l-1 0.3z"/>
<path class="c31" d="M357.4 124l1.2 1.3l9.3 -2l-1.2 -1.3z"/>
<path class="c78" d="M334.2 108.2l0.9 1.2l9.3 -2.2l-0.9 -1.2z"/>
<path class="c75" d="M335.1 109.4l0.9 1.3l9.3 -2.2l-0.9 -1.3z"/>
<path class="c26" d="M424.9 126.2l1.8 0l3.1 -1.3l-1.8 -0.1z"/>
<path class="c32" d="M429.8 124.9l1 -0.4l4.7 -1.9l-1.1 0.3z"/>
<path class="c71" d="M336 110.7l0.9 1.3l9.3 -2.2l-0.9 -1.3z"/>
<path class="c28" d="M358.6 125.3l1.1 1.4l9.3 -2l-1.1 -1.4z"/>
<path class="c19" d="M417 129l1.7 0l3.1 -1.4l-1.7 0z"/>
<path class="c68" d="M336.9 112l0.9 1.3l9.3 -2.2l-0.9 -1.3z"/>
<path class="c9" d="M376.7 131.9l1.8 1.5l9.3 -1.9l-1.8 -1.6z"/>
<path class="c65" d="M337.8 113.3l0.9 1.3l9.2 -2.2l-0.8 -1.3z"/>
<path class="c25" d="M359.7 126.7l1.2 1.3l9.3 -2l-1.2 -1.3z"/>
<path class="c61" d="M338.7 114.6l1 1.3l9.3 -2.2l-1 -1.3z"/>
<path class="c15" d="M411.6 130.8l1.4 0l4.7 -1.8l-1.4 0z"/>
<path class="c41" d="M436.5 122.2l1 -0.3l4.6 -2l-1 0.4z"/>
<path class="c10" d="M405.6 132.9l1.4 -0.2l4.6 -1.9l-1.4 0.1z"/>
<path class="c24" d="M421.8 127.6l1.8 0l3.1 -1.4l-1.8 0z"/>
<path class="c58" d="M339.7 115.9l1 1.2l9.3 -2.1l-1 -1.3z"/>
<path class="c22" d="M360.9 128l1.2 1.3l9.3 -1.9l-1.2 -1.4z"/>
<path class="c35" d="M430.8 124.5l1 -0.3l4.7 -2l-1 0.4z"/>
<path class="c55" d="M340.7 117.1l1 1.3l9.3 -2.2l-1 -1.2z"/>
<path class="c29" d="M425.2 126.9l0.8 -0.4l4.7 -1.9l-0.9 0.3z"/>
<path class="c52" d="M341.7 118.4l1 1.2l9.3 -2.1l-1 -1.3z"/>
<path class="c19" d="M362.1 129.3l1.8 1.5l9.3 -1.9l-1.8 -1.5z"/>
<path class="c49" d="M342.7 119.6l1 1.3l9.3 -2.1l-1 -1.3z"/>
<path class="c22" d="M418.7 129l1.8 0l3.1 -1.4l-1.8 0z"/>
<path class="c44" d="M437.5 121.9l1 -0.4l4.6 -1.9l-1 0.3z"/>
<path class="c18" d="M413 130.8l1.4 -0.1l4.7 -1.7l-1.4 0z"/>
<path class="c5" d="M394.8 135.4l1.5 0l9.3 -2.5l-1.5 0.1z"/>
<path class="c46" d="M343.7 120.9l1 1.3l9.3 -2.1l-1 -1.3z"/>
<path class="c12" d="M407 132.7l1.4 -0.1l4.6 -1.8l-1.4 0z"/>
<path class="c38" d="M431.8 124.2l1 -0.4l4.7 -1.9l-1 0.3z"/>
<path class="c43" d="M344.7 122.2l1 1.2l9.3 -2.1l-1 -1.2z"/>
<path class="c32" d="M426 126.5l0.9 -0.3l4.7 -2l-0.9 0.4z"/>
<path class="c16" d="M363.9 130.8l1.7 1.6l9.3 -2l-1.7 -1.5z"/>
<path class="c39" d="M345.7 123.4l1.2 1.3l9.3 -2l-1.2 -1.4z"/>
<path class="c26" d="M420.5 129l0.9 -0.5l4.6 -2l-0.8 0.4z"/>
<path class="c6" d="M378.5 133.4l7.1 4l9.2 -2l-7 -3.9z"/>
<path class="c47" d="M438.5 121.5l1 -0.3l4.6 -2l-1 0.4z"/>
<path class="c36" d="M346.9 124.7l1.2 1.4l9.3 -2.1l-1.2 -1.3z"/>
<path class="c20" d="M414.4 130.7l1.5 0l4.6 -1.7l-1.4 0z"/>
<path class="c14" d="M365.6 132.4l1.8 1.5l9.3 -2l-1.8 -1.5z"/>
<path class="c41" d="M432.8 123.8l1 -0.4l4.7 -1.9l-1 0.4z"/>
<path class="c8" d="M396.3 135.4l1.4 0l9.3 -2.7l-1.4 0.2z"/>
<path class="c35" d="M426.9 126.2l0.9 -0.4l4.7 -1.9l-0.9 0.3z"/>
<path class="c15" d="M408.4 132.6l1.4 -0.1l4.6 -1.8l-1.4 0.1z"/>
<path class="c33" d="M348.1 126.1l1.2 1.3l9.3 -2.1l-1.2 -1.3z"/>
<path class="c29" d="M421.4 128.5l0.9 -0.4l4.6 -1.9l-0.9 0.3z"/>
<path class="c30" d="M349.3 127.4l1.2 1.3l9.2 -2l-1.1 -1.4z"/>
<path class="c50" d="M439.5 121.2l1 -0.4l4.7 -1.9l-1.1 0.3z"/>
<path class="c11" d="M367.4 133.9l1.8 1.5l9.3 -2l-1.8 -1.5z"/>
<path class="c38" d="M427.8 125.8l0.9 -0.4l4.6 -1.8l-0.8 0.3z"/>
<path class="c23" d="M415.9 130.7l0.9 -0.5l4.6 -1.7l-0.9 0.5z"/>
<path class="c27" d="M350.5 128.7l1.1 1.4l9.3 -2.1l-1.2 -1.3z"/>
<path class="c45" d="M433.8 123.4l1.1 -0.3l4.6 -1.9l-1 0.3z"/>
<path class="c11" d="M397.7 135.4l1.4 -0.1l9.3 -2.7l-1.4 0.1z"/>
<path class="c18" d="M409.8 132.5l1.4 -0.1l4.7 -1.7l-1.5 0z"/>
<path class="c24" d="M351.6 130.1l1.2 1.3l9.3 -2.1l-1.2 -1.3z"/>
<path class="c32" d="M422.3 128.1l0.9 -0.5l4.6 -1.8l-0.9 0.4z"/>
<path class="c54" d="M440.5 120.8l1 -0.3l4.7 -1.9l-1 0.3z"/>
<path class="c41" d="M428.7 125.4l0.9 -0.4l4.6 -1.7l-0.9 0.3z"/>
<path class="c27" d="M416.8 130.2l0.8 -0.5l4.7 -1.6l-0.9 0.4z"/>
<path class="c21" d="M352.8 131.4l1.8 1.5l9.3 -2.1l-1.8 -1.5z"/>
<path class="c48" d="M434.9 123.1l1 -0.4l4.6 -1.9l-1 0.4z"/>
<path class="c9" d="M369.2 135.4l3.5 2.1l9.3 -2.1l-3.5 -2z"/>
<path class="c6" d="M385.6 137.4l1.4 0.1l9.3 -2.1l-1.5 0z"/>
<path class="c35" d="M423.2 127.6l0.8 -0.5l4.7 -1.7l-0.9 0.4z"/>
<path class="c14" d="M399.1 135.3l1.4 0l9.3 -2.8l-1.4 0.1z"/>
<path class="c22" d="M411.2 132.4l0.9 -0.6l4.7 -1.6l-0.9 0.5z"/>
<path class="c18" d="M354.6 132.9l1.8 1.5l9.2 -2l-1.7 -1.6z"/>
<path class="c44" d="M429.6 125l0.9 -0.4l4.6 -1.6l-0.9 0.3z"/>
<path class="c30" d="M417.6 129.7l0.9 -0.5l4.7 -1.6l-0.9 0.5z"/>
<path class="c51" d="M435.9 122.7l1 -0.3l4.6 -1.9l-1 0.3z"/>
<path class="c39" d="M424 127.1l0.9 -0.4l4.7 -1.7l-0.9 0.4z"/>
<path class="c9" d="M387 137.5l1.4 0l9.3 -2.1l-1.4 0z"/>
<path class="c25" d="M412.1 131.8l0.9 -0.5l4.6 -1.6l-0.8 0.5z"/>
<path class="c16" d="M356.4 134.4l1.7 1.6l9.3 -2.1l-1.8 -1.5z"/>
<path class="c46" d="M430.5 124.6l0.9 -0.4l4.6 -1.5l-0.9 0.3z"/>
<path class="c17" d="M400.5 135.3l1.4 0l9.3 -2.9l-1.4 0.1z"/>
<path class="c34" d="M418.5 129.2l0.9 -0.6l4.6 -1.5l-0.8 0.5z"/>
<path class="c7" d="M372.7 137.5l3.6 2.1l9.3 -2.2l-3.6 -2z"/>
<path class="c42" d="M424.9 126.7l0.9 -0.5l4.7 -1.6l-0.9 0.4z"/>
<path class="c13" d="M358.1 136l1.8 1.5l9.3 -2.1l-1.8 -1.5z"/>
<path class="c29" d="M413 131.3l0.9 -0.6l4.6 -1.5l-0.9 0.5z"/>
<path class="c49" d="M431.4 124.2l0.8 -0.4l4.7 -1.4l-0.9 0.3z"/>
<path class="c11" d="M388.4 137.5l1.4 0.1l9.3 -2.3l-1.4 0.1z"/>
<path class="c20" d="M401.9 135.3l0.9 -0.6l9.3 -2.9l-0.9 0.6z"/>
<path class="c37" d="M419.4 128.6l0.9 -0.5l4.6 -1.4l-0.9 0.4z"/>
<path class="c45" d="M425.8 126.2l0.9 -0.4l4.7 -1.6l-0.9 0.4z"/>
<path class="c33" d="M413.9 130.7l0.9 -0.5l4.6 -1.6l-0.9 0.6z"/>
<path class="c10" d="M359.9 137.5l3.5 2.2l9.3 -2.2l-3.5 -2.1z"/>
<path class="c24" d="M402.8 134.7l0.9 -0.6l9.3 -2.8l-0.9 0.5z"/>
<path class="c41" d="M420.3 128.1l0.9 -0.5l4.6 -1.4l-0.9 0.5z"/>
<path class="c14" d="M389.8 137.6l1.4 0.1l9.3 -2.4l-1.4 0z"/>
<path class="c8" d="M376.3 139.6l1.7 0.2l9.3 -2.3l-1.7 -0.1z"/>
<path class="c48" d="M426.7 125.8l0.9 -0.5l4.6 -1.5l-0.8 0.4z"/>
<path class="c53" d="M427.6 125.3l0.9 -0.9l9.3 -2.8l-0.9 0.8z"/>
<path class="c36" d="M414.8 130.2l0.8 -0.6l4.7 -1.5l-0.9 0.5z"/>
<path class="c44" d="M421.2 127.6l0.9 -0.5l4.6 -1.3l-0.9 0.4z"/>
<path class="c28" d="M403.7 134.1l0.9 -0.5l9.3 -2.9l-0.9 0.6z"/>
<path class="c16" d="M391.2 137.7l1.4 0l9.3 -2.4l-1.4 0z"/>
<path class="c11" d="M378 139.8l1.8 0.1l9.3 -2.3l-1.8 -0.1z"/>
<path class="c40" d="M415.6 129.6l0.9 -0.5l4.7 -1.5l-0.9 0.5z"/>
<path class="c58" d="M428.5 124.4l0.9 -0.8l9.2 -2.7l-0.8 0.7z"/>
<path class="c8" d="M363.4 139.7l3.6 2.2l9.3 -2.3l-3.6 -2.1z"/>
<path class="c48" d="M422.1 127.1l0.8 -0.5l4.7 -1.3l-0.9 0.5z"/>
<path class="c31" d="M404.6 133.6l0.9 -0.6l9.3 -2.8l-0.9 0.5z"/>
<path class="c19" d="M392.6 137.7l0.9 -0.5l9.3 -2.5l-0.9 0.6z"/>
<path class="c44" d="M416.5 129.1l0.9 -0.6l4.7 -1.4l-0.9 0.5z"/>
<path class="c62" d="M429.4 123.6l0.8 -0.9l9.3 -2.5l-0.9 0.7z"/>
<path class="c35" d="M405.5 133l0.9 -0.6l9.2 -2.8l-0.8 0.6z"/>
<path class="c13" d="M379.8 139.9l1.8 0.2l9.3 -2.5l-1.8 0z"/>
<path class="c23" d="M393.5 137.2l0.9 -0.6l9.3 -2.5l-0.9 0.6z"/>
<path class="c47" d="M417.4 128.5l0.9 -0.5l4.6 -1.4l-0.8 0.5z"/>
<path class="c9" d="M367 141.9l1.8 0.2l9.2 -2.3l-1.7 -0.2z"/>
<path class="c52" d="M418.3 128l0.9 -0.9l9.3 -2.7l-0.9 0.9z"/>
<path class="c67" d="M430.2 122.7l0.9 -0.9l9.3 -2.4l-0.9 0.8z"/>
<path class="c39" d="M406.4 132.4l0.8 -0.6l9.3 -2.7l-0.9 0.5z"/>
<path class="c27" d="M394.4 136.6l0.9 -0.5l9.3 -2.5l-0.9 0.5z"/>
<path class="c16" d="M381.6 140.1l1.7 0.1l9.3 -2.5l-1.7 -0.1z"/>
<path class="c57" d="M419.2 127.1l0.9 -1l9.3 -2.5l-0.9 0.8z"/>
<path class="c72" d="M431.1 121.8l0.9 -0.8l9.3 -2.3l-0.9 0.7z"/>
<path class="c11" d="M368.8 142.1l1.7 0.2l9.3 -2.4l-1.8 -0.1z"/>
<path class="c43" d="M407.2 131.8l0.9 -0.5l9.3 -2.8l-0.9 0.6z"/>
<path class="c31" d="M395.3 136.1l0.9 -0.6l9.3 -2.5l-0.9 0.6z"/>
<path class="c19" d="M383.3 140.2l0.9 -0.5l9.3 -2.5l-0.9 0.5z"/>
<path class="c47" d="M408.1 131.3l0.9 -0.6l9.3 -2.7l-0.9 0.5z"/>
<path class="c77" d="M432 121l0.9 -0.9l9.3 -2.1l-0.9 0.7z"/>
<path class="c62" d="M420.1 126.1l0.9 -0.9l9.2 -2.5l-0.8 0.9z"/>
<path class="c35" d="M396.2 135.5l0.9 -0.5l9.3 -2.6l-0.9 0.6z"/>
<path class="c14" d="M370.5 142.3l1.8 0.3l9.3 -2.5l-1.8 -0.2z"/>
<path class="c23" d="M384.2 139.7l0.9 -0.5l9.3 -2.6l-0.9 0.6z"/>
<path class="c51" d="M409 130.7l0.9 -0.9l9.3 -2.7l-0.9 0.9z"/>
<path class="c81" d="M432.9 120.1l0.9 -0.8l9.3 -2.1l-0.9 0.8z"/>
<path class="c67" d="M421 125.2l0.8 -0.9l9.3 -2.5l-0.9 0.9z"/>
<path class="c38" d="M397.1 135l0.9 -0.6l9.2 -2.6l-0.8 0.6z"/>
<path class="c27" d="M385.1 139.2l0.9 -0.6l9.3 -2.5l-0.9 0.5z"/>
<path class="c16" d="M372.3 142.6l1.8 0.2l9.2 -2.6l-1.7 -0.1z"/>
<path class="c56" d="M409.9 129.8l0.9 -1l9.3 -2.7l-0.9 1z"/>
<path class="c42" d="M398 134.4l0.8 -0.5l9.3 -2.6l-0.9 0.5z"/>
<path class="c86" d="M433.8 119.3l0.9 -0.9l9.3 -1.9l-0.9 0.7z"/>
<path class="c72" d="M421.8 124.3l0.9 -0.9l9.3 -2.4l-0.9 0.8z"/>
<path class="c31" d="M386 138.6l0.9 -0.5l9.3 -2.6l-0.9 0.6z"/>
<path class="c19" d="M374.1 142.8l0.8 -0.6l9.3 -2.5l-0.9 0.5z"/>
<path class="c46" d="M398.8 133.9l0.9 -0.6l9.3 -2.6l-0.9 0.6z"/>
<path class="c62" d="M410.8 128.8l0.9 -0.9l9.3 -2.7l-0.9 0.9z"/>
<path class="c77" d="M422.7 123.4l0.9 -0.9l9.3 -2.4l-0.9 0.9z"/>
<path class="c34" d="M386.9 138.1l0.9 -0.6l9.3 -2.5l-0.9 0.5z"/>
<path class="c23" d="M374.9 142.2l0.9 -0.5l9.3 -2.5l-0.9 0.5z"/>
<path class="c51" d="M399.7 133.3l0.9 -0.9l9.3 -2.6l-0.9 0.9z"/>
<path class="c67" d="M411.7 127.9l0.9 -0.9l9.2 -2.7l-0.8 0.9z"/>
<path class="c38" d="M387.8 137.5l0.9 -0.5l9.2 -2.6l-0.8 0.6z"/>
<path class="c82" d="M423.6 122.5l0.9 -0.9l9.3 -2.3l-0.9 0.8z"/>
<path class="c27" d="M375.8 141.7l0.9 -0.5l9.3 -2.6l-0.9 0.6z"/>
<path class="c56" d="M400.6 132.4l0.9 -0.9l9.3 -2.7l-0.9 1z"/>
<path class="c42" d="M388.7 137l0.8 -0.6l9.3 -2.5l-0.9 0.5z"/>
<path class="c72" d="M412.6 127l0.8 -0.9l9.3 -2.7l-0.9 0.9z"/>
<path class="c88" d="M424.5 121.6l0.9 -0.9l9.3 -2.3l-0.9 0.9z"/>
<path class="c30" d="M376.7 141.2l0.9 -0.6l9.3 -2.5l-0.9 0.5z"/>
<path class="c46" d="M389.5 136.4l0.9 -0.5l9.3 -2.6l-0.9 0.6z"/>
<path class="c61" d="M401.5 131.5l0.9 -1l9.3 -2.6l-0.9 0.9z"/>
<path class="c77" d="M413.4 126.1l0.9 -0.9l9.3 -2.7l-0.9 0.9z"/>
<path class="c34" d="M377.6 140.6l0.9 -0.5l9.3 -2.6l-0.9 0.6z"/>
<path class="c93" d="M425.4 120.7l0.9 -1.2l9.3 -2.4l-0.9 1.3z"/>
<path class="c50" d="M390.4 135.9l0.9 -0.9l9.3 -2.6l-0.9 0.9z"/>
<path class="c66" d="M402.4 130.5l0.9 -0.9l9.3 -2.6l-0.9 0.9z"/>
<path class="c38" d="M378.5 140.1l0.9 -0.6l9.3 -2.5l-0.9 0.5z"/>
<path class="c82" d="M414.3 125.2l0.9 -1l9.3 -2.6l-0.9 0.9z"/>
<path class="c100" d="M426.3 119.5l0.9 -1.3l9.2 -2.4l-0.8 1.3z"/>
<path class="c55" d="M391.3 135l0.9 -1l9.3 -2.5l-0.9 0.9z"/>
<path class="c42" d="M379.4 139.5l0.9 -0.5l9.2 -2.6l-0.8 0.6z"/>
<path class="c71" d="M403.3 129.6l0.8 -0.9l9.3 -2.6l-0.8 0.9z"/>
<path class="c88" d="M415.2 124.2l0.9 -0.9l9.3 -2.6l-0.9 0.9z"/>
<path class="c106" d="M427.2 118.2l0.8 -1.2l9.3 -2.5l-0.9 1.3z"/>
<path class="c45" d="M380.3 139l0.8 -0.5l9.3 -2.6l-0.9 0.5z"/>
<path class="c61" d="M392.2 134l0.9 -0.9l9.3 -2.6l-0.9 1z"/>
<path class="c77" d="M404.1 128.7l0.9 -1l9.3 -2.5l-0.9 0.9z"/>
<path class="c93" d="M416.1 123.3l0.9 -1.2l9.3 -2.6l-0.9 1.2z"/>
<path class="c50" d="M381.1 138.5l0.9 -1l9.3 -2.5l-0.9 0.9z"/>
<path class="c113" d="M428 117l0.9 -1.2l9.3 -2.6l-0.9 1.3z"/>
<path class="c66" d="M393.1 133.1l0.9 -1l9.3 -2.5l-0.9 0.9z"/>
<path class="c82" d="M405 127.7l0.9 -0.9l9.3 -2.6l-0.9 1z"/>
<path class="c100" d="M417 122.1l0.9 -1.2l9.3 -2.7l-0.9 1.3z"/>
<path class="c55" d="M382 137.5l0.9 -0.9l9.3 -2.6l-0.9 1z"/>
<path class="c119" d="M428.9 115.8l0.9 -1.2l9.3 -2.6l-0.9 1.2z"/>
<path class="c71" d="M394 132.1l0.9 -0.9l9.2 -2.5l-0.8 0.9z"/>
<path class="c87" d="M405.9 126.8l0.9 -0.9l9.3 -2.6l-0.9 0.9z"/>
<path class="c106" d="M417.9 120.9l0.8 -1.2l9.3 -2.7l-0.8 1.2z"/>
<path class="c61" d="M382.9 136.6l0.9 -1l9.3 -2.5l-0.9 0.9z"/>
<path class="c76" d="M394.9 131.2l0.8 -0.9l9.3 -2.6l-0.9 1z"/>
<path class="c126" d="M429.8 114.6l0.9 -1.2l9.3 -2.7l-0.9 1.3z"/>
<path class="c93" d="M406.8 125.9l0.9 -1.2l9.3 -2.6l-0.9 1.2z"/>
<path class="c112" d="M418.7 119.7l0.9 -1.1l9.3 -2.8l-0.9 1.2z"/>
<path class="c66" d="M383.8 135.6l0.9 -1l9.3 -2.5l-0.9 1z"/>
<path class="c82" d="M395.7 130.3l0.9 -1l9.3 -2.5l-0.9 0.9z"/>
<path class="c132" d="M430.7 113.4l0.9 -1.2l9.3 -2.8l-0.9 1.3z"/>
<path class="c99" d="M407.7 124.7l0.9 -1.2l9.3 -2.6l-0.9 1.2z"/>
<path class="c119" d="M419.6 118.6l0.9 -1.2l9.3 -2.8l-0.9 1.2z"/>
<path class="c71" d="M384.7 134.6l0.9 -0.9l9.3 -2.5l-0.9 0.9z"/>
<path class="c87" d="M396.6 129.3l0.9 -0.9l9.3 -2.5l-0.9 0.9z"/>
<path class="c139" d="M431.6 112.2l0.9 -1.2l9.3 -2.9l-0.9 1.3z"/>
<path class="c106" d="M408.6 123.5l0.9 -1.2l9.2 -2.6l-0.8 1.2z"/>
<path class="c76" d="M385.6 133.7l0.8 -1l9.3 -2.4l-0.8 0.9z"/>
<path class="c125" d="M420.5 117.4l0.9 -1.2l9.3 -2.8l-0.9 1.2z"/>
<path class="c93" d="M397.5 128.4l0.9 -1.2l9.3 -2.5l-0.9 1.2z"/>
<path class="c112" d="M409.5 122.3l0.8 -1.2l9.3 -2.5l-0.9 1.1z"/>
<path class="c82" d="M386.4 132.7l0.9 -0.9l9.3 -2.5l-0.9 1z"/>
<path class="c131" d="M421.4 116.2l0.9 -1.2l9.3 -2.8l-0.9 1.2z"/>
<path class="c99" d="M398.4 127.2l0.9 -1.2l9.3 -2.5l-0.9 1.2z"/>
<path class="c118" d="M410.3 121.1l0.9 -1.2l9.3 -2.5l-0.9 1.2z"/>
<path class="c87" d="M387.3 131.8l0.9 -1l9.3 -2.4l-0.9 0.9z"/>
<path class="c138" d="M422.3 115l0.9 -1.2l9.3 -2.8l-0.9 1.2z"/>
<path class="c105" d="M399.3 126l0.9 -1.2l9.3 -2.5l-0.9 1.2z"/>
<path class="c124" d="M411.2 119.9l0.9 -1.2l9.3 -2.5l-0.9 1.2z"/>
<path class="c93" d="M388.2 130.8l0.9 -1.2l9.3 -2.4l-0.9 1.2z"/>
<path class="c112" d="M400.2 124.8l0.8 -1.2l9.3 -2.5l-0.8 1.2z"/>
<path class="c131" d="M412.1 118.7l0.9 -1.2l9.3 -2.5l-0.9 1.2z"/>
<path class="c99" d="M389.1 129.6l0.9 -1.2l9.3 -2.4l-0.9 1.2z"/>
<path class="c118" d="M401 123.6l0.9 -1.2l9.3 -2.5l-0.9 1.2z"/>
<path class="c137" d="M413 117.5l0.9 -1.2l9.3 -2.5l-0.9 1.2z"/>
<path class="c106" d="M390 128.4l0.9 -1.3l9.3 -2.3l-0.9 1.2z"/>
<path class="c124" d="M401.9 122.4l0.9 -1.2l9.3 -2.5l-0.9 1.2z"/>
<path class="c112" d="M390.9 127.1l0.9 -1.2l9.2 -2.3l-0.8 1.2z"/>
<path class="c131" d="M402.8 121.2l0.9 -1.2l9.3 -2.5l-0.9 1.2z"/>
<path class="c118" d="M391.8 125.9l0.8 -1.2l9.3 -2.3l-0.9 1.2z"/>
<path class="c137" d="M403.7 120l0.9 -1.2l9.3 -2.5l-0.9 1.2z"/>
<path class="c125" d="M392.6 124.7l0.9 -1.2l9.3 -2.3l-0.9 1.2z"/>
<path class="c131" d="M393.5 123.5l0.9 -1.3l9.3 -2.2l-0.9 1.2z"/>
<path class="c137" d="M394.4 122.2l0.9 -1.2l9.3 -2.2l-0.9 1.2z"/></g>
<line x1="324.5" y1="130.4" x2="324.5" y2="59.4" stroke="#444444" stroke-width="0.7"/>
<line x1="324.5" y1="130.4" x2="395.3" y2="163.2" stroke="#444444" stroke-width="0.7"/>
<line x1="395.3" y1="163.2" x2="488.2" y2="138.2" stroke="#444444" stroke-width="0.7"/>
<line x1="324.5" y1="130.4" x2="322.5" y2="131" stroke="#444444" stroke-width="0.7"/>
<line x1="395.3" y1="163.2" x2="397.3" y2="164.4" stroke="#444444" stroke-width="0.7"/>
<line x1="359.9" y1="146.8" x2="357.9" y2="147.4" stroke="#444444" stroke-width="0.7"/>
<line x1="441.8" y1="150.7" x2="443.8" y2="151.9" stroke="#444444" stroke-width="0.7"/>
<line x1="395.3" y1="163.2" x2="393.3" y2="163.8" stroke="#444444" stroke-width="0.7"/>
<line x1="488.2" y1="138.2" x2="490.2" y2="139.4" stroke="#444444" stroke-width="0.7"/>
<line x1="324.5" y1="130.4" x2="322.7" y2="129.9" stroke="#444444" stroke-width="0.7"/>
<line x1="324.5" y1="94.9" x2="322.7" y2="94.4" stroke="#444444" stroke-width="0.7"/>
<line x1="324.5" y1="59.4" x2="322.7" y2="58.9" stroke="#444444" stroke-width="0.7"/>
<text x="318.9" y="132.4" font-size="8" text-anchor="end">5</text>
<text x="318.9" y="96.9" font-size="8" text-anchor="end">10</text>
<text x="318.9" y="61.4" font-size="8" text-anchor="end">15</text>
<text x="316.3" y="140.8" font-size="8" text-anchor="middle">8</text>
<text x="351.4" y="157.8" font-size="8" text-anchor="middle">9</text>
<text x="385.1" y="173.7" font-size="8" text-anchor="middle">10</text>
<text x="405.5" y="174.8" font-size="8" text-anchor="middle">12</text>
<text x="452.7" y="162.1" font-size="8" text-anchor="middle">11</text>
<text x="497.9" y="149.8" font-size="8" text-anchor="middle">10</text>
<text x="346.5" y="178.5" font-size="9.5" text-anchor="middle">LWL</text>
<text x="450.5" y="180.1" font-size="9.5" text-anchor="middle">HWL</text>
<text font-size="9.4" text-anchor="middle" transform="translate(304.9 95.4) rotate(-90)">day</text>
<text x="406.2" y="30.9" font-size="9.25" text-anchor="middle">Guanxi River</text>
<text x="322.9" y="22.8" font-size="12" font-weight="bold" fill="#000">(b)</text>
<rect x="513" y="35.4" width="16" height="127.6" fill="url(#pg)" stroke="#3a3a3a" stroke-width="0.6"/>
<line x1="527.6" y1="160.1" x2="529" y2="160.1" stroke="#3a3a3a" stroke-width="0.6"/>
<text x="532.6" y="163" font-size="8">6</text>
<line x1="527.6" y1="137.7" x2="529" y2="137.7" stroke="#3a3a3a" stroke-width="0.6"/>
<text x="532.6" y="140.6" font-size="8">7</text>
<line x1="527.6" y1="115.4" x2="529" y2="115.4" stroke="#3a3a3a" stroke-width="0.6"/>
<text x="532.6" y="118.3" font-size="8">8</text>
<line x1="527.6" y1="93.1" x2="529" y2="93.1" stroke="#3a3a3a" stroke-width="0.6"/>
<text x="532.6" y="96" font-size="8">9</text>
<line x1="527.6" y1="70.7" x2="529" y2="70.7" stroke="#3a3a3a" stroke-width="0.6"/>
<text x="532.6" y="73.6" font-size="8">10</text>
<line x1="527.6" y1="48.4" x2="529" y2="48.4" stroke="#3a3a3a" stroke-width="0.6"/>
<text x="532.6" y="51.3" font-size="8">11</text>
</g>
<g id="pc">
<line x1="29.8" y1="309.2" x2="122.7" y2="284.2" stroke="#dcdcdc" stroke-width="0.6"/>
<line x1="29.8" y1="309.2" x2="100.6" y2="342" stroke="#dcdcdc" stroke-width="0.6"/>
<line x1="65.2" y1="325.6" x2="158.1" y2="300.6" stroke="#dcdcdc" stroke-width="0.6"/>
<line x1="76.2" y1="296.7" x2="147.1" y2="329.5" stroke="#dcdcdc" stroke-width="0.6"/>
<line x1="100.6" y1="342" x2="193.5" y2="317" stroke="#dcdcdc" stroke-width="0.6"/>
<line x1="122.7" y1="284.2" x2="193.5" y2="317" stroke="#dcdcdc" stroke-width="0.6"/>
<line x1="29.8" y1="309.2" x2="29.8" y2="238.2" stroke="#dcdcdc" stroke-width="0.6"/>
<line x1="122.7" y1="284.2" x2="122.7" y2="213.2" stroke="#dcdcdc" stroke-width="0.6"/>
<line x1="76.2" y1="296.7" x2="76.2" y2="225.7" stroke="#dcdcdc" stroke-width="0.6"/>
<line x1="158.1" y1="300.6" x2="158.1" y2="229.6" stroke="#dcdcdc" stroke-width="0.6"/>
<line x1="122.7" y1="284.2" x2="122.7" y2="213.2" stroke="#dcdcdc" stroke-width="0.6"/>
<line x1="193.5" y1="317" x2="193.5" y2="246" stroke="#dcdcdc" stroke-width="0.6"/>
<line x1="29.8" y1="309.2" x2="122.7" y2="284.2" stroke="#dcdcdc" stroke-width="0.6"/>
<line x1="122.7" y1="284.2" x2="193.5" y2="317" stroke="#dcdcdc" stroke-width="0.6"/>
<line x1="29.8" y1="273.7" x2="122.7" y2="248.7" stroke="#dcdcdc" stroke-width="0.6"/>
<line x1="122.7" y1="248.7" x2="193.5" y2="281.5" stroke="#dcdcdc" stroke-width="0.6"/>
<line x1="29.8" y1="238.2" x2="122.7" y2="213.2" stroke="#dcdcdc" stroke-width="0.6"/>
<line x1="122.7" y1="213.2" x2="193.5" y2="246" stroke="#dcdcdc" stroke-width="0.6"/>
<line x1="29.8" y1="238.2" x2="122.7" y2="213.2" stroke="#dcdcdc" stroke-width="0.6"/>
<line x1="122.7" y1="213.2" x2="193.5" y2="246" stroke="#dcdcdc" stroke-width="0.6"/>
<g class="s"><path class="c104" d="M126.6 256.5l0.9 2.1l2.3 -0.9l-0.9 -2.2z"/>
<path class="c99" d="M126.7 259l0.9 1.3l3.1 -1.3l-0.9 -1.3z"/>
<path class="c95" d="M127.6 260.3l0.9 1.4l3.1 -1.3l-0.9 -1.4z"/>
<path class="c111" d="M125.7 254.4l0.9 2.1l2.3 -1l-0.9 -2.2z"/>
<path class="c91" d="M128.5 261.7l0.8 1.4l3.1 -1.4l-0.8 -1.3z"/>
<path class="c87" d="M129.3 263.1l0.9 1.4l3.1 -1.4l-0.9 -1.4z"/>
<path class="c118" d="M124.8 252.3l0.9 2.1l2.3 -1.1l-0.9 -2.1z"/>
<path class="c84" d="M130.2 264.5l0.9 1.4l3.1 -1.4l-0.9 -1.4z"/>
<path class="c80" d="M131.1 265.9l0.9 1.3l3.1 -1.4l-0.9 -1.3z"/>
<path class="c103" d="M124.3 257.6l0.8 2l2.4 -1l-0.9 -2.1z"/>
<path class="c124" d="M123.9 250.2l0.9 2.1l2.3 -1.1l-0.9 -2.2z"/>
<path class="c76" d="M132 267.2l0.9 1.4l3.1 -1.4l-0.9 -1.4z"/>
<path class="c72" d="M132.9 268.6l0.9 1.4l3.1 -1.5l-0.9 -1.3z"/>
<path class="c109" d="M123.4 255.5l0.9 2.1l2.3 -1.1l-0.9 -2.1z"/>
<path class="c131" d="M123 248.1l0.9 2.1l2.3 -1.2l-0.8 -2.2z"/>
<path class="c97" d="M123.6 260.2l0.9 1.5l3.1 -1.4l-0.9 -1.3z"/>
<path class="c93" d="M124.5 261.7l0.9 1.4l3.1 -1.4l-0.9 -1.4z"/>
<path class="c69" d="M133.8 270l1 1.3l3.1 -1.5l-1 -1.3z"/>
<path class="c116" d="M122.5 253.5l0.9 2l2.3 -1.1l-0.9 -2.1z"/>
<path class="c138" d="M122.1 246l0.9 2.1l2.4 -1.3l-0.9 -2.1z"/>
<path class="c89" d="M125.4 263.1l0.8 1.4l3.1 -1.4l-0.8 -1.4z"/>
<path class="c85" d="M126.2 264.5l0.9 1.4l3.1 -1.4l-0.9 -1.4z"/>
<path class="c122" d="M121.6 251.4l0.9 2.1l2.3 -1.2l-0.9 -2.1z"/>
<path class="c101" d="M121.9 258.6l0.9 2l2.3 -1l-0.8 -2z"/>
<path class="c66" d="M134.8 271.3l1 1.2l3.1 -1.4l-1 -1.3z"/>
<path class="c81" d="M127.1 265.9l0.9 1.4l3.1 -1.4l-0.9 -1.4z"/>
<path class="c145" d="M121.3 243.9l0.8 2.1l2.4 -1.3l-0.9 -2.2z"/>
<path class="c129" d="M120.7 249.4l0.9 2l2.3 -1.2l-0.9 -2.1z"/>
<path class="c77" d="M128 267.3l0.9 1.4l3.1 -1.5l-0.9 -1.3z"/>
<path class="c107" d="M121 256.6l0.9 2l2.4 -1l-0.9 -2.1z"/>
<path class="c74" d="M128.9 268.7l0.9 1.4l3.1 -1.5l-0.9 -1.4z"/>
<path class="c63" d="M135.8 272.5l1 1.3l3.1 -1.5l-1 -1.2z"/>
<path class="c152" d="M120.4 241.8l0.9 2.1l2.3 -1.4l-0.9 -2.2z"/>
<path class="c114" d="M120.2 254.6l0.8 2l2.4 -1.1l-0.9 -2z"/>
<path class="c135" d="M119.8 247.3l0.9 2.1l2.3 -1.3l-0.9 -2.1z"/>
<path class="c70" d="M129.8 270.1l0.9 1.4l3.1 -1.5l-0.9 -1.4z"/>
<path class="c95" d="M120.5 261.5l0.9 1.5l3.1 -1.3l-0.9 -1.5z"/>
<path class="c120" d="M119.3 252.6l0.9 2l2.3 -1.1l-0.9 -2.1z"/>
<path class="c59" d="M136.8 273.8l1 1.3l3.1 -1.5l-1 -1.3z"/>
<path class="c66" d="M130.7 271.5l1 1.2l3.1 -1.4l-1 -1.3z"/>
<path class="c142" d="M118.9 245.3l0.9 2l2.3 -1.3l-0.8 -2.1z"/>
<path class="c91" d="M121.4 263l0.9 1.4l3.1 -1.3l-0.9 -1.4z"/>
<path class="c100" d="M119.6 259.6l0.9 1.9l2.3 -0.9l-0.9 -2z"/>
<path class="c126" d="M118.4 250.6l0.9 2l2.3 -1.2l-0.9 -2z"/>
<path class="c87" d="M122.3 264.4l0.8 1.4l3.1 -1.3l-0.8 -1.4z"/>
<path class="c148" d="M118.1 243.2l0.8 2.1l2.4 -1.4l-0.9 -2.1z"/>
<path class="c83" d="M123.1 265.8l0.9 1.4l3.1 -1.3l-0.9 -1.4z"/>
<path class="c106" d="M118.7 257.7l0.9 1.9l2.3 -1l-0.9 -2z"/>
<path class="c56" d="M137.8 275.1l1 1.2l3.1 -1.5l-1 -1.2z"/>
<path class="c63" d="M131.7 272.7l1 1.3l3.1 -1.5l-1 -1.2z"/>
<path class="c133" d="M117.5 248.6l0.9 2l2.3 -1.2l-0.9 -2.1z"/>
<path class="c79" d="M124 267.2l0.9 1.5l3.1 -1.4l-0.9 -1.4z"/>
<path class="c112" d="M117.8 255.7l0.9 2l2.3 -1.1l-0.8 -2z"/>
<path class="c75" d="M124.9 268.7l0.9 1.4l3.1 -1.4l-0.9 -1.4z"/>
<path class="c139" d="M116.6 246.6l0.9 2l2.3 -1.3l-0.9 -2z"/>
<path class="c53" d="M138.8 276.3l1 1.3l3.1 -1.5l-1 -1.3z"/>
<path class="c60" d="M132.7 274l1 1.3l3.1 -1.5l-1 -1.3z"/>
<path class="c71" d="M125.8 270.1l0.9 1.4l3.1 -1.4l-0.9 -1.4z"/>
<path class="c118" d="M117 253.8l0.8 1.9l2.4 -1.1l-0.9 -2z"/>
<path class="c67" d="M126.7 271.5l0.9 1.4l3.1 -1.4l-0.9 -1.4z"/>
<path class="c145" d="M115.7 244.6l0.9 2l2.3 -1.3l-0.8 -2.1z"/>
<path class="c124" d="M116.1 251.9l0.9 1.9l2.3 -1.2l-0.9 -2z"/>
<path class="c50" d="M139.8 277.6l1 1.2l3.1 -1.4l-1 -1.3z"/>
<path class="c57" d="M133.7 275.3l1 1.2l3.1 -1.4l-1 -1.3z"/>
<path class="c64" d="M127.6 272.9l1 1.3l3.1 -1.5l-1 -1.2z"/>
<path class="c130" d="M115.2 250l0.9 1.9l2.3 -1.3l-0.9 -2z"/>
<path class="c98" d="M116.5 260.9l0.9 1.8l3.1 -1.2l-0.9 -1.9z"/>
<path class="c136" d="M114.3 248l0.9 2l2.3 -1.4l-0.9 -2z"/>
<path class="c104" d="M115.6 259l0.9 1.9l3.1 -1.3l-0.9 -1.9z"/>
<path class="c54" d="M134.7 276.5l1 1.3l3.1 -1.5l-1 -1.2z"/>
<path class="c61" d="M128.6 274.2l1 1.3l3.1 -1.5l-1 -1.3z"/>
<path class="c93" d="M115.8 263.3l0.9 1.5l4.7 -1.8l-0.9 -1.5z"/>
<path class="c110" d="M114.7 257.1l0.9 1.9l3.1 -1.3l-0.9 -2z"/>
<path class="c142" d="M113.4 246.1l0.9 1.9l2.3 -1.4l-0.9 -2z"/>
<path class="c89" d="M116.7 264.8l0.9 1.4l4.7 -1.8l-0.9 -1.4z"/>
<path class="c47" d="M140.8 278.8l1.5 1.4l3.1 -1.5l-1.5 -1.3z"/>
<path class="c116" d="M113.9 255.2l0.8 1.9l3.1 -1.4l-0.9 -1.9z"/>
<path class="c85" d="M117.6 266.2l0.9 1.4l4.6 -1.8l-0.8 -1.4z"/>
<path class="c51" d="M135.7 277.8l1 1.3l3.1 -1.5l-1 -1.3z"/>
<path class="c58" d="M129.6 275.5l1 1.2l3.1 -1.4l-1 -1.3z"/>
<path class="c81" d="M118.5 267.6l0.9 1.4l4.6 -1.8l-0.9 -1.4z"/>
<path class="c122" d="M113 253.3l0.9 1.9l3 -1.4l-0.8 -1.9z"/>
<path class="c77" d="M119.4 269l0.9 1.5l4.6 -1.8l-0.9 -1.5z"/>
<path class="c128" d="M112.1 251.4l0.9 1.9l3.1 -1.4l-0.9 -1.9z"/>
<path class="c73" d="M120.3 270.5l0.9 1.4l4.6 -1.8l-0.9 -1.4z"/>
<path class="c48" d="M136.7 279.1l1 1.2l3.1 -1.5l-1 -1.2z"/>
<path class="c54" d="M130.6 276.7l1 1.3l3.1 -1.5l-1 -1.2z"/>
<path class="c133" d="M111.2 249.6l0.9 1.8l3.1 -1.4l-0.9 -2z"/>
<path class="c69" d="M121.2 271.9l0.8 1.4l4.7 -1.8l-0.9 -1.4z"/>
<path class="c65" d="M122 273.3l0.9 1.4l4.7 -1.8l-0.9 -1.4z"/>
<path class="c139" d="M110.3 247.7l0.9 1.9l3.1 -1.6l-0.9 -1.9z"/>
<path class="c45" d="M142.3 280.2l1.4 1.3l3.1 -1.5l-1.4 -1.3z"/>
<path class="c97" d="M113.4 262.1l0.9 1.9l3.1 -1.3l-0.9 -1.8z"/>
<path class="c51" d="M131.6 278l1 1.3l3.1 -1.5l-1 -1.3z"/>
<path class="c62" d="M122.9 274.7l0.9 1.1l4.7 -1.8l-0.9 -1.1z"/>
<path class="c102" d="M112.5 260.3l0.9 1.8l3.1 -1.2l-0.9 -1.9z"/>
<path class="c45" d="M137.7 280.3l1.5 1.4l3.1 -1.5l-1.5 -1.4z"/>
<path class="c108" d="M111.6 258.4l0.9 1.9l3.1 -1.3l-0.9 -1.9z"/>
<path class="c114" d="M110.8 256.6l0.8 1.8l3.1 -1.3l-0.8 -1.9z"/>
<path class="c59" d="M123.8 275.8l0.9 1.2l4.6 -1.8l-0.8 -1.2z"/>
<path class="c48" d="M132.6 279.3l1 1.3l3.1 -1.5l-1 -1.3z"/>
<path class="c119" d="M109.9 254.8l0.9 1.8l3.1 -1.4l-0.9 -1.9z"/>
<path class="c125" d="M109 252.9l0.9 1.9l3.1 -1.5l-0.9 -1.9z"/>
<path class="c42" d="M143.7 281.5l1.4 1.3l3.1 -1.4l-1.4 -1.4z"/>
<path class="c56" d="M124.7 277l0.9 1.1l4.6 -1.8l-0.9 -1.1z"/>
<path class="c45" d="M133.6 280.6l1.1 1.2l3 -1.5l-1 -1.2z"/>
<path class="c131" d="M108.1 251.1l0.9 1.8l3.1 -1.5l-0.9 -1.8z"/>
<path class="c91" d="M111.2 265.2l0.9 1.4l4.6 -1.8l-0.9 -1.5z"/>
<path class="c136" d="M107.2 249.3l0.9 1.8l3.1 -1.5l-0.9 -1.9z"/>
<path class="c42" d="M139.2 281.7l1.4 1.3l3.1 -1.5l-1.4 -1.3z"/>
<path class="c53" d="M125.6 278.1l0.9 1.1l4.6 -1.8l-0.9 -1.1z"/>
<path class="c87" d="M112.1 266.6l0.9 1.4l4.6 -1.8l-0.9 -1.4z"/>
<path class="c83" d="M113 268l0.9 1.4l4.6 -1.8l-0.9 -1.4z"/>
<path class="c95" d="M110.3 263.4l0.9 1.8l3.1 -1.2l-0.9 -1.9z"/>
<path class="c79" d="M113.9 269.4l0.8 1.4l4.7 -1.8l-0.9 -1.4z"/>
<path class="c51" d="M126.5 279.2l0.9 1.2l4.6 -1.9l-0.9 -1.1z"/>
<path class="c101" d="M109.4 261.6l0.9 1.8l3.1 -1.3l-0.9 -1.8z"/>
<path class="c42" d="M134.7 281.8l1.4 1.3l3.1 -1.4l-1.5 -1.4z"/>
<path class="c75" d="M114.7 270.8l0.9 1.4l4.7 -1.7l-0.9 -1.5z"/>
<path class="c106" d="M108.5 259.8l0.9 1.8l3.1 -1.3l-0.9 -1.9z"/>
<path class="c39" d="M145.1 282.8l1.4 1.4l3.1 -1.5l-1.4 -1.3z"/>
<path class="c71" d="M115.6 272.2l0.9 1.5l4.7 -1.8l-0.9 -1.4z"/>
<path class="c112" d="M107.7 258l0.8 1.8l3.1 -1.4l-0.8 -1.8z"/>
<path class="c48" d="M127.4 280.4l0.8 1.1l4.7 -1.9l-0.9 -1.1z"/>
<path class="c67" d="M116.5 273.7l0.9 1.4l4.6 -1.8l-0.8 -1.4z"/>
<path class="c117" d="M106.8 256.2l0.9 1.8l3.1 -1.4l-0.9 -1.8z"/>
<path class="c123" d="M105.9 254.4l0.9 1.8l3.1 -1.4l-0.9 -1.9z"/>
<path class="c63" d="M117.4 275.1l0.9 1.4l4.6 -1.8l-0.9 -1.4z"/>
<path class="c39" d="M140.6 283l1.4 1.3l3.1 -1.5l-1.4 -1.3z"/>
<path class="c128" d="M105 252.6l0.9 1.8l3.1 -1.5l-0.9 -1.8z"/>
<path class="c45" d="M128.2 281.5l0.9 1.1l4.7 -1.9l-0.9 -1.1z"/>
<path class="c134" d="M104.1 250.9l0.9 1.7l3.1 -1.5l-0.9 -1.8z"/>
<path class="c60" d="M118.3 276.5l0.9 1.1l4.6 -1.8l-0.9 -1.1z"/>
<path class="c40" d="M136.1 283.1l1.4 1.4l3.1 -1.5l-1.4 -1.3z"/>
<path class="c37" d="M146.5 284.2l1.4 1.3l3.1 -1.5l-1.4 -1.3z"/>
<path class="c42" d="M129.1 282.6l0.9 1.1l4.6 -1.9l-0.8 -1.1z"/>
<path class="c57" d="M119.2 277.6l0.9 1.2l4.6 -1.8l-0.9 -1.2z"/>
<path class="c37" d="M142 284.3l1.4 1.3l3.1 -1.4l-1.4 -1.4z"/>
<path class="c54" d="M120.1 278.8l0.8 1.1l4.7 -1.8l-0.9 -1.1z"/>
<path class="c39" d="M130 283.7l1.4 1.4l4.7 -2l-1.5 -1.3z"/>
<path class="c93" d="M105.7 265l0.9 1.8l4.6 -1.6l-0.9 -1.8z"/>
<path class="c37" d="M137.5 284.5l1.4 1.3l3.1 -1.5l-1.4 -1.3z"/>
<path class="c51" d="M120.9 279.9l0.9 1.2l4.7 -1.9l-0.9 -1.1z"/>
<path class="c99" d="M104.8 263.3l0.9 1.7l4.6 -1.6l-0.9 -1.8z"/>
<path class="c104" d="M103.9 261.5l0.9 1.8l4.6 -1.7l-0.9 -1.8z"/>
<path class="c110" d="M103 259.8l0.9 1.7l4.6 -1.7l-0.8 -1.8z"/>
<path class="c115" d="M102.1 258l0.9 1.8l4.7 -1.8l-0.9 -1.8z"/>
<path class="c48" d="M121.8 281.1l0.9 1.1l4.7 -1.8l-0.9 -1.2z"/>
<path class="c120" d="M101.2 256.3l0.9 1.7l4.7 -1.8l-0.9 -1.8z"/>
<path class="c34" d="M143.4 285.6l1.4 1.4l3.1 -1.5l-1.4 -1.3z"/>
<path class="c126" d="M100.4 254.5l0.8 1.8l4.7 -1.9l-0.9 -1.8z"/>
<path class="c34" d="M147.9 285.5l2.4 1.6l3.1 -1.5l-2.4 -1.6z"/>
<path class="c131" d="M99.5 252.7l0.9 1.8l4.6 -1.9l-0.9 -1.7z"/>
<path class="c45" d="M122.7 282.2l0.9 1.2l4.6 -1.9l-0.8 -1.1z"/>
<path class="c37" d="M131.4 285.1l1.4 1.3l4.7 -1.9l-1.4 -1.4z"/>
<path class="c34" d="M138.9 285.8l1.4 1.3l3.1 -1.5l-1.4 -1.3z"/>
<path class="c42" d="M123.6 283.4l0.9 1.1l4.6 -1.9l-0.9 -1.1z"/>
<path class="c88" d="M101.9 268.4l0.9 1.4l9.3 -3.2l-0.9 -1.4z"/>
<path class="c58" d="M113.6 278.1l0.9 1.1l4.7 -1.6l-0.9 -1.1z"/>
<path class="c84" d="M102.8 269.8l0.9 1.4l9.3 -3.2l-0.9 -1.4z"/>
<path class="c40" d="M124.5 284.5l0.9 1.2l4.6 -2l-0.9 -1.1z"/>
<path class="c80" d="M103.7 271.2l0.9 1.4l9.3 -3.2l-0.9 -1.4z"/>
<path class="c76" d="M104.6 272.6l0.8 1.4l9.3 -3.2l-0.8 -1.4z"/>
<path class="c55" d="M114.5 279.2l0.9 1.2l4.7 -1.6l-0.9 -1.2z"/>
<path class="c34" d="M132.8 286.4l1.5 1.3l4.6 -1.9l-1.4 -1.3z"/>
<path class="c72" d="M105.4 274l0.9 1.4l9.3 -3.2l-0.9 -1.4z"/>
<path class="c32" d="M140.3 287.1l1.4 1.3l3.1 -1.4l-1.4 -1.4z"/>
<path class="c68" d="M106.3 275.4l0.9 1.5l9.3 -3.2l-0.9 -1.5z"/>
<path class="c32" d="M144.8 287l2.4 1.6l3.1 -1.5l-2.4 -1.6z"/>
<path class="c52" d="M115.4 280.4l0.9 1.2l4.6 -1.7l-0.8 -1.1z"/>
<path class="c37" d="M125.4 285.7l1.4 1.3l4.6 -1.9l-1.4 -1.4z"/>
<path class="c65" d="M107.2 276.9l0.9 1.4l9.3 -3.2l-0.9 -1.4z"/>
<path class="c61" d="M108.1 278.3l0.9 1.4l9.3 -3.2l-0.9 -1.4z"/>
<path class="c49" d="M116.3 281.6l0.9 1.1l4.6 -1.6l-0.9 -1.2z"/>
<path class="c92" d="M101 266.7l0.9 1.7l4.7 -1.6l-0.9 -1.8z"/>
<path class="c97" d="M100.1 265l0.9 1.7l4.7 -1.7l-0.9 -1.7z"/>
<path class="c102" d="M99.3 263.2l0.8 1.8l4.7 -1.7l-0.9 -1.8z"/>
<path class="c108" d="M98.4 261.5l0.9 1.7l4.6 -1.7l-0.9 -1.7z"/>
<path class="c32" d="M150.3 287.1l2.3 1.7l3.1 -1.6l-2.3 -1.6z"/>
<path class="c113" d="M97.5 259.8l0.9 1.7l4.6 -1.7l-0.9 -1.8z"/>
<path class="c46" d="M117.2 282.7l0.9 1.2l4.6 -1.7l-0.9 -1.1z"/>
<path class="c32" d="M134.3 287.7l1.4 1.4l4.6 -2l-1.4 -1.3z"/>
<path class="c118" d="M96.6 258.1l0.9 1.7l4.6 -1.8l-0.9 -1.7z"/>
<path class="c123" d="M95.7 256.4l0.9 1.7l4.6 -1.8l-0.8 -1.8z"/>
<path class="c128" d="M94.8 254.6l0.9 1.8l4.7 -1.9l-0.9 -1.8z"/>
<path class="c34" d="M126.8 287l1.4 1.4l4.6 -2l-1.4 -1.3z"/>
<path class="c43" d="M118.1 283.9l0.8 1.1l4.7 -1.6l-0.9 -1.2z"/>
<path class="c29" d="M141.7 288.4l2.4 1.7l3.1 -1.5l-2.4 -1.6z"/>
<path class="c40" d="M118.9 285l0.9 1.2l4.7 -1.7l-0.9 -1.1z"/>
<path class="c29" d="M135.7 289.1l1.4 1.3l4.6 -2l-1.4 -1.3z"/>
<path class="c37" d="M119.8 286.2l0.9 1.2l4.7 -1.7l-0.9 -1.2z"/>
<path class="c56" d="M109 279.7l0.9 1.1l4.6 -1.6l-0.9 -1.1z"/>
<path class="c31" d="M128.2 288.4l1.4 1.3l4.7 -2l-1.5 -1.3z"/>
<path class="c29" d="M147.2 288.6l2.3 1.7l3.1 -1.5l-2.3 -1.7z"/>
<path class="c54" d="M109.9 280.8l0.9 1.2l4.6 -1.6l-0.9 -1.2z"/>
<path class="c35" d="M120.7 287.4l1.4 1.3l4.7 -1.7l-1.4 -1.3z"/>
<path class="c51" d="M110.8 282l0.8 1.2l4.7 -1.6l-0.9 -1.2z"/>
<path class="c30" d="M152.6 288.8l2.4 1.6l3.1 -1.6l-2.4 -1.6z"/>
<path class="c48" d="M111.6 283.2l0.9 1.2l4.7 -1.7l-0.9 -1.1z"/>
<path class="c91" d="M96.4 268.2l0.9 1.7l4.6 -1.5l-0.9 -1.7z"/>
<path class="c29" d="M129.6 289.7l1.4 1.4l4.7 -2l-1.4 -1.4z"/>
<path class="c96" d="M95.5 266.5l0.9 1.7l4.6 -1.5l-0.9 -1.7z"/>
<path class="c101" d="M94.6 264.8l0.9 1.7l4.6 -1.5l-0.8 -1.8z"/>
<path class="c106" d="M93.7 263.1l0.9 1.7l4.7 -1.6l-0.9 -1.7z"/>
<path class="c111" d="M92.8 261.4l0.9 1.7l4.7 -1.6l-0.9 -1.7z"/>
<path class="c26" d="M137.1 290.4l2.3 1.7l4.7 -2l-2.4 -1.7z"/>
<path class="c45" d="M112.5 284.4l0.9 1.1l4.7 -1.6l-0.9 -1.2z"/>
<path class="c116" d="M92 259.7l0.8 1.7l4.7 -1.6l-0.9 -1.7z"/>
<path class="c121" d="M91.1 258l0.9 1.7l4.6 -1.6l-0.9 -1.7z"/>
<path class="c126" d="M90.2 256.3l0.9 1.7l4.6 -1.6l-0.9 -1.8z"/>
<path class="c27" d="M144.1 290.1l2.4 1.8l3 -1.6l-2.3 -1.7z"/>
<path class="c32" d="M122.1 288.7l1.4 1.4l4.7 -1.7l-1.4 -1.4z"/>
<path class="c42" d="M113.4 285.5l0.9 1.2l4.6 -1.7l-0.8 -1.1z"/>
<path class="c39" d="M114.3 286.7l0.9 1.2l4.6 -1.7l-0.9 -1.2z"/>
<path class="c26" d="M131 291.1l1.4 1.3l4.7 -2l-1.4 -1.3z"/>
<path class="c27" d="M149.5 290.3l2.4 1.7l3.1 -1.6l-2.4 -1.6z"/>
<path class="c36" d="M115.2 287.9l0.9 1.2l4.6 -1.7l-0.9 -1.2z"/>
<path class="c86" d="M92.6 271.4l0.9 1.4l9.3 -3l-0.9 -1.4z"/>
<path class="c29" d="M123.5 290.1l1.5 1.4l4.6 -1.8l-1.4 -1.3z"/>
<path class="c82" d="M93.5 272.8l0.9 1.4l9.3 -3l-0.9 -1.4z"/>
<path class="c78" d="M94.4 274.2l0.9 1.4l9.3 -3l-0.9 -1.4z"/>
<path class="c74" d="M95.3 275.6l0.9 1.4l9.2 -3l-0.8 -1.4z"/>
<path class="c33" d="M116.1 289.1l1.4 1.4l4.6 -1.8l-1.4 -1.3z"/>
<path class="c70" d="M96.2 277l0.8 1.4l9.3 -3l-0.9 -1.4z"/>
<path class="c66" d="M97 278.4l0.9 1.4l9.3 -2.9l-0.9 -1.5z"/>
<path class="c24" d="M139.4 292.1l2.4 1.8l4.6 -2l-2.3 -1.8z"/>
<path class="c26" d="M125 291.5l1.4 1.4l4.6 -1.8l-1.4 -1.4z"/>
<path class="c62" d="M97.9 279.8l0.9 1.4l9.3 -2.9l-0.9 -1.4z"/>
<path class="c24" d="M146.5 291.9l2.3 1.7l3.1 -1.6l-2.4 -1.7z"/>
<path class="c23" d="M132.4 292.4l2.4 1.7l4.6 -2l-2.3 -1.7z"/>
<path class="c58" d="M98.8 281.2l0.9 1.4l9.3 -2.9l-0.9 -1.4z"/>
<path class="c90" d="M91.7 269.8l0.9 1.6l4.7 -1.5l-0.9 -1.7z"/>
<path class="c95" d="M90.8 268.1l0.9 1.7l4.7 -1.6l-0.9 -1.7z"/>
<path class="c100" d="M90 266.4l0.8 1.7l4.7 -1.6l-0.9 -1.7z"/>
<path class="c105" d="M89.1 264.7l0.9 1.7l4.6 -1.6l-0.9 -1.7z"/>
<path class="c110" d="M88.2 263l0.9 1.7l4.6 -1.6l-0.9 -1.7z"/>
<path class="c55" d="M99.7 282.6l0.9 1.2l9.3 -3l-0.9 -1.1z"/>
<path class="c115" d="M87.3 261.4l0.9 1.6l4.6 -1.6l-0.8 -1.7z"/>
<path class="c120" d="M86.4 259.7l0.9 1.7l4.7 -1.7l-0.9 -1.7z"/>
<path class="c30" d="M117.5 290.5l1.4 1.4l4.6 -1.8l-1.4 -1.4z"/>
<path class="c125" d="M85.5 258l0.9 1.7l4.7 -1.7l-0.9 -1.7z"/>
<path class="c52" d="M100.6 283.8l0.9 1.2l9.3 -3l-0.9 -1.2z"/>
<path class="c23" d="M126.4 292.9l1.4 1.3l4.6 -1.8l-1.4 -1.3z"/>
<path class="c49" d="M101.5 285l0.9 1.2l9.2 -3l-0.8 -1.2z"/>
<path class="c46" d="M102.4 286.2l0.8 1.2l9.3 -3l-0.9 -1.2z"/>
<path class="c27" d="M118.9 291.9l1.4 1.4l4.7 -1.8l-1.5 -1.4z"/>
<path class="c43" d="M103.2 287.4l0.9 1.2l9.3 -3.1l-0.9 -1.1z"/>
<path class="c21" d="M141.8 293.9l2.4 1.7l4.6 -2l-2.4 -1.7z"/>
<path class="c21" d="M134.8 294.1l2.4 1.8l4.6 -2l-2.4 -1.8z"/>
<path class="c40" d="M104.1 288.6l0.9 1.2l9.3 -3.1l-0.9 -1.2z"/>
<path class="c24" d="M120.3 293.3l1.4 1.4l4.7 -1.8l-1.4 -1.4z"/>
<path class="c21" d="M127.8 294.2l2.4 1.8l4.6 -1.9l-2.4 -1.7z"/>
<path class="c37" d="M105 289.8l0.9 1.2l9.3 -3.1l-0.9 -1.2z"/>
<path class="c34" d="M105.9 291l0.9 1.2l9.3 -3.1l-0.9 -1.2z"/>
<path class="c21" d="M121.7 294.7l1.4 1.4l4.7 -1.9l-1.4 -1.3z"/>
<path class="c31" d="M106.8 292.2l1.4 1.4l9.3 -3.1l-1.4 -1.4z"/>
<path class="c19" d="M137.2 295.9l2.3 1.7l4.7 -2l-2.4 -1.7z"/>
<path class="c88" d="M82.4 272.8l0.9 1.6l9.3 -3l-0.9 -1.6z"/>
<path class="c93" d="M81.6 271.2l0.8 1.6l9.3 -3l-0.9 -1.7z"/>
<path class="c98" d="M80.7 269.5l0.9 1.7l9.2 -3.1l-0.8 -1.7z"/>
<path class="c84" d="M83.3 274.4l0.9 1.4l9.3 -3l-0.9 -1.4z"/>
<path class="c103" d="M79.8 267.9l0.9 1.6l9.3 -3.1l-0.9 -1.7z"/>
<path class="c108" d="M78.9 266.2l0.9 1.7l9.3 -3.2l-0.9 -1.7z"/>
<path class="c113" d="M78 264.6l0.9 1.6l9.3 -3.2l-0.9 -1.6z"/>
<path class="c118" d="M77.1 262.9l0.9 1.7l9.3 -3.2l-0.9 -1.7z"/>
<path class="c28" d="M108.2 293.6l1.4 1.4l9.3 -3.1l-1.4 -1.4z"/>
<path class="c122" d="M76.2 261.3l0.9 1.6l9.3 -3.2l-0.9 -1.7z"/>
<path class="c80" d="M84.2 275.8l0.9 1.4l9.3 -3l-0.9 -1.4z"/>
<path class="c18" d="M130.2 296l2.3 1.7l4.7 -1.8l-2.4 -1.8z"/>
<path class="c76" d="M85.1 277.2l0.9 1.4l9.3 -3l-0.9 -1.4z"/>
<path class="c72" d="M86 278.6l0.9 1.4l9.3 -3l-0.9 -1.4z"/>
<path class="c19" d="M123.2 296.1l2.3 1.7l4.7 -1.8l-2.4 -1.8z"/>
<path class="c68" d="M86.9 280l0.9 1.3l9.2 -2.9l-0.8 -1.4z"/>
<path class="c64" d="M87.8 281.3l0.8 1.4l9.3 -2.9l-0.9 -1.4z"/>
<path class="c25" d="M109.6 295l1.4 1.5l9.3 -3.2l-1.4 -1.4z"/>
<path class="c61" d="M88.6 282.7l0.9 1.4l9.3 -2.9l-0.9 -1.4z"/>
<path class="c57" d="M89.5 284.1l0.9 1.4l9.3 -2.9l-0.9 -1.4z"/>
<path class="c53" d="M90.4 285.5l0.9 1.2l9.3 -2.9l-0.9 -1.2z"/>
<path class="c50" d="M91.3 286.7l0.9 1.1l9.3 -2.8l-0.9 -1.2z"/>
<path class="c22" d="M111 296.5l1.4 1.4l9.3 -3.2l-1.4 -1.4z"/>
<path class="c19" d="M144.2 295.6l7 3.6l4.7 -1.6l-7.1 -4z"/>
<path class="c16" d="M132.5 297.7l2.4 1.7l4.6 -1.8l-2.3 -1.7z"/>
<path class="c47" d="M92.2 287.8l0.9 1.2l9.3 -2.8l-0.9 -1.2z"/>
<path class="c44" d="M93.1 289l0.9 1.2l9.2 -2.8l-0.8 -1.2z"/>
<path class="c16" d="M125.5 297.8l2.4 1.8l4.6 -1.9l-2.3 -1.7z"/>
<path class="c19" d="M112.4 297.9l1.5 1.5l9.2 -3.3l-1.4 -1.4z"/>
<path class="c41" d="M94 290.2l0.8 1.2l9.3 -2.8l-0.9 -1.2z"/>
<path class="c17" d="M118.5 297.7l2.4 1.8l4.6 -1.7l-2.4 -1.7z"/>
<path class="c38" d="M94.8 291.4l0.9 1.2l9.3 -2.8l-0.9 -1.2z"/>
<path class="c35" d="M95.7 292.6l0.9 1.2l9.3 -2.8l-0.9 -1.2z"/>
<path class="c86" d="M77.8 274.4l0.9 1.6l4.6 -1.6l-0.9 -1.6z"/>
<path class="c91" d="M76.9 272.8l0.9 1.6l4.6 -1.6l-0.8 -1.6z"/>
<path class="c96" d="M76 271.2l0.9 1.6l4.7 -1.6l-0.9 -1.7z"/>
<path class="c101" d="M75.1 269.6l0.9 1.6l4.7 -1.7l-0.9 -1.6z"/>
<path class="c105" d="M74.3 267.9l0.8 1.7l4.7 -1.7l-0.9 -1.7z"/>
<path class="c110" d="M73.4 266.3l0.9 1.6l4.6 -1.7l-0.9 -1.6z"/>
<path class="c115" d="M72.5 264.7l0.9 1.6l4.6 -1.7l-0.9 -1.7z"/>
<path class="c120" d="M71.6 263.1l0.9 1.6l4.6 -1.8l-0.9 -1.6z"/>
<path class="c32" d="M96.6 293.8l0.9 1.2l9.3 -2.8l-0.9 -1.2z"/>
<path class="c29" d="M97.5 295l1.4 1.4l9.3 -2.8l-1.4 -1.4z"/>
<path class="c14" d="M127.9 299.6l2.3 1.7l4.7 -1.9l-2.4 -1.7z"/>
<path class="c17" d="M139.5 297.6l7.1 3.1l4.6 -1.5l-7 -3.6z"/>
<path class="c14" d="M120.9 299.5l2.3 1.8l4.7 -1.7l-2.4 -1.8z"/>
<path class="c81" d="M74 277.6l0.9 1.3l9.3 -3.1l-0.9 -1.4z"/>
<path class="c26" d="M98.9 296.4l1.4 1.5l9.3 -2.9l-1.4 -1.4z"/>
<path class="c78" d="M74.9 278.9l0.9 1.3l9.3 -3l-0.9 -1.4z"/>
<path class="c15" d="M113.9 299.4l2.3 1.8l4.7 -1.7l-2.4 -1.8z"/>
<path class="c74" d="M75.8 280.2l0.9 1.4l9.3 -3l-0.9 -1.4z"/>
<path class="c70" d="M76.7 281.6l0.9 1.3l9.3 -2.9l-0.9 -1.4z"/>
<path class="c67" d="M77.6 282.9l0.9 1.3l9.3 -2.9l-0.9 -1.3z"/>
<path class="c118" d="M67 264.9l0.8 1.6l4.7 -1.8l-0.9 -1.6z"/>
<path class="c63" d="M78.5 284.2l0.9 1.4l9.2 -2.9l-0.8 -1.4z"/>
<path class="c113" d="M67.8 266.5l0.9 1.6l4.7 -1.8l-0.9 -1.6z"/>
<path class="c23" d="M100.3 297.9l1.4 1.4l9.3 -2.8l-1.4 -1.5z"/>
<path class="c108" d="M68.7 268.1l0.9 1.6l4.7 -1.8l-0.9 -1.6z"/>
<path class="c104" d="M69.6 269.7l0.9 1.5l4.6 -1.6l-0.8 -1.7z"/>
<path class="c99" d="M70.5 271.2l0.9 1.6l4.6 -1.6l-0.9 -1.6z"/>
<path class="c94" d="M71.4 272.8l0.9 1.6l4.6 -1.6l-0.9 -1.6z"/>
<path class="c90" d="M72.3 274.4l0.9 1.6l4.6 -1.6l-0.9 -1.6z"/>
<path class="c85" d="M73.2 276l0.8 1.6l4.7 -1.6l-0.9 -1.6z"/>
<path class="c59" d="M79.4 285.6l0.8 1.3l9.3 -2.8l-0.9 -1.4z"/>
<path class="c56" d="M80.2 286.9l0.9 1.3l9.3 -2.7l-0.9 -1.4z"/>
<path class="c52" d="M81.1 288.2l0.9 1.2l9.3 -2.7l-0.9 -1.2z"/>
<path class="c11" d="M123.2 301.3l2.4 1.8l4.6 -1.8l-2.3 -1.7z"/>
<path class="c15" d="M134.9 299.4l7.1 3.1l4.6 -1.8l-7.1 -3.1z"/>
<path class="c20" d="M101.7 299.3l1.5 1.5l9.2 -2.9l-1.4 -1.4z"/>
<path class="c49" d="M82 289.4l0.9 1.2l9.3 -2.8l-0.9 -1.1z"/>
<path class="c12" d="M116.2 301.2l2.4 1.8l4.6 -1.7l-2.3 -1.8z"/>
<path class="c46" d="M82.9 290.6l0.9 1.1l9.3 -2.7l-0.9 -1.2z"/>
<path class="c43" d="M83.8 291.7l0.9 1.2l9.3 -2.7l-0.9 -1.2z"/>
<path class="c16" d="M103.2 300.8l1.4 1.5l9.3 -2.9l-1.5 -1.5z"/>
<path class="c40" d="M84.7 292.9l0.8 1.1l9.3 -2.6l-0.8 -1.2z"/>
<path class="c116" d="M62.3 266.6l0.9 1.6l4.6 -1.7l-0.8 -1.6z"/>
<path class="c37" d="M85.5 294l0.9 1.2l9.3 -2.6l-0.9 -1.2z"/>
<path class="c111" d="M63.2 268.2l0.9 1.6l4.6 -1.7l-0.9 -1.6z"/>
<path class="c107" d="M64.1 269.8l0.9 1.5l4.6 -1.6l-0.9 -1.6z"/>
<path class="c102" d="M65 271.3l0.9 1.6l4.6 -1.7l-0.9 -1.5z"/>
<path class="c97" d="M65.9 272.9l0.8 1.5l4.7 -1.6l-0.9 -1.6z"/>
<path class="c93" d="M66.7 274.4l0.9 1.6l4.7 -1.6l-0.9 -1.6z"/>
<path class="c88" d="M67.6 276l0.9 1.6l4.7 -1.6l-0.9 -1.6z"/>
<path class="c84" d="M68.5 277.6l0.9 1.5l4.6 -1.5l-0.8 -1.6z"/>
<path class="c34" d="M86.4 295.2l0.9 1.1l9.3 -2.5l-0.9 -1.2z"/>
<path class="c31" d="M87.3 296.3l0.9 1.2l9.3 -2.5l-0.9 -1.2z"/>
<path class="c9" d="M118.6 303l2.3 1.8l4.7 -1.7l-2.4 -1.8z"/>
<path class="c13" d="M130.2 301.3l7.1 2.9l4.7 -1.7l-7.1 -3.1z"/>
<path class="c13" d="M104.6 302.3l2.3 1.8l9.3 -2.9l-2.3 -1.8z"/>
<path class="c28" d="M88.2 297.5l1.4 1.4l9.3 -2.5l-1.4 -1.4z"/>
<path class="c79" d="M64.7 280.7l0.9 1.3l9.3 -3.1l-0.9 -1.3z"/>
<path class="c76" d="M65.6 282l0.9 1.2l9.3 -3l-0.9 -1.3z"/>
<path class="c72" d="M66.5 283.2l0.9 1.3l9.3 -2.9l-0.9 -1.4z"/>
<path class="c25" d="M89.6 298.9l1.4 1.5l9.3 -2.5l-1.4 -1.5z"/>
<path class="c69" d="M67.4 284.5l0.9 1.3l9.3 -2.9l-0.9 -1.3z"/>
<path class="c114" d="M57.7 268.3l0.9 1.6l4.6 -1.7l-0.9 -1.6z"/>
<path class="c109" d="M58.6 269.9l0.8 1.5l4.7 -1.6l-0.9 -1.6z"/>
<path class="c105" d="M59.4 271.4l0.9 1.6l4.7 -1.7l-0.9 -1.5z"/>
<path class="c100" d="M60.3 273l0.9 1.5l4.7 -1.6l-0.9 -1.6z"/>
<path class="c10" d="M106.9 304.1l2.4 1.9l9.3 -3l-2.4 -1.8z"/>
<path class="c96" d="M61.2 274.5l0.9 1.6l4.6 -1.7l-0.8 -1.5z"/>
<path class="c65" d="M68.3 285.8l0.9 1.2l9.3 -2.8l-0.9 -1.3z"/>
<path class="c91" d="M62.1 276.1l0.9 1.5l4.6 -1.6l-0.9 -1.6z"/>
<path class="c87" d="M63 277.6l0.9 1.6l4.6 -1.6l-0.9 -1.6z"/>
<path class="c82" d="M63.9 279.2l0.8 1.5l4.7 -1.6l-0.9 -1.5z"/>
<path class="c62" d="M69.2 287l0.9 1.3l9.2 -2.7l-0.8 -1.4z"/>
<path class="c22" d="M91 300.4l1.4 1.4l9.3 -2.5l-1.4 -1.4z"/>
<path class="c11" d="M125.6 303.1l7.1 2.9l4.6 -1.8l-7.1 -2.9z"/>
<path class="c58" d="M70.1 288.3l0.8 1.3l9.3 -2.7l-0.9 -1.3z"/>
<path class="c55" d="M70.9 289.6l0.9 1.2l9.3 -2.6l-0.9 -1.3z"/>
<path class="c17" d="M142 302.5l2.3 0.2l4.7 -1.7l-2.4 -0.3z"/>
<path class="c52" d="M71.8 290.8l0.9 1.1l9.3 -2.5l-0.9 -1.2z"/>
<path class="c19" d="M92.4 301.8l1.5 1.5l9.3 -2.5l-1.5 -1.5z"/>
<path class="c49" d="M72.7 291.9l0.9 1.2l9.3 -2.5l-0.9 -1.2z"/>
<path class="c46" d="M73.6 293.1l0.9 1.1l9.3 -2.5l-0.9 -1.1z"/>
<path class="c8" d="M109.3 306l2.3 1.8l9.3 -3l-2.3 -1.8z"/>
<path class="c112" d="M53 270.3l0.9 1.5l4.7 -1.9l-0.9 -1.6z"/>
<path class="c16" d="M93.9 303.3l1.4 1.4l9.3 -2.4l-1.4 -1.5z"/>
<path class="c43" d="M74.5 294.2l0.9 1.1l9.3 -2.4l-0.9 -1.2z"/>
<path class="c107" d="M53.9 271.8l0.9 1.5l4.6 -1.9l-0.8 -1.5z"/>
<path class="c103" d="M54.8 273.3l0.9 1.5l4.6 -1.8l-0.9 -1.6z"/>
<path class="c99" d="M55.7 274.8l0.9 1.4l4.6 -1.7l-0.9 -1.5z"/>
<path class="c94" d="M56.6 276.2l0.8 1.5l4.7 -1.6l-0.9 -1.6z"/>
<path class="c90" d="M57.4 277.7l0.9 1.5l4.7 -1.6l-0.9 -1.5z"/>
<path class="c40" d="M75.4 295.3l0.9 1.1l9.2 -2.4l-0.8 -1.1z"/>
<path class="c86" d="M58.3 279.2l0.9 1.5l4.7 -1.5l-0.9 -1.6z"/>
<path class="c81" d="M59.2 280.7l0.9 1.5l4.6 -1.5l-0.8 -1.5z"/>
<path class="c9" d="M120.9 304.8l7.1 3l4.7 -1.8l-7.1 -2.9z"/>
<path class="c37" d="M76.3 296.4l0.8 1.1l9.3 -2.3l-0.9 -1.2z"/>
<path class="c35" d="M77.1 297.5l0.9 1.1l9.3 -2.3l-0.9 -1.1z"/>
<path class="c15" d="M137.3 304.2l2.4 0.3l4.6 -1.8l-2.3 -0.2z"/>
<path class="c13" d="M95.3 304.7l2.3 1.9l9.3 -2.5l-2.3 -1.8z"/>
<path class="c32" d="M78 298.6l0.9 1.1l9.3 -2.2l-0.9 -1.2z"/>
<path class="c20" d="M144.3 302.7l2.4 0.3l4.6 -1.7l-2.3 -0.3z"/>
<path class="c77" d="M55.5 283.6l0.8 1.2l9.3 -2.8l-0.9 -1.3z"/>
<path class="c29" d="M78.9 299.7l1.4 1.4l9.3 -2.2l-1.4 -1.4z"/>
<path class="c109" d="M48.4 272.3l0.9 1.4l4.6 -1.9l-0.9 -1.5z"/>
<path class="c105" d="M49.3 273.7l0.9 1.4l4.6 -1.8l-0.9 -1.5z"/>
<path class="c74" d="M56.3 284.8l0.9 1.2l9.3 -2.8l-0.9 -1.2z"/>
<path class="c101" d="M50.2 275.1l0.8 1.5l4.7 -1.8l-0.9 -1.5z"/>
<path class="c97" d="M51 276.6l0.9 1.4l4.7 -1.8l-0.9 -1.4z"/>
<path class="c71" d="M57.2 286l0.9 1.1l9.3 -2.6l-0.9 -1.3z"/>
<path class="c93" d="M51.9 278l0.9 1.4l4.6 -1.7l-0.8 -1.5z"/>
<path class="c89" d="M52.8 279.4l0.9 1.4l4.6 -1.6l-0.9 -1.5z"/>
<path class="c68" d="M58.1 287.1l0.9 1.2l9.3 -2.5l-0.9 -1.3z"/>
<path class="c12" d="M132.7 306l1.4 0.1l4.6 -1.7l-1.4 -0.2z"/>
<path class="c85" d="M53.7 280.8l0.9 1.4l4.6 -1.5l-0.9 -1.5z"/>
<path class="c26" d="M80.3 301.1l1.4 1.4l9.3 -2.1l-1.4 -1.5z"/>
<path class="c80" d="M54.6 282.2l0.9 1.4l4.6 -1.4l-0.9 -1.5z"/>
<path class="c10" d="M97.6 306.6l2.4 1.9l9.3 -2.5l-2.4 -1.9z"/>
<path class="c64" d="M59 288.3l0.9 1.2l9.3 -2.5l-0.9 -1.2z"/>
<path class="c61" d="M59.9 289.5l0.9 1.2l9.3 -2.4l-0.9 -1.3z"/>
<path class="c58" d="M60.8 290.7l0.9 1.2l9.2 -2.3l-0.8 -1.3z"/>
<path class="c23" d="M81.7 302.5l1.5 1.4l9.2 -2.1l-1.4 -1.4z"/>
<path class="c55" d="M61.7 291.9l0.8 1.1l9.3 -2.2l-0.9 -1.2z"/>
<path class="c18" d="M139.7 304.5l2.3 0.3l4.7 -1.8l-2.4 -0.3z"/>
<path class="c7" d="M111.6 307.8l7.1 2.9l9.3 -2.9l-7.1 -3z"/>
<path class="c52" d="M62.5 293l1.1 1.3l9.2 -2.2l-1 -1.3z"/>
<path class="c20" d="M83.2 303.9l1.4 1.4l9.3 -2l-1.5 -1.5z"/>
<path class="c108" d="M43.7 273.1l0.9 1.4l4.7 -0.8l-0.9 -1.4z"/>
<path class="c15" d="M134.1 306.1l1.4 0l4.6 -1.5l-1.4 -0.2z"/>
<path class="c24" d="M146.7 303l2.3 0.3l4.7 -1.8l-2.4 -0.2z"/>
<path class="c104" d="M44.6 274.5l0.9 1.4l4.6 -0.8l-0.8 -1.4z"/>
<path class="c49" d="M63.6 294.3l1 1.2l9.3 -2.1l-1.1 -1.3z"/>
<path class="c7" d="M100 308.5l2.4 1.8l9.2 -2.5l-2.3 -1.8z"/>
<path class="c101" d="M45.5 275.9l0.9 1.4l4.6 -0.7l-0.9 -1.5z"/>
<path class="c97" d="M46.4 277.3l0.9 1.4l4.6 -0.7l-0.9 -1.4z"/>
<path class="c10" d="M128 307.8l1.4 0l4.7 -1.7l-1.4 -0.1z"/>
<path class="c46" d="M64.6 295.5l1 1.2l9.3 -2.1l-1 -1.2z"/>
<path class="c93" d="M47.3 278.7l0.9 1.5l4.6 -0.8l-0.9 -1.4z"/>
<path class="c89" d="M48.2 280.2l0.8 1.4l4.7 -0.8l-0.9 -1.4z"/>
<path class="c17" d="M84.6 305.3l1.4 1.4l9.3 -2l-1.4 -1.4z"/>
<path class="c85" d="M49 281.6l0.9 1.4l4.7 -0.8l-0.9 -1.4z"/>
<path class="c43" d="M65.6 296.7l1 1.2l9.3 -2l-1 -1.3z"/>
<path class="c81" d="M49.9 283l0.9 1.4l4.7 -0.8l-0.9 -1.4z"/>
<path class="c77" d="M50.8 284.4l0.9 1.2l4.6 -0.8l-0.8 -1.2z"/>
<path class="c40" d="M66.6 297.9l1 1.2l9.3 -1.9l-1 -1.3z"/>
<path class="c74" d="M51.7 285.6l0.9 1.2l4.6 -0.8l-0.9 -1.2z"/>
<path class="c17" d="M135.5 306.1l1.4 0.1l4.7 -1.5l-1.5 -0.1z"/>
<path class="c37" d="M67.6 299.1l1 1.2l9.3 -1.9l-1 -1.2z"/>
<path class="c71" d="M52.6 286.8l0.9 1.2l4.6 -0.9l-0.9 -1.1z"/>
<path class="c14" d="M86 306.7l2.4 1.9l9.2 -2l-2.3 -1.9z"/>
<path class="c68" d="M53.5 288l0.9 1.1l4.6 -0.8l-0.9 -1.2z"/>
<path class="c21" d="M142 304.8l2.4 0.3l4.6 -1.8l-2.3 -0.3z"/>
<path class="c13" d="M129.4 307.8l1.5 -0.1l4.6 -1.6l-1.4 0z"/>
<path class="c34" d="M68.6 300.3l1 1.3l9.3 -1.9l-1 -1.3z"/>
<path class="c65" d="M54.4 289.1l0.8 1.2l4.7 -0.8l-0.9 -1.2z"/>
<path class="c62" d="M55.2 290.3l0.9 1.2l4.7 -0.8l-0.9 -1.2z"/>
<path class="c110" d="M39.1 273.8l0.9 1.5l4.6 -0.8l-0.9 -1.4z"/>
<path class="c31" d="M69.6 301.6l1.4 1.3l9.3 -1.8l-1.4 -1.4z"/>
<path class="c106" d="M40 275.3l0.9 1.4l4.6 -0.8l-0.9 -1.4z"/>
<path class="c59" d="M56.1 291.5l0.9 1.2l4.7 -0.8l-0.9 -1.2z"/>
<path class="c102" d="M40.9 276.7l0.8 1.4l4.7 -0.8l-0.9 -1.4z"/>
<path class="c98" d="M41.7 278.1l0.9 1.4l4.7 -0.8l-0.9 -1.4z"/>
<path class="c56" d="M57 292.7l0.9 1.1l4.6 -0.8l-0.8 -1.1z"/>
<path class="c19" d="M136.9 306.2l1.4 0.1l4.7 -1.4l-1.4 -0.2z"/>
<path class="c94" d="M42.6 279.5l0.9 1.5l4.7 -0.8l-0.9 -1.5z"/>
<path class="c91" d="M43.5 281l0.9 1.4l4.6 -0.8l-0.8 -1.4z"/>
<path class="c87" d="M44.4 282.4l0.9 1.4l4.6 -0.8l-0.9 -1.4z"/>
<path class="c11" d="M88.4 308.6l2.3 1.8l9.3 -1.9l-2.4 -1.9z"/>
<path class="c28" d="M71 302.9l1.5 1.4l9.2 -1.8l-1.4 -1.4z"/>
<path class="c53" d="M57.9 293.8l1 1.2l4.7 -0.7l-1.1 -1.3z"/>
<path class="c83" d="M45.3 283.8l0.9 1.4l4.6 -0.8l-0.9 -1.4z"/>
<path class="c9" d="M118.7 310.7l1.4 0l9.3 -2.9l-1.4 0z"/>
<path class="c16" d="M130.9 307.7l1.4 0l4.6 -1.5l-1.4 -0.1z"/>
<path class="c79" d="M46.2 285.2l0.9 1.2l4.6 -0.8l-0.9 -1.2z"/>
<path class="c50" d="M58.9 295l1 1.3l4.7 -0.8l-1 -1.2z"/>
<path class="c76" d="M47.1 286.4l0.8 1.2l4.7 -0.8l-0.9 -1.2z"/>
<path class="c6" d="M102.4 310.3l7 3.3l9.3 -2.9l-7.1 -2.9z"/>
<path class="c25" d="M72.5 304.3l1.4 1.4l9.3 -1.8l-1.5 -1.4z"/>
<path class="c47" d="M59.9 296.3l1 1.2l4.7 -0.8l-1 -1.2z"/>
<path class="c73" d="M47.9 287.6l0.9 1.2l4.7 -0.8l-0.9 -1.2z"/>
<path class="c70" d="M48.8 288.8l0.9 1.1l4.7 -0.8l-0.9 -1.1z"/>
<path class="c45" d="M60.9 297.5l1 1.2l4.7 -0.8l-1 -1.2z"/>
<path class="c21" d="M138.3 306.3l1.4 0l4.7 -1.2l-1.4 -0.2z"/>
<path class="c67" d="M49.7 289.9l0.9 1.2l4.6 -0.8l-0.8 -1.2z"/>
<path class="c8" d="M90.7 310.4l2.4 1.9l9.3 -2l-2.4 -1.8z"/>
<path class="c22" d="M73.9 305.7l1.4 1.3l9.3 -1.7l-1.4 -1.4z"/>
<path class="c42" d="M61.9 298.7l1.1 1.2l4.6 -0.8l-1 -1.2z"/>
<path class="c64" d="M50.6 291.1l0.9 1.2l4.6 -0.8l-0.9 -1.2z"/>
<path class="c112" d="M34.4 274.5l0.9 1.5l4.7 -0.7l-0.9 -1.5z"/>
<path class="c11" d="M120.1 310.7l1.5 0l9.3 -3l-1.5 0.1z"/>
<path class="c18" d="M132.3 307.7l1.4 -0.1l4.6 -1.3l-1.4 -0.1z"/>
<path class="c108" d="M35.3 276l0.9 1.4l4.7 -0.7l-0.9 -1.4z"/>
<path class="c61" d="M51.5 292.3l0.9 1.2l4.6 -0.8l-0.9 -1.2z"/>
<path class="c39" d="M63 299.9l1 1.2l4.6 -0.8l-1 -1.2z"/>
<path class="c104" d="M36.2 277.4l0.9 1.4l4.6 -0.7l-0.8 -1.4z"/>
<path class="c100" d="M37.1 278.8l0.9 1.4l4.6 -0.7l-0.9 -1.4z"/>
<path class="c19" d="M75.3 307l1.4 1.4l9.3 -1.7l-1.4 -1.4z"/>
<path class="c58" d="M52.4 293.5l0.8 1.1l4.7 -0.8l-0.9 -1.1z"/>
<path class="c97" d="M38 280.2l0.9 1.4l4.6 -0.6l-0.9 -1.5z"/>
<path class="c36" d="M64 301.1l1 1.2l4.6 -0.7l-1 -1.3z"/>
<path class="c93" d="M38.9 281.6l0.9 1.4l4.6 -0.6l-0.9 -1.4z"/>
<path class="c89" d="M39.8 283l0.8 1.5l4.7 -0.7l-0.9 -1.4z"/>
<path class="c55" d="M53.2 294.6l1.1 1.2l4.6 -0.8l-1 -1.2z"/>
<path class="c85" d="M40.6 284.5l0.9 1.4l4.7 -0.7l-0.9 -1.4z"/>
<path class="c81" d="M41.5 285.9l0.9 1.1l4.7 -0.6l-0.9 -1.2z"/>
<path class="c52" d="M54.3 295.8l1 1.2l4.6 -0.7l-1 -1.3z"/>
<path class="c33" d="M65 302.3l1.4 1.4l4.6 -0.8l-1.4 -1.3z"/>
<path class="c78" d="M42.4 287l0.9 1.2l4.6 -0.6l-0.8 -1.2z"/>
<path class="c16" d="M76.7 308.4l2.4 1.9l9.3 -1.7l-2.4 -1.9z"/>
<path class="c49" d="M55.3 297l1 1.3l4.6 -0.8l-1 -1.2z"/>
<path class="c14" d="M121.6 310.7l1.4 0l9.3 -3l-1.4 0z"/>
<path class="c75" d="M43.3 288.2l0.9 1.2l4.6 -0.6l-0.9 -1.2z"/>
<path class="c21" d="M133.7 307.6l1.4 0l4.6 -1.3l-1.4 0z"/>
<path class="c72" d="M44.2 289.4l0.9 1.2l4.6 -0.7l-0.9 -1.1z"/>
<path class="c30" d="M66.4 303.7l1.4 1.4l4.7 -0.8l-1.5 -1.4z"/>
<path class="c24" d="M135.1 307.6l0.9 -0.4l9.3 -2.5l-0.9 0.4z"/>
<path class="c46" d="M56.3 298.3l1 1.2l4.6 -0.8l-1 -1.2z"/>
<path class="c69" d="M45.1 290.6l0.8 1.2l4.7 -0.7l-0.9 -1.2z"/>
<path class="c43" d="M57.3 299.5l1 1.2l4.7 -0.8l-1.1 -1.2z"/>
<path class="c66" d="M45.9 291.8l0.9 1.2l4.7 -0.7l-0.9 -1.2z"/>
<path class="c115" d="M29.8 275.3l0.9 1.4l4.6 -0.7l-0.9 -1.5z"/>
<path class="c7" d="M109.4 313.6l1.5 -0.1l9.2 -2.8l-1.4 0z"/>
<path class="c27" d="M67.8 305.1l1.4 1.3l4.7 -0.7l-1.4 -1.4z"/>
<path class="c111" d="M30.7 276.7l0.9 1.4l4.6 -0.7l-0.9 -1.4z"/>
<path class="c63" d="M46.8 293l0.9 1.1l4.7 -0.6l-0.9 -1.2z"/>
<path class="c41" d="M58.3 300.7l1 1.2l4.7 -0.8l-1 -1.2z"/>
<path class="c107" d="M31.6 278.1l0.9 1.4l4.6 -0.7l-0.9 -1.4z"/>
<path class="c103" d="M32.5 279.5l0.8 1.4l4.7 -0.7l-0.9 -1.4z"/>
<path class="c60" d="M47.7 294.1l0.9 1.2l4.6 -0.7l-0.8 -1.1z"/>
<path class="c13" d="M79.1 310.3l2.3 1.9l9.3 -1.8l-2.3 -1.8z"/>
<path class="c99" d="M33.3 280.9l0.9 1.4l4.7 -0.7l-0.9 -1.4z"/>
<path class="c26" d="M136 307.2l0.9 -0.3l9.3 -2.5l-0.9 0.3z"/>
<path class="c38" d="M59.3 301.9l1 1.2l4.7 -0.8l-1 -1.2z"/>
<path class="c17" d="M123 310.7l1.4 0l9.3 -3.1l-1.4 0.1z"/>
<path class="c95" d="M34.2 282.3l0.9 1.4l4.7 -0.7l-0.9 -1.4z"/>
<path class="c57" d="M48.6 295.3l1 1.2l4.7 -0.7l-1.1 -1.2z"/>
<path class="c91" d="M35.1 283.7l0.9 1.4l4.6 -0.6l-0.8 -1.5z"/>
<path class="c6" d="M93.1 312.3l7 3.4l9.3 -2.1l-7 -3.3z"/>
<path class="c24" d="M69.2 306.4l1.4 1.4l4.7 -0.8l-1.4 -1.3z"/>
<path class="c87" d="M36 285.1l0.9 1.4l4.6 -0.6l-0.9 -1.4z"/>
<path class="c84" d="M36.9 286.5l0.9 1.2l4.6 -0.7l-0.9 -1.1z"/>
<path class="c35" d="M60.3 303.1l1.4 1.4l4.7 -0.8l-1.4 -1.4z"/>
<path class="c54" d="M49.6 296.5l1 1.3l4.7 -0.8l-1 -1.2z"/>
<path class="c81" d="M37.8 287.7l0.8 1.2l4.7 -0.7l-0.9 -1.2z"/>
<path class="c51" d="M50.6 297.8l1 1.2l4.7 -0.7l-1 -1.3z"/>
<path class="c22" d="M70.6 307.8l1.5 1.4l4.6 -0.8l-1.4 -1.4z"/>
<path class="c77" d="M38.6 288.9l0.9 1.2l4.7 -0.7l-0.9 -1.2z"/>
<path class="c10" d="M110.9 313.5l1.4 -0.1l9.3 -2.7l-1.5 0z"/>
<path class="c29" d="M136.9 306.9l0.9 -0.4l9.2 -2.5l-0.8 0.4z"/>
<path class="c32" d="M61.7 304.5l1.5 1.4l4.6 -0.8l-1.4 -1.4z"/>
<path class="c74" d="M39.5 290.1l0.9 1.2l4.7 -0.7l-0.9 -1.2z"/>
<path class="c48" d="M51.6 299l1.1 1.2l4.6 -0.7l-1 -1.2z"/>
<path class="c10" d="M81.4 312.2l2.4 1.8l9.3 -1.7l-2.4 -1.9z"/>
<path class="c71" d="M40.4 291.3l0.9 1.1l4.6 -0.6l-0.8 -1.2z"/>
<path class="c19" d="M124.4 310.7l1.4 0l9.3 -3.1l-1.4 0z"/>
<path class="c45" d="M52.7 300.2l1 1.2l4.6 -0.7l-1 -1.2z"/>
<path class="c68" d="M41.3 292.4l0.9 1.2l4.6 -0.6l-0.9 -1.2z"/>
<path class="c19" d="M72.1 309.2l1.7 1.4l4.7 -0.8l-1.8 -1.4z"/>
<path class="c29" d="M63.2 305.9l1.4 1.3l4.6 -0.8l-1.4 -1.3z"/>
<path class="c42" d="M53.7 301.4l1 1.2l4.6 -0.7l-1 -1.2z"/>
<path class="c65" d="M42.2 293.6l0.9 1.2l4.6 -0.7l-0.9 -1.1z"/>
<path class="c32" d="M137.8 306.5l0.8 -0.3l9.3 -2.5l-0.9 0.3z"/>
<path class="c62" d="M43.1 294.8l0.9 1.2l4.6 -0.7l-0.9 -1.2z"/>
<path class="c40" d="M54.7 302.6l1 1.3l4.6 -0.8l-1 -1.2z"/>
<path class="c13" d="M112.3 313.4l1.4 0l9.3 -2.7l-1.4 0z"/>
<path class="c59" d="M44 296l1 1.3l4.6 -0.8l-1 -1.2z"/>
<path class="c26" d="M64.6 307.2l1.4 1.4l4.6 -0.8l-1.4 -1.4z"/>
<path class="c17" d="M73.8 310.6l1.8 1.5l4.6 -0.9l-1.7 -1.4z"/>
<path class="c22" d="M125.8 310.7l0.9 -0.5l9.3 -3l-0.9 0.4z"/>
<path class="c37" d="M55.7 303.9l1.4 1.4l4.6 -0.8l-1.4 -1.4z"/>
<path class="c56" d="M45 297.3l1 1.2l4.6 -0.7l-1 -1.3z"/>
<path class="c53" d="M46 298.5l1 1.2l4.6 -0.7l-1 -1.2z"/>
<path class="c23" d="M66 308.6l1.4 1.4l4.7 -0.8l-1.5 -1.4z"/>
<path class="c35" d="M138.6 306.2l0.9 -0.4l9.3 -2.5l-0.9 0.4z"/>
<path class="c34" d="M57.1 305.3l1.4 1.3l4.7 -0.7l-1.5 -1.4z"/>
<path class="c50" d="M47 299.7l1 1.2l4.7 -0.7l-1.1 -1.2z"/>
<path class="c7" d="M100.1 315.7l1.5 0.1l9.3 -2.3l-1.5 0.1z"/>
<path class="c14" d="M75.6 312.1l1.8 1.4l4.6 -0.9l-1.8 -1.4z"/>
<path class="c47" d="M48 300.9l1 1.3l4.7 -0.8l-1 -1.2z"/>
<path class="c15" d="M113.7 313.4l1.4 -0.1l9.3 -2.6l-1.4 0z"/>
<path class="c26" d="M126.7 310.2l0.9 -0.5l9.3 -2.8l-0.9 0.3z"/>
<path class="c21" d="M67.4 310l1.8 1.4l4.6 -0.8l-1.7 -1.4z"/>
<path class="c31" d="M58.5 306.6l1.4 1.4l4.7 -0.8l-1.4 -1.3z"/>
<path class="c44" d="M49 302.2l1 1.2l4.7 -0.8l-1 -1.2z"/>
<path class="c38" d="M139.5 305.8l0.9 -0.4l9.3 -2.4l-0.9 0.3z"/>
<path class="c8" d="M83.8 314l7.1 3.8l9.2 -2.1l-7 -3.4z"/>
<path class="c41" d="M50 303.4l1 1.2l4.7 -0.7l-1 -1.3z"/>
<path class="c12" d="M77.4 313.5l1.7 1.4l4.7 -0.9l-1.8 -1.4z"/>
<path class="c28" d="M59.9 308l1.4 1.4l4.7 -0.8l-1.4 -1.4z"/>
<path class="c10" d="M101.6 315.8l1.4 0.1l9.3 -2.5l-1.4 0.1z"/>
<path class="c18" d="M69.2 311.4l1.7 1.5l4.7 -0.8l-1.8 -1.5z"/>
<path class="c29" d="M127.6 309.7l0.9 -0.5l9.3 -2.7l-0.9 0.4z"/>
<path class="c39" d="M51 304.6l1.5 1.4l4.6 -0.7l-1.4 -1.4z"/>
<path class="c18" d="M115.1 313.3l1.4 0l9.3 -2.6l-1.4 0z"/>
<path class="c41" d="M140.4 305.4l0.9 -0.3l9.3 -2.4l-0.9 0.3z"/>
<path class="c25" d="M61.3 309.4l1.5 1.4l4.6 -0.8l-1.4 -1.4z"/>
<path class="c36" d="M52.5 306l1.4 1.4l4.6 -0.8l-1.4 -1.3z"/>
<path class="c16" d="M70.9 312.9l1.8 1.5l4.7 -0.9l-1.8 -1.4z"/>
<path class="c32" d="M128.5 309.2l0.9 -0.5l9.2 -2.5l-0.8 0.3z"/>
<path class="c33" d="M53.9 307.4l1.4 1.5l4.6 -0.9l-1.4 -1.4z"/>
<path class="c12" d="M103 315.9l1.4 0.1l9.3 -2.6l-1.4 0z"/>
<path class="c44" d="M141.3 305.1l0.9 -0.4l9.3 -2.4l-0.9 0.4z"/>
<path class="c21" d="M116.5 313.3l0.9 -0.6l9.3 -2.5l-0.9 0.5z"/>
<path class="c14" d="M72.7 314.4l1.8 1.4l4.6 -0.9l-1.7 -1.4z"/>
<path class="c30" d="M55.3 308.9l1.4 1.4l4.6 -0.9l-1.4 -1.4z"/>
<path class="c36" d="M129.4 308.7l0.8 -0.5l9.3 -2.4l-0.9 0.4z"/>
<path class="c23" d="M58.1 311.7l1.8 1.5l9.3 -1.8l-1.8 -1.4z"/>
<path class="c11" d="M74.5 315.8l3.5 2.1l9.3 -2l-3.5 -1.9z"/>
<path class="c27" d="M56.7 310.3l1.4 1.4l4.7 -0.9l-1.5 -1.4z"/>
<path class="c15" d="M104.4 316l1.4 0.1l9.3 -2.8l-1.4 0.1z"/>
<path class="c25" d="M117.4 312.7l0.9 -0.5l9.3 -2.5l-0.9 0.5z"/>
<path class="c9" d="M90.9 317.8l1.7 0.3l9.3 -2.3l-1.8 -0.1z"/>
<path class="c21" d="M59.9 313.2l1.8 1.5l9.2 -1.8l-1.7 -1.5z"/>
<path class="c39" d="M130.2 308.2l0.9 -0.5l9.3 -2.3l-0.9 0.4z"/>
<path class="c29" d="M118.3 312.2l0.9 -0.6l9.3 -2.4l-0.9 0.5z"/>
<path class="c17" d="M105.8 316.1l1.4 0.1l9.3 -2.9l-1.4 0z"/>
<path class="c18" d="M61.7 314.7l1.7 1.5l9.3 -1.8l-1.8 -1.5z"/>
<path class="c42" d="M131.1 307.7l0.9 -0.5l9.3 -2.1l-0.9 0.3z"/>
<path class="c11" d="M92.6 318.1l1.8 0.3l9.3 -2.4l-1.8 -0.2z"/>
<path class="c10" d="M78 317.9l3.6 2.1l9.3 -2.2l-3.6 -1.9z"/>
<path class="c32" d="M119.2 311.6l0.9 -0.5l9.3 -2.4l-0.9 0.5z"/>
<path class="c15" d="M63.4 316.2l1.8 1.5l9.3 -1.9l-1.8 -1.4z"/>
<path class="c20" d="M107.2 316.2l0.9 -0.5l9.3 -3l-0.9 0.6z"/>
<path class="c45" d="M132 307.2l0.9 -0.5l9.3 -2l-0.9 0.4z"/>
<path class="c49" d="M137.5 305.7l0.9 -0.8l4.7 -0.9l-0.9 0.7z"/>
<path class="c13" d="M94.4 318.4l1.8 0.3l9.3 -2.6l-1.8 -0.1z"/>
<path class="c36" d="M120.1 311.1l0.8 -0.6l9.3 -2.3l-0.8 0.5z"/>
<path class="c24" d="M108.1 315.7l0.9 -0.6l9.3 -2.9l-0.9 0.5z"/>
<path class="c13" d="M65.2 317.7l3.5 2.3l9.3 -2.1l-3.5 -2.1z"/>
<path class="c53" d="M138.4 304.9l0.9 -0.8l4.7 -0.8l-0.9 0.7z"/>
<path class="c10" d="M81.6 320l2.3 0.5l9.3 -2.3l-2.3 -0.4z"/>
<path class="c40" d="M120.9 310.5l0.9 -0.5l9.3 -2.3l-0.9 0.5z"/>
<path class="c16" d="M96.2 318.7l1.7 0.3l9.3 -2.8l-1.7 -0.1z"/>
<path class="c28" d="M109 315.1l0.9 -0.6l9.3 -2.9l-0.9 0.6z"/>
<path class="c50" d="M132.9 306.7l0.9 -0.9l4.6 -0.9l-0.9 0.8z"/>
<path class="c58" d="M139.3 304.1l0.9 -0.7l4.6 -0.9l-0.8 0.8z"/>
<path class="c43" d="M121.8 310l0.9 -0.6l9.3 -2.2l-0.9 0.5z"/>
<path class="c32" d="M109.9 314.5l0.9 -0.6l9.3 -2.8l-0.9 0.5z"/>
<path class="c55" d="M133.8 305.8l0.9 -0.8l4.6 -0.9l-0.9 0.8z"/>
<path class="c11" d="M68.7 320l3.6 2.2l9.3 -2.2l-3.6 -2.1z"/>
<path class="c19" d="M97.9 319l0.9 -0.6l9.3 -2.7l-0.9 0.5z"/>
<path class="c13" d="M83.9 320.5l2.4 0.6l9.3 -2.5l-2.4 -0.4z"/>
<path class="c63" d="M140.2 303.4l0.9 -0.8l4.6 -0.8l-0.9 0.7z"/>
<path class="c47" d="M122.7 309.4l0.9 -0.5l9.3 -2.2l-0.9 0.5z"/>
<path class="c36" d="M110.8 313.9l0.9 -0.6l9.2 -2.8l-0.8 0.6z"/>
<path class="c23" d="M98.8 318.4l0.9 -0.5l9.3 -2.8l-0.9 0.6z"/>
<path class="c60" d="M134.7 305l0.8 -0.8l4.7 -0.8l-0.9 0.7z"/>
<path class="c67" d="M141.1 302.6l0.9 -0.8l4.6 -0.7l-0.9 0.7z"/>
<path class="c51" d="M123.6 308.9l0.9 -0.9l9.3 -2.2l-0.9 0.9z"/>
<path class="c39" d="M111.7 313.3l0.8 -0.5l9.3 -2.8l-0.9 0.5z"/>
<path class="c15" d="M86.3 321.1l2.3 0.5l9.3 -2.6l-2.3 -0.4z"/>
<path class="c27" d="M99.7 317.9l0.9 -0.6l9.3 -2.8l-0.9 0.6z"/>
<path class="c64" d="M135.5 304.2l0.9 -0.9l4.7 -0.7l-0.9 0.8z"/>
<path class="c11" d="M72.3 322.2l3.5 1l9.3 -2.4l-3.5 -0.8z"/>
<path class="c72" d="M142 301.8l0.8 -0.8l4.7 -0.7l-0.9 0.8z"/>
<path class="c56" d="M124.5 308l0.9 -0.9l9.3 -2.1l-0.9 0.8z"/>
<path class="c43" d="M112.5 312.8l0.9 -0.6l9.3 -2.8l-0.9 0.6z"/>
<path class="c30" d="M100.6 317.3l0.9 -0.6l9.3 -2.8l-0.9 0.6z"/>
<path class="c18" d="M88.6 321.6l0.9 -0.5l9.3 -2.7l-0.9 0.6z"/>
<path class="c69" d="M136.4 303.3l0.9 -0.8l4.7 -0.7l-0.9 0.8z"/>
<path class="c76" d="M142.8 301l0.9 -0.8l4.7 -0.6l-0.9 0.7z"/>
<path class="c61" d="M125.4 307.1l0.9 -0.9l9.2 -2l-0.8 0.8z"/>
<path class="c47" d="M113.4 312.2l0.9 -0.6l9.3 -2.7l-0.9 0.5z"/>
<path class="c34" d="M101.5 316.7l0.9 -0.5l9.3 -2.9l-0.9 0.6z"/>
<path class="c22" d="M89.5 321.1l0.9 -0.6l9.3 -2.6l-0.9 0.5z"/>
<path class="c74" d="M137.3 302.5l0.9 -0.9l4.6 -0.6l-0.8 0.8z"/>
<path class="c81" d="M143.7 300.2l0.9 -0.8l4.7 -0.5l-0.9 0.7z"/>
<path class="c14" d="M75.8 323.2l3.6 1l9.2 -2.6l-3.5 -0.8z"/>
<path class="c52" d="M114.3 311.6l0.9 -0.9l9.3 -2.7l-0.9 0.9z"/>
<path class="c66" d="M126.3 306.2l0.8 -0.9l9.3 -2l-0.9 0.9z"/>
<path class="c38" d="M102.4 316.2l0.9 -0.6l9.2 -2.8l-0.8 0.5z"/>
<path class="c26" d="M90.4 320.5l0.9 -0.5l9.3 -2.7l-0.9 0.6z"/>
<path class="c79" d="M138.2 301.6l0.9 -0.8l4.6 -0.6l-0.9 0.8z"/>
<path class="c42" d="M103.3 315.6l0.8 -0.6l9.3 -2.8l-0.9 0.6z"/>
<path class="c57" d="M115.2 310.7l0.9 -0.9l9.3 -2.7l-0.9 0.9z"/>
<path class="c71" d="M127.1 305.3l0.9 -0.8l9.3 -2l-0.9 0.8z"/>
<path class="c29" d="M91.3 320l0.9 -0.5l9.3 -2.8l-0.9 0.6z"/>
<path class="c18" d="M79.4 324.2l0.8 -0.5l9.3 -2.6l-0.9 0.5z"/>
<path class="c84" d="M139.1 300.8l0.9 -0.8l4.6 -0.6l-0.9 0.8z"/>
<path class="c46" d="M104.1 315l0.9 -0.5l9.3 -2.9l-0.9 0.6z"/>
<path class="c76" d="M128 304.5l0.9 -0.9l9.3 -2l-0.9 0.9z"/>
<path class="c62" d="M116.1 309.8l0.9 -0.9l9.3 -2.7l-0.9 0.9z"/>
<path class="c33" d="M92.2 319.5l0.9 -0.6l9.3 -2.7l-0.9 0.5z"/>
<path class="c21" d="M80.2 323.7l0.9 -0.5l9.3 -2.7l-0.9 0.6z"/>
<path class="c50" d="M105 314.5l0.9 -1l9.3 -2.8l-0.9 0.9z"/>
<path class="c37" d="M93.1 318.9l0.9 -0.5l9.2 -2.8l-0.8 0.6z"/>
<path class="c81" d="M128.9 303.6l0.9 -0.9l9.3 -1.9l-0.9 0.8z"/>
<path class="c67" d="M117 308.9l0.8 -1l9.3 -2.6l-0.8 0.9z"/>
<path class="c25" d="M81.1 323.2l0.9 -0.6l9.3 -2.6l-0.9 0.5z"/>
<path class="c41" d="M94 318.4l0.8 -0.6l9.3 -2.8l-0.9 0.6z"/>
<path class="c56" d="M105.9 313.5l0.9 -0.9l9.3 -2.8l-0.9 0.9z"/>
<path class="c86" d="M129.8 302.7l0.9 -0.9l9.3 -1.8l-0.9 0.8z"/>
<path class="c72" d="M117.8 307.9l0.9 -0.9l9.3 -2.5l-0.9 0.8z"/>
<path class="c29" d="M82 322.6l0.9 -0.5l9.3 -2.6l-0.9 0.5z"/>
<path class="c45" d="M94.8 317.8l0.9 -0.5l9.3 -2.8l-0.9 0.5z"/>
<path class="c61" d="M106.8 312.6l0.9 -1l9.3 -2.7l-0.9 0.9z"/>
<path class="c32" d="M82.9 322.1l0.9 -0.5l9.3 -2.7l-0.9 0.6z"/>
<path class="c77" d="M118.7 307l0.9 -0.9l9.3 -2.5l-0.9 0.9z"/>
<path class="c92" d="M130.7 301.8l0.9 -1.1l9.3 -1.9l-0.9 1.2z"/>
<path class="c49" d="M95.7 317.3l0.9 -1l9.3 -2.8l-0.9 1z"/>
<path class="c36" d="M83.8 321.6l0.9 -0.5l9.3 -2.7l-0.9 0.5z"/>
<path class="c66" d="M107.7 311.6l0.9 -0.9l9.2 -2.8l-0.8 1z"/>
<path class="c82" d="M119.6 306.1l0.9 -0.9l9.3 -2.5l-0.9 0.9z"/>
<path class="c98" d="M131.6 300.7l0.9 -1.1l9.2 -2l-0.8 1.2z"/>
<path class="c40" d="M84.7 321.1l0.9 -0.5l9.2 -2.8l-0.8 0.6z"/>
<path class="c54" d="M96.6 316.3l0.9 -0.9l9.3 -2.8l-0.9 0.9z"/>
<path class="c71" d="M108.6 310.7l0.8 -0.9l9.3 -2.8l-0.9 0.9z"/>
<path class="c87" d="M120.5 305.2l0.9 -0.9l9.3 -2.5l-0.9 0.9z"/>
<path class="c104" d="M132.5 299.6l0.8 -1.1l9.3 -2.1l-0.9 1.2z"/>
<path class="c43" d="M85.6 320.6l0.8 -0.6l9.3 -2.7l-0.9 0.5z"/>
<path class="c60" d="M97.5 315.4l0.9 -1l9.3 -2.8l-0.9 1z"/>
<path class="c77" d="M109.4 309.8l0.9 -1l9.3 -2.7l-0.9 0.9z"/>
<path class="c93" d="M121.4 304.3l0.9 -1.1l9.3 -2.5l-0.9 1.1z"/>
<path class="c110" d="M133.3 298.5l0.9 -1.1l9.3 -2.2l-0.9 1.2z"/>
<path class="c48" d="M86.4 320l0.9 -0.9l9.3 -2.8l-0.9 1z"/>
<path class="c65" d="M98.4 314.4l0.9 -0.9l9.3 -2.8l-0.9 0.9z"/>
<path class="c82" d="M110.3 308.8l0.9 -0.9l9.3 -2.7l-0.9 0.9z"/>
<path class="c99" d="M122.3 303.2l0.9 -1.1l9.2 -2.5l-0.8 1.1z"/>
<path class="c116" d="M134.2 297.4l0.9 -1.1l9.3 -2.3l-0.9 1.2z"/>
<path class="c53" d="M87.3 319.1l0.9 -1l9.3 -2.7l-0.9 0.9z"/>
<path class="c70" d="M99.3 313.5l0.9 -1l9.2 -2.7l-0.8 0.9z"/>
<path class="c87" d="M111.2 307.9l0.9 -0.9l9.3 -2.7l-0.9 0.9z"/>
<path class="c105" d="M123.2 302.1l0.8 -1.1l9.3 -2.5l-0.9 1.1z"/>
<path class="c59" d="M88.2 318.1l0.9 -0.9l9.3 -2.8l-0.9 1z"/>
<path class="c122" d="M135.1 296.3l0.9 -1.1l9.3 -2.4l-0.9 1.2z"/>
<path class="c76" d="M100.2 312.5l0.8 -0.9l9.3 -2.8l-0.9 1z"/>
<path class="c93" d="M112.1 307l0.9 -1.2l9.3 -2.6l-0.9 1.1z"/>
<path class="c111" d="M124 301l0.9 -1.1l9.3 -2.5l-0.9 1.1z"/>
<path class="c64" d="M89.1 317.2l0.9 -1l9.3 -2.7l-0.9 0.9z"/>
<path class="c128" d="M136 295.2l0.9 -1.1l9.3 -2.5l-0.9 1.2z"/>
<path class="c81" d="M101 311.6l0.9 -1l9.3 -2.7l-0.9 0.9z"/>
<path class="c99" d="M113 305.8l0.9 -1.1l9.3 -2.6l-0.9 1.1z"/>
<path class="c117" d="M124.9 299.9l0.9 -1.1l9.3 -2.5l-0.9 1.1z"/>
<path class="c69" d="M90 316.2l0.9 -0.9l9.3 -2.8l-0.9 1z"/>
<path class="c135" d="M136.9 294.1l0.9 -1.1l9.2 -2.6l-0.8 1.2z"/>
<path class="c86" d="M101.9 310.6l0.9 -0.9l9.3 -2.7l-0.9 0.9z"/>
<path class="c105" d="M113.9 304.7l0.9 -1.1l9.2 -2.6l-0.8 1.1z"/>
<path class="c123" d="M125.8 298.8l0.9 -1.1l9.3 -2.5l-0.9 1.1z"/>
<path class="c75" d="M90.9 315.3l0.9 -1l9.2 -2.7l-0.8 0.9z"/>
<path class="c92" d="M102.8 309.7l0.9 -1.2l9.3 -2.7l-0.9 1.2z"/>
<path class="c111" d="M114.8 303.6l0.8 -1.1l9.3 -2.6l-0.9 1.1z"/>
<path class="c80" d="M91.8 314.3l0.8 -0.9l9.3 -2.8l-0.9 1z"/>
<path class="c129" d="M126.7 297.7l0.9 -1.1l9.3 -2.5l-0.9 1.1z"/>
<path class="c98" d="M103.7 308.5l0.9 -1.1l9.3 -2.7l-0.9 1.1z"/>
<path class="c117" d="M115.6 302.5l0.9 -1.2l9.3 -2.5l-0.9 1.1z"/>
<path class="c85" d="M92.6 313.4l0.9 -1l9.3 -2.7l-0.9 0.9z"/>
<path class="c135" d="M127.6 296.6l0.9 -1.2l9.3 -2.4l-0.9 1.1z"/>
<path class="c104" d="M104.6 307.4l0.9 -1.2l9.3 -2.6l-0.9 1.1z"/>
<path class="c123" d="M116.5 301.3l0.9 -1.1l9.3 -2.5l-0.9 1.1z"/>
<path class="c91" d="M93.5 312.4l0.9 -1.1l9.3 -2.8l-0.9 1.2z"/>
<path class="c110" d="M105.5 306.2l0.8 -1.1l9.3 -2.6l-0.8 1.1z"/>
<path class="c129" d="M117.4 300.2l0.9 -1.1l9.3 -2.5l-0.9 1.1z"/>
<path class="c97" d="M94.4 311.3l0.9 -1.2l9.3 -2.7l-0.9 1.1z"/>
<path class="c116" d="M106.3 305.1l0.9 -1.2l9.3 -2.6l-0.9 1.2z"/>
<path class="c135" d="M118.3 299.1l0.9 -1.1l9.3 -2.6l-0.9 1.2z"/>
<path class="c103" d="M95.3 310.1l0.9 -1.1l9.3 -2.8l-0.9 1.2z"/>
<path class="c122" d="M107.2 303.9l0.9 -1.1l9.3 -2.6l-0.9 1.1z"/>
<path class="c109" d="M96.2 309l0.9 -1.2l9.2 -2.7l-0.8 1.1z"/>
<path class="c128" d="M108.1 302.8l0.9 -1.2l9.3 -2.5l-0.9 1.1z"/>
<path class="c116" d="M97.1 307.8l0.8 -1.2l9.3 -2.7l-0.9 1.2z"/>
<path class="c135" d="M109 301.6l0.9 -1.1l9.3 -2.5l-0.9 1.1z"/>
<path class="c122" d="M97.9 306.6l0.9 -1.1l9.3 -2.7l-0.9 1.1z"/>
<path class="c128" d="M98.8 305.5l0.9 -1.2l9.3 -2.7l-0.9 1.2z"/>
<path class="c134" d="M99.7 304.3l0.9 -1.1l9.3 -2.7l-0.9 1.1z"/></g>
<line x1="29.8" y1="309.2" x2="29.8" y2="238.2" stroke="#444444" stroke-width="0.7"/>
<line x1="29.8" y1="309.2" x2="100.6" y2="342" stroke="#444444" stroke-width="0.7"/>
<line x1="100.6" y1="342" x2="193.5" y2="317" stroke="#444444" stroke-width="0.7"/>
<line x1="29.8" y1="309.2" x2="27.8" y2="309.8" stroke="#444444" stroke-width="0.7"/>
<line x1="100.6" y1="342" x2="102.6" y2="343.2" stroke="#444444" stroke-width="0.7"/>
<line x1="65.2" y1="325.6" x2="63.2" y2="326.2" stroke="#444444" stroke-width="0.7"/>
<line x1="147.1" y1="329.5" x2="149.1" y2="330.7" stroke="#444444" stroke-width="0.7"/>
<line x1="100.6" y1="342" x2="98.6" y2="342.6" stroke="#444444" stroke-width="0.7"/>
<line x1="193.5" y1="317" x2="195.5" y2="318.2" stroke="#444444" stroke-width="0.7"/>
<line x1="29.8" y1="309.2" x2="28" y2="308.7" stroke="#444444" stroke-width="0.7"/>
<line x1="29.8" y1="273.7" x2="28" y2="273.2" stroke="#444444" stroke-width="0.7"/>
<line x1="29.8" y1="238.2" x2="28" y2="237.7" stroke="#444444" stroke-width="0.7"/>
<text x="24.2" y="311.2" font-size="8" text-anchor="end">5</text>
<text x="24.2" y="275.7" font-size="8" text-anchor="end">10</text>
<text x="24.2" y="240.2" font-size="8" text-anchor="end">15</text>
<text x="21.6" y="319.6" font-size="8" text-anchor="middle">8</text>
<text x="56.7" y="336.6" font-size="8" text-anchor="middle">9</text>
<text x="90.4" y="352.5" font-size="8" text-anchor="middle">10</text>
<text x="110.8" y="353.6" font-size="8" text-anchor="middle">12</text>
<text x="158" y="340.9" font-size="8" text-anchor="middle">11</text>
<text x="203.2" y="328.6" font-size="8" text-anchor="middle">10</text>
<text x="51.8" y="357.3" font-size="9.5" text-anchor="middle">LWL</text>
<text x="155.8" y="358.9" font-size="9.5" text-anchor="middle">HWL</text>
<text font-size="9.4" text-anchor="middle" transform="translate(10.2 274.2) rotate(-90)">day</text>
<text x="111.5" y="209.7" font-size="9.25" text-anchor="middle">Shigu River</text>
<text x="30.9" y="210.9" font-size="12" font-weight="bold" fill="#000">(c)</text>
<rect x="218.3" y="214.2" width="16" height="127.6" fill="url(#pg)" stroke="#3a3a3a" stroke-width="0.6"/>
<line x1="232.9" y1="332" x2="234.3" y2="332" stroke="#3a3a3a" stroke-width="0.6"/>
<text x="237.9" y="334.9" font-size="8">6</text>
<line x1="232.9" y1="309.6" x2="234.3" y2="309.6" stroke="#3a3a3a" stroke-width="0.6"/>
<text x="237.9" y="312.5" font-size="8">7</text>
<line x1="232.9" y1="287.3" x2="234.3" y2="287.3" stroke="#3a3a3a" stroke-width="0.6"/>
<text x="237.9" y="290.2" font-size="8">8</text>
<line x1="232.9" y1="264.9" x2="234.3" y2="264.9" stroke="#3a3a3a" stroke-width="0.6"/>
<text x="237.9" y="267.8" font-size="8">9</text>
<line x1="232.9" y1="242.6" x2="234.3" y2="242.6" stroke="#3a3a3a" stroke-width="0.6"/>
<text x="237.9" y="245.5" font-size="8">10</text>
<line x1="232.9" y1="220.2" x2="234.3" y2="220.2" stroke="#3a3a3a" stroke-width="0.6"/>
<text x="237.9" y="223.1" font-size="8">11</text>
</g>
<g id="pd">
<line x1="324.5" y1="309.2" x2="417.4" y2="284.2" stroke="#dcdcdc" stroke-width="0.6"/>
<line x1="324.5" y1="309.2" x2="395.3" y2="342" stroke="#dcdcdc" stroke-width="0.6"/>
<line x1="359.9" y1="325.6" x2="452.8" y2="300.6" stroke="#dcdcdc" stroke-width="0.6"/>
<line x1="370.9" y1="296.7" x2="441.8" y2="329.5" stroke="#dcdcdc" stroke-width="0.6"/>
<line x1="395.3" y1="342" x2="488.2" y2="317" stroke="#dcdcdc" stroke-width="0.6"/>
<line x1="417.4" y1="284.2" x2="488.2" y2="317" stroke="#dcdcdc" stroke-width="0.6"/>
<line x1="324.5" y1="309.2" x2="324.5" y2="238.2" stroke="#dcdcdc" stroke-width="0.6"/>
<line x1="417.4" y1="284.2" x2="417.4" y2="213.2" stroke="#dcdcdc" stroke-width="0.6"/>
<line x1="370.9" y1="296.7" x2="370.9" y2="225.7" stroke="#dcdcdc" stroke-width="0.6"/>
<line x1="452.8" y1="300.6" x2="452.8" y2="229.6" stroke="#dcdcdc" stroke-width="0.6"/>
<line x1="417.4" y1="284.2" x2="417.4" y2="213.2" stroke="#dcdcdc" stroke-width="0.6"/>
<line x1="488.2" y1="317" x2="488.2" y2="246" stroke="#dcdcdc" stroke-width="0.6"/>
<line x1="324.5" y1="309.2" x2="417.4" y2="284.2" stroke="#dcdcdc" stroke-width="0.6"/>
<line x1="417.4" y1="284.2" x2="488.2" y2="317" stroke="#dcdcdc" stroke-width="0.6"/>
<line x1="324.5" y1="273.7" x2="417.4" y2="248.7" stroke="#dcdcdc" stroke-width="0.6"/>
<line x1="417.4" y1="248.7" x2="488.2" y2="281.5" stroke="#dcdcdc" stroke-width="0.6"/>
<line x1="324.5" y1="238.2" x2="417.4" y2="213.2" stroke="#dcdcdc" stroke-width="0.6"/>
<line x1="417.4" y1="213.2" x2="488.2" y2="246" stroke="#dcdcdc" stroke-width="0.6"/>
<line x1="324.5" y1="238.2" x2="417.4" y2="213.2" stroke="#dcdcdc" stroke-width="0.6"/>
<line x1="417.4" y1="213.2" x2="488.2" y2="246" stroke="#dcdcdc" stroke-width="0.6"/>
<g class="s"><path class="c90" d="M398.8 257.2l1.4 1.3l1.2 -1.3l-1.4 -1.3z"/>
<path class="c93" d="M400 255.9l1.4 1.3l1.2 -1.2l-1.5 -1.4z"/>
<path class="c97" d="M401.1 254.6l1.5 1.4l1.1 -1.3l-1.4 -1.4z"/>
<path class="c100" d="M402.3 253.3l1.4 1.4l1.2 -1.3l-1.4 -1.4z"/>
<path class="c104" d="M403.5 252l1.4 1.4l1.1 -1.3l-1.4 -1.4z"/>
<path class="c107" d="M404.6 250.7l1.4 1.4l1.2 -1.2l-1.4 -1.5z"/>
<path class="c110" d="M405.8 249.4l1.4 1.5l1.2 -1.3l-1.5 -1.5z"/>
<path class="c87" d="M397.3 258.5l1.7 1.6l1.6 -1.3l-1.8 -1.6z"/>
<path class="c114" d="M406.9 248.1l1.5 1.5l1.1 -1.3l-1.4 -1.5z"/>
<path class="c118" d="M408.1 246.8l0.9 1l1.2 -1.6l-0.9 -1z"/>
<path class="c83" d="M395.7 259.7l1.8 1.7l1.5 -1.3l-1.7 -1.6z"/>
<path class="c123" d="M409.3 245.2l0.9 1l1.1 -1.6l-0.9 -1.1z"/>
<path class="c116" d="M409 247.8l0.9 0.9l1.1 -1.5l-0.8 -1z"/>
<path class="c80" d="M394.2 261l1.7 1.6l1.6 -1.2l-1.8 -1.7z"/>
<path class="c127" d="M410.4 243.5l0.9 1.1l1.2 -1.6l-0.9 -1.1z"/>
<path class="c88" d="M400.2 258.5l1.5 1.3l1.1 -1.2l-1.4 -1.4z"/>
<path class="c91" d="M401.4 257.2l1.4 1.4l1.2 -1.3l-1.4 -1.3z"/>
<path class="c94" d="M402.6 256l1.4 1.3l1.1 -1.2l-1.4 -1.4z"/>
<path class="c121" d="M410.2 246.2l0.8 1l1.2 -1.5l-0.9 -1.1z"/>
<path class="c98" d="M403.7 254.7l1.4 1.4l1.2 -1.3l-1.4 -1.4z"/>
<path class="c101" d="M404.9 253.4l1.4 1.4l1.2 -1.2l-1.5 -1.5z"/>
<path class="c104" d="M406 252.1l1.5 1.5l1.1 -1.2l-1.4 -1.5z"/>
<path class="c108" d="M407.2 250.9l1.4 1.5l1.2 -1.3l-1.4 -1.5z"/>
<path class="c77" d="M392.6 262.3l1.8 1.6l1.5 -1.3l-1.7 -1.6z"/>
<path class="c111" d="M408.4 249.6l1.4 1.5l1.1 -1.2l-1.4 -1.6z"/>
<path class="c132" d="M411.6 241.9l0.9 1.1l1.1 -1.5l-0.8 -1.2z"/>
<path class="c125" d="M411.3 244.6l0.9 1.1l1.2 -1.5l-0.9 -1.2z"/>
<path class="c114" d="M409.9 248.7l0.9 1l1.1 -1.5l-0.9 -1z"/>
<path class="c74" d="M391.1 263.6l1.7 1.6l1.6 -1.3l-1.8 -1.6z"/>
<path class="c136" d="M412.8 240.3l0.8 1.2l1.2 -1.6l-0.9 -1.2z"/>
<path class="c118" d="M411 247.2l0.9 1l1.2 -1.4l-0.9 -1.1z"/>
<path class="c84" d="M399 260.1l1.8 1.6l1.6 -1.2l-1.8 -1.7z"/>
<path class="c129" d="M412.5 243l0.9 1.2l1.1 -1.5l-0.9 -1.2z"/>
<path class="c123" d="M412.2 245.7l0.9 1.1l1.1 -1.5l-0.8 -1.1z"/>
<path class="c71" d="M389.5 264.9l1.8 1.5l1.5 -1.2l-1.7 -1.6z"/>
<path class="c141" d="M413.9 238.7l0.9 1.2l1.2 -1.6l-0.9 -1.3z"/>
<path class="c134" d="M413.6 241.5l0.9 1.2l1.2 -1.5l-0.9 -1.3z"/>
<path class="c112" d="M410.8 249.7l0.8 0.9l1.2 -1.4l-0.9 -1z"/>
<path class="c81" d="M397.5 261.4l1.8 1.6l1.5 -1.3l-1.8 -1.6z"/>
<path class="c127" d="M413.4 244.2l0.8 1.1l1.2 -1.4l-0.9 -1.2z"/>
<path class="c116" d="M411.9 248.2l0.9 1l1.2 -1.4l-0.9 -1z"/>
<path class="c108" d="M409.8 251.1l1.4 1.5l1.2 -1.2l-1.5 -1.5z"/>
<path class="c105" d="M408.6 252.4l1.4 1.4l1.2 -1.2l-1.4 -1.5z"/>
<path class="c101" d="M407.5 253.6l1.4 1.5l1.1 -1.3l-1.4 -1.4z"/>
<path class="c98" d="M406.3 254.8l1.4 1.5l1.2 -1.2l-1.4 -1.5z"/>
<path class="c95" d="M405.1 256.1l1.5 1.4l1.1 -1.2l-1.4 -1.5z"/>
<path class="c92" d="M404 257.3l1.4 1.4l1.2 -1.2l-1.5 -1.4z"/>
<path class="c88" d="M402.8 258.6l1.4 1.3l1.2 -1.2l-1.4 -1.4z"/>
<path class="c85" d="M401.7 259.8l1.4 1.4l1.1 -1.3l-1.4 -1.3z"/>
<path class="c69" d="M388 266.1l1.8 1.5l1.5 -1.2l-1.8 -1.5z"/>
<path class="c138" d="M414.8 239.9l0.9 1.3l1.1 -1.6l-0.8 -1.3z"/>
<path class="c145" d="M415.1 237l0.9 1.3l1.1 -1.5l-0.9 -1.4z"/>
<path class="c131" d="M414.5 242.7l0.9 1.2l1.2 -1.5l-0.9 -1.2z"/>
<path class="c120" d="M413.1 246.8l0.9 1l1.1 -1.4l-0.9 -1.1z"/>
<path class="c78" d="M395.9 262.6l1.8 1.6l1.6 -1.2l-1.8 -1.6z"/>
<path class="c142" d="M416 238.3l0.8 1.3l1.2 -1.5l-0.9 -1.3z"/>
<path class="c124" d="M414.2 245.3l0.9 1.1l1.2 -1.4l-0.9 -1.1z"/>
<path class="c135" d="M415.7 241.2l0.9 1.2l1.1 -1.5l-0.9 -1.3z"/>
<path class="c110" d="M411.6 250.6l0.9 1l1.2 -1.3l-0.9 -1.1z"/>
<path class="c150" d="M416.2 235.4l0.9 1.4l1.2 -1.6l-0.9 -1.4z"/>
<path class="c66" d="M386.4 267.4l1.8 1.5l1.6 -1.3l-1.8 -1.5z"/>
<path class="c114" d="M412.8 249.2l0.9 1.1l1.2 -1.4l-0.9 -1.1z"/>
<path class="c128" d="M415.4 243.9l0.9 1.1l1.2 -1.4l-0.9 -1.2z"/>
<path class="c75" d="M394.4 263.9l1.8 1.6l1.5 -1.3l-1.8 -1.6z"/>
<path class="c139" d="M416.8 239.6l0.9 1.3l1.2 -1.4l-0.9 -1.4z"/>
<path class="c147" d="M417.1 236.8l0.9 1.3l1.2 -1.5l-0.9 -1.4z"/>
<path class="c118" d="M414 247.8l0.9 1.1l1.1 -1.3l-0.9 -1.2z"/>
<path class="c132" d="M416.6 242.4l0.9 1.2l1.1 -1.4l-0.9 -1.3z"/>
<path class="c121" d="M415.1 246.4l0.9 1.2l1.2 -1.4l-0.9 -1.2z"/>
<path class="c63" d="M384.9 268.6l1.8 1.5l1.5 -1.2l-1.8 -1.5z"/>
<path class="c143" d="M418 238.1l0.9 1.4l1.2 -1.5l-0.9 -1.4z"/>
<path class="c136" d="M417.7 240.9l0.9 1.3l1.2 -1.4l-0.9 -1.3z"/>
<path class="c72" d="M392.8 265.2l1.8 1.5l1.6 -1.2l-1.8 -1.6z"/>
<path class="c125" d="M416.3 245l0.9 1.2l1.1 -1.3l-0.8 -1.3z"/>
<path class="c81" d="M400.8 261.7l1.8 1.7l1.5 -1.3l-1.7 -1.6z"/>
<path class="c108" d="M412.5 251.6l0.9 1l1.2 -1.3l-0.9 -1z"/>
<path class="c105" d="M411.2 252.6l1.4 1.5l1.2 -1.2l-1.4 -1.5z"/>
<path class="c129" d="M417.5 243.6l0.8 1.3l1.2 -1.4l-0.9 -1.3z"/>
<path class="c102" d="M410 253.8l1.5 1.5l1.1 -1.2l-1.4 -1.5z"/>
<path class="c112" d="M413.7 250.3l0.9 1l1.1 -1.3l-0.8 -1.1z"/>
<path class="c98" d="M408.9 255.1l1.4 1.4l1.2 -1.2l-1.5 -1.5z"/>
<path class="c140" d="M418.9 239.5l0.9 1.3l1.1 -1.4l-0.8 -1.4z"/>
<path class="c95" d="M407.7 256.3l1.4 1.4l1.2 -1.2l-1.4 -1.4z"/>
<path class="c92" d="M406.6 257.5l1.4 1.4l1.1 -1.2l-1.4 -1.4z"/>
<path class="c115" d="M414.9 248.9l0.8 1.1l1.2 -1.3l-0.9 -1.1z"/>
<path class="c89" d="M405.4 258.7l1.4 1.4l1.2 -1.2l-1.4 -1.4z"/>
<path class="c133" d="M418.6 242.2l0.9 1.3l1.2 -1.3l-0.9 -1.4z"/>
<path class="c86" d="M404.2 259.9l1.4 1.4l1.2 -1.2l-1.4 -1.4z"/>
<path class="c60" d="M383.3 269.8l1.8 1.5l1.6 -1.2l-1.8 -1.5z"/>
<path class="c83" d="M403.1 261.2l1.4 1.3l1.1 -1.2l-1.4 -1.4z"/>
<path class="c119" d="M416 247.6l0.9 1.1l1.2 -1.3l-0.9 -1.2z"/>
<path class="c69" d="M391.3 266.4l1.8 1.6l1.5 -1.3l-1.8 -1.5z"/>
<path class="c122" d="M417.2 246.2l0.9 1.2l1.1 -1.3l-0.9 -1.2z"/>
<path class="c136" d="M419.8 240.8l0.9 1.4l1.1 -1.3l-0.9 -1.5z"/>
<path class="c78" d="M399.3 263l1.7 1.6l1.6 -1.2l-1.8 -1.7z"/>
<path class="c126" d="M418.3 244.9l0.9 1.2l1.2 -1.3l-0.9 -1.3z"/>
<path class="c129" d="M419.5 243.5l0.9 1.3l1.1 -1.2l-0.8 -1.4z"/>
<path class="c133" d="M420.7 242.2l0.8 1.4l1.2 -1.3l-0.9 -1.4z"/>
<path class="c57" d="M381.8 271.1l1.8 1.4l1.5 -1.2l-1.8 -1.5z"/>
<path class="c106" d="M413.4 252.6l0.9 0.9l1.2 -1.2l-0.9 -1z"/>
<path class="c110" d="M414.6 251.3l0.9 1l1.1 -1.2l-0.9 -1.1z"/>
<path class="c113" d="M415.7 250l0.9 1.1l1.2 -1.3l-0.9 -1.1z"/>
<path class="c66" d="M389.8 267.6l1.7 1.6l1.6 -1.2l-1.8 -1.6z"/>
<path class="c116" d="M416.9 248.7l0.9 1.1l1.2 -1.2l-0.9 -1.2z"/>
<path class="c120" d="M418.1 247.4l0.9 1.2l1.1 -1.2l-0.9 -1.3z"/>
<path class="c75" d="M397.7 264.2l1.8 1.6l1.5 -1.2l-1.7 -1.6z"/>
<path class="c123" d="M419.2 246.1l0.9 1.3l1.2 -1.3l-0.9 -1.3z"/>
<path class="c126" d="M420.4 244.8l0.9 1.3l1.1 -1.2l-0.9 -1.3z"/>
<path class="c129" d="M421.5 243.6l0.9 1.3l1.2 -1.2l-0.9 -1.4z"/>
<path class="c54" d="M380.2 272.3l1.8 1.5l1.6 -1.3l-1.8 -1.4z"/>
<path class="c126" d="M422.4 244.9l0.9 1.4l1.2 -1.2l-0.9 -1.4z"/>
<path class="c123" d="M421.3 246.1l0.9 1.3l1.1 -1.1l-0.9 -1.4z"/>
<path class="c102" d="M412.6 254.1l1.4 1.5l1.2 -1.1l-1.4 -1.6z"/>
<path class="c120" d="M420.1 247.4l0.9 1.2l1.2 -1.2l-0.9 -1.3z"/>
<path class="c63" d="M388.2 268.9l1.8 1.5l1.5 -1.2l-1.7 -1.6z"/>
<path class="c117" d="M419 248.6l0.8 1.2l1.2 -1.2l-0.9 -1.2z"/>
<path class="c99" d="M411.5 255.3l1.4 1.5l1.1 -1.2l-1.4 -1.5z"/>
<path class="c72" d="M396.2 265.5l1.7 1.6l1.6 -1.3l-1.8 -1.6z"/>
<path class="c114" d="M417.8 249.8l0.9 1.2l1.1 -1.2l-0.8 -1.2z"/>
<path class="c110" d="M416.6 251.1l0.9 1l1.2 -1.1l-0.9 -1.2z"/>
<path class="c96" d="M410.3 256.5l1.4 1.5l1.2 -1.2l-1.4 -1.5z"/>
<path class="c107" d="M415.5 252.3l0.9 1l1.1 -1.2l-0.9 -1z"/>
<path class="c104" d="M414.3 253.5l0.9 1l1.2 -1.2l-0.9 -1z"/>
<path class="c93" d="M409.1 257.7l1.4 1.4l1.2 -1.1l-1.4 -1.5z"/>
<path class="c90" d="M408 258.9l1.4 1.4l1.1 -1.2l-1.4 -1.4z"/>
<path class="c87" d="M406.8 260.1l1.4 1.4l1.2 -1.2l-1.4 -1.4z"/>
<path class="c123" d="M423.3 246.3l1 1.3l1.2 -1.1l-1 -1.4z"/>
<path class="c83" d="M405.6 261.3l1.5 1.3l1.1 -1.1l-1.4 -1.4z"/>
<path class="c80" d="M404.5 262.5l1.4 1.3l1.2 -1.2l-1.5 -1.3z"/>
<path class="c120" d="M422.2 247.4l1 1.4l1.1 -1.2l-1 -1.3z"/>
<path class="c60" d="M386.7 270.1l1.7 1.5l1.6 -1.2l-1.8 -1.5z"/>
<path class="c117" d="M421 248.6l1 1.3l1.2 -1.1l-1 -1.4z"/>
<path class="c78" d="M402.6 263.4l1.8 1.6l1.5 -1.2l-1.8 -1.7z"/>
<path class="c69" d="M394.6 266.7l1.8 1.6l1.5 -1.2l-1.7 -1.6z"/>
<path class="c114" d="M419.8 249.8l1 1.3l1.2 -1.2l-1 -1.3z"/>
<path class="c111" d="M418.7 251l1 1.2l1.1 -1.1l-1 -1.3z"/>
<path class="c108" d="M417.5 252.1l1 1.3l1.2 -1.2l-1 -1.2z"/>
<path class="c105" d="M416.4 253.3l1 1.2l1.1 -1.1l-1 -1.3z"/>
<path class="c102" d="M415.2 254.5l1 1.2l1.2 -1.2l-1 -1.2z"/>
<path class="c120" d="M424.3 247.6l1 1.4l1.2 -1.1l-1 -1.4z"/>
<path class="c66" d="M393.1 268l1.7 1.5l1.6 -1.2l-1.8 -1.6z"/>
<path class="c75" d="M401 264.6l1.8 1.6l1.6 -1.2l-1.8 -1.6z"/>
<path class="c58" d="M385.1 271.3l1.8 1.5l1.5 -1.2l-1.7 -1.5z"/>
<path class="c117" d="M423.2 248.8l1 1.3l1.1 -1.1l-1 -1.4z"/>
<path class="c51" d="M377.9 273.9l2.4 1.8l2.3 -1.5l-2.4 -1.9z"/>
<path class="c99" d="M414 255.6l1.2 1.4l1.2 -1.1l-1.2 -1.4z"/>
<path class="c114" d="M422 249.9l1 1.4l1.2 -1.2l-1 -1.3z"/>
<path class="c96" d="M412.9 256.8l1.1 1.4l1.2 -1.2l-1.2 -1.4z"/>
<path class="c111" d="M420.8 251.1l1.1 1.3l1.1 -1.1l-1 -1.4z"/>
<path class="c93" d="M411.7 258l1.2 1.3l1.1 -1.1l-1.1 -1.4z"/>
<path class="c108" d="M419.7 252.2l1 1.3l1.2 -1.1l-1.1 -1.3z"/>
<path class="c90" d="M410.5 259.1l1.2 1.3l1.2 -1.1l-1.2 -1.3z"/>
<path class="c105" d="M418.5 253.4l1 1.3l1.2 -1.2l-1 -1.3z"/>
<path class="c87" d="M409.4 260.3l1.2 1.2l1.1 -1.1l-1.2 -1.3z"/>
<path class="c116" d="M425.3 249l1.1 1.3l1.1 -1.1l-1 -1.3z"/>
<path class="c63" d="M391.5 269.2l1.8 1.5l1.5 -1.2l-1.7 -1.5z"/>
<path class="c72" d="M399.5 265.8l1.8 1.6l1.5 -1.2l-1.8 -1.6z"/>
<path class="c55" d="M383.6 272.5l1.7 1.5l1.6 -1.2l-1.8 -1.5z"/>
<path class="c102" d="M417.4 254.5l1 1.3l1.1 -1.1l-1 -1.3z"/>
<path class="c84" d="M408.2 261.5l1.2 1.2l1.2 -1.2l-1.2 -1.2z"/>
<path class="c114" d="M424.2 250.1l1 1.4l1.2 -1.2l-1.1 -1.3z"/>
<path class="c99" d="M416.2 255.7l1 1.2l1.2 -1.1l-1 -1.3z"/>
<path class="c81" d="M407.1 262.6l1.1 1.2l1.2 -1.1l-1.2 -1.2z"/>
<path class="c111" d="M423 251.3l1 1.3l1.2 -1.1l-1 -1.4z"/>
<path class="c78" d="M405.9 263.8l1.2 1.1l1.1 -1.1l-1.1 -1.2z"/>
<path class="c108" d="M421.9 252.4l1 1.3l1.1 -1.1l-1 -1.3z"/>
<path class="c96" d="M415.2 257l1.2 1.4l1.1 -1.1l-1.1 -1.4z"/>
<path class="c69" d="M397.9 267.1l1.8 1.6l1.6 -1.3l-1.8 -1.6z"/>
<path class="c105" d="M420.7 253.5l1 1.3l1.2 -1.1l-1 -1.3z"/>
<path class="c52" d="M382 273.8l1.8 1.4l1.5 -1.2l-1.7 -1.5z"/>
<path class="c61" d="M390 270.4l1.7 1.5l1.6 -1.2l-1.8 -1.5z"/>
<path class="c113" d="M426.4 250.3l1 1.4l1.1 -1.1l-1 -1.4z"/>
<path class="c93" d="M414 258.2l1.2 1.3l1.2 -1.1l-1.2 -1.4z"/>
<path class="c48" d="M375.6 275.4l2.4 1.9l2.3 -1.6l-2.4 -1.8z"/>
<path class="c102" d="M419.5 254.7l1 1.2l1.2 -1.1l-1 -1.3z"/>
<path class="c110" d="M425.2 251.5l1 1.3l1.2 -1.1l-1 -1.4z"/>
<path class="c90" d="M412.9 259.3l1.2 1.3l1.1 -1.1l-1.2 -1.3z"/>
<path class="c99" d="M418.4 255.8l1 1.2l1.1 -1.1l-1 -1.2z"/>
<path class="c108" d="M424 252.6l1 1.3l1.2 -1.1l-1 -1.3z"/>
<path class="c75" d="M404.4 265l1.7 1.7l1.6 -1.2l-1.8 -1.7z"/>
<path class="c87" d="M411.7 260.4l1.2 1.3l1.2 -1.1l-1.2 -1.3z"/>
<path class="c97" d="M417.2 256.9l1 1.2l1.2 -1.1l-1 -1.2z"/>
<path class="c66" d="M396.4 268.3l1.8 1.6l1.5 -1.2l-1.8 -1.6z"/>
<path class="c105" d="M422.9 253.7l1 1.3l1.1 -1.1l-1 -1.3z"/>
<path class="c84" d="M410.6 261.5l1.1 1.3l1.2 -1.1l-1.2 -1.3z"/>
<path class="c58" d="M388.4 271.6l1.8 1.5l1.5 -1.2l-1.7 -1.5z"/>
<path class="c110" d="M427.4 251.7l1 1.4l1.1 -1.1l-1 -1.4z"/>
<path class="c102" d="M421.7 254.8l1 1.3l1.2 -1.1l-1 -1.3z"/>
<path class="c82" d="M409.4 262.7l1.2 1.2l1.1 -1.1l-1.1 -1.3z"/>
<path class="c107" d="M426.2 252.8l1 1.3l1.2 -1l-1 -1.4z"/>
<path class="c79" d="M408.2 263.8l1.2 1.2l1.2 -1.1l-1.2 -1.2z"/>
<path class="c99" d="M420.5 255.9l1.1 1.3l1.1 -1.1l-1 -1.3z"/>
<path class="c93" d="M416.4 258.4l1.2 1.4l1.1 -1.1l-1.2 -1.4z"/>
<path class="c72" d="M402.8 266.2l1.8 1.7l1.5 -1.2l-1.7 -1.7z"/>
<path class="c76" d="M407.1 264.9l1.2 1.2l1.1 -1.1l-1.2 -1.2z"/>
<path class="c64" d="M394.8 269.5l1.8 1.6l1.6 -1.2l-1.8 -1.6z"/>
<path class="c97" d="M419.4 257l1 1.3l1.2 -1.1l-1.1 -1.3z"/>
<path class="c105" d="M425 253.9l1.1 1.3l1.1 -1.1l-1 -1.3z"/>
<path class="c90" d="M415.2 259.5l1.2 1.4l1.2 -1.1l-1.2 -1.4z"/>
<path class="c55" d="M386.9 272.8l1.7 1.4l1.6 -1.1l-1.8 -1.5z"/>
<path class="c94" d="M418.2 258.1l1 1.3l1.2 -1.1l-1 -1.3z"/>
<path class="c102" d="M423.9 255l1 1.3l1.2 -1.1l-1.1 -1.3z"/>
<path class="c107" d="M428.4 253.1l1 1.3l1.1 -1l-1 -1.4z"/>
<path class="c44" d="M373.3 277l2.3 1.8l2.4 -1.5l-2.4 -1.9z"/>
<path class="c87" d="M414.1 260.6l1.1 1.3l1.2 -1l-1.2 -1.4z"/>
<path class="c99" d="M422.7 256.1l1 1.3l1.2 -1.1l-1 -1.3z"/>
<path class="c104" d="M427.2 254.1l1 1.4l1.2 -1.1l-1 -1.3z"/>
<path class="c85" d="M412.9 261.7l1.2 1.3l1.1 -1.1l-1.1 -1.3z"/>
<path class="c69" d="M401.3 267.4l1.7 1.6l1.6 -1.1l-1.8 -1.7z"/>
<path class="c61" d="M393.3 270.7l1.8 1.5l1.5 -1.1l-1.8 -1.6z"/>
<path class="c97" d="M421.6 257.2l1 1.2l1.1 -1l-1 -1.3z"/>
<path class="c82" d="M411.7 262.8l1.2 1.2l1.2 -1l-1.2 -1.3z"/>
<path class="c102" d="M426.1 255.2l1 1.3l1.1 -1l-1 -1.4z"/>
<path class="c53" d="M385.3 274l1.8 1.4l1.5 -1.2l-1.7 -1.4z"/>
<path class="c94" d="M420.4 258.3l1 1.2l1.2 -1.1l-1 -1.2z"/>
<path class="c90" d="M417.6 259.8l1.1 1.4l1.2 -1l-1.2 -1.5z"/>
<path class="c104" d="M429.4 254.4l1 1.4l1.2 -1l-1.1 -1.4z"/>
<path class="c79" d="M410.6 263.9l1.2 1.2l1.1 -1.1l-1.2 -1.2z"/>
<path class="c99" d="M424.9 256.3l1 1.3l1.2 -1.1l-1 -1.3z"/>
<path class="c91" d="M419.2 259.4l1 1.2l1.2 -1.1l-1 -1.2z"/>
<path class="c48" d="M380.3 275.7l2.3 1.9l2.4 -1.5l-2.4 -1.9z"/>
<path class="c67" d="M399.7 268.7l1.8 1.5l1.5 -1.2l-1.7 -1.6z"/>
<path class="c77" d="M409.4 265l1.2 1.1l1.2 -1l-1.2 -1.2z"/>
<path class="c87" d="M416.4 260.9l1.2 1.3l1.1 -1l-1.1 -1.4z"/>
<path class="c101" d="M428.2 255.5l1 1.3l1.2 -1l-1 -1.4z"/>
<path class="c96" d="M423.7 257.4l1 1.2l1.2 -1l-1 -1.3z"/>
<path class="c58" d="M391.7 271.9l1.8 1.5l1.6 -1.2l-1.8 -1.5z"/>
<path class="c50" d="M383.8 275.2l1.7 1.4l1.6 -1.2l-1.8 -1.4z"/>
<path class="c74" d="M408.3 266.1l1.1 1.1l1.2 -1.1l-1.2 -1.1z"/>
<path class="c94" d="M422.6 258.4l1 1.3l1.1 -1.1l-1 -1.2z"/>
<path class="c85" d="M415.2 261.9l1.2 1.3l1.2 -1l-1.2 -1.3z"/>
<path class="c72" d="M406.1 266.7l1.8 1.6l1.5 -1.1l-1.7 -1.7z"/>
<path class="c99" d="M427.1 256.5l1 1.4l1.1 -1.1l-1 -1.3z"/>
<path class="c41" d="M371 278.5l2.3 1.8l2.3 -1.5l-2.3 -1.8z"/>
<path class="c91" d="M421.4 259.5l1 1.2l1.2 -1l-1 -1.3z"/>
<path class="c82" d="M414.1 263l1.2 1.2l1.1 -1l-1.2 -1.3z"/>
<path class="c96" d="M425.9 257.6l1 1.3l1.2 -1l-1 -1.4z"/>
<path class="c64" d="M398.2 269.9l1.7 1.5l1.6 -1.2l-1.8 -1.5z"/>
<path class="c100" d="M430.2 255.9l1.2 1.4l1.3 -1.1l-1.1 -1.4z"/>
<path class="c56" d="M390.2 273.1l1.8 1.5l1.5 -1.2l-1.8 -1.5z"/>
<path class="c89" d="M420.2 260.6l1.1 1.2l1.1 -1.1l-1 -1.2z"/>
<path class="c87" d="M418.7 261.2l1.2 1.4l1.2 -1l-1.2 -1.4z"/>
<path class="c79" d="M412.9 264l1.2 1.3l1.2 -1.1l-1.2 -1.2z"/>
<path class="c94" d="M424.7 258.6l1.1 1.3l1.1 -1l-1 -1.3z"/>
<path class="c69" d="M404.6 267.9l1.7 1.6l1.6 -1.2l-1.8 -1.6z"/>
<path class="c98" d="M428.9 257.1l1.2 1.4l1.3 -1.2l-1.2 -1.4z"/>
<path class="c77" d="M411.8 265.1l1.1 1.2l1.2 -1l-1.2 -1.3z"/>
<path class="c91" d="M423.6 259.7l1 1.2l1.2 -1l-1.1 -1.3z"/>
<path class="c84" d="M417.6 262.2l1.2 1.4l1.1 -1l-1.2 -1.4z"/>
<path class="c61" d="M396.6 271.1l1.8 1.5l1.5 -1.2l-1.7 -1.5z"/>
<path class="c45" d="M378 277.3l2.3 1.8l2.3 -1.5l-2.3 -1.9z"/>
<path class="c95" d="M427.6 258.3l1.2 1.4l1.3 -1.2l-1.2 -1.4z"/>
<path class="c74" d="M410.6 266.1l1.2 1.2l1.1 -1l-1.1 -1.2z"/>
<path class="c88" d="M422.4 260.7l1 1.3l1.2 -1.1l-1 -1.2z"/>
<path class="c53" d="M388.6 274.2l1.8 1.5l1.6 -1.1l-1.8 -1.5z"/>
<path class="c82" d="M416.4 263.2l1.2 1.3l1.2 -0.9l-1.2 -1.4z"/>
<path class="c86" d="M421.3 261.8l1 1.2l1.1 -1l-1 -1.3z"/>
<path class="c72" d="M409.4 267.2l1.2 1.1l1.2 -1l-1.2 -1.2z"/>
<path class="c67" d="M403 269l1.8 1.6l1.5 -1.1l-1.7 -1.6z"/>
<path class="c92" d="M426.3 259.5l1.1 1.3l1.4 -1.1l-1.2 -1.4z"/>
<path class="c97" d="M431.4 257.3l1.2 1.5l1.3 -1.2l-1.2 -1.4z"/>
<path class="c79" d="M415.3 264.2l1.1 1.3l1.2 -1l-1.2 -1.3z"/>
<path class="c38" d="M368.6 279.9l2.4 1.7l2.3 -1.3l-2.3 -1.8z"/>
<path class="c84" d="M419.9 262.6l1.2 1.4l1.2 -1l-1.2 -1.4z"/>
<path class="c89" d="M424.9 260.7l1.2 1.3l1.3 -1.2l-1.1 -1.3z"/>
<path class="c95" d="M430.1 258.5l1.2 1.4l1.3 -1.1l-1.2 -1.5z"/>
<path class="c50" d="M387.1 275.4l1.8 1.5l1.5 -1.2l-1.8 -1.5z"/>
<path class="c77" d="M414.1 265.3l1.2 1.2l1.1 -1l-1.1 -1.3z"/>
<path class="c81" d="M418.8 263.6l1.1 1.3l1.2 -0.9l-1.2 -1.4z"/>
<path class="c64" d="M401.5 270.2l1.7 1.6l1.6 -1.2l-1.8 -1.6z"/>
<path class="c86" d="M423.6 261.8l1.2 1.4l1.3 -1.2l-1.2 -1.3z"/>
<path class="c58" d="M394.8 272.5l2.3 1.9l1.9 -1.3l-2.4 -2z"/>
<path class="c75" d="M412.9 266.3l1.2 1.2l1.2 -1l-1.2 -1.2z"/>
<path class="c92" d="M428.8 259.7l1.1 1.3l1.4 -1.1l-1.2 -1.4z"/>
<path class="c69" d="M407.9 268.3l1.8 1.7l1.5 -1.1l-1.8 -1.7z"/>
<path class="c42" d="M375.6 278.8l2.4 1.8l2.3 -1.5l-2.3 -1.8z"/>
<path class="c79" d="M417.6 264.5l1.2 1.4l1.1 -1l-1.1 -1.3z"/>
<path class="c83" d="M422.3 263l1.1 1.3l1.4 -1.1l-1.2 -1.4z"/>
<path class="c72" d="M411.8 267.3l1.2 1.2l1.1 -1l-1.2 -1.2z"/>
<path class="c48" d="M385.5 276.6l1.8 1.4l1.6 -1.1l-1.8 -1.5z"/>
<path class="c94" d="M432.6 258.8l1.2 1.4l1.3 -1.2l-1.2 -1.4z"/>
<path class="c89" d="M427.4 260.8l1.2 1.4l1.3 -1.2l-1.1 -1.3z"/>
<path class="c61" d="M399.9 271.4l1.8 1.5l1.5 -1.1l-1.7 -1.6z"/>
<path class="c77" d="M416.4 265.5l1.2 1.3l1.2 -0.9l-1.2 -1.4z"/>
<path class="c70" d="M410.6 268.3l1.2 1.2l1.2 -1l-1.2 -1.2z"/>
<path class="c86" d="M426.1 262l1.2 1.3l1.3 -1.1l-1.2 -1.4z"/>
<path class="c92" d="M431.3 259.9l1.1 1.4l1.4 -1.1l-1.2 -1.4z"/>
<path class="c55" d="M392.9 273.9l2.4 1.9l1.8 -1.4l-2.3 -1.9z"/>
<path class="c80" d="M420.7 264.3l1.4 1.5l1.6 -1.2l-1.4 -1.6z"/>
<path class="c66" d="M406.3 269.5l1.8 1.6l1.6 -1.1l-1.8 -1.7z"/>
<path class="c36" d="M366.3 281.3l2.4 1.7l2.3 -1.4l-2.4 -1.7z"/>
<path class="c45" d="M382.6 277.6l2.4 1.9l2.3 -1.5l-2.3 -1.9z"/>
<path class="c74" d="M415.3 266.5l1.2 1.2l1.1 -0.9l-1.2 -1.3z"/>
<path class="c83" d="M424.8 263.2l1.2 1.3l1.3 -1.2l-1.2 -1.3z"/>
<path class="c89" d="M429.9 261l1.2 1.4l1.3 -1.1l-1.1 -1.4z"/>
<path class="c59" d="M398.4 272.6l1.8 1.5l1.5 -1.2l-1.8 -1.5z"/>
<path class="c72" d="M414.1 267.5l1.2 1.2l1.2 -1l-1.2 -1.2z"/>
<path class="c77" d="M419.2 265.5l1.4 1.5l1.5 -1.2l-1.4 -1.5z"/>
<path class="c91" d="M433.8 260.2l1.2 1.4l1.3 -1.1l-1.2 -1.5z"/>
<path class="c81" d="M423.4 264.3l1.2 1.3l1.4 -1.1l-1.2 -1.3z"/>
<path class="c86" d="M428.6 262.2l1.2 1.3l1.3 -1.1l-1.2 -1.4z"/>
<path class="c64" d="M404.8 270.6l1.8 1.6l1.5 -1.1l-1.8 -1.6z"/>
<path class="c39" d="M373.3 280.3l2.4 1.7l2.3 -1.4l-2.4 -1.8z"/>
<path class="c52" d="M391 275.3l2.4 1.8l1.9 -1.3l-2.4 -1.9z"/>
<path class="c70" d="M413 268.5l1.1 1.1l1.2 -0.9l-1.2 -1.2z"/>
<path class="c89" d="M432.4 261.3l1.2 1.4l1.4 -1.1l-1.2 -1.4z"/>
<path class="c83" d="M427.3 263.3l1.2 1.4l1.3 -1.2l-1.2 -1.3z"/>
<path class="c74" d="M417.6 266.8l1.4 1.5l1.6 -1.3l-1.4 -1.5z"/>
<path class="c68" d="M411.8 269.5l1.2 1.1l1.1 -1l-1.1 -1.1z"/>
<path class="c86" d="M431.1 262.4l1.2 1.4l1.3 -1.1l-1.2 -1.4z"/>
<path class="c81" d="M426 264.5l1.1 1.3l1.4 -1.1l-1.2 -1.4z"/>
<path class="c61" d="M403.2 271.8l1.8 1.5l1.6 -1.1l-1.8 -1.6z"/>
<path class="c77" d="M422.1 265.8l1.5 1.5l1.5 -1.1l-1.4 -1.6z"/>
<path class="c66" d="M409.7 270l1.7 1.7l1.6 -1.1l-1.8 -1.7z"/>
<path class="c42" d="M380.3 279.1l2.4 1.8l2.3 -1.4l-2.4 -1.9z"/>
<path class="c33" d="M364 282.7l2.3 1.7l2.4 -1.4l-2.4 -1.7z"/>
<path class="c88" d="M435 261.6l1.1 1.4l1.4 -1.1l-1.2 -1.4z"/>
<path class="c71" d="M416.1 268.1l1.4 1.4l1.5 -1.2l-1.4 -1.5z"/>
<path class="c49" d="M389.2 276.6l2.3 1.9l1.9 -1.4l-2.4 -1.8z"/>
<path class="c83" d="M429.8 263.5l1.2 1.4l1.3 -1.1l-1.2 -1.4z"/>
<path class="c78" d="M424.6 265.6l1.2 1.3l1.3 -1.1l-1.1 -1.3z"/>
<path class="c74" d="M420.6 267l1.4 1.5l1.6 -1.2l-1.5 -1.5z"/>
<path class="c86" d="M433.6 262.7l1.2 1.4l1.3 -1.1l-1.1 -1.4z"/>
<path class="c59" d="M401.7 272.9l1.8 1.5l1.5 -1.1l-1.8 -1.5z"/>
<path class="c81" d="M428.5 264.7l1.1 1.3l1.4 -1.1l-1.2 -1.4z"/>
<path class="c69" d="M414.5 269.3l1.4 1.4l1.6 -1.2l-1.4 -1.4z"/>
<path class="c36" d="M371 281.6l2.3 1.8l2.4 -1.4l-2.4 -1.7z"/>
<path class="c63" d="M408.1 271.1l1.8 1.6l1.5 -1l-1.7 -1.7z"/>
<path class="c55" d="M397.1 274.4l2.4 2l1.8 -1.4l-2.3 -1.9z"/>
<path class="c83" d="M432.3 263.8l1.2 1.4l1.3 -1.1l-1.2 -1.4z"/>
<path class="c46" d="M387.3 278l2.4 1.8l1.8 -1.3l-2.3 -1.9z"/>
<path class="c78" d="M427.1 265.8l1.2 1.3l1.3 -1.1l-1.1 -1.3z"/>
<path class="c71" d="M419 268.3l1.5 1.4l1.5 -1.2l-1.4 -1.5z"/>
<path class="c85" d="M436.1 263l1.2 1.4l1.3 -1.1l-1.1 -1.4z"/>
<path class="c66" d="M413 270.6l1.4 1.4l1.5 -1.3l-1.4 -1.4z"/>
<path class="c56" d="M400.2 274.1l1.7 1.4l1.6 -1.1l-1.8 -1.5z"/>
<path class="c80" d="M431 264.9l1.2 1.4l1.3 -1.1l-1.2 -1.4z"/>
<path class="c74" d="M423.6 267.3l1.4 1.6l1.5 -1.2l-1.4 -1.5z"/>
<path class="c39" d="M378 280.6l2.4 1.8l2.3 -1.5l-2.4 -1.8z"/>
<path class="c75" d="M425.8 266.9l1.2 1.4l1.3 -1.2l-1.2 -1.3z"/>
<path class="c61" d="M406.6 272.2l1.7 1.6l1.6 -1.1l-1.8 -1.6z"/>
<path class="c83" d="M434.8 264.1l1.2 1.4l1.3 -1.1l-1.2 -1.4z"/>
<path class="c31" d="M361.7 284.1l2.3 1.6l2.3 -1.3l-2.3 -1.7z"/>
<path class="c69" d="M417.5 269.5l1.4 1.4l1.6 -1.2l-1.5 -1.4z"/>
<path class="c78" d="M429.6 266l1.2 1.4l1.4 -1.1l-1.2 -1.4z"/>
<path class="c52" d="M395.3 275.8l2.3 1.9l1.9 -1.3l-2.4 -2z"/>
<path class="c71" d="M422 268.5l1.4 1.5l1.6 -1.1l-1.4 -1.6z"/>
<path class="c80" d="M433.5 265.2l1.2 1.3l1.3 -1l-1.2 -1.4z"/>
<path class="c43" d="M385 279.5l2.4 1.7l2.3 -1.4l-2.4 -1.8z"/>
<path class="c63" d="M411.1 271.9l1.8 1.6l1.9 -1.2l-1.8 -1.7z"/>
<path class="c75" d="M428.3 267.1l1.2 1.4l1.3 -1.1l-1.2 -1.4z"/>
<path class="c34" d="M368.7 283l2.3 1.7l2.3 -1.3l-2.3 -1.8z"/>
<path class="c59" d="M405 273.3l1.8 1.6l1.5 -1.1l-1.7 -1.6z"/>
<path class="c66" d="M415.9 270.7l1.5 1.4l1.5 -1.2l-1.4 -1.4z"/>
<path class="c78" d="M432.2 266.3l1.1 1.3l1.4 -1.1l-1.2 -1.3z"/>
<path class="c73" d="M427 268.3l1.2 1.3l1.3 -1.1l-1.2 -1.4z"/>
<path class="c69" d="M420.5 269.7l1.4 1.5l1.5 -1.2l-1.4 -1.5z"/>
<path class="c49" d="M393.4 277.1l2.4 1.9l1.8 -1.3l-2.3 -1.9z"/>
<path class="c36" d="M375.7 282l2.3 1.8l2.4 -1.4l-2.4 -1.8z"/>
<path class="c71" d="M425 268.9l1.4 1.5l1.5 -1.1l-1.4 -1.6z"/>
<path class="c63" d="M414.4 272l1.4 1.3l1.6 -1.2l-1.5 -1.4z"/>
<path class="c75" d="M430.8 267.4l1.2 1.3l1.3 -1.1l-1.1 -1.3z"/>
<path class="c56" d="M403.5 274.4l1.7 1.5l1.6 -1l-1.8 -1.6z"/>
<path class="c60" d="M409.3 273.2l1.7 1.6l1.9 -1.3l-1.8 -1.6z"/>
<path class="c66" d="M418.9 270.9l1.4 1.5l1.6 -1.2l-1.4 -1.5z"/>
<path class="c72" d="M429.5 268.5l1.2 1.3l1.3 -1.1l-1.2 -1.3z"/>
<path class="c82" d="M437.1 264.6l2.4 1.9l1.5 -1.3l-2.4 -1.9z"/>
<path class="c68" d="M423.4 270l1.4 1.6l1.6 -1.2l-1.4 -1.5z"/>
<path class="c40" d="M382.7 280.9l2.3 1.7l2.4 -1.4l-2.4 -1.7z"/>
<path class="c46" d="M391.5 278.5l2.4 1.8l1.9 -1.3l-2.4 -1.9z"/>
<path class="c54" d="M401.9 275.5l1.8 1.5l1.5 -1.1l-1.7 -1.5z"/>
<path class="c31" d="M366.3 284.4l2.4 1.6l2.3 -1.3l-2.3 -1.7z"/>
<path class="c70" d="M428.2 269.6l1.2 1.3l1.3 -1.1l-1.2 -1.3z"/>
<path class="c79" d="M435.5 265.8l2.4 1.9l1.6 -1.2l-2.4 -1.9z"/>
<path class="c63" d="M417.4 272.1l1.4 1.4l1.5 -1.1l-1.4 -1.5z"/>
<path class="c57" d="M407.4 274.4l1.8 1.6l1.8 -1.2l-1.7 -1.6z"/>
<path class="c66" d="M421.9 271.2l1.4 1.5l1.5 -1.1l-1.4 -1.6z"/>
<path class="c52" d="M399.5 276.4l2.3 1.9l1.9 -1.3l-2.4 -2z"/>
<path class="c34" d="M373.3 283.4l2.4 1.7l2.3 -1.3l-2.3 -1.8z"/>
<path class="c68" d="M426.4 270.4l1.4 1.6l1.6 -1.1l-1.5 -1.6z"/>
<path class="c59" d="M412.9 273.5l1.8 1.7l1.8 -1.2l-1.7 -1.7z"/>
<path class="c76" d="M434 267.1l2.4 1.9l1.5 -1.3l-2.4 -1.9z"/>
<path class="c43" d="M389.7 279.8l2.3 1.8l1.9 -1.3l-2.4 -1.8z"/>
<path class="c27" d="M358.6 285.7l3.5 2.4l3.1 -1.6l-3.5 -2.4z"/>
<path class="c61" d="M415.8 273.3l1.4 1.4l1.6 -1.2l-1.4 -1.4z"/>
<path class="c63" d="M420.3 272.4l1.4 1.4l1.6 -1.1l-1.4 -1.5z"/>
<path class="c37" d="M380.4 282.4l2.3 1.6l2.3 -1.4l-2.3 -1.7z"/>
<path class="c73" d="M432.4 268.3l2.4 1.9l1.6 -1.2l-2.4 -1.9z"/>
<path class="c65" d="M424.8 271.6l1.5 1.5l1.5 -1.1l-1.4 -1.6z"/>
<path class="c54" d="M405.5 275.7l1.8 1.6l1.9 -1.3l-1.8 -1.6z"/>
<path class="c49" d="M397.6 277.7l2.4 1.9l1.8 -1.3l-2.3 -1.9z"/>
<path class="c29" d="M364 285.7l2.4 1.6l2.3 -1.3l-2.4 -1.6z"/>
<path class="c57" d="M411 274.8l1.8 1.6l1.9 -1.2l-1.8 -1.7z"/>
<path class="c70" d="M430.9 269.6l2.4 1.9l1.5 -1.3l-2.4 -1.9z"/>
<path class="c61" d="M418.8 273.5l1.4 1.4l1.5 -1.1l-1.4 -1.4z"/>
<path class="c40" d="M387.4 281.2l2.3 1.8l2.3 -1.4l-2.3 -1.8z"/>
<path class="c63" d="M423.3 272.7l1.4 1.4l1.6 -1l-1.5 -1.5z"/>
<path class="c31" d="M371 284.7l2.4 1.7l2.3 -1.3l-2.4 -1.7z"/>
<path class="c67" d="M429.4 270.9l2.3 1.8l1.6 -1.2l-2.4 -1.9z"/>
<path class="c46" d="M395.8 279l2.3 1.8l1.9 -1.2l-2.4 -1.9z"/>
<path class="c52" d="M403.7 277l1.8 1.5l1.8 -1.2l-1.8 -1.6z"/>
<path class="c58" d="M417.2 274.7l1.4 1.4l1.6 -1.2l-1.4 -1.4z"/>
<path class="c34" d="M378 283.8l2.4 1.7l2.3 -1.5l-2.3 -1.6z"/>
<path class="c54" d="M409.2 276l1.7 1.6l1.9 -1.2l-1.8 -1.6z"/>
<path class="c60" d="M421.7 273.8l1.5 1.4l1.5 -1.1l-1.4 -1.4z"/>
<path class="c56" d="M414.7 275.2l1.7 1.7l1.9 -1.2l-1.8 -1.7z"/>
<path class="c79" d="M439.5 266.5l2.3 1.9l1.6 -1.3l-2.4 -1.9z"/>
<path class="c64" d="M427.5 272.2l2.4 1.8l1.8 -1.3l-2.3 -1.8z"/>
<path class="c25" d="M355.5 287.3l3.5 2.3l3.1 -1.5l-3.5 -2.4z"/>
<path class="c43" d="M393.9 280.3l2.4 1.8l1.8 -1.3l-2.3 -1.8z"/>
<path class="c38" d="M385 282.6l2.4 1.7l2.3 -1.3l-2.3 -1.8z"/>
<path class="c58" d="M420.2 274.9l1.4 1.4l1.6 -1.1l-1.5 -1.4z"/>
<path class="c76" d="M437.9 267.7l2.4 1.9l1.5 -1.2l-2.3 -1.9z"/>
<path class="c29" d="M368.7 286l2.4 1.7l2.3 -1.3l-2.4 -1.7z"/>
<path class="c52" d="M407.3 277.3l1.8 1.5l1.8 -1.2l-1.7 -1.6z"/>
<path class="c49" d="M401.8 278.3l2.4 1.9l1.8 -1.2l-2.3 -2z"/>
<path class="c54" d="M412.8 276.4l1.8 1.6l1.8 -1.1l-1.7 -1.7z"/>
<path class="c62" d="M425.6 273.5l2.4 1.8l1.9 -1.3l-2.4 -1.8z"/>
<path class="c73" d="M436.4 269l2.3 1.9l1.6 -1.3l-2.4 -1.9z"/>
<path class="c55" d="M418.6 276.1l1.5 1.3l1.5 -1.1l-1.4 -1.4z"/>
<path class="c41" d="M392 281.6l2.4 1.8l1.9 -1.3l-2.4 -1.8z"/>
<path class="c70" d="M434.8 270.2l2.4 1.9l1.5 -1.2l-2.3 -1.9z"/>
<path class="c46" d="M400 279.6l2.3 1.8l1.9 -1.2l-2.4 -1.9z"/>
<path class="c49" d="M405.5 278.5l1.7 1.5l1.9 -1.2l-1.8 -1.5z"/>
<path class="c35" d="M382.7 284l2.4 1.7l2.3 -1.4l-2.4 -1.7z"/>
<path class="c59" d="M423.8 274.8l2.3 1.8l1.9 -1.3l-2.4 -1.8z"/>
<path class="c53" d="M416.4 276.9l1.8 1.6l1.9 -1.1l-1.8 -1.7z"/>
<path class="c52" d="M410.9 277.6l1.8 1.6l1.9 -1.2l-1.8 -1.6z"/>
<path class="c68" d="M433.3 271.5l2.3 1.8l1.6 -1.2l-2.4 -1.9z"/>
<path class="c27" d="M366.4 287.3l2.3 1.7l2.4 -1.3l-2.4 -1.7z"/>
<path class="c31" d="M374.9 285.5l3.6 2.4l3.1 -1.6l-3.6 -2.5z"/>
<path class="c38" d="M389.7 283l2.4 1.7l2.3 -1.3l-2.4 -1.8z"/>
<path class="c22" d="M352.4 288.8l3.5 2.4l3.1 -1.6l-3.5 -2.3z"/>
<path class="c65" d="M431.7 272.7l2.4 1.9l1.5 -1.3l-2.3 -1.8z"/>
<path class="c44" d="M398.1 280.8l2.4 1.9l1.8 -1.3l-2.3 -1.8z"/>
<path class="c56" d="M421.9 276.1l2.4 1.8l1.8 -1.3l-2.3 -1.8z"/>
<path class="c49" d="M409.1 278.8l1.8 1.5l1.8 -1.1l-1.8 -1.6z"/>
<path class="c51" d="M414.6 278l1.7 1.6l1.9 -1.1l-1.8 -1.6z"/>
<path class="c32" d="M380.4 285.5l2.3 1.6l2.4 -1.4l-2.4 -1.7z"/>
<path class="c76" d="M441.8 268.4l2.4 1.9l1.5 -1.2l-2.3 -2z"/>
<path class="c25" d="M362.1 288.1l3.5 2.4l3.1 -1.5l-3.5 -2.5z"/>
<path class="c62" d="M429.9 274l2.3 1.8l1.9 -1.2l-2.4 -1.9z"/>
<path class="c53" d="M420.1 277.4l2.3 1.8l1.9 -1.3l-2.4 -1.8z"/>
<path class="c41" d="M396.3 282.1l2.3 1.8l1.9 -1.2l-2.4 -1.9z"/>
<path class="c73" d="M440.3 269.6l2.3 1.9l1.6 -1.2l-2.4 -1.9z"/>
<path class="c35" d="M387.4 284.3l2.4 1.8l2.3 -1.4l-2.4 -1.7z"/>
<path class="c46" d="M404.2 280.2l2.4 2l1.8 -1.2l-2.4 -2z"/>
<path class="c47" d="M407.2 280l1.8 1.5l1.9 -1.2l-1.8 -1.5z"/>
<path class="c49" d="M412.7 279.2l1.8 1.6l1.8 -1.2l-1.7 -1.6z"/>
<path class="c59" d="M428 275.3l2.4 1.8l1.8 -1.3l-2.3 -1.8z"/>
<path class="c71" d="M438.7 270.9l2.4 1.8l1.5 -1.2l-2.3 -1.9z"/>
<path class="c28" d="M371.8 287.3l3.6 2.3l3.1 -1.7l-3.6 -2.4z"/>
<path class="c38" d="M394.4 283.4l2.4 1.7l1.8 -1.2l-2.3 -1.8z"/>
<path class="c50" d="M417.7 278.8l2.4 1.7l2.3 -1.3l-2.3 -1.8z"/>
<path class="c68" d="M437.2 272.1l2.3 1.9l1.6 -1.3l-2.4 -1.8z"/>
<path class="c43" d="M402.3 281.4l2.4 1.9l1.9 -1.1l-2.4 -2z"/>
<path class="c56" d="M426.1 276.6l2.4 1.8l1.9 -1.3l-2.4 -1.8z"/>
<path class="c47" d="M410.9 280.3l1.7 1.6l1.9 -1.1l-1.8 -1.6z"/>
<path class="c33" d="M385.1 285.7l2.3 1.7l2.4 -1.3l-2.4 -1.8z"/>
<path class="c65" d="M435.6 273.3l2.4 1.9l1.5 -1.2l-2.3 -1.9z"/>
<path class="c20" d="M347.7 290.9l3.6 2.3l4.6 -2l-3.5 -2.4z"/>
<path class="c22" d="M359 289.6l3.5 2.4l3.1 -1.5l-3.5 -2.4z"/>
<path class="c36" d="M392.1 284.7l2.3 1.7l2.4 -1.3l-2.4 -1.7z"/>
<path class="c41" d="M400.5 282.7l2.3 1.8l1.9 -1.2l-2.4 -1.9z"/>
<path class="c62" d="M434.1 274.6l2.3 1.8l1.6 -1.2l-2.4 -1.9z"/>
<path class="c54" d="M424.3 277.9l2.3 1.8l1.9 -1.3l-2.4 -1.8z"/>
<path class="c48" d="M415.4 280.2l2.4 1.7l2.3 -1.4l-2.4 -1.7z"/>
<path class="c45" d="M409 281.5l1.8 1.5l1.8 -1.1l-1.7 -1.6z"/>
<path class="c25" d="M368.7 289l3.6 2.3l3.1 -1.7l-3.6 -2.3z"/>
<path class="c59" d="M432.2 275.8l2.4 1.9l1.8 -1.3l-2.3 -1.8z"/>
<path class="c30" d="M382.7 287.1l2.4 1.6l2.3 -1.3l-2.3 -1.7z"/>
<path class="c38" d="M398.6 283.9l2.4 1.8l1.8 -1.2l-2.3 -1.8z"/>
<path class="c43" d="M406.6 282.2l2.3 1.9l1.9 -1.1l-2.4 -2z"/>
<path class="c51" d="M422.4 279.2l2.4 1.7l1.8 -1.2l-2.3 -1.8z"/>
<path class="c33" d="M389.8 286.1l2.3 1.6l2.3 -1.3l-2.3 -1.7z"/>
<path class="c57" d="M430.4 277.1l2.3 1.8l1.9 -1.2l-2.4 -1.9z"/>
<path class="c45" d="M413.1 281.6l2.4 1.6l2.3 -1.3l-2.4 -1.7z"/>
<path class="c28" d="M378.5 287.9l3.5 2.5l3.1 -1.7l-3.5 -2.4z"/>
<path class="c74" d="M444.2 270.3l3.5 2.2l1.6 -1.3l-3.6 -2.1z"/>
<path class="c20" d="M355.9 291.2l3.5 2.3l3.1 -1.5l-3.5 -2.4z"/>
<path class="c36" d="M396.8 285.1l2.3 1.8l1.9 -1.2l-2.4 -1.8z"/>
<path class="c40" d="M404.7 283.3l2.4 1.9l1.8 -1.1l-2.3 -1.9z"/>
<path class="c48" d="M420.1 280.5l2.4 1.7l2.3 -1.3l-2.4 -1.7z"/>
<path class="c71" d="M442.6 271.5l3.6 2.2l1.5 -1.2l-3.5 -2.2z"/>
<path class="c54" d="M428.5 278.4l2.4 1.8l1.8 -1.3l-2.3 -1.8z"/>
<path class="c22" d="M365.6 290.5l3.6 2.3l3.1 -1.5l-3.6 -2.3z"/>
<path class="c68" d="M441.1 272.7l3.5 2.2l1.6 -1.2l-3.6 -2.2z"/>
<path class="c31" d="M387.4 287.4l2.4 1.6l2.3 -1.3l-2.3 -1.6z"/>
<path class="c43" d="M410.8 283l2.3 1.6l2.4 -1.4l-2.4 -1.6z"/>
<path class="c38" d="M402.8 284.5l2.4 1.9l1.9 -1.2l-2.4 -1.9z"/>
<path class="c33" d="M394.4 286.4l2.4 1.7l2.3 -1.2l-2.3 -1.8z"/>
<path class="c17" d="M343.1 293l3.5 2.2l4.7 -2l-3.6 -2.3z"/>
<path class="c65" d="M439.5 274l3.6 2.2l1.5 -1.3l-3.5 -2.2z"/>
<path class="c51" d="M426.6 279.7l2.4 1.7l1.9 -1.2l-2.4 -1.8z"/>
<path class="c46" d="M417.8 281.9l2.3 1.7l2.4 -1.4l-2.4 -1.7z"/>
<path class="c25" d="M375.4 289.6l3.5 2.4l3.1 -1.6l-3.5 -2.5z"/>
<path class="c62" d="M438 275.2l3.5 2.2l1.6 -1.2l-3.6 -2.2z"/>
<path class="c36" d="M401 285.7l2.3 1.8l1.9 -1.1l-2.4 -1.9z"/>
<path class="c28" d="M385.1 288.7l2.4 1.7l2.3 -1.4l-2.4 -1.6z"/>
<path class="c60" d="M436.4 276.4l3.6 2.2l1.5 -1.2l-3.5 -2.2z"/>
<path class="c49" d="M424.8 280.9l2.3 1.8l1.9 -1.3l-2.4 -1.7z"/>
<path class="c31" d="M392.1 287.7l2.4 1.7l2.3 -1.3l-2.4 -1.7z"/>
<path class="c17" d="M351.3 293.2l3.5 2.2l4.6 -1.9l-3.5 -2.3z"/>
<path class="c20" d="M362.5 292l3.6 2.2l3.1 -1.4l-3.6 -2.3z"/>
<path class="c57" d="M434.6 277.7l3.5 2.2l1.9 -1.3l-3.6 -2.2z"/>
<path class="c43" d="M415.5 283.2l2.3 1.7l2.3 -1.3l-2.3 -1.7z"/>
<path class="c33" d="M399.1 286.9l2.4 1.7l1.8 -1.1l-2.3 -1.8z"/>
<path class="c40" d="M408.4 284.4l3.6 2.4l2.3 -1.4l-3.5 -2.4z"/>
<path class="c46" d="M422.5 282.2l2.3 1.8l2.3 -1.3l-2.3 -1.8z"/>
<path class="c22" d="M372.3 291.3l3.5 2.3l3.1 -1.6l-3.5 -2.4z"/>
<path class="c54" d="M432.7 278.9l3.6 2.2l1.8 -1.2l-3.5 -2.2z"/>
<path class="c29" d="M389.8 289l2.4 1.7l2.3 -1.3l-2.4 -1.7z"/>
<path class="c31" d="M396.8 288.1l2.4 1.8l2.3 -1.3l-2.4 -1.7z"/>
<path class="c41" d="M413.1 284.6l2.4 1.6l2.3 -1.3l-2.3 -1.7z"/>
<path class="c37" d="M406.1 285.8l3.6 2.3l2.3 -1.3l-3.6 -2.4z"/>
<path class="c52" d="M430.9 280.2l3.5 2.2l1.9 -1.3l-3.6 -2.2z"/>
<path class="c25" d="M382 290.4l3.6 2.3l3 -1.5l-3.5 -2.5z"/>
<path class="c44" d="M420.1 283.6l2.4 1.6l2.3 -1.2l-2.3 -1.8z"/>
<path class="c15" d="M338.4 294.7l3.6 2.2l4.6 -1.7l-3.5 -2.2z"/>
<path class="c72" d="M447.7 272.5l3.6 2.1l1.5 -1.2l-3.5 -2.2z"/>
<path class="c18" d="M359.4 293.5l3.6 2.2l3.1 -1.5l-3.6 -2.2z"/>
<path class="c26" d="M387.5 290.4l2.3 1.6l2.4 -1.3l-2.4 -1.7z"/>
<path class="c69" d="M446.2 273.7l3.5 2.2l1.6 -1.3l-3.6 -2.1z"/>
<path class="c49" d="M429 281.4l3.5 2.2l1.9 -1.2l-3.5 -2.2z"/>
<path class="c29" d="M394.5 289.4l2.3 1.7l2.4 -1.2l-2.4 -1.8z"/>
<path class="c34" d="M403.8 287.2l3.5 2.3l2.4 -1.4l-3.6 -2.3z"/>
<path class="c20" d="M369.2 292.8l3.5 2.2l3.1 -1.4l-3.5 -2.3z"/>
<path class="c66" d="M444.6 274.9l3.6 2.2l1.5 -1.2l-3.5 -2.2z"/>
<path class="c41" d="M417.8 284.9l2.4 1.6l2.3 -1.3l-2.4 -1.6z"/>
<path class="c15" d="M346.6 295.2l3.6 2.2l4.6 -2l-3.5 -2.2z"/>
<path class="c46" d="M427.1 282.7l3.6 2.2l1.8 -1.3l-3.5 -2.2z"/>
<path class="c63" d="M443.1 276.2l3.5 2.2l1.6 -1.3l-3.6 -2.2z"/>
<path class="c23" d="M378.9 292l3.6 2.3l3.1 -1.6l-3.6 -2.3z"/>
<path class="c60" d="M441.5 277.4l3.6 2.2l1.5 -1.2l-3.5 -2.2z"/>
<path class="c31" d="M401.5 288.6l3.5 2.3l2.3 -1.4l-3.5 -2.3z"/>
<path class="c27" d="M392.2 290.7l2.3 1.6l2.3 -1.2l-2.3 -1.7z"/>
<path class="c58" d="M440 278.6l3.5 2.3l1.6 -1.3l-3.6 -2.2z"/>
<path class="c39" d="M415.5 286.2l2.3 1.6l2.4 -1.3l-2.4 -1.6z"/>
<path class="c44" d="M424 284.4l3.6 2.2l3.1 -1.7l-3.6 -2.2z"/>
<path class="c15" d="M354.8 295.4l3.5 2.2l4.7 -1.9l-3.6 -2.2z"/>
<path class="c18" d="M366.1 294.2l3.5 2.3l3.1 -1.5l-3.5 -2.2z"/>
<path class="c55" d="M438.1 279.9l3.6 2.2l1.8 -1.2l-3.5 -2.3z"/>
<path class="c37" d="M412 286.8l3.5 2.3l2.3 -1.3l-3.5 -2.4z"/>
<path class="c25" d="M389.8 292l2.4 1.6l2.3 -1.3l-2.3 -1.6z"/>
<path class="c13" d="M333.8 296.5l3.5 2.1l4.7 -1.7l-3.6 -2.2z"/>
<path class="c29" d="M398.4 290.3l3.5 2.2l3.1 -1.6l-3.5 -2.3z"/>
<path class="c20" d="M375.8 293.6l3.6 2.3l3.1 -1.6l-3.6 -2.3z"/>
<path class="c52" d="M436.3 281.1l3.5 2.3l1.9 -1.3l-3.6 -2.2z"/>
<path class="c34" d="M409.7 288.1l3.5 2.3l2.3 -1.3l-3.5 -2.3z"/>
<path class="c23" d="M385.6 292.7l3.5 2.4l3.1 -1.5l-3.6 -2.4z"/>
<path class="c40" d="M420.9 286.1l3.6 2.2l3.1 -1.7l-3.6 -2.2z"/>
<path class="c50" d="M434.4 282.4l3.5 2.2l1.9 -1.2l-3.5 -2.3z"/>
<path class="c13" d="M342 296.9l3.5 2.2l4.7 -1.7l-3.6 -2.2z"/>
<path class="c16" d="M363 295.7l3.5 2.2l3.1 -1.4l-3.5 -2.3z"/>
<path class="c47" d="M432.5 283.6l3.6 2.2l1.8 -1.2l-3.5 -2.2z"/>
<path class="c26" d="M395.3 291.9l3.5 2.2l3.1 -1.6l-3.5 -2.2z"/>
<path class="c32" d="M407.3 289.5l3.6 2.3l2.3 -1.4l-3.5 -2.3z"/>
<path class="c17" d="M371.2 295.7l3.5 2.2l4.7 -2l-3.6 -2.3z"/>
<path class="c13" d="M350.2 297.4l3.5 2.1l4.6 -1.9l-3.5 -2.2z"/>
<path class="c44" d="M430.7 284.9l3.5 2.2l1.9 -1.3l-3.6 -2.2z"/>
<path class="c37" d="M417.9 287.8l3.5 2.2l3.1 -1.7l-3.6 -2.2z"/>
<path class="c20" d="M382.5 294.3l3.5 2.3l3.1 -1.5l-3.5 -2.4z"/>
<path class="c29" d="M405 290.9l3.6 2.2l2.3 -1.3l-3.6 -2.3z"/>
<path class="c11" d="M329.1 298.3l3.6 2.1l4.6 -1.8l-3.5 -2.1z"/>
<path class="c23" d="M392.2 293.6l3.5 2.1l3.1 -1.6l-3.5 -2.2z"/>
<path class="c42" d="M427.6 286.6l3.5 2.2l3.1 -1.7l-3.5 -2.2z"/>
<path class="c13" d="M358.3 297.6l3.6 2.2l4.6 -1.9l-3.5 -2.2z"/>
<path class="c34" d="M414.8 289.6l3.5 2.1l3.1 -1.7l-3.6 -2.2z"/>
<path class="c18" d="M379.4 295.9l3.5 2.2l3.1 -1.5l-3.5 -2.3z"/>
<path class="c27" d="M401.9 292.5l3.6 2.1l3.1 -1.5l-3.6 -2.2z"/>
<path class="c55" d="M441.7 282.1l3.5 1.2l1.8 -1.3l-3.5 -1.1z"/>
<path class="c11" d="M337.3 298.6l3.6 2.2l4.6 -1.7l-3.5 -2.2z"/>
<path class="c52" d="M439.8 283.4l3.5 1.2l1.9 -1.3l-3.5 -1.2z"/>
<path class="c14" d="M366.5 297.9l3.6 2.1l4.6 -2.1l-3.5 -2.2z"/>
<path class="c39" d="M424.5 288.3l3.5 2.1l3.1 -1.6l-3.5 -2.2z"/>
<path class="c31" d="M411.7 291.3l3.5 2.1l3.1 -1.7l-3.5 -2.1z"/>
<path class="c49" d="M437.9 284.6l3.6 1.2l1.8 -1.2l-3.5 -1.2z"/>
<path class="c24" d="M398.8 294.1l3.6 2.1l3.1 -1.6l-3.6 -2.1z"/>
<path class="c9" d="M324.5 300l3.5 2.1l4.7 -1.7l-3.6 -2.1z"/>
<path class="c47" d="M436.1 285.8l3.5 1.3l1.9 -1.3l-3.6 -1.2z"/>
<path class="c15" d="M374.7 297.9l3.6 2.2l4.6 -2l-3.5 -2.2z"/>
<path class="c11" d="M353.7 299.5l3.5 2.2l4.7 -1.9l-3.6 -2.2z"/>
<path class="c36" d="M421.4 290l3.5 2.1l3.1 -1.7l-3.5 -2.1z"/>
<path class="c28" d="M408.6 293.1l3.5 2l3.1 -1.7l-3.5 -2.1z"/>
<path class="c10" d="M340.9 300.8l3.5 2.1l9.3 -3.4l-3.5 -2.1z"/>
<path class="c44" d="M434.2 287.1l3.6 1.3l1.8 -1.3l-3.5 -1.3z"/>
<path class="c20" d="M389.1 295.1l7.1 4.1l3.1 -1.5l-7.1 -4.1z"/>
<path class="c9" d="M332.7 300.4l3.5 2.1l4.7 -1.7l-3.6 -2.2z"/>
<path class="c22" d="M395.7 295.7l3.6 2l3.1 -1.5l-3.6 -2.1z"/>
<path class="c12" d="M361.9 299.8l3.5 2.1l4.7 -1.9l-3.6 -2.1z"/>
<path class="c33" d="M418.3 291.7l3.5 2.1l3.1 -1.7l-3.5 -2.1z"/>
<path class="c18" d="M386 296.6l7.1 4l3.1 -1.4l-7.1 -4.1z"/>
<path class="c12" d="M370.1 300l3.5 2.2l4.7 -2.1l-3.6 -2.2z"/>
<path class="c56" d="M445.2 283.3l3.5 1.1l1.9 -1.3l-3.6 -1.1z"/>
<path class="c29" d="M415.2 293.4l3.5 2.1l3.1 -1.7l-3.5 -2.1z"/>
<path class="c54" d="M443.3 284.6l3.6 1.2l1.8 -1.4l-3.5 -1.1z"/>
<path class="c8" d="M328 302.1l3.6 2.1l4.6 -1.7l-3.5 -2.1z"/>
<path class="c42" d="M431.1 288.8l7.1 2.7l3.1 -1.7l-7.1 -2.7z"/>
<path class="c15" d="M382.9 298.1l7.1 4l3.1 -1.5l-7.1 -4z"/>
<path class="c24" d="M405.5 294.6l7 4.1l3.1 -1.5l-7 -4.1z"/>
<path class="c51" d="M441.5 285.8l3.5 1.3l1.9 -1.3l-3.6 -1.2z"/>
<path class="c9" d="M357.2 301.7l3.6 2l4.6 -1.8l-3.5 -2.1z"/>
<path class="c8" d="M344.4 302.9l3.5 2l9.3 -3.2l-3.5 -2.2z"/>
<path class="c26" d="M412.1 295.1l3.5 2.1l3.1 -1.7l-3.5 -2.1z"/>
<path class="c48" d="M439.6 287.1l3.6 1.3l1.8 -1.3l-3.5 -1.3z"/>
<path class="c45" d="M437.8 288.4l3.5 1.4l1.9 -1.4l-3.6 -1.3z"/>
<path class="c38" d="M428 290.4l7.1 2.9l3.1 -1.8l-7.1 -2.7z"/>
<path class="c10" d="M365.4 301.9l3.6 2.1l4.6 -1.8l-3.5 -2.2z"/>
<path class="c22" d="M402.4 296.2l7 4l3.1 -1.5l-7 -4.1z"/>
<path class="c13" d="M378.3 300.1l7 3.9l4.7 -1.9l-7.1 -4z"/>
<path class="c35" d="M424.9 292.1l7.1 2.9l3.1 -1.7l-7.1 -2.9z"/>
<path class="c19" d="M399.3 297.7l7 4l3.1 -1.5l-7 -4z"/>
<path class="c33" d="M422.6 293.4l7.1 3l2.3 -1.4l-7.1 -2.9z"/>
<path class="c8" d="M360.8 303.7l3.5 2.1l4.7 -1.8l-3.6 -2.1z"/>
<path class="c6" d="M331.6 304.2l7.1 4l9.2 -3.3l-7 -4.1z"/>
<path class="c10" d="M373.6 302.2l7.1 3.8l4.6 -2l-7 -3.9z"/>
<path class="c30" d="M420.3 294.6l7.1 3.1l2.3 -1.3l-7.1 -3z"/>
<path class="c17" d="M394.6 299.9l7.1 3.9l4.6 -2.1l-7 -4z"/>
<path class="c28" d="M418 295.9l7 3.1l2.4 -1.3l-7.1 -3.1z"/>
<path class="c6" d="M348 304.9l7 4l9.3 -3.1l-7.1 -4.1z"/>
<path class="c44" d="M439 291.1l3.5 0.9l2.3 -1.3l-3.5 -0.9z"/>
<path class="c26" d="M415.6 297.2l7.1 3.1l2.3 -1.3l-7 -3.1z"/>
<path class="c8" d="M369 304l7 3.7l4.7 -1.7l-7.1 -3.8z"/>
<path class="c14" d="M390 302.1l7.1 3.9l4.6 -2.2l-7.1 -3.9z"/>
<path class="c42" d="M436.7 292.4l3.5 1l2.3 -1.4l-3.5 -0.9z"/>
<path class="c23" d="M412.5 298.7l7.1 3.2l3.1 -1.6l-7.1 -3.1z"/>
<path class="c39" d="M434.3 293.7l3.6 1.1l2.3 -1.4l-3.5 -1z"/>
<path class="c37" d="M432 295l3.6 1.1l2.3 -1.3l-3.6 -1.1z"/>
<path class="c21" d="M409.4 300.2l7.1 3.3l3.1 -1.6l-7.1 -3.2z"/>
<path class="c11" d="M385.3 304l7.1 3.9l4.7 -1.9l-7.1 -3.9z"/>
<path class="c6" d="M364.3 305.8l7.1 3.7l4.6 -1.8l-7 -3.7z"/>
<path class="c34" d="M429.7 296.4l3.5 1.1l2.4 -1.4l-3.6 -1.1z"/>
<path class="c18" d="M406.3 301.7l7.1 3.3l3.1 -1.5l-7.1 -3.3z"/>
<path class="c47" d="M442.5 292l3.6 1l2.3 -1.4l-3.6 -0.9z"/>
<path class="c32" d="M427.4 297.7l3.5 1.2l2.3 -1.4l-3.5 -1.1z"/>
<path class="c4" d="M338.7 308.2l7 3.9l9.3 -3.2l-7 -4z"/>
<path class="c44" d="M440.2 293.4l3.5 1l2.4 -1.4l-3.6 -1z"/>
<path class="c29" d="M425 299l3.6 1.3l2.3 -1.4l-3.5 -1.2z"/>
<path class="c8" d="M380.7 306l7.1 3.7l4.6 -1.8l-7.1 -3.9z"/>
<path class="c15" d="M401.7 303.8l7.1 3.4l4.6 -2.2l-7.1 -3.3z"/>
<path class="c41" d="M437.9 294.8l3.5 1l2.3 -1.4l-3.5 -1z"/>
<path class="c26" d="M422.7 300.3l3.6 1.3l2.3 -1.3l-3.6 -1.3z"/>
<path class="c4" d="M355 308.9l7.1 3.6l9.3 -3l-7.1 -3.7z"/>
<path class="c39" d="M435.6 296.1l3.5 1.2l2.3 -1.5l-3.5 -1z"/>
<path class="c36" d="M433.2 297.5l3.6 1.2l2.3 -1.4l-3.5 -1.2z"/>
<path class="c6" d="M376 307.7l7.1 3.7l4.7 -1.7l-7.1 -3.7z"/>
<path class="c12" d="M397.1 306l7 3.4l4.7 -2.2l-7.1 -3.4z"/>
<path class="c33" d="M430.9 298.9l3.5 1.2l2.4 -1.4l-3.6 -1.2z"/>
<path class="c24" d="M419.6 301.9l7.1 2.7l3.1 -1.7l-7.1 -2.6z"/>
<path class="c30" d="M428.6 300.3l3.5 1.2l2.3 -1.4l-3.5 -1.2z"/>
<path class="c28" d="M426.3 301.6l3.5 1.3l2.3 -1.4l-3.5 -1.2z"/>
<path class="c5" d="M371.4 309.5l7.1 3.6l4.6 -1.7l-7.1 -3.7z"/>
<path class="c9" d="M392.4 307.9l7.1 3.4l4.6 -1.9l-7 -3.4z"/>
<path class="c22" d="M416.5 303.5l7.1 2.8l3.1 -1.7l-7.1 -2.7z"/>
<path class="c19" d="M413.4 305l7.1 2.9l3.1 -1.6l-7.1 -2.8z"/>
<path class="c38" d="M436.8 298.7l3.5 1l2.3 -1.4l-3.5 -1z"/>
<path class="c2" d="M345.7 312.1l7.1 3.5l9.3 -3.1l-7.1 -3.6z"/>
<path class="c7" d="M387.8 309.7l7 3.5l4.7 -1.9l-7.1 -3.4z"/>
<path class="c35" d="M434.4 300.1l3.6 1.1l2.3 -1.5l-3.5 -1z"/>
<path class="c16" d="M410.3 306.5l7.1 2.9l3.1 -1.5l-7.1 -2.9z"/>
<path class="c32" d="M432.1 301.5l3.6 1.1l2.3 -1.4l-3.6 -1.1z"/>
<path class="c3" d="M362.1 312.5l7.1 3.6l9.3 -3l-7.1 -3.6z"/>
<path class="c29" d="M429.8 302.9l3.5 1.2l2.4 -1.5l-3.6 -1.1z"/>
<path class="c14" d="M407.2 307.9l7.1 3.1l3.1 -1.6l-7.1 -2.9z"/>
<path class="c26" d="M426.7 304.6l3.5 1.2l3.1 -1.7l-3.5 -1.2z"/>
<path class="c12" d="M404.1 309.4l7.1 3.1l3.1 -1.5l-7.1 -3.1z"/>
<path class="c40" d="M440.3 299.7l3.5 1.1l2.4 -1.5l-3.6 -1z"/>
<path class="c4" d="M378.5 313.1l7.1 3.5l9.2 -3.4l-7 -3.5z"/>
<path class="c23" d="M423.6 306.3l3.5 1.2l3.1 -1.7l-3.5 -1.2z"/>
<path class="c37" d="M438 301.2l3.5 1.1l2.3 -1.5l-3.5 -1.1z"/>
<path class="c34" d="M435.7 302.6l3.5 1.2l2.3 -1.5l-3.5 -1.1z"/>
<path class="c9" d="M399.5 311.3l7.1 3.2l4.6 -2l-7.1 -3.1z"/>
<path class="c20" d="M420.5 307.9l3.5 1.3l3.1 -1.7l-3.5 -1.2z"/>
<path class="c31" d="M433.3 304.1l3.6 1.1l2.3 -1.4l-3.5 -1.2z"/>
<path class="c1" d="M352.8 315.6l7.1 3.5l9.3 -3l-7.1 -3.6z"/>
<path class="c28" d="M430.2 305.8l3.6 1.2l3.1 -1.8l-3.6 -1.1z"/>
<path class="c7" d="M394.8 313.2l7.1 3.3l4.7 -2l-7.1 -3.2z"/>
<path class="c25" d="M427.1 307.5l3.6 1.2l3.1 -1.7l-3.6 -1.2z"/>
<path class="c18" d="M417.4 309.4l7.1 2.6l3.1 -1.6l-7.1 -2.5z"/>
<path class="c2" d="M369.2 316.1l7.1 3.5l9.3 -3l-7.1 -3.5z"/>
<path class="c22" d="M424 309.2l3.6 1.2l3.1 -1.7l-3.6 -1.2z"/>
<path class="c16" d="M414.3 311l7.1 2.6l3.1 -1.6l-7.1 -2.6z"/>
<path class="c30" d="M433.8 307l3.5 1.1l3.1 -1.8l-3.5 -1.1z"/>
<path class="c4" d="M385.6 316.6l7 3.3l9.3 -3.4l-7.1 -3.3z"/>
<path class="c13" d="M411.2 312.5l7.1 2.8l3.1 -1.7l-7.1 -2.6z"/>
<path class="c27" d="M430.7 308.7l3.5 1.1l3.1 -1.7l-3.5 -1.1z"/>
<path class="c11" d="M406.6 314.5l7.1 2.8l4.6 -2l-7.1 -2.8z"/>
<path class="c24" d="M427.6 310.4l3.5 1.1l3.1 -1.7l-3.5 -1.1z"/>
<path class="c1" d="M359.9 319.1l7.1 3.4l9.3 -2.9l-7.1 -3.5z"/>
<path class="c21" d="M424.5 312l3.5 1.2l3.1 -1.7l-3.5 -1.1z"/>
<path class="c32" d="M437.3 308.1l3.6 1.1l3.1 -1.7l-3.6 -1.2z"/>
<path class="c8" d="M401.9 316.5l7.1 2.8l4.7 -2l-7.1 -2.8z"/>
<path class="c18" d="M421.4 313.6l3.5 1.2l3.1 -1.6l-3.5 -1.2z"/>
<path class="c2" d="M376.3 319.6l7 3.2l9.3 -2.9l-7 -3.3z"/>
<path class="c29" d="M434.2 309.8l3.6 1.1l3.1 -1.7l-3.6 -1.1z"/>
<path class="c15" d="M418.3 315.3l3.5 1.2l3.1 -1.7l-3.5 -1.2z"/>
<path class="c25" d="M431.1 311.5l3.6 1.1l3.1 -1.7l-3.6 -1.1z"/>
<path class="c22" d="M428 313.2l3.6 1.1l3.1 -1.7l-3.6 -1.1z"/>
<path class="c5" d="M392.6 319.9l7.1 2.8l9.3 -3.4l-7.1 -2.8z"/>
<path class="c19" d="M424.9 314.8l3.6 1.2l3.1 -1.7l-3.6 -1.1z"/>
<path class="c13" d="M413.7 317.3l7 2.4l4.7 -2l-7.1 -2.4z"/>
<path class="c16" d="M421.8 316.5l3.6 1.2l3.1 -1.7l-3.6 -1.2z"/>
<path class="c0" d="M367 322.5l7.1 3.2l9.2 -2.9l-7 -3.2z"/>
<path class="c25" d="M432.3 313.9l3.6 0.8l2.3 -1.3l-3.5 -0.8z"/>
<path class="c10" d="M409 319.3l7.1 2.4l4.6 -2l-7 -2.4z"/>
<path class="c23" d="M430 315.2l3.6 0.9l2.3 -1.4l-3.6 -0.8z"/>
<path class="c3" d="M383.3 322.8l7.1 2.7l9.3 -2.8l-7.1 -2.8z"/>
<path class="c20" d="M427.7 316.5l3.5 0.9l2.4 -1.3l-3.6 -0.9z"/>
<path class="c7" d="M399.7 322.7l3.6 1.1l9.3 -3.3l-3.6 -1.2z"/>
<path class="c18" d="M425.4 317.7l3.5 1.1l2.3 -1.4l-3.5 -0.9z"/>
<path class="c16" d="M420.7 319.7l3.6 1l4.6 -1.9l-3.5 -1.1z"/>
<path class="c28" d="M435.9 314.7l3.5 0.9l2.4 -1.4l-3.6 -0.8z"/>
<path class="c25" d="M433.6 316.1l3.5 0.9l2.3 -1.4l-3.5 -0.9z"/>
<path class="c8" d="M403.3 323.8l3.5 1.1l9.3 -3.2l-3.5 -1.2z"/>
<path class="c23" d="M431.2 317.4l3.6 1l2.3 -1.4l-3.5 -0.9z"/>
<path class="c2" d="M374.1 325.7l7 2.6l9.3 -2.8l-7.1 -2.7z"/>
<path class="c13" d="M416.1 321.7l3.5 0.9l4.7 -1.9l-3.6 -1z"/>
<path class="c20" d="M428.9 318.8l3.6 1l2.3 -1.4l-3.6 -1z"/>
<path class="c5" d="M390.4 325.5l3.6 1.1l9.3 -2.8l-3.6 -1.1z"/>
<path class="c18" d="M424.3 320.7l3.5 0.9l4.7 -1.8l-3.6 -1z"/>
<path class="c11" d="M406.8 324.9l3.5 0.8l9.3 -3.1l-3.5 -0.9z"/>
<path class="c16" d="M419.6 322.6l3.6 0.9l4.6 -1.9l-3.5 -0.9z"/>
<path class="c7" d="M394 326.6l3.5 1l9.3 -2.7l-3.5 -1.1z"/>
<path class="c4" d="M381.1 328.3l3.6 1l9.3 -2.7l-3.6 -1.1z"/>
<path class="c13" d="M410.3 325.7l3.6 0.8l9.3 -3l-3.6 -0.9z"/>
<path class="c9" d="M397.5 327.6l3.5 0.9l9.3 -2.8l-3.5 -0.8z"/>
<path class="c6" d="M384.7 329.3l3.5 1l9.3 -2.7l-3.5 -1z"/>
<path class="c12" d="M401 328.5l3.6 0.8l9.3 -2.8l-3.6 -0.8z"/>
<path class="c8" d="M388.2 330.3l3.6 0.8l9.2 -2.6l-3.5 -0.9z"/>
<path class="c11" d="M391.8 331.1l3.5 0.8l9.3 -2.6l-3.6 -0.8z"/></g>
<line x1="324.5" y1="309.2" x2="324.5" y2="238.2" stroke="#444444" stroke-width="0.7"/>
<line x1="324.5" y1="309.2" x2="395.3" y2="342" stroke="#444444" stroke-width="0.7"/>
<line x1="395.3" y1="342" x2="488.2" y2="317" stroke="#444444" stroke-width="0.7"/>
<line x1="324.5" y1="309.2" x2="322.5" y2="309.8" stroke="#444444" stroke-width="0.7"/>
<line x1="395.3" y1="342" x2="397.3" y2="343.2" stroke="#444444" stroke-width="0.7"/>
<line x1="359.9" y1="325.6" x2="357.9" y2="326.2" stroke="#444444" stroke-width="0.7"/>
<line x1="441.8" y1="329.5" x2="443.8" y2="330.7" stroke="#444444" stroke-width="0.7"/>
<line x1="395.3" y1="342" x2="393.3" y2="342.6" stroke="#444444" stroke-width="0.7"/>
<line x1="488.2" y1="317" x2="490.2" y2="318.2" stroke="#444444" stroke-width="0.7"/>
<line x1="324.5" y1="309.2" x2="322.7" y2="308.7" stroke="#444444" stroke-width="0.7"/>
<line x1="324.5" y1="273.7" x2="322.7" y2="273.2" stroke="#444444" stroke-width="0.7"/>
<line x1="324.5" y1="238.2" x2="322.7" y2="237.7" stroke="#444444" stroke-width="0.7"/>
<text x="318.9" y="311.2" font-size="8" text-anchor="end">0</text>
<text x="318.9" y="275.7" font-size="8" text-anchor="end">50</text>
<text x="318.9" y="240.2" font-size="8" text-anchor="end">100</text>
<text x="316.3" y="319.6" font-size="8" text-anchor="middle">8</text>
<text x="351.4" y="336.6" font-size="8" text-anchor="middle">9</text>
<text x="385.1" y="352.5" font-size="8" text-anchor="middle">10</text>
<text x="405.5" y="353.6" font-size="8" text-anchor="middle">12</text>
<text x="452.7" y="340.9" font-size="8" text-anchor="middle">11</text>
<text x="497.9" y="328.6" font-size="8" text-anchor="middle">10</text>
<text x="346.5" y="357.3" font-size="9.5" text-anchor="middle">LWL</text>
<text x="450.5" y="358.9" font-size="9.5" text-anchor="middle">HWL</text>
<text font-size="9.4" text-anchor="middle" transform="translate(300.4 274.2) rotate(-90)">day</text>
<text x="406.2" y="209.7" font-size="9.25" text-anchor="middle">Xu River</text>
<text x="325.9" y="214.6" font-size="12" font-weight="bold" fill="#000">(d)</text>
<rect x="513" y="214.2" width="16" height="127.6" fill="url(#pg)" stroke="#3a3a3a" stroke-width="0.6"/>
<line x1="527.6" y1="340.2" x2="529" y2="340.2" stroke="#3a3a3a" stroke-width="0.6"/>
<text x="532.6" y="343.1" font-size="8">10</text>
<line x1="527.6" y1="320.2" x2="529" y2="320.2" stroke="#3a3a3a" stroke-width="0.6"/>
<text x="532.6" y="323.1" font-size="8">20</text>
<line x1="527.6" y1="300.2" x2="529" y2="300.2" stroke="#3a3a3a" stroke-width="0.6"/>
<text x="532.6" y="303.1" font-size="8">30</text>
<line x1="527.6" y1="280.2" x2="529" y2="280.2" stroke="#3a3a3a" stroke-width="0.6"/>
<text x="532.6" y="283.1" font-size="8">40</text>
<line x1="527.6" y1="260.2" x2="529" y2="260.2" stroke="#3a3a3a" stroke-width="0.6"/>
<text x="532.6" y="263.1" font-size="8">50</text>
<line x1="527.6" y1="240.2" x2="529" y2="240.2" stroke="#3a3a3a" stroke-width="0.6"/>
<text x="532.6" y="243.1" font-size="8">60</text>
<line x1="527.6" y1="220.2" x2="529" y2="220.2" stroke="#3a3a3a" stroke-width="0.6"/>
<text x="532.6" y="223.1" font-size="8">70</text>
</g>
<g id="pe">
<line x1="29.8" y1="488.1" x2="122.7" y2="463.1" stroke="#dcdcdc" stroke-width="0.6"/>
<line x1="29.8" y1="488.1" x2="100.6" y2="520.9" stroke="#dcdcdc" stroke-width="0.6"/>
<line x1="65.2" y1="504.5" x2="158.1" y2="479.5" stroke="#dcdcdc" stroke-width="0.6"/>
<line x1="76.2" y1="475.6" x2="147.1" y2="508.4" stroke="#dcdcdc" stroke-width="0.6"/>
<line x1="100.6" y1="520.9" x2="193.5" y2="495.9" stroke="#dcdcdc" stroke-width="0.6"/>
<line x1="122.7" y1="463.1" x2="193.5" y2="495.9" stroke="#dcdcdc" stroke-width="0.6"/>
<line x1="29.8" y1="488.1" x2="29.8" y2="417.1" stroke="#dcdcdc" stroke-width="0.6"/>
<line x1="122.7" y1="463.1" x2="122.7" y2="392.1" stroke="#dcdcdc" stroke-width="0.6"/>
<line x1="76.2" y1="475.6" x2="76.2" y2="404.6" stroke="#dcdcdc" stroke-width="0.6"/>
<line x1="158.1" y1="479.5" x2="158.1" y2="408.5" stroke="#dcdcdc" stroke-width="0.6"/>
<line x1="122.7" y1="463.1" x2="122.7" y2="392.1" stroke="#dcdcdc" stroke-width="0.6"/>
<line x1="193.5" y1="495.9" x2="193.5" y2="424.9" stroke="#dcdcdc" stroke-width="0.6"/>
<line x1="29.8" y1="488.1" x2="122.7" y2="463.1" stroke="#dcdcdc" stroke-width="0.6"/>
<line x1="122.7" y1="463.1" x2="193.5" y2="495.9" stroke="#dcdcdc" stroke-width="0.6"/>
<line x1="29.8" y1="452.6" x2="122.7" y2="427.6" stroke="#dcdcdc" stroke-width="0.6"/>
<line x1="122.7" y1="427.6" x2="193.5" y2="460.4" stroke="#dcdcdc" stroke-width="0.6"/>
<line x1="29.8" y1="417.1" x2="122.7" y2="392.1" stroke="#dcdcdc" stroke-width="0.6"/>
<line x1="122.7" y1="392.1" x2="193.5" y2="424.9" stroke="#dcdcdc" stroke-width="0.6"/>
<line x1="29.8" y1="417.1" x2="122.7" y2="392.1" stroke="#dcdcdc" stroke-width="0.6"/>
<line x1="122.7" y1="392.1" x2="193.5" y2="424.9" stroke="#dcdcdc" stroke-width="0.6"/>
<g class="s"><path class="c102" d="M126.6 432.2l0.9 2.1l2.3 -0.8l-0.9 -2.2z"/>
<path class="c109" d="M125.7 430l0.9 2.2l2.3 -0.9l-0.9 -2.2z"/>
<path class="c96" d="M125.1 435.1l0.9 1.5l4.7 -1.6l-0.9 -1.5z"/>
<path class="c92" d="M126 436.6l0.9 1.5l4.7 -1.6l-0.9 -1.5z"/>
<path class="c88" d="M126.9 438.1l0.9 1.6l4.6 -1.7l-0.8 -1.5z"/>
<path class="c84" d="M127.8 439.7l0.9 1.5l4.6 -1.7l-0.9 -1.5z"/>
<path class="c115" d="M124.8 427.9l0.9 2.1l2.3 -0.9l-0.9 -2.1z"/>
<path class="c80" d="M128.7 441.2l0.9 1.6l4.6 -1.8l-0.9 -1.5z"/>
<path class="c75" d="M129.6 442.8l0.8 1.5l4.7 -1.8l-0.9 -1.5z"/>
<path class="c64" d="M133.8 446.7l0.8 1.2l3.1 -1.3l-0.8 -1.2z"/>
<path class="c71" d="M130.4 444.3l0.9 1.5l4.7 -1.8l-0.9 -1.5z"/>
<path class="c67" d="M131.3 445.8l0.9 1.6l4.7 -2l-0.9 -1.4z"/>
<path class="c122" d="M123.9 425.8l0.9 2.1l2.3 -0.9l-0.9 -2.2z"/>
<path class="c101" d="M124.3 433l0.8 2.1l2.4 -0.8l-0.9 -2.1z"/>
<path class="c61" d="M134.6 447.9l0.9 1.2l3.1 -1.4l-0.9 -1.1z"/>
<path class="c129" d="M123 423.7l0.9 2.1l2.3 -1l-0.8 -2.2z"/>
<path class="c108" d="M123.4 431l0.9 2l2.3 -0.8l-0.9 -2.2z"/>
<path class="c58" d="M135.5 449.1l0.9 1.1l3.1 -1.3l-0.9 -1.2z"/>
<path class="c114" d="M122.5 428.9l0.9 2.1l2.3 -1l-0.9 -2.1z"/>
<path class="c55" d="M136.4 450.2l0.9 1.2l3.1 -1.4l-0.9 -1.1z"/>
<path class="c135" d="M122.1 421.6l0.9 2.1l2.4 -1.1l-0.9 -2.2z"/>
<path class="c121" d="M121.6 426.8l0.9 2.1l2.3 -1l-0.9 -2.1z"/>
<path class="c53" d="M137.3 451.4l0.9 1.1l3.1 -1.3l-0.9 -1.2z"/>
<path class="c142" d="M121.3 419.4l0.8 2.2l2.4 -1.2l-0.9 -2.2z"/>
<path class="c62" d="M130.7 448l0.9 1.2l3 -1.3l-0.8 -1.2z"/>
<path class="c101" d="M121.9 433.9l0.9 2l2.3 -0.8l-0.8 -2.1z"/>
<path class="c127" d="M120.7 424.8l0.9 2l2.3 -1l-0.9 -2.1z"/>
<path class="c50" d="M138.2 452.5l0.9 1.2l3.1 -1.4l-0.9 -1.1z"/>
<path class="c59" d="M131.6 449.2l0.8 1.2l3.1 -1.3l-0.9 -1.2z"/>
<path class="c148" d="M120.4 417.3l0.9 2.1l2.3 -1.2l-0.9 -2.2z"/>
<path class="c107" d="M121 431.9l0.9 2l2.4 -0.9l-0.9 -2z"/>
<path class="c133" d="M119.8 422.7l0.9 2.1l2.3 -1.1l-0.9 -2.1z"/>
<path class="c95" d="M120.5 436.6l0.9 1.6l4.6 -1.6l-0.9 -1.5z"/>
<path class="c47" d="M139.1 453.7l0.9 1.2l3.1 -1.4l-0.9 -1.2z"/>
<path class="c91" d="M121.4 438.2l0.9 1.6l4.6 -1.7l-0.9 -1.5z"/>
<path class="c113" d="M120.2 429.9l0.8 2l2.4 -0.9l-0.9 -2.1z"/>
<path class="c86" d="M122.3 439.8l0.8 1.6l4.7 -1.7l-0.9 -1.6z"/>
<path class="c56" d="M132.4 450.4l0.9 1.1l3.1 -1.3l-0.9 -1.1z"/>
<path class="c82" d="M123.1 441.4l0.9 1.6l4.7 -1.8l-0.9 -1.5z"/>
<path class="c78" d="M124 443l0.9 1.5l4.7 -1.7l-0.9 -1.6z"/>
<path class="c73" d="M124.9 444.5l0.9 1.6l4.6 -1.8l-0.8 -1.5z"/>
<path class="c69" d="M125.8 446.1l0.9 1.6l4.6 -1.9l-0.9 -1.5z"/>
<path class="c140" d="M118.9 420.7l0.9 2l2.3 -1.1l-0.8 -2.2z"/>
<path class="c65" d="M126.7 447.7l0.9 1.6l4.6 -1.9l-0.9 -1.6z"/>
<path class="c119" d="M119.3 427.9l0.9 2l2.3 -1l-0.9 -2.1z"/>
<path class="c44" d="M140 454.9l0.8 1.1l3.1 -1.4l-0.8 -1.1z"/>
<path class="c53" d="M133.3 451.5l0.9 1.2l3.1 -1.3l-0.9 -1.2z"/>
<path class="c146" d="M118.1 418.6l0.8 2.1l2.4 -1.3l-0.9 -2.1z"/>
<path class="c125" d="M118.4 425.9l0.9 2l2.3 -1.1l-0.9 -2z"/>
<path class="c100" d="M119.6 434.7l0.9 1.9l2.3 -0.7l-0.9 -2z"/>
<path class="c51" d="M134.2 452.7l0.9 1.2l3.1 -1.4l-0.9 -1.1z"/>
<path class="c60" d="M127.6 449.3l0.9 1.2l3.1 -1.3l-0.9 -1.2z"/>
<path class="c106" d="M118.7 432.8l0.9 1.9l2.3 -0.8l-0.9 -2z"/>
<path class="c131" d="M117.5 423.9l0.9 2l2.3 -1.1l-0.9 -2.1z"/>
<path class="c41" d="M140.8 456l1.5 1.5l3.1 -1.4l-1.5 -1.5z"/>
<path class="c48" d="M135.1 453.9l0.9 1.2l3.1 -1.4l-0.9 -1.2z"/>
<path class="c112" d="M117.8 430.9l0.9 1.9l2.3 -0.9l-0.8 -2z"/>
<path class="c57" d="M128.5 450.5l0.8 1.2l3.1 -1.3l-0.8 -1.2z"/>
<path class="c137" d="M116.6 421.9l0.9 2l2.3 -1.2l-0.9 -2z"/>
<path class="c45" d="M136 455.1l0.9 1.2l3.1 -1.4l-0.9 -1.2z"/>
<path class="c118" d="M117 428.9l0.8 2l2.4 -1l-0.9 -2z"/>
<path class="c144" d="M115.7 419.9l0.9 2l2.3 -1.2l-0.8 -2.1z"/>
<path class="c55" d="M129.3 451.7l0.9 1.2l3.1 -1.4l-0.9 -1.1z"/>
<path class="c123" d="M116.1 427l0.9 1.9l2.3 -1l-0.9 -2z"/>
<path class="c42" d="M136.9 456.3l0.8 1.2l3.1 -1.5l-0.8 -1.1z"/>
<path class="c38" d="M142.3 457.5l1.4 1.5l3.1 -1.4l-1.4 -1.5z"/>
<path class="c52" d="M130.2 452.9l0.9 1.2l3.1 -1.4l-0.9 -1.2z"/>
<path class="c129" d="M115.2 425.1l0.9 1.9l2.3 -1.1l-0.9 -2z"/>
<path class="c135" d="M114.3 423.2l0.9 1.9l2.3 -1.2l-0.9 -2z"/>
<path class="c49" d="M131.1 454.1l0.9 1.2l3.1 -1.4l-0.9 -1.2z"/>
<path class="c39" d="M137.7 457.5l1.5 1.5l3.1 -1.5l-1.5 -1.5z"/>
<path class="c141" d="M113.4 421.2l0.9 2l2.3 -1.3l-0.9 -2z"/>
<path class="c46" d="M132 455.3l0.9 1.2l3.1 -1.4l-0.9 -1.2z"/>
<path class="c99" d="M115 436.3l0.8 1.8l4.7 -1.5l-0.9 -1.9z"/>
<path class="c35" d="M143.7 459l1.4 1.5l3.1 -1.4l-1.4 -1.5z"/>
<path class="c105" d="M114.1 434.4l0.9 1.9l4.6 -1.6l-0.9 -1.9z"/>
<path class="c43" d="M132.9 456.5l0.9 1.2l3.1 -1.4l-0.9 -1.2z"/>
<path class="c59" d="M122.9 450.8l0.9 1.2l4.7 -1.5l-0.9 -1.2z"/>
<path class="c110" d="M113.2 432.6l0.9 1.8l4.6 -1.6l-0.9 -1.9z"/>
<path class="c40" d="M133.8 457.7l0.9 1.2l3 -1.4l-0.8 -1.2z"/>
<path class="c116" d="M112.3 430.7l0.9 1.9l4.6 -1.7l-0.9 -2z"/>
<path class="c36" d="M139.2 459l1.4 1.5l3.1 -1.5l-1.4 -1.5z"/>
<path class="c56" d="M123.8 452l0.9 1.2l4.6 -1.5l-0.8 -1.2z"/>
<path class="c122" d="M111.4 428.9l0.9 1.8l4.6 -1.8l-0.8 -1.9z"/>
<path class="c32" d="M145.1 460.5l1.4 1.5l3.1 -1.5l-1.4 -1.4z"/>
<path class="c53" d="M124.7 453.2l0.9 1.3l4.6 -1.6l-0.9 -1.2z"/>
<path class="c127" d="M110.5 427l0.9 1.9l4.7 -1.9l-0.9 -1.9z"/>
<path class="c37" d="M134.7 458.9l1.4 1.5l3.1 -1.4l-1.5 -1.5z"/>
<path class="c133" d="M109.6 425.2l0.9 1.8l4.7 -1.9l-0.9 -1.9z"/>
<path class="c94" d="M111.2 439.6l0.9 1.6l9.3 -3l-0.9 -1.6z"/>
<path class="c50" d="M125.6 454.5l0.9 1.2l4.6 -1.6l-0.9 -1.2z"/>
<path class="c89" d="M112.1 441.2l0.9 1.5l9.3 -2.9l-0.9 -1.6z"/>
<path class="c85" d="M113 442.7l0.9 1.6l9.2 -2.9l-0.8 -1.6z"/>
<path class="c80" d="M113.9 444.3l0.8 1.6l9.3 -2.9l-0.9 -1.6z"/>
<path class="c76" d="M114.7 445.9l0.9 1.6l9.3 -3l-0.9 -1.5z"/>
<path class="c138" d="M108.8 423.3l0.8 1.9l4.7 -2l-0.9 -2z"/>
<path class="c71" d="M115.6 447.5l0.9 1.6l9.3 -3l-0.9 -1.6z"/>
<path class="c67" d="M116.5 449.1l0.9 1.6l9.3 -3l-0.9 -1.6z"/>
<path class="c32" d="M140.6 460.5l1.4 1.4l3.1 -1.4l-1.4 -1.5z"/>
<path class="c62" d="M117.4 450.7l0.9 1.6l9.3 -3l-0.9 -1.6z"/>
<path class="c47" d="M126.5 455.7l0.9 1.3l4.6 -1.7l-0.9 -1.2z"/>
<path class="c28" d="M146.5 462l1.4 1.5l3.1 -1.5l-1.4 -1.5z"/>
<path class="c44" d="M127.4 457l0.8 1.2l4.7 -1.7l-0.9 -1.2z"/>
<path class="c33" d="M136.1 460.4l1.4 1.5l3.1 -1.4l-1.4 -1.5z"/>
<path class="c41" d="M128.2 458.2l0.9 1.2l4.7 -1.7l-0.9 -1.2z"/>
<path class="c29" d="M142 461.9l1.4 1.5l3.1 -1.4l-1.4 -1.5z"/>
<path class="c38" d="M129.1 459.4l0.9 1.3l4.6 -1.8l-0.8 -1.2z"/>
<path class="c98" d="M110.3 437.8l0.9 1.8l4.6 -1.5l-0.8 -1.8z"/>
<path class="c103" d="M109.4 436l0.9 1.8l4.7 -1.5l-0.9 -1.9z"/>
<path class="c30" d="M137.5 461.9l1.4 1.5l3.1 -1.5l-1.4 -1.4z"/>
<path class="c109" d="M108.5 434.3l0.9 1.7l4.7 -1.6l-0.9 -1.8z"/>
<path class="c58" d="M118.3 452.3l0.9 1.3l4.6 -1.6l-0.9 -1.2z"/>
<path class="c35" d="M130 460.7l1.2 1.2l4.6 -1.8l-1.2 -1.2z"/>
<path class="c114" d="M107.7 432.5l0.8 1.8l4.7 -1.7l-0.9 -1.9z"/>
<path class="c26" d="M147.9 463.5l2.4 1.8l3.1 -1.5l-2.4 -1.8z"/>
<path class="c26" d="M143.4 463.4l1.4 1.5l3.1 -1.4l-1.4 -1.5z"/>
<path class="c119" d="M106.8 430.7l0.9 1.8l4.6 -1.8l-0.9 -1.8z"/>
<path class="c55" d="M119.2 453.6l0.9 1.2l4.6 -1.6l-0.9 -1.2z"/>
<path class="c125" d="M105.9 429l0.9 1.7l4.6 -1.8l-0.9 -1.9z"/>
<path class="c130" d="M105 427.2l0.9 1.8l4.6 -2l-0.9 -1.8z"/>
<path class="c52" d="M120.1 454.8l0.8 1.3l4.7 -1.6l-0.9 -1.3z"/>
<path class="c135" d="M104.1 425.4l0.9 1.8l4.6 -2l-0.8 -1.9z"/>
<path class="c32" d="M131.2 461.9l1.2 1.3l4.6 -1.8l-1.2 -1.3z"/>
<path class="c27" d="M138.9 463.4l1.4 1.5l3.1 -1.5l-1.4 -1.5z"/>
<path class="c48" d="M120.9 456.1l0.9 1.3l4.7 -1.7l-0.9 -1.2z"/>
<path class="c45" d="M121.8 457.4l0.9 1.2l4.7 -1.6l-0.9 -1.3z"/>
<path class="c42" d="M122.7 458.6l0.9 1.3l4.6 -1.7l-0.8 -1.2z"/>
<path class="c29" d="M132.4 463.2l1.1 1.3l4.7 -1.9l-1.2 -1.2z"/>
<path class="c23" d="M144.8 464.9l2.4 1.9l3.1 -1.5l-2.4 -1.8z"/>
<path class="c24" d="M140.3 464.9l1.4 1.5l3.1 -1.5l-1.4 -1.5z"/>
<path class="c39" d="M123.6 459.9l0.9 1.3l4.6 -1.8l-0.9 -1.2z"/>
<path class="c36" d="M124.5 461.2l0.9 1.3l4.6 -1.8l-0.9 -1.3z"/>
<path class="c23" d="M150.3 465.3l2.3 1.8l3.1 -1.5l-2.3 -1.8z"/>
<path class="c26" d="M133.5 464.5l1.2 1.3l4.7 -1.9l-1.2 -1.3z"/>
<path class="c33" d="M125.4 462.5l1.1 1.3l4.7 -1.9l-1.2 -1.2z"/>
<path class="c24" d="M134.7 465.8l1.2 1.3l4.6 -2l-1.1 -1.2z"/>
<path class="c21" d="M141.7 466.4l2.4 1.9l3.1 -1.5l-2.4 -1.9z"/>
<path class="c30" d="M126.5 463.8l1.2 1.3l4.7 -1.9l-1.2 -1.3z"/>
<path class="c20" d="M147.2 466.8l2.3 1.8l3.1 -1.5l-2.3 -1.8z"/>
<path class="c21" d="M135.9 467.1l1.2 1.2l4.6 -1.9l-1.2 -1.3z"/>
<path class="c92" d="M101.9 442.3l0.9 1.6l9.3 -2.7l-0.9 -1.6z"/>
<path class="c97" d="M101 440.6l0.9 1.7l9.3 -2.7l-0.9 -1.8z"/>
<path class="c88" d="M102.8 443.9l0.9 1.6l9.3 -2.8l-0.9 -1.5z"/>
<path class="c83" d="M103.7 445.5l0.9 1.6l9.3 -2.8l-0.9 -1.6z"/>
<path class="c79" d="M104.6 447.1l0.8 1.6l9.3 -2.8l-0.8 -1.6z"/>
<path class="c102" d="M100.1 438.9l0.9 1.7l9.3 -2.8l-0.9 -1.8z"/>
<path class="c74" d="M105.4 448.7l0.9 1.5l9.3 -2.7l-0.9 -1.6z"/>
<path class="c27" d="M127.7 465.1l1.2 1.3l4.6 -1.9l-1.1 -1.3z"/>
<path class="c70" d="M106.3 450.2l0.9 1.6l9.3 -2.7l-0.9 -1.6z"/>
<path class="c107" d="M99.3 437.3l0.8 1.6l9.3 -2.9l-0.9 -1.7z"/>
<path class="c66" d="M107.2 451.8l0.9 1.6l9.3 -2.7l-0.9 -1.6z"/>
<path class="c61" d="M108.1 453.4l0.9 1.6l9.3 -2.7l-0.9 -1.6z"/>
<path class="c112" d="M98.4 435.6l0.9 1.7l9.2 -3l-0.8 -1.8z"/>
<path class="c117" d="M97.5 433.9l0.9 1.7l9.3 -3.1l-0.9 -1.8z"/>
<path class="c57" d="M109 455l0.9 1.3l9.3 -2.7l-0.9 -1.3z"/>
<path class="c20" d="M152.6 467.1l2.4 1.8l3.1 -1.5l-2.4 -1.8z"/>
<path class="c122" d="M96.6 432.2l0.9 1.7l9.3 -3.2l-0.9 -1.7z"/>
<path class="c127" d="M95.7 430.5l0.9 1.7l9.3 -3.2l-0.9 -1.8z"/>
<path class="c132" d="M94.8 428.8l0.9 1.7l9.3 -3.3l-0.9 -1.8z"/>
<path class="c54" d="M109.9 456.3l0.9 1.3l9.3 -2.8l-0.9 -1.2z"/>
<path class="c24" d="M128.9 466.4l1.2 1.3l4.6 -1.9l-1.2 -1.3z"/>
<path class="c50" d="M110.8 457.6l0.8 1.3l9.3 -2.8l-0.8 -1.3z"/>
<path class="c47" d="M111.6 458.9l0.9 1.3l9.3 -2.8l-0.9 -1.3z"/>
<path class="c18" d="M137.1 468.3l2.3 1.8l4.7 -1.8l-2.4 -1.9z"/>
<path class="c18" d="M144.1 468.3l2.4 1.8l3 -1.5l-2.3 -1.8z"/>
<path class="c44" d="M112.5 460.2l0.9 1.3l9.3 -2.9l-0.9 -1.2z"/>
<path class="c21" d="M130.1 467.7l1.2 1.3l4.6 -1.9l-1.2 -1.3z"/>
<path class="c40" d="M113.4 461.5l0.9 1.4l9.3 -3l-0.9 -1.3z"/>
<path class="c18" d="M149.5 468.6l2.4 1.9l3.1 -1.6l-2.4 -1.8z"/>
<path class="c37" d="M114.3 462.9l0.9 1.3l9.3 -3l-0.9 -1.3z"/>
<path class="c34" d="M115.2 464.2l0.9 1.3l9.3 -3l-0.9 -1.3z"/>
<path class="c18" d="M131.3 469l1.1 1.3l4.7 -2l-1.2 -1.2z"/>
<path class="c30" d="M116.1 465.5l1.1 1.3l9.3 -3l-1.1 -1.3z"/>
<path class="c15" d="M139.4 470.1l2.4 1.8l4.6 -1.8l-2.3 -1.8z"/>
<path class="c15" d="M146.5 470.1l2.3 1.9l3.1 -1.5l-2.4 -1.9z"/>
<path class="c27" d="M117.2 466.8l1.2 1.4l9.3 -3.1l-1.2 -1.3z"/>
<path class="c16" d="M132.4 470.3l2.4 1.7l4.6 -1.9l-2.3 -1.8z"/>
<path class="c25" d="M118.4 468.2l1.2 1.3l9.3 -3.1l-1.2 -1.3z"/>
<path class="c22" d="M119.6 469.5l1.2 1.4l9.3 -3.2l-1.2 -1.3z"/>
<path class="c13" d="M141.8 471.9l2.4 1.8l4.6 -1.7l-2.4 -1.9z"/>
<path class="c19" d="M120.8 470.9l1.2 1.3l9.3 -3.2l-1.2 -1.3z"/>
<path class="c96" d="M91.7 443.4l0.9 1.6l9.3 -2.7l-0.9 -1.7z"/>
<path class="c91" d="M92.6 445l0.9 1.6l9.3 -2.7l-0.9 -1.6z"/>
<path class="c13" d="M134.8 472l2.4 1.7l4.6 -1.8l-2.4 -1.8z"/>
<path class="c101" d="M90.8 441.8l0.9 1.6l9.3 -2.8l-0.9 -1.7z"/>
<path class="c106" d="M90 440.1l0.8 1.7l9.3 -2.9l-0.8 -1.6z"/>
<path class="c87" d="M93.5 446.6l0.9 1.5l9.3 -2.6l-0.9 -1.6z"/>
<path class="c110" d="M89.1 438.5l0.9 1.6l9.3 -2.8l-0.9 -1.7z"/>
<path class="c83" d="M94.4 448.1l0.9 1.6l9.3 -2.6l-0.9 -1.6z"/>
<path class="c115" d="M88.2 436.9l0.9 1.6l9.3 -2.9l-0.9 -1.7z"/>
<path class="c120" d="M87.3 435.2l0.9 1.7l9.3 -3l-0.9 -1.7z"/>
<path class="c78" d="M95.3 449.7l0.9 1.5l9.2 -2.5l-0.8 -1.6z"/>
<path class="c125" d="M86.4 433.6l0.9 1.6l9.3 -3l-0.9 -1.7z"/>
<path class="c129" d="M85.5 432l0.9 1.6l9.3 -3.1l-0.9 -1.7z"/>
<path class="c74" d="M96.2 451.2l0.8 1.6l9.3 -2.6l-0.9 -1.5z"/>
<path class="c70" d="M97 452.8l0.9 1.5l9.3 -2.5l-0.9 -1.6z"/>
<path class="c65" d="M97.9 454.3l0.9 1.6l9.3 -2.5l-0.9 -1.6z"/>
<path class="c61" d="M98.8 455.9l0.9 1.5l9.3 -2.4l-0.9 -1.6z"/>
<path class="c16" d="M122 472.2l1.1 1.4l9.3 -3.3l-1.1 -1.3z"/>
<path class="c14" d="M127.8 471.9l2.4 1.8l4.6 -1.7l-2.4 -1.7z"/>
<path class="c57" d="M99.7 457.4l0.9 1.4l9.3 -2.5l-0.9 -1.3z"/>
<path class="c53" d="M100.6 458.8l0.9 1.3l9.3 -2.5l-0.9 -1.3z"/>
<path class="c50" d="M101.5 460.1l0.9 1.3l9.2 -2.5l-0.8 -1.3z"/>
<path class="c46" d="M102.4 461.4l0.8 1.3l9.3 -2.5l-0.9 -1.3z"/>
<path class="c43" d="M103.2 462.7l0.9 1.4l9.3 -2.6l-0.9 -1.3z"/>
<path class="c39" d="M104.1 464.1l0.9 1.3l9.3 -2.5l-0.9 -1.4z"/>
<path class="c36" d="M105 465.4l0.9 1.3l9.3 -2.5l-0.9 -1.3z"/>
<path class="c11" d="M137.2 473.7l2.3 1.7l4.7 -1.7l-2.4 -1.8z"/>
<path class="c33" d="M105.9 466.7l0.9 1.3l9.3 -2.5l-0.9 -1.3z"/>
<path class="c11" d="M144.2 473.7l3.5 1.5l4.6 -1.3l-3.5 -1.9z"/>
<path class="c11" d="M130.2 473.7l2.3 1.7l4.7 -1.7l-2.4 -1.7z"/>
<path class="c29" d="M106.8 468l1.2 1.4l9.2 -2.6l-1.1 -1.3z"/>
<path class="c12" d="M123.2 473.6l2.3 1.7l4.7 -1.6l-2.4 -1.8z"/>
<path class="c26" d="M108 469.4l1.1 1.4l9.3 -2.6l-1.2 -1.4z"/>
<path class="c23" d="M109.1 470.8l1.2 1.4l9.3 -2.7l-1.2 -1.3z"/>
<path class="c20" d="M110.3 472.2l1.2 1.4l9.3 -2.7l-1.2 -1.4z"/>
<path class="c9" d="M132.5 475.4l2.4 1.7l4.6 -1.7l-2.3 -1.7z"/>
<path class="c10" d="M125.5 475.3l2.4 1.8l4.6 -1.7l-2.3 -1.7z"/>
<path class="c10" d="M139.5 475.4l3.6 1.2l4.6 -1.4l-3.5 -1.5z"/>
<path class="c17" d="M111.5 473.6l1.2 1.4l9.3 -2.8l-1.2 -1.3z"/>
<path class="c127" d="M76.2 435l0.9 1.5l9.3 -2.9l-0.9 -1.6z"/>
<path class="c123" d="M77.1 436.5l0.9 1.6l9.3 -2.9l-0.9 -1.6z"/>
<path class="c118" d="M78 438.1l0.9 1.6l9.3 -2.8l-0.9 -1.7z"/>
<path class="c114" d="M78.9 439.7l0.9 1.5l9.3 -2.7l-0.9 -1.6z"/>
<path class="c109" d="M79.8 441.2l0.9 1.6l9.3 -2.7l-0.9 -1.6z"/>
<path class="c105" d="M80.7 442.8l0.9 1.5l9.2 -2.5l-0.8 -1.7z"/>
<path class="c100" d="M81.6 444.3l0.8 1.6l9.3 -2.5l-0.9 -1.6z"/>
<path class="c96" d="M82.4 445.9l0.9 1.6l9.3 -2.5l-0.9 -1.6z"/>
<path class="c14" d="M112.7 475l1.2 1.4l9.2 -2.8l-1.1 -1.4z"/>
<path class="c91" d="M83.3 447.5l0.9 1.5l9.3 -2.4l-0.9 -1.6z"/>
<path class="c87" d="M84.2 449l0.9 1.5l9.3 -2.4l-0.9 -1.5z"/>
<path class="c83" d="M85.1 450.5l0.9 1.5l9.3 -2.3l-0.9 -1.6z"/>
<path class="c78" d="M86 452l0.9 1.5l9.3 -2.3l-0.9 -1.5z"/>
<path class="c74" d="M86.9 453.5l0.9 1.5l9.2 -2.2l-0.8 -1.6z"/>
<path class="c70" d="M87.8 455l0.8 1.6l9.3 -2.3l-0.9 -1.5z"/>
<path class="c66" d="M88.6 456.6l0.9 1.5l9.3 -2.2l-0.9 -1.6z"/>
<path class="c11" d="M147.7 475.2l3.5 1.5l4.7 -0.9l-3.6 -1.9z"/>
<path class="c61" d="M89.5 458.1l0.9 1.5l9.3 -2.2l-0.9 -1.5z"/>
<path class="c58" d="M90.4 459.6l0.9 1.3l9.3 -2.1l-0.9 -1.4z"/>
<path class="c54" d="M91.3 460.9l0.9 1.3l9.3 -2.1l-0.9 -1.3z"/>
<path class="c51" d="M92.2 462.2l0.9 1.3l9.3 -2.1l-0.9 -1.3z"/>
<path class="c11" d="M113.9 476.4l2.3 2l9.3 -3.1l-2.4 -1.7z"/>
<path class="c7" d="M127.9 477.1l2.3 1.7l4.7 -1.7l-2.4 -1.7z"/>
<path class="c47" d="M93.1 463.5l0.9 1.4l9.2 -2.2l-0.8 -1.3z"/>
<path class="c44" d="M94 464.9l0.8 1.3l9.3 -2.1l-0.9 -1.4z"/>
<path class="c40" d="M94.8 466.2l0.9 1.3l9.3 -2.1l-0.9 -1.3z"/>
<path class="c9" d="M134.9 477.1l3.5 1.2l4.7 -1.7l-3.6 -1.2z"/>
<path class="c37" d="M95.7 467.5l0.9 1.3l9.3 -2.1l-0.9 -1.3z"/>
<path class="c33" d="M96.6 468.8l0.9 1.3l9.3 -2.1l-0.9 -1.3z"/>
<path class="c30" d="M97.5 470.1l1 1.2l9.3 -2.1l-1 -1.2z"/>
<path class="c27" d="M98.5 471.3l1 1.2l9.3 -2.1l-1 -1.2z"/>
<path class="c8" d="M116.2 478.4l2.4 1.9l9.3 -3.2l-2.4 -1.8z"/>
<path class="c11" d="M143.1 476.6l3.5 1.1l4.6 -1l-3.5 -1.5z"/>
<path class="c25" d="M99.5 472.5l1 1.3l9.3 -2.2l-1 -1.2z"/>
<path class="c22" d="M100.5 473.8l1 1.2l9.3 -2.2l-1 -1.2z"/>
<path class="c7" d="M130.2 478.8l3.6 1.2l4.6 -1.7l-3.5 -1.2z"/>
<path class="c19" d="M101.5 475l1 1.2l9.3 -2.2l-1 -1.2z"/>
<path class="c5" d="M118.6 480.3l2.3 1.9l9.3 -3.4l-2.3 -1.7z"/>
<path class="c16" d="M102.5 476.2l1.1 1.2l9.2 -2.2l-1 -1.2z"/>
<path class="c127" d="M67 437.2l0.8 1.5l9.3 -2.2l-0.9 -1.5z"/>
<path class="c123" d="M67.8 438.7l0.9 1.6l9.3 -2.2l-0.9 -1.6z"/>
<path class="c118" d="M68.7 440.3l0.9 1.5l9.3 -2.1l-0.9 -1.6z"/>
<path class="c114" d="M69.6 441.8l0.9 1.6l9.3 -2.2l-0.9 -1.5z"/>
<path class="c109" d="M70.5 443.4l0.9 1.5l9.3 -2.1l-0.9 -1.6z"/>
<path class="c105" d="M71.4 444.9l0.9 1.6l9.3 -2.2l-0.9 -1.5z"/>
<path class="c13" d="M103.6 477.4l1 1.2l9.3 -2.2l-1.1 -1.2z"/>
<path class="c101" d="M72.3 446.5l0.9 1.5l9.2 -2.1l-0.8 -1.6z"/>
<path class="c96" d="M73.2 448l0.8 1.6l9.3 -2.1l-0.9 -1.6z"/>
<path class="c92" d="M74 449.6l0.9 1.5l9.3 -2.1l-0.9 -1.5z"/>
<path class="c88" d="M74.9 451.1l0.9 1.4l9.3 -2l-0.9 -1.5z"/>
<path class="c11" d="M138.4 478.3l3.6 1.2l4.6 -1.8l-3.5 -1.1z"/>
<path class="c84" d="M75.8 452.5l0.9 1.5l9.3 -2l-0.9 -1.5z"/>
<path class="c80" d="M76.7 454l0.9 1.5l9.3 -2l-0.9 -1.5z"/>
<path class="c76" d="M77.6 455.5l0.9 1.5l9.3 -2l-0.9 -1.5z"/>
<path class="c71" d="M78.5 457l0.9 1.5l9.2 -1.9l-0.8 -1.6z"/>
<path class="c67" d="M79.4 458.5l0.8 1.5l9.3 -1.9l-0.9 -1.5z"/>
<path class="c63" d="M80.2 460l0.9 1.5l9.3 -1.9l-0.9 -1.5z"/>
<path class="c11" d="M104.6 478.6l1.7 1.5l9.3 -2.2l-1.7 -1.5z"/>
<path class="c59" d="M81.1 461.5l0.9 1.3l9.3 -1.9l-0.9 -1.3z"/>
<path class="c5" d="M125.6 480.5l3.5 1.4l4.7 -1.9l-3.6 -1.2z"/>
<path class="c56" d="M82 462.8l0.9 1.3l9.3 -1.9l-0.9 -1.3z"/>
<path class="c53" d="M82.9 464.1l0.9 1.2l9.3 -1.8l-0.9 -1.3z"/>
<path class="c32" d="M92.8 471l1.1 1.2l4.6 -0.9l-1 -1.2z"/>
<path class="c49" d="M83.8 465.3l0.9 1.3l9.3 -1.7l-0.9 -1.4z"/>
<path class="c46" d="M84.7 466.6l0.8 1.3l9.3 -1.7l-0.8 -1.3z"/>
<path class="c29" d="M93.9 472.2l1 1.2l4.6 -0.9l-1 -1.2z"/>
<path class="c42" d="M85.5 467.9l0.9 1.3l9.3 -1.7l-0.9 -1.3z"/>
<path class="c8" d="M106.3 480.1l1.8 1.5l9.3 -2.3l-1.8 -1.4z"/>
<path class="c39" d="M86.4 469.2l0.9 1.3l9.3 -1.7l-0.9 -1.3z"/>
<path class="c26" d="M94.9 473.4l1 1.2l4.6 -0.8l-1 -1.3z"/>
<path class="c36" d="M87.3 470.5l0.9 1.3l9.3 -1.7l-0.9 -1.3z"/>
<path class="c9" d="M133.8 480l3.5 1.2l4.7 -1.7l-3.6 -1.2z"/>
<path class="c13" d="M143.5 478.9l1.2 -0.2l3.1 -1.3l-1.2 0.3z"/>
<path class="c23" d="M95.9 474.6l1 1.2l4.6 -0.8l-1 -1.2z"/>
<path class="c20" d="M96.9 475.8l1 1.2l4.6 -0.8l-1 -1.2z"/>
<path class="c3" d="M120.9 482.2l3.6 1.6l4.6 -1.9l-3.5 -1.4z"/>
<path class="c6" d="M108.1 481.6l1.8 1.5l9.3 -2.4l-1.8 -1.4z"/>
<path class="c18" d="M97.9 477l1 1.2l4.7 -0.8l-1.1 -1.2z"/>
<path class="c12" d="M140.4 480l1.2 -0.1l3.1 -1.2l-1.2 0.2z"/>
<path class="c15" d="M98.9 478.2l1 1.2l4.7 -0.8l-1 -1.2z"/>
<path class="c33" d="M88.2 471.8l1 1.2l4.7 -0.8l-1.1 -1.2z"/>
<path class="c16" d="M144.7 478.7l1.2 -0.3l3.1 -1.2l-1.2 0.2z"/>
<path class="c3" d="M109.9 483.1l1.7 1.5l9.3 -2.4l-1.7 -1.5z"/>
<path class="c6" d="M129.1 481.9l3.6 1.4l4.6 -2.1l-3.5 -1.2z"/>
<path class="c31" d="M89.2 473l1 1.2l4.7 -0.8l-1 -1.2z"/>
<path class="c127" d="M57.7 440l0.9 1.5l9.2 -2.8l-0.8 -1.5z"/>
<path class="c123" d="M58.6 441.5l0.8 1.5l9.3 -2.7l-0.9 -1.6z"/>
<path class="c12" d="M99.9 479.4l1.8 1.5l4.6 -0.8l-1.7 -1.5z"/>
<path class="c118" d="M59.4 443l0.9 1.5l9.3 -2.7l-0.9 -1.5z"/>
<path class="c114" d="M60.3 444.5l0.9 1.5l9.3 -2.6l-0.9 -1.6z"/>
<path class="c61" d="M76.5 462.4l0.9 1.3l4.6 -0.9l-0.9 -1.3z"/>
<path class="c110" d="M61.2 446l0.9 1.5l9.3 -2.6l-0.9 -1.5z"/>
<path class="c28" d="M90.2 474.2l1 1.2l4.7 -0.8l-1 -1.2z"/>
<path class="c106" d="M62.1 447.5l0.9 1.5l9.3 -2.5l-0.9 -1.6z"/>
<path class="c102" d="M63 449l0.9 1.5l9.3 -2.5l-0.9 -1.5z"/>
<path class="c58" d="M77.4 463.7l0.8 1.2l4.7 -0.8l-0.9 -1.3z"/>
<path class="c97" d="M63.9 450.5l0.8 1.5l9.3 -2.4l-0.8 -1.6z"/>
<path class="c93" d="M64.7 452l0.9 1.4l9.3 -2.3l-0.9 -1.5z"/>
<path class="c11" d="M137.3 481.2l1.2 -0.1l3.1 -1.2l-1.2 0.1z"/>
<path class="c55" d="M78.2 464.9l0.9 1.3l4.7 -0.9l-0.9 -1.2z"/>
<path class="c89" d="M65.6 453.4l0.9 1.4l9.3 -2.3l-0.9 -1.4z"/>
<path class="c25" d="M91.2 475.4l1 1.1l4.7 -0.7l-1 -1.2z"/>
<path class="c85" d="M66.5 454.8l0.9 1.4l9.3 -2.2l-0.9 -1.5z"/>
<path class="c15" d="M141.6 479.9l1.2 -0.2l3.1 -1.3l-1.2 0.3z"/>
<path class="c81" d="M67.4 456.2l0.9 1.4l9.3 -2.1l-0.9 -1.5z"/>
<path class="c51" d="M79.1 466.2l0.9 1.2l4.7 -0.8l-0.9 -1.3z"/>
<path class="c77" d="M68.3 457.6l0.9 1.5l9.3 -2.1l-0.9 -1.5z"/>
<path class="c19" d="M145.9 478.4l1.1 -0.2l3.1 -1.3l-1.1 0.3z"/>
<path class="c73" d="M69.2 459.1l0.9 1.4l9.2 -2l-0.8 -1.5z"/>
<path class="c48" d="M80 467.4l0.9 1.3l4.6 -0.8l-0.8 -1.3z"/>
<path class="c22" d="M92.2 476.5l1.1 1.2l4.6 -0.7l-1 -1.2z"/>
<path class="c10" d="M101.7 480.9l1.8 1.5l4.6 -0.8l-1.8 -1.5z"/>
<path class="c69" d="M70.1 460.5l0.8 1.4l9.3 -1.9l-0.9 -1.5z"/>
<path class="c65" d="M70.9 461.9l0.9 1.4l9.3 -1.8l-0.9 -1.5z"/>
<path class="c45" d="M80.9 468.7l0.9 1.3l4.6 -0.8l-0.9 -1.3z"/>
<path class="c42" d="M81.8 470l0.9 1.2l4.6 -0.7l-0.9 -1.3z"/>
<path class="c20" d="M93.3 477.7l1 1.2l4.6 -0.7l-1 -1.2z"/>
<path class="c4" d="M124.5 483.8l3.5 1.5l4.7 -2l-3.6 -1.4z"/>
<path class="c38" d="M82.7 471.2l0.9 1.3l4.6 -0.7l-0.9 -1.3z"/>
<path class="c17" d="M94.3 478.9l1 1.2l4.6 -0.7l-1 -1.2z"/>
<path class="c13" d="M138.5 481.1l1.2 -0.2l3.1 -1.2l-1.2 0.2z"/>
<path class="c35" d="M83.6 472.5l1.1 1.4l4.7 -0.7l-1.2 -1.4z"/>
<path class="c7" d="M103.5 482.4l1.7 1.5l4.7 -0.8l-1.8 -1.5z"/>
<path class="c18" d="M142.8 479.7l1.1 -0.2l3.1 -1.3l-1.1 0.2z"/>
<path class="c9" d="M132.7 483.3l1.4 -0.2l4.6 -2.1l-1.4 0.2z"/>
<path class="c22" d="M147 478.2l1.2 -0.2l3.1 -1.3l-1.2 0.2z"/>
<path class="c32" d="M84.7 473.9l1.2 1.3l4.7 -0.6l-1.2 -1.4z"/>
<path class="c14" d="M95.3 480.1l1.8 1.6l4.6 -0.8l-1.8 -1.5z"/>
<path class="c63" d="M71.8 463.3l0.9 1.2l4.7 -0.8l-0.9 -1.3z"/>
<path class="c59" d="M72.7 464.5l0.9 1.3l4.6 -0.9l-0.8 -1.2z"/>
<path class="c29" d="M85.9 475.2l1.2 1.4l4.6 -0.7l-1.1 -1.3z"/>
<path class="c125" d="M53 441.9l0.9 1.4l4.7 -1.8l-0.9 -1.5z"/>
<path class="c56" d="M73.6 465.8l0.9 1.2l4.6 -0.8l-0.9 -1.3z"/>
<path class="c121" d="M53.9 443.3l0.9 1.4l4.6 -1.7l-0.8 -1.5z"/>
<path class="c4" d="M105.2 483.9l1.8 1.5l4.6 -0.8l-1.7 -1.5z"/>
<path class="c117" d="M54.8 444.7l0.9 1.4l4.6 -1.6l-0.9 -1.5z"/>
<path class="c2" d="M111.6 484.6l7.1 3.1l9.3 -2.4l-7.1 -3.1z"/>
<path class="c53" d="M74.5 467l0.9 1.2l4.6 -0.8l-0.9 -1.2z"/>
<path class="c113" d="M55.7 446.1l0.9 1.4l4.6 -1.5l-0.9 -1.5z"/>
<path class="c16" d="M139.7 480.9l1.1 -0.1l3.1 -1.3l-1.1 0.2z"/>
<path class="c25" d="M87.1 476.6l1.2 1.4l4.6 -0.7l-1.2 -1.4z"/>
<path class="c109" d="M56.6 447.5l0.8 1.5l4.7 -1.5l-0.9 -1.5z"/>
<path class="c50" d="M75.4 468.2l0.9 1.3l4.6 -0.8l-0.9 -1.3z"/>
<path class="c105" d="M57.4 449l0.9 1.4l4.7 -1.4l-0.9 -1.5z"/>
<path class="c20" d="M143.9 479.5l1.2 -0.2l3.1 -1.3l-1.2 0.2z"/>
<path class="c11" d="M97.1 481.7l1.7 1.5l4.7 -0.8l-1.8 -1.5z"/>
<path class="c101" d="M58.3 450.4l0.9 1.4l4.7 -1.3l-0.9 -1.5z"/>
<path class="c47" d="M76.3 469.5l0.8 1.2l4.7 -0.7l-0.9 -1.3z"/>
<path class="c97" d="M59.2 451.8l0.9 1.4l4.6 -1.2l-0.8 -1.5z"/>
<path class="c25" d="M148.2 478l1.2 -0.2l3.1 -1.4l-1.2 0.3z"/>
<path class="c94" d="M60.1 453.2l0.9 1.4l4.6 -1.2l-0.9 -1.4z"/>
<path class="c12" d="M134.1 483.1l1.4 -0.2l4.6 -2l-1.4 0.1z"/>
<path class="c22" d="M88.3 478l1.2 1.3l4.6 -0.6l-1.2 -1.4z"/>
<path class="c6" d="M128 485.3l1.4 -0.2l4.7 -2l-1.4 0.2z"/>
<path class="c43" d="M77.1 470.7l0.9 1.2l4.7 -0.7l-0.9 -1.2z"/>
<path class="c90" d="M61 454.6l0.9 1.3l4.6 -1.1l-0.9 -1.4z"/>
<path class="c86" d="M61.9 455.9l0.9 1.4l4.6 -1.1l-0.9 -1.4z"/>
<path class="c40" d="M78 471.9l0.9 1.3l4.7 -0.7l-0.9 -1.3z"/>
<path class="c82" d="M62.8 457.3l0.8 1.3l4.7 -1l-0.9 -1.4z"/>
<path class="c19" d="M89.5 479.3l1.1 1.4l4.7 -0.6l-1.2 -1.4z"/>
<path class="c79" d="M63.6 458.6l0.9 1.4l4.7 -0.9l-0.9 -1.5z"/>
<path class="c37" d="M78.9 473.2l1.2 1.3l4.6 -0.6l-1.1 -1.4z"/>
<path class="c75" d="M64.5 460l0.9 1.4l4.7 -0.9l-0.9 -1.4z"/>
<path class="c9" d="M98.8 483.2l1.8 1.5l4.6 -0.8l-1.7 -1.5z"/>
<path class="c71" d="M65.4 461.4l0.9 1.3l4.6 -0.8l-0.8 -1.4z"/>
<path class="c19" d="M140.8 480.8l1.2 -0.1l3.1 -1.4l-1.2 0.2z"/>
<path class="c68" d="M66.3 462.7l0.9 1.4l4.6 -0.8l-0.9 -1.4z"/>
<path class="c123" d="M48.4 443.8l0.9 1.3l4.6 -1.8l-0.9 -1.4z"/>
<path class="c23" d="M145.1 479.3l1.2 -0.1l3.1 -1.4l-1.2 0.2z"/>
<path class="c119" d="M49.3 445.1l0.9 1.3l4.6 -1.7l-0.9 -1.4z"/>
<path class="c34" d="M80.1 474.5l1.2 1.4l4.6 -0.7l-1.2 -1.3z"/>
<path class="c64" d="M67.2 464.1l0.9 1.2l4.6 -0.8l-0.9 -1.2z"/>
<path class="c16" d="M90.6 480.7l1.8 1.5l4.7 -0.5l-1.8 -1.6z"/>
<path class="c116" d="M50.2 446.4l0.8 1.4l4.7 -1.7l-0.9 -1.4z"/>
<path class="c28" d="M149.4 477.8l1.2 -0.2l3.1 -1.4l-1.2 0.2z"/>
<path class="c61" d="M68.1 465.3l0.9 1.2l4.6 -0.7l-0.9 -1.3z"/>
<path class="c112" d="M51 447.8l0.9 1.3l4.7 -1.6l-0.9 -1.4z"/>
<path class="c108" d="M51.9 449.1l0.9 1.3l4.6 -1.4l-0.8 -1.5z"/>
<path class="c31" d="M81.3 475.9l1.1 1.3l4.7 -0.6l-1.2 -1.4z"/>
<path class="c15" d="M135.5 482.9l1.4 -0.1l4.7 -2.1l-1.5 0.2z"/>
<path class="c58" d="M69 466.5l0.8 1.2l4.7 -0.7l-0.9 -1.2z"/>
<path class="c9" d="M129.4 485.1l1.5 -0.1l4.6 -2.1l-1.4 0.2z"/>
<path class="c105" d="M52.8 450.4l0.9 1.4l4.6 -1.4l-0.9 -1.4z"/>
<path class="c6" d="M100.6 484.7l1.8 1.6l4.6 -0.9l-1.8 -1.5z"/>
<path class="c101" d="M53.7 451.8l0.9 1.3l4.6 -1.3l-0.9 -1.4z"/>
<path class="c55" d="M69.8 467.7l0.9 1.2l4.7 -0.7l-0.9 -1.2z"/>
<path class="c97" d="M54.6 453.1l0.9 1.3l4.6 -1.2l-0.9 -1.4z"/>
<path class="c28" d="M82.4 477.2l1.2 1.4l4.7 -0.6l-1.2 -1.4z"/>
<path class="c52" d="M70.7 468.9l0.9 1.2l4.7 -0.6l-0.9 -1.3z"/>
<path class="c94" d="M55.5 454.4l0.8 1.3l4.7 -1.1l-0.9 -1.4z"/>
<path class="c13" d="M92.4 482.2l1.8 1.6l4.6 -0.6l-1.7 -1.5z"/>
<path class="c21" d="M142 480.7l1.2 -0.1l3.1 -1.4l-1.2 0.1z"/>
<path class="c49" d="M71.6 470.1l0.9 1.2l4.6 -0.6l-0.8 -1.2z"/>
<path class="c90" d="M56.3 455.7l0.9 1.3l4.7 -1.1l-0.9 -1.3z"/>
<path class="c26" d="M146.3 479.2l1.2 -0.2l3.1 -1.4l-1.2 0.2z"/>
<path class="c87" d="M57.2 457l0.9 1.3l4.7 -1l-0.9 -1.4z"/>
<path class="c25" d="M83.6 478.6l1.2 1.3l4.7 -0.6l-1.2 -1.3z"/>
<path class="c46" d="M72.5 471.3l0.9 1.2l4.6 -0.6l-0.9 -1.2z"/>
<path class="c83" d="M58.1 458.3l0.9 1.3l4.6 -1l-0.8 -1.3z"/>
<path class="c43" d="M73.4 472.5l0.9 1.2l4.6 -0.5l-0.9 -1.3z"/>
<path class="c80" d="M59 459.6l0.9 1.4l4.6 -1l-0.9 -1.4z"/>
<path class="c4" d="M118.7 487.7l1.2 -0.2l9.3 -2.3l-1.2 0.1z"/>
<path class="c22" d="M84.8 479.9l1.2 1.4l4.6 -0.6l-1.1 -1.4z"/>
<path class="c76" d="M59.9 461l0.9 1.3l4.6 -0.9l-0.9 -1.4z"/>
<path class="c123" d="M43.7 444.4l0.9 1.3l4.7 -0.6l-0.9 -1.3z"/>
<path class="c39" d="M74.3 473.7l1.1 1.4l4.7 -0.6l-1.2 -1.3z"/>
<path class="c73" d="M60.8 462.3l0.9 1.3l4.6 -0.9l-0.9 -1.3z"/>
<path class="c11" d="M94.2 483.8l1.7 1.5l4.7 -0.6l-1.8 -1.5z"/>
<path class="c18" d="M136.9 482.8l1.4 -0.2l4.7 -2l-1.4 0.1z"/>
<path class="c12" d="M130.9 485l1.4 -0.2l4.6 -2l-1.4 0.1z"/>
<path class="c120" d="M44.6 445.7l0.9 1.3l4.6 -0.6l-0.8 -1.3z"/>
<path class="c69" d="M61.7 463.6l0.8 1.3l4.7 -0.8l-0.9 -1.4z"/>
<path class="c116" d="M45.5 447l0.9 1.3l4.6 -0.5l-0.9 -1.4z"/>
<path class="c24" d="M143.2 480.6l1.2 -0.2l3.1 -1.4l-1.2 0.2z"/>
<path class="c66" d="M62.5 464.9l0.9 1.1l4.7 -0.7l-0.9 -1.2z"/>
<path class="c36" d="M75.4 475.1l1.2 1.4l4.7 -0.6l-1.2 -1.4z"/>
<path class="c113" d="M46.4 448.3l0.9 1.3l4.6 -0.5l-0.9 -1.3z"/>
<path class="c19" d="M86 481.3l1.8 1.5l4.6 -0.6l-1.8 -1.5z"/>
<path class="c3" d="M102.4 486.3l7 4l9.3 -2.6l-7.1 -3.1z"/>
<path class="c63" d="M63.4 466l0.9 1.2l4.7 -0.7l-0.9 -1.2z"/>
<path class="c109" d="M47.3 449.6l0.9 1.4l4.6 -0.6l-0.9 -1.3z"/>
<path class="c106" d="M48.2 451l0.8 1.3l4.7 -0.5l-0.9 -1.4z"/>
<path class="c60" d="M64.3 467.2l0.9 1.2l4.6 -0.7l-0.8 -1.2z"/>
<path class="c33" d="M76.6 476.5l1.2 1.3l4.6 -0.6l-1.1 -1.3z"/>
<path class="c95" d="M52.4 454.7l0.8 1.3l3.1 -0.3l-0.8 -1.3z"/>
<path class="c102" d="M49 452.3l0.9 1.3l4.7 -0.5l-0.9 -1.3z"/>
<path class="c8" d="M95.9 485.3l1.8 1.6l4.7 -0.6l-1.8 -1.6z"/>
<path class="c91" d="M53.2 456l0.9 1.3l3.1 -0.3l-0.9 -1.3z"/>
<path class="c7" d="M119.9 487.5l1.2 -0.2l9.3 -2.3l-1.2 0.2z"/>
<path class="c57" d="M65.2 468.4l0.9 1.2l4.6 -0.7l-0.9 -1.2z"/>
<path class="c99" d="M49.9 453.6l0.9 1.3l4.7 -0.5l-0.9 -1.3z"/>
<path class="c88" d="M54.1 457.3l0.9 1.3l3.1 -0.3l-0.9 -1.3z"/>
<path class="c54" d="M66.1 469.6l0.9 1.2l4.6 -0.7l-0.9 -1.2z"/>
<path class="c30" d="M77.8 477.8l1.2 1.4l4.6 -0.6l-1.2 -1.4z"/>
<path class="c85" d="M55 458.6l0.9 1.3l3.1 -0.3l-0.9 -1.3z"/>
<path class="c16" d="M87.8 482.8l1.7 1.6l4.7 -0.6l-1.8 -1.6z"/>
<path class="c51" d="M67 470.8l0.9 1.2l4.6 -0.7l-0.9 -1.2z"/>
<path class="c21" d="M138.3 482.6l1.4 -0.2l4.7 -2l-1.4 0.2z"/>
<path class="c81" d="M55.9 459.9l0.9 1.3l3.1 -0.2l-0.9 -1.4z"/>
<path class="c15" d="M132.3 484.8l1.4 -0.2l4.6 -2l-1.4 0.2z"/>
<path class="c27" d="M79 479.2l1.2 1.3l4.6 -0.6l-1.2 -1.3z"/>
<path class="c78" d="M56.8 461.2l0.9 1.3l3.1 -0.2l-0.9 -1.3z"/>
<path class="c48" d="M67.9 472l0.8 1.1l4.7 -0.6l-0.9 -1.2z"/>
<path class="c75" d="M57.7 462.5l0.9 1.3l3.1 -0.2l-0.9 -1.3z"/>
<path class="c45" d="M68.7 473.1l0.9 1.2l4.7 -0.6l-0.9 -1.2z"/>
<path class="c71" d="M58.6 463.8l0.8 1.3l3.1 -0.2l-0.8 -1.3z"/>
<path class="c24" d="M80.2 480.5l1.1 1.4l4.7 -0.6l-1.2 -1.4z"/>
<path class="c126" d="M39.1 445l0.9 1.3l4.6 -0.6l-0.9 -1.3z"/>
<path class="c9" d="M121.1 487.3l1.2 -0.1l9.3 -2.3l-1.2 0.1z"/>
<path class="c68" d="M59.4 465.1l0.9 1.2l3.1 -0.3l-0.9 -1.1z"/>
<path class="c42" d="M69.6 474.3l1.2 1.4l4.6 -0.6l-1.1 -1.4z"/>
<path class="c13" d="M89.5 484.4l1.8 1.5l4.6 -0.6l-1.7 -1.5z"/>
<path class="c122" d="M40 446.3l0.9 1.3l4.6 -0.6l-0.9 -1.3z"/>
<path class="c97" d="M49.3 455.1l0.9 1.2l3 -0.3l-0.8 -1.3z"/>
<path class="c65" d="M60.3 466.3l0.9 1.1l3.1 -0.2l-0.9 -1.2z"/>
<path class="c6" d="M97.7 486.9l3.6 2.1l4.6 -0.7l-3.5 -2z"/>
<path class="c119" d="M40.9 447.6l0.8 1.3l4.7 -0.6l-0.9 -1.3z"/>
<path class="c94" d="M50.2 456.3l0.8 1.3l3.1 -0.3l-0.9 -1.3z"/>
<path class="c39" d="M70.8 475.7l1.2 1.3l4.6 -0.5l-1.2 -1.4z"/>
<path class="c62" d="M61.2 467.4l0.9 1.2l3.1 -0.2l-0.9 -1.2z"/>
<path class="c115" d="M41.7 448.9l0.9 1.3l4.7 -0.6l-0.9 -1.3z"/>
<path class="c90" d="M51 457.6l0.9 1.3l3.1 -0.3l-0.9 -1.3z"/>
<path class="c21" d="M81.3 481.9l1.8 1.6l4.7 -0.7l-1.8 -1.5z"/>
<path class="c24" d="M139.7 482.4l0.9 -0.5l4.7 -2l-0.9 0.5z"/>
<path class="c112" d="M42.6 450.2l0.9 1.3l4.7 -0.5l-0.9 -1.4z"/>
<path class="c87" d="M51.9 458.9l0.9 1.3l3.1 -0.3l-0.9 -1.3z"/>
<path class="c59" d="M62.1 468.6l0.9 1.2l3.1 -0.2l-0.9 -1.2z"/>
<path class="c18" d="M133.7 484.6l1.4 -0.2l4.6 -2l-1.4 0.2z"/>
<path class="c109" d="M43.5 451.5l0.9 1.3l4.6 -0.5l-0.8 -1.3z"/>
<path class="c84" d="M52.8 460.2l0.9 1.3l3.1 -0.3l-0.9 -1.3z"/>
<path class="c36" d="M72 477l1.2 1.4l4.6 -0.6l-1.2 -1.3z"/>
<path class="c56" d="M63 469.8l0.9 1.2l3.1 -0.2l-0.9 -1.2z"/>
<path class="c11" d="M91.3 485.9l1.8 1.5l4.6 -0.5l-1.8 -1.6z"/>
<path class="c105" d="M44.4 452.8l0.9 1.3l4.6 -0.5l-0.9 -1.3z"/>
<path class="c80" d="M53.7 461.5l0.9 1.2l3.1 -0.2l-0.9 -1.3z"/>
<path class="c102" d="M45.3 454.1l0.9 1.3l4.6 -0.5l-0.9 -1.3z"/>
<path class="c53" d="M63.9 471l0.9 1.1l3 -0.1l-0.8 -1.2z"/>
<path class="c12" d="M122.3 487.2l1.1 -0.2l9.3 -2.3l-1.1 0.2z"/>
<path class="c77" d="M54.6 462.7l0.9 1.3l3.1 -0.2l-0.9 -1.3z"/>
<path class="c33" d="M73.2 478.4l1.1 1.3l4.7 -0.5l-1.2 -1.4z"/>
<path class="c4" d="M109.4 490.3l1.2 -0.1l9.3 -2.7l-1.2 0.2z"/>
<path class="c74" d="M55.5 464l0.8 1.3l3.1 -0.2l-0.8 -1.3z"/>
<path class="c51" d="M64.8 472.1l0.8 1.2l3.1 -0.2l-0.9 -1.1z"/>
<path class="c18" d="M83.1 483.5l1.8 1.5l4.6 -0.6l-1.7 -1.6z"/>
<path class="c70" d="M56.3 465.3l0.9 1.2l3.1 -0.2l-0.9 -1.2z"/>
<path class="c48" d="M65.6 473.3l0.9 1.2l3.1 -0.2l-0.9 -1.2z"/>
<path class="c28" d="M140.6 481.9l0.9 -0.6l4.7 -1.9l-0.9 0.5z"/>
<path class="c99" d="M46.2 455.4l0.9 1.2l3.1 -0.3l-0.9 -1.2z"/>
<path class="c30" d="M74.3 479.7l1.2 1.4l4.7 -0.6l-1.2 -1.3z"/>
<path class="c128" d="M36.8 444.8l0.9 1.4l2.3 0.1l-0.9 -1.3z"/>
<path class="c67" d="M57.2 466.5l0.9 1.2l3.1 -0.3l-0.9 -1.1z"/>
<path class="c96" d="M47.1 456.6l0.8 1.3l3.1 -0.3l-0.8 -1.3z"/>
<path class="c125" d="M37.7 446.2l0.8 1.3l2.4 0.1l-0.9 -1.3z"/>
<path class="c45" d="M66.5 474.5l1.2 1.4l3.1 -0.2l-1.2 -1.4z"/>
<path class="c22" d="M135.1 484.4l0.9 -0.6l4.6 -1.9l-0.9 0.5z"/>
<path class="c65" d="M58.1 467.7l0.9 1.1l3.1 -0.2l-0.9 -1.2z"/>
<path class="c92" d="M47.9 457.9l0.9 1.3l3.1 -0.3l-0.9 -1.3z"/>
<path class="c122" d="M38.5 447.5l0.9 1.3l2.3 0.1l-0.8 -1.3z"/>
<path class="c27" d="M75.5 481.1l1.2 1.3l4.6 -0.5l-1.1 -1.4z"/>
<path class="c89" d="M48.8 459.2l0.9 1.2l3.1 -0.2l-0.9 -1.3z"/>
<path class="c16" d="M84.9 485l1.8 1.6l4.6 -0.7l-1.8 -1.5z"/>
<path class="c118" d="M39.4 448.8l0.9 1.3l2.3 0.1l-0.9 -1.3z"/>
<path class="c62" d="M59 468.8l0.9 1.2l3.1 -0.2l-0.9 -1.2z"/>
<path class="c42" d="M67.7 475.9l1.2 1.3l3.1 -0.2l-1.2 -1.3z"/>
<path class="c15" d="M123.4 487l1.2 -0.2l9.3 -2.2l-1.2 0.1z"/>
<path class="c86" d="M49.7 460.4l0.9 1.3l3.1 -0.2l-0.9 -1.3z"/>
<path class="c115" d="M40.3 450.1l0.9 1.3l2.3 0.1l-0.9 -1.3z"/>
<path class="c8" d="M93.1 487.4l3.5 2.3l4.7 -0.7l-3.6 -2.1z"/>
<path class="c59" d="M59.9 470l0.9 1.2l3.1 -0.2l-0.9 -1.2z"/>
<path class="c4" d="M101.3 489l3.5 2.2l4.6 -0.9l-3.5 -2z"/>
<path class="c7" d="M110.6 490.2l1.2 -0.1l9.3 -2.8l-1.2 0.2z"/>
<path class="c82" d="M50.6 461.7l0.9 1.3l3.1 -0.3l-0.9 -1.2z"/>
<path class="c111" d="M41.2 451.4l0.9 1.3l2.3 0.1l-0.9 -1.3z"/>
<path class="c56" d="M60.8 471.2l0.9 1.1l3.1 -0.2l-0.9 -1.1z"/>
<path class="c24" d="M76.7 482.4l1.8 1.7l4.6 -0.6l-1.8 -1.6z"/>
<path class="c32" d="M141.5 481.3l0.9 -0.5l4.6 -1.9l-0.8 0.5z"/>
<path class="c79" d="M51.5 463l0.9 1.3l3.1 -0.3l-0.9 -1.3z"/>
<path class="c108" d="M42.1 452.7l0.9 1.3l2.3 0.1l-0.9 -1.3z"/>
<path class="c38" d="M68.9 477.2l1.2 1.4l3.1 -0.2l-1.2 -1.4z"/>
<path class="c105" d="M43 454l0.8 1.3l2.4 0.1l-0.9 -1.3z"/>
<path class="c76" d="M52.4 464.3l0.8 1.2l3.1 -0.2l-0.8 -1.3z"/>
<path class="c53" d="M61.7 472.3l0.8 1.2l3.1 -0.2l-0.8 -1.2z"/>
<path class="c131" d="M34.4 444.7l0.9 1.3l2.4 0.2l-0.9 -1.4z"/>
<path class="c101" d="M43.8 455.3l0.9 1.2l2.4 0.1l-0.9 -1.2z"/>
<path class="c13" d="M86.7 486.6l1.7 1.6l4.7 -0.8l-1.8 -1.5z"/>
<path class="c73" d="M53.2 465.5l0.9 1.2l3.1 -0.2l-0.9 -1.2z"/>
<path class="c25" d="M136 483.8l0.9 -0.5l4.6 -2l-0.9 0.6z"/>
<path class="c35" d="M70.1 478.6l1.1 1.3l3.1 -0.2l-1.1 -1.3z"/>
<path class="c50" d="M62.5 473.5l0.9 1.2l3.1 -0.2l-0.9 -1.2z"/>
<path class="c128" d="M35.3 446l0.9 1.3l2.3 0.2l-0.8 -1.3z"/>
<path class="c98" d="M44.7 456.5l0.9 1.3l2.3 0.1l-0.8 -1.3z"/>
<path class="c70" d="M54.1 466.7l0.9 1.2l3.1 -0.2l-0.9 -1.2z"/>
<path class="c124" d="M36.2 447.3l0.9 1.3l2.3 0.2l-0.9 -1.3z"/>
<path class="c95" d="M45.6 457.8l0.9 1.3l2.3 0.1l-0.9 -1.3z"/>
<path class="c47" d="M63.4 474.7l1.2 1.3l3.1 -0.1l-1.2 -1.4z"/>
<path class="c21" d="M78.5 484.1l1.7 1.6l4.7 -0.7l-1.8 -1.5z"/>
<path class="c121" d="M37.1 448.6l0.9 1.3l2.3 0.2l-0.9 -1.3z"/>
<path class="c18" d="M124.6 486.8l1.2 -0.2l9.3 -2.2l-1.2 0.2z"/>
<path class="c32" d="M71.2 479.9l1.2 1.4l3.1 -0.2l-1.2 -1.4z"/>
<path class="c67" d="M55 467.9l0.9 1.1l3.1 -0.2l-0.9 -1.1z"/>
<path class="c91" d="M46.5 459.1l0.9 1.3l2.3 0l-0.9 -1.2z"/>
<path class="c9" d="M111.8 490.1l1.2 0l9.3 -2.9l-1.2 0.1z"/>
<path class="c118" d="M38 449.9l0.9 1.3l2.3 0.2l-0.9 -1.3z"/>
<path class="c88" d="M47.4 460.4l0.9 1.3l2.3 0l-0.9 -1.3z"/>
<path class="c64" d="M55.9 469l0.9 1.2l3.1 -0.2l-0.9 -1.2z"/>
<path class="c35" d="M142.4 480.8l0.9 -0.6l4.6 -1.9l-0.9 0.6z"/>
<path class="c114" d="M38.9 451.2l0.9 1.3l2.3 0.2l-0.9 -1.3z"/>
<path class="c44" d="M64.6 476l1.2 1.4l3.1 -0.2l-1.2 -1.3z"/>
<path class="c85" d="M48.3 461.7l0.9 1.3l2.3 0l-0.9 -1.3z"/>
<path class="c29" d="M72.4 481.3l1.2 1.3l3.1 -0.2l-1.2 -1.3z"/>
<path class="c111" d="M39.8 452.5l0.8 1.4l2.4 0.1l-0.9 -1.3z"/>
<path class="c61" d="M56.8 470.2l0.9 1.2l3.1 -0.2l-0.9 -1.2z"/>
<path class="c81" d="M49.2 463l0.8 1.2l2.4 0.1l-0.9 -1.3z"/>
<path class="c107" d="M40.6 453.9l0.9 1.3l2.3 0.1l-0.8 -1.3z"/>
<path class="c29" d="M136.9 483.3l0.9 -0.6l4.6 -1.9l-0.9 0.5z"/>
<path class="c58" d="M57.7 471.4l0.9 1.1l3.1 -0.2l-0.9 -1.1z"/>
<path class="c78" d="M50 464.2l0.9 1.3l2.3 0l-0.8 -1.2z"/>
<path class="c41" d="M65.8 477.4l1.2 1.3l3.1 -0.1l-1.2 -1.4z"/>
<path class="c18" d="M80.2 485.7l1.8 1.7l4.7 -0.8l-1.8 -1.6z"/>
<path class="c104" d="M41.5 455.2l0.9 1.3l2.3 0l-0.9 -1.2z"/>
<path class="c134" d="M32.1 444.6l0.9 1.3l2.3 0.1l-0.9 -1.3z"/>
<path class="c55" d="M58.6 472.5l0.8 1.2l3.1 -0.2l-0.8 -1.2z"/>
<path class="c131" d="M33 445.9l0.9 1.3l2.3 0.1l-0.9 -1.3z"/>
<path class="c101" d="M42.4 456.5l0.9 1.2l2.3 0.1l-0.9 -1.3z"/>
<path class="c26" d="M73.6 482.6l1.8 1.6l3.1 -0.1l-1.8 -1.7z"/>
<path class="c6" d="M96.6 489.7l3.5 2.4l4.7 -0.9l-3.5 -2.2z"/>
<path class="c127" d="M33.9 447.2l0.9 1.3l2.3 0.1l-0.9 -1.3z"/>
<path class="c21" d="M125.8 486.6l0.9 -0.5l9.3 -2.3l-0.9 0.6z"/>
<path class="c97" d="M43.3 457.7l0.9 1.3l2.3 0.1l-0.9 -1.3z"/>
<path class="c76" d="M50.2 465.5l0.8 1.2l3.1 0l-0.9 -1.2z"/>
<path class="c38" d="M67 478.7l1.1 1.4l3.1 -0.2l-1.1 -1.3z"/>
<path class="c52" d="M59.4 473.7l0.9 1.2l3.1 -0.2l-0.9 -1.2z"/>
<path class="c124" d="M34.8 448.5l0.9 1.3l2.3 0.1l-0.9 -1.3z"/>
<path class="c12" d="M113 490.1l1.2 -0.1l9.2 -3l-1.1 0.2z"/>
<path class="c94" d="M44.2 459l0.9 1.3l2.3 0.1l-0.9 -1.3z"/>
<path class="c39" d="M143.3 480.2l0.9 -0.5l4.6 -1.9l-0.9 0.5z"/>
<path class="c73" d="M51 466.7l0.9 1.2l3.1 0l-0.9 -1.2z"/>
<path class="c120" d="M35.7 449.8l0.8 1.3l2.4 0.1l-0.9 -1.3z"/>
<path class="c91" d="M45.1 460.3l0.8 1.3l2.4 0.1l-0.9 -1.3z"/>
<path class="c50" d="M60.3 474.9l1.2 1.3l3.1 -0.2l-1.2 -1.3z"/>
<path class="c35" d="M68.1 480.1l1.2 1.3l3.1 -0.1l-1.2 -1.4z"/>
<path class="c117" d="M36.5 451.1l0.9 1.3l2.4 0.1l-0.9 -1.3z"/>
<path class="c15" d="M82 487.4l1.8 1.7l4.6 -0.9l-1.7 -1.6z"/>
<path class="c70" d="M51.9 467.9l0.9 1.1l3.1 0l-0.9 -1.1z"/>
<path class="c87" d="M45.9 461.6l0.9 1.3l2.4 0.1l-0.9 -1.3z"/>
<path class="c11" d="M83.8 489.1l2.3 1.7l9.3 -1.8l-2.3 -1.6z"/>
<path class="c5" d="M100.1 492.1l1.5 0l9.3 -1.9l-1.5 0.1z"/>
<path class="c114" d="M37.4 452.4l0.9 1.3l2.3 0.2l-0.8 -1.4z"/>
<path class="c33" d="M137.8 482.7l0.8 -0.6l4.7 -1.9l-0.9 0.6z"/>
<path class="c84" d="M46.8 462.9l0.9 1.3l2.3 0l-0.8 -1.2z"/>
<path class="c23" d="M75.4 484.2l1.7 1.7l3.1 -0.2l-1.7 -1.6z"/>
<path class="c67" d="M52.8 469l0.9 1.2l3.1 0l-0.9 -1.2z"/>
<path class="c46" d="M61.5 476.2l1.2 1.4l3.1 -0.2l-1.2 -1.4z"/>
<path class="c110" d="M38.3 453.7l0.9 1.4l2.3 0.1l-0.9 -1.3z"/>
<path class="c32" d="M69.3 481.4l1.2 1.4l3.1 -0.2l-1.2 -1.3z"/>
<path class="c81" d="M47.7 464.2l0.9 1.3l2.3 0l-0.9 -1.3z"/>
<path class="c64" d="M53.7 470.2l0.9 1.2l3.1 0l-0.9 -1.2z"/>
<path class="c107" d="M39.2 455.1l0.9 1.3l2.3 0.1l-0.9 -1.3z"/>
<path class="c137" d="M29.8 444.4l0.9 1.4l2.3 0.1l-0.9 -1.3z"/>
<path class="c24" d="M126.7 486.1l0.9 -0.6l9.3 -2.2l-0.9 0.5z"/>
<path class="c103" d="M40.1 456.4l0.9 1.3l2.3 0l-0.9 -1.2z"/>
<path class="c134" d="M30.7 445.8l0.9 1.3l2.3 0.1l-0.9 -1.3z"/>
<path class="c61" d="M54.6 471.4l0.9 1.1l3.1 0l-0.9 -1.1z"/>
<path class="c43" d="M62.7 477.6l1.2 1.3l3.1 -0.2l-1.2 -1.3z"/>
<path class="c100" d="M41 457.7l0.9 1.3l2.3 0l-0.9 -1.3z"/>
<path class="c130" d="M31.6 447.1l0.9 1.3l2.3 0.1l-0.9 -1.3z"/>
<path class="c42" d="M144.2 479.7l0.9 -0.6l4.6 -1.8l-0.9 0.5z"/>
<path class="c14" d="M114.2 490l1.1 -0.1l9.3 -3.1l-1.2 0.2z"/>
<path class="c58" d="M55.5 472.5l0.8 1.2l3.1 0l-0.8 -1.2z"/>
<path class="c97" d="M41.9 459l0.8 1.3l2.4 0l-0.9 -1.3z"/>
<path class="c127" d="M32.5 448.4l0.8 1.3l2.4 0.1l-0.9 -1.3z"/>
<path class="c29" d="M70.5 482.8l1.8 1.6l3.1 -0.2l-1.8 -1.6z"/>
<path class="c20" d="M77.1 485.9l1.8 1.6l3.1 -0.1l-1.8 -1.7z"/>
<path class="c40" d="M63.9 478.9l1.1 1.4l3.1 -0.2l-1.1 -1.4z"/>
<path class="c123" d="M33.3 449.7l0.9 1.3l2.3 0.1l-0.8 -1.3z"/>
<path class="c93" d="M42.7 460.3l0.9 1.3l2.3 0l-0.8 -1.3z"/>
<path class="c55" d="M56.3 473.7l0.9 1.2l3.1 0l-0.9 -1.2z"/>
<path class="c79" d="M47.1 465.5l0.8 1.2l3.1 0l-0.8 -1.2z"/>
<path class="c37" d="M138.6 482.1l0.9 -0.6l4.7 -1.8l-0.9 0.5z"/>
<path class="c120" d="M34.2 451l0.9 1.3l2.3 0.1l-0.9 -1.3z"/>
<path class="c90" d="M43.6 461.6l0.9 1.3l2.3 0l-0.9 -1.3z"/>
<path class="c9" d="M86.1 490.8l2.4 1.7l9.3 -2l-2.4 -1.5z"/>
<path class="c76" d="M47.9 466.7l0.9 1.2l3.1 0l-0.9 -1.2z"/>
<path class="c116" d="M35.1 452.3l0.9 1.3l2.3 0.1l-0.9 -1.3z"/>
<path class="c86" d="M44.5 462.9l0.9 1.3l2.3 0l-0.9 -1.3z"/>
<path class="c52" d="M57.2 474.9l1.2 1.3l3.1 0l-1.2 -1.3z"/>
<path class="c8" d="M101.6 492.1l1.4 0l9.3 -2l-1.4 0.1z"/>
<path class="c37" d="M65 480.3l1.2 1.3l3.1 -0.2l-1.2 -1.3z"/>
<path class="c113" d="M36 453.6l0.9 1.4l2.3 0.1l-0.9 -1.4z"/>
<path class="c83" d="M45.4 464.2l0.9 1.3l2.3 0l-0.9 -1.3z"/>
<path class="c73" d="M48.8 467.9l0.9 1.1l3.1 0l-0.9 -1.1z"/>
<path class="c28" d="M127.6 485.5l0.9 -0.5l9.3 -2.3l-0.9 0.6z"/>
<path class="c109" d="M36.9 455l0.9 1.3l2.3 0.1l-0.9 -1.3z"/>
<path class="c26" d="M72.3 484.4l1.7 1.6l3.1 -0.1l-1.7 -1.7z"/>
<path class="c17" d="M78.9 487.5l1.8 1.7l3.1 -0.1l-1.8 -1.7z"/>
<path class="c70" d="M49.7 469l0.9 1.2l3.1 0l-0.9 -1.2z"/>
<path class="c49" d="M58.4 476.2l1.2 1.4l3.1 0l-1.2 -1.4z"/>
<path class="c46" d="M145.1 479.1l0.8 -0.6l4.7 -1.7l-0.9 0.5z"/>
<path class="c106" d="M37.8 456.3l0.8 1.3l2.4 0.1l-0.9 -1.3z"/>
<path class="c34" d="M66.2 481.6l1.2 1.3l3.1 -0.1l-1.2 -1.4z"/>
<path class="c17" d="M115.3 489.9l1.2 -0.1l9.3 -3.2l-1.2 0.2z"/>
<path class="c103" d="M38.6 457.6l0.9 1.3l2.4 0.1l-0.9 -1.3z"/>
<path class="c67" d="M50.6 470.2l0.9 1.2l3.1 0l-0.9 -1.2z"/>
<path class="c99" d="M39.5 458.9l0.9 1.3l2.3 0.1l-0.8 -1.3z"/>
<path class="c46" d="M59.6 477.6l1.2 1.3l3.1 0l-1.2 -1.3z"/>
<path class="c64" d="M51.5 471.4l0.9 1.2l3.1 -0.1l-0.9 -1.1z"/>
<path class="c40" d="M139.5 481.5l0.9 -0.6l4.7 -1.8l-0.9 0.6z"/>
<path class="c96" d="M40.4 460.2l0.9 1.3l2.3 0.1l-0.9 -1.3z"/>
<path class="c31" d="M67.4 482.9l1.8 1.7l3.1 -0.2l-1.8 -1.6z"/>
<path class="c92" d="M41.3 461.5l0.9 1.3l2.3 0.1l-0.9 -1.3z"/>
<path class="c61" d="M52.4 472.6l0.9 1.1l3 0l-0.8 -1.2z"/>
<path class="c23" d="M74 486l1.8 1.7l3.1 -0.2l-1.8 -1.6z"/>
<path class="c89" d="M42.2 462.8l0.9 1.4l2.3 0l-0.9 -1.3z"/>
<path class="c43" d="M60.8 478.9l1.2 1.4l3 0l-1.1 -1.4z"/>
<path class="c7" d="M88.5 492.5l2.4 1.8l9.2 -2.2l-2.3 -1.6z"/>
<path class="c58" d="M53.3 473.7l0.8 1.2l3.1 0l-0.9 -1.2z"/>
<path class="c10" d="M103 492.1l1.4 0l9.3 -2.1l-1.4 0.1z"/>
<path class="c32" d="M128.5 485l0.9 -0.6l9.2 -2.3l-0.8 0.6z"/>
<path class="c82" d="M44 465.5l0.8 1.2l3.1 0l-0.8 -1.2z"/>
<path class="c86" d="M43.1 464.2l0.9 1.3l2.3 0l-0.9 -1.3z"/>
<path class="c14" d="M80.7 489.2l2.3 1.7l3.1 -0.1l-2.3 -1.7z"/>
<path class="c50" d="M145.9 478.5l0.9 -0.5l4.7 -1.7l-0.9 0.5z"/>
<path class="c79" d="M44.8 466.7l0.9 1.1l3.1 0.1l-0.9 -1.2z"/>
<path class="c55" d="M54.1 474.9l1.2 1.3l3.1 0l-1.2 -1.3z"/>
<path class="c20" d="M116.5 489.8l0.9 -0.6l9.3 -3.1l-0.9 0.5z"/>
<path class="c40" d="M62 480.3l1.1 1.3l3.1 0l-1.2 -1.3z"/>
<path class="c76" d="M45.7 467.8l0.9 1.2l3.1 0l-0.9 -1.1z"/>
<path class="c28" d="M69.2 484.6l1.7 1.6l3.1 -0.2l-1.7 -1.6z"/>
<path class="c19" d="M75.8 487.7l1.8 1.6l3.1 -0.1l-1.8 -1.7z"/>
<path class="c44" d="M140.4 480.9l0.9 -0.6l4.6 -1.8l-0.8 0.6z"/>
<path class="c52" d="M55.3 476.2l1.2 1.4l3.1 0l-1.2 -1.4z"/>
<path class="c73" d="M46.6 469l0.9 1.2l3.1 0l-0.9 -1.2z"/>
<path class="c37" d="M63.1 481.6l1.2 1.3l3.1 0l-1.2 -1.3z"/>
<path class="c70" d="M47.5 470.2l0.9 1.2l3.1 0l-0.9 -1.2z"/>
<path class="c36" d="M129.4 484.4l0.8 -0.6l9.3 -2.3l-0.9 0.6z"/>
<path class="c49" d="M56.5 477.6l1.2 1.3l3.1 0l-1.2 -1.3z"/>
<path class="c34" d="M65.1 482.9l1.8 1.6l2.3 0.1l-1.8 -1.7z"/>
<path class="c67" d="M48.4 471.4l0.9 1.2l3.1 0l-0.9 -1.2z"/>
<path class="c13" d="M104.4 492.1l1.4 0.1l9.3 -2.3l-1.4 0.1z"/>
<path class="c25" d="M70.9 486.2l1.8 1.6l3.1 -0.1l-1.8 -1.7z"/>
<path class="c64" d="M49.3 472.6l0.9 1.2l3.1 -0.1l-0.9 -1.1z"/>
<path class="c12" d="M83 490.9l2.4 1.7l3.1 -0.1l-2.4 -1.7z"/>
<path class="c24" d="M117.4 489.2l0.9 -0.6l9.3 -3.1l-0.9 0.6z"/>
<path class="c7" d="M90.9 494.3l1.7 0.1l9.3 -2.3l-1.8 0z"/>
<path class="c46" d="M57.7 478.9l1.2 1.3l3.1 0.1l-1.2 -1.4z"/>
<path class="c61" d="M50.2 473.8l0.8 1.1l3.1 0l-0.8 -1.2z"/>
<path class="c17" d="M77.6 489.3l2.3 1.7l3.1 -0.1l-2.3 -1.7z"/>
<path class="c48" d="M141.3 480.3l0.9 -0.6l4.6 -1.7l-0.9 0.5z"/>
<path class="c59" d="M51 474.9l1.2 1.4l3.1 -0.1l-1.2 -1.3z"/>
<path class="c43" d="M58.9 480.2l1.1 1.4l3.1 0l-1.1 -1.3z"/>
<path class="c31" d="M66.9 484.5l1.7 1.6l2.3 0.1l-1.7 -1.6z"/>
<path class="c22" d="M72.7 487.8l1.8 1.6l3.1 -0.1l-1.8 -1.6z"/>
<path class="c39" d="M130.2 483.8l0.9 -0.5l9.3 -2.4l-0.9 0.6z"/>
<path class="c56" d="M52.2 476.3l1.2 1.3l3.1 0l-1.2 -1.4z"/>
<path class="c40" d="M60 481.6l1.2 1.3l3.1 0l-1.2 -1.3z"/>
<path class="c36" d="M62.8 482.9l1.7 1.6l2.4 0l-1.8 -1.6z"/>
<path class="c28" d="M118.3 488.6l0.9 -0.6l9.3 -3l-0.9 0.5z"/>
<path class="c16" d="M105.8 492.2l1.4 0l9.3 -2.4l-1.4 0.1z"/>
<path class="c9" d="M85.4 492.6l2.4 1.7l3.1 0l-2.4 -1.8z"/>
<path class="c53" d="M53.4 477.6l1.2 1.3l3.1 0l-1.2 -1.3z"/>
<path class="c28" d="M68.6 486.1l1.8 1.6l2.3 0.1l-1.8 -1.6z"/>
<path class="c14" d="M79.9 491l2.4 1.6l3.1 0l-2.4 -1.7z"/>
<path class="c10" d="M92.6 494.4l1.8 0.1l9.3 -2.4l-1.8 0z"/>
<path class="c50" d="M54.6 478.9l1.2 1.3l3.1 0l-1.2 -1.3z"/>
<path class="c33" d="M64.5 484.5l1.8 1.6l2.3 0l-1.7 -1.6z"/>
<path class="c19" d="M74.5 489.4l2.3 1.7l3.1 -0.1l-2.3 -1.7z"/>
<path class="c43" d="M131.1 483.3l0.9 -0.6l9.3 -2.4l-0.9 0.6z"/>
<path class="c25" d="M70.4 487.7l1.8 1.6l2.3 0.1l-1.8 -1.6z"/>
<path class="c47" d="M55.8 480.2l1.1 1.4l3.1 0l-1.1 -1.4z"/>
<path class="c31" d="M119.2 488l0.9 -0.7l9.3 -2.9l-0.9 0.6z"/>
<path class="c39" d="M60.4 482.9l1.8 1.6l2.3 0l-1.7 -1.6z"/>
<path class="c19" d="M107.2 492.2l0.9 -0.6l9.3 -2.4l-0.9 0.6z"/>
<path class="c44" d="M56.9 481.6l1.2 1.3l3.1 0l-1.2 -1.3z"/>
<path class="c30" d="M66.3 486.1l1.8 1.6l2.3 0l-1.8 -1.6z"/>
<path class="c9" d="M87.8 494.3l1.7 0.2l3.1 -0.1l-1.7 -0.1z"/>
<path class="c12" d="M82.3 492.6l2.4 1.7l3.1 0l-2.4 -1.7z"/>
<path class="c47" d="M132 482.7l0.9 -0.6l9.3 -2.4l-0.9 0.6z"/>
<path class="c36" d="M62.2 484.5l1.8 1.5l2.3 0.1l-1.8 -1.6z"/>
<path class="c13" d="M94.4 494.5l1.8 0.1l9.3 -2.4l-1.8 -0.1z"/>
<path class="c17" d="M76.8 491.1l2.4 1.6l3.1 -0.1l-2.4 -1.6z"/>
<path class="c35" d="M120.1 487.3l0.8 -0.6l9.3 -2.9l-0.8 0.6z"/>
<path class="c41" d="M58.1 482.9l1.8 1.5l2.3 0.1l-1.8 -1.6z"/>
<path class="c27" d="M68.1 487.7l1.7 1.5l2.4 0.1l-1.8 -1.6z"/>
<path class="c23" d="M108.1 491.6l0.9 -0.6l9.3 -2.4l-0.9 0.6z"/>
<path class="c22" d="M72.2 489.3l3.5 2.4l2.3 0.2l-3.5 -2.5z"/>
<path class="c33" d="M64 486l1.8 1.6l2.3 0.1l-1.8 -1.6z"/>
<path class="c51" d="M132.9 482.1l0.9 -0.8l9.3 -2.4l-0.9 0.8z"/>
<path class="c12" d="M89.5 494.5l1.8 0.2l3.1 -0.2l-1.8 -0.1z"/>
<path class="c38" d="M59.9 484.4l1.8 1.6l2.3 0l-1.8 -1.5z"/>
<path class="c12" d="M84.7 494.3l1.7 0.2l3.1 0l-1.7 -0.2z"/>
<path class="c39" d="M120.9 486.7l0.9 -0.6l9.3 -2.8l-0.9 0.5z"/>
<path class="c15" d="M79.2 492.7l2.4 1.6l3.1 0l-2.4 -1.7z"/>
<path class="c27" d="M109 491l0.9 -0.5l9.3 -2.5l-0.9 0.6z"/>
<path class="c30" d="M65.8 487.6l1.7 1.5l2.3 0.1l-1.7 -1.5z"/>
<path class="c16" d="M96.2 494.6l1.7 0.2l9.3 -2.6l-1.7 0z"/>
<path class="c25" d="M69.8 489.2l3.6 2.4l2.3 0.1l-3.5 -2.4z"/>
<path class="c36" d="M61.7 486l1.7 1.5l2.4 0.1l-1.8 -1.6z"/>
<path class="c56" d="M133.8 481.3l0.9 -0.9l9.3 -2.4l-0.9 0.9z"/>
<path class="c43" d="M121.8 486.1l0.9 -0.6l9.3 -2.8l-0.9 0.6z"/>
<path class="c19" d="M75.7 491.7l3.5 2.4l2.4 0.2l-3.6 -2.4z"/>
<path class="c30" d="M109.9 490.5l0.9 -0.6l9.3 -2.6l-0.9 0.7z"/>
<path class="c14" d="M91.3 494.7l1.8 0.2l3.1 -0.3l-1.8 -0.1z"/>
<path class="c15" d="M86.4 494.5l1.8 0.3l3.1 -0.1l-1.8 -0.2z"/>
<path class="c15" d="M81.6 494.3l1.7 0.3l3.1 -0.1l-1.7 -0.2z"/>
<path class="c33" d="M63.4 487.5l1.8 1.5l2.3 0.1l-1.7 -1.5z"/>
<path class="c19" d="M97.9 494.8l0.9 -0.7l9.3 -2.5l-0.9 0.6z"/>
<path class="c27" d="M67.5 489.1l3.6 2.4l2.3 0.1l-3.6 -2.4z"/>
<path class="c47" d="M122.7 485.5l0.9 -0.6l9.3 -2.8l-0.9 0.6z"/>
<path class="c61" d="M134.7 480.4l0.8 -0.9l9.3 -2.4l-0.8 0.9z"/>
<path class="c34" d="M110.8 489.9l0.9 -0.6l9.2 -2.6l-0.8 0.6z"/>
<path class="c22" d="M73.4 491.6l3.5 2.4l2.3 0.1l-3.5 -2.4z"/>
<path class="c23" d="M98.8 494.1l0.9 -0.6l9.3 -2.5l-0.9 0.6z"/>
<path class="c17" d="M93.1 494.9l1.7 0.1l3.1 -0.2l-1.7 -0.2z"/>
<path class="c17" d="M88.2 494.8l1.8 0.3l3.1 -0.2l-1.8 -0.2z"/>
<path class="c17" d="M83.3 494.6l1.8 0.3l3.1 -0.1l-1.8 -0.3z"/>
<path class="c30" d="M65.2 489l3.5 2.3l2.4 0.2l-3.6 -2.4z"/>
<path class="c19" d="M79.2 494.1l2.4 0.5l2.3 0.1l-2.3 -0.4z"/>
<path class="c51" d="M123.6 484.9l0.9 -0.9l9.3 -2.7l-0.9 0.8z"/>
<path class="c66" d="M135.5 479.5l0.9 -0.9l9.3 -2.3l-0.9 0.8z"/>
<path class="c38" d="M111.7 489.3l0.8 -0.6l9.3 -2.6l-0.9 0.6z"/>
<path class="c25" d="M71.1 491.5l3.5 2.3l2.3 0.2l-3.5 -2.4z"/>
<path class="c27" d="M99.7 493.5l0.9 -0.6l9.3 -2.4l-0.9 0.5z"/>
<path class="c19" d="M90 495.1l1.7 0.2l3.1 -0.3l-1.7 -0.1z"/>
<path class="c19" d="M85.1 494.9l1.8 0.4l3.1 -0.2l-1.8 -0.3z"/>
<path class="c21" d="M76.9 494l2.4 0.5l2.3 0.1l-2.4 -0.5z"/>
<path class="c21" d="M93.3 495.2l0.9 -0.6l4.6 -0.5l-0.9 0.7z"/>
<path class="c56" d="M124.5 484l0.9 -0.9l9.3 -2.7l-0.9 0.9z"/>
<path class="c42" d="M112.5 488.7l0.9 -0.5l9.3 -2.7l-0.9 0.6z"/>
<path class="c71" d="M136.4 478.6l0.9 -0.9l9.3 -2.3l-0.9 0.9z"/>
<path class="c31" d="M100.6 492.9l0.9 -0.7l9.3 -2.3l-0.9 0.6z"/>
<path class="c28" d="M68.7 491.3l3.6 2.4l2.3 0.1l-3.5 -2.3z"/>
<path class="c21" d="M81.6 494.6l2.4 0.5l2.3 0.1l-2.4 -0.5z"/>
<path class="c25" d="M94.2 494.6l0.9 -0.7l4.6 -0.4l-0.9 0.6z"/>
<path class="c46" d="M113.4 488.2l0.9 -0.6l9.3 -2.7l-0.9 0.6z"/>
<path class="c24" d="M74.6 493.8l2.4 0.6l2.3 0.1l-2.4 -0.5z"/>
<path class="c61" d="M125.4 483.1l0.9 -0.8l9.2 -2.8l-0.8 0.9z"/>
<path class="c21" d="M86.9 495.3l1.7 0.3l3.1 -0.3l-1.7 -0.2z"/>
<path class="c76" d="M137.3 477.7l0.9 -0.8l9.3 -2.4l-0.9 0.9z"/>
<path class="c35" d="M101.5 492.2l0.9 -0.6l9.3 -2.3l-0.9 0.6z"/>
<path class="c24" d="M79.3 494.5l2.3 0.5l2.4 0.1l-2.4 -0.5z"/>
<path class="c24" d="M88.6 495.6l0.9 -0.6l4.7 -0.4l-0.9 0.6z"/>
<path class="c28" d="M95.1 493.9l0.8 -0.6l4.7 -0.4l-0.9 0.6z"/>
<path class="c50" d="M114.3 487.6l0.9 -0.9l9.3 -2.7l-0.9 0.9z"/>
<path class="c23" d="M84 495.1l2.3 0.4l2.3 0.1l-2.3 -0.4z"/>
<path class="c27" d="M72.3 493.7l2.3 0.5l2.4 0.2l-2.4 -0.6z"/>
<path class="c66" d="M126.3 482.3l0.8 -0.9l9.3 -2.8l-0.9 0.9z"/>
<path class="c81" d="M138.2 476.9l0.9 -0.9l9.3 -2.3l-0.9 0.8z"/>
<path class="c38" d="M102.4 491.6l0.9 -0.6l9.2 -2.3l-0.8 0.6z"/>
<path class="c27" d="M77 494.4l2.3 0.5l2.3 0.1l-2.3 -0.5z"/>
<path class="c28" d="M89.5 495l0.9 -0.7l4.7 -0.4l-0.9 0.7z"/>
<path class="c32" d="M95.9 493.3l0.9 -0.6l4.7 -0.5l-0.9 0.7z"/>
<path class="c55" d="M115.2 486.7l0.9 -0.9l9.3 -2.7l-0.9 0.9z"/>
<path class="c42" d="M103.3 491l0.8 -0.6l9.3 -2.2l-0.9 0.5z"/>
<path class="c26" d="M81.6 495l2.4 0.5l2.3 0l-2.3 -0.4z"/>
<path class="c71" d="M127.1 481.4l0.9 -0.9l9.3 -2.8l-0.9 0.9z"/>
<path class="c85" d="M139.1 476l0.9 -0.9l9.3 -2.3l-0.9 0.9z"/>
<path class="c27" d="M86.3 495.5l0.9 -0.6l2.3 0.1l-0.9 0.6z"/>
<path class="c29" d="M74.6 494.2l2.4 0.6l2.3 0.1l-2.3 -0.5z"/>
<path class="c32" d="M90.4 494.3l0.9 -0.6l4.6 -0.4l-0.8 0.6z"/>
<path class="c36" d="M96.8 492.7l0.9 -0.7l4.7 -0.4l-0.9 0.6z"/>
<path class="c60" d="M116.1 485.8l0.9 -0.8l9.3 -2.7l-0.9 0.8z"/>
<path class="c46" d="M104.1 490.4l0.9 -0.7l9.3 -2.1l-0.9 0.6z"/>
<path class="c75" d="M128 480.5l0.9 -0.9l9.3 -2.7l-0.9 0.8z"/>
<path class="c29" d="M79.3 494.9l2.4 0.5l2.3 0.1l-2.4 -0.5z"/>
<path class="c31" d="M87.2 494.9l0.9 -0.6l2.3 0l-0.9 0.7z"/>
<path class="c29" d="M84 495.5l0.9 -0.6l2.3 0l-0.9 0.6z"/>
<path class="c36" d="M91.3 493.7l0.9 -0.6l4.6 -0.4l-0.9 0.6z"/>
<path class="c40" d="M97.7 492l0.9 -0.6l4.6 -0.4l-0.8 0.6z"/>
<path class="c50" d="M105 489.7l0.9 -0.9l9.3 -2.1l-0.9 0.9z"/>
<path class="c65" d="M117 485l0.8 -0.9l9.3 -2.7l-0.8 0.9z"/>
<path class="c34" d="M88.1 494.3l0.9 -0.6l2.3 0l-0.9 0.6z"/>
<path class="c80" d="M128.9 479.6l0.9 -0.8l9.3 -2.8l-0.9 0.9z"/>
<path class="c31" d="M77 494.8l2.4 0.6l2.3 0l-2.4 -0.5z"/>
<path class="c33" d="M84.9 494.9l0.9 -0.6l2.3 0l-0.9 0.6z"/>
<path class="c32" d="M81.7 495.4l0.9 -0.6l2.3 0.1l-0.9 0.6z"/>
<path class="c40" d="M92.2 493.1l0.9 -0.6l4.6 -0.5l-0.9 0.7z"/>
<path class="c44" d="M98.6 491.4l0.9 -0.6l4.6 -0.4l-0.9 0.6z"/>
<path class="c55" d="M105.9 488.8l0.9 -0.9l9.3 -2.1l-0.9 0.9z"/>
<path class="c70" d="M117.8 484.1l0.9 -0.9l9.3 -2.7l-0.9 0.9z"/>
<path class="c38" d="M89 493.7l0.9 -0.6l2.3 0l-0.9 0.6z"/>
<path class="c37" d="M85.8 494.3l0.9 -0.6l2.3 0l-0.9 0.6z"/>
<path class="c85" d="M129.8 478.8l0.9 -0.9l9.3 -2.8l-0.9 0.9z"/>
<path class="c36" d="M82.6 494.8l0.9 -0.6l2.3 0.1l-0.9 0.6z"/>
<path class="c34" d="M79.4 495.4l0.8 -0.6l2.4 0l-0.9 0.6z"/>
<path class="c43" d="M93.1 492.5l0.9 -0.7l4.6 -0.4l-0.9 0.6z"/>
<path class="c48" d="M99.5 490.8l0.9 -0.6l4.6 -0.5l-0.9 0.7z"/>
<path class="c91" d="M135.3 476.5l0.9 -1l4.7 -1.4l-0.9 1z"/>
<path class="c42" d="M89.9 493.1l0.9 -0.6l2.3 0l-0.9 0.6z"/>
<path class="c60" d="M106.8 487.9l0.9 -1l9.3 -1.9l-0.9 0.8z"/>
<path class="c75" d="M118.7 483.2l0.9 -0.9l9.3 -2.7l-0.9 0.9z"/>
<path class="c41" d="M86.7 493.7l0.8 -0.7l2.4 0.1l-0.9 0.6z"/>
<path class="c52" d="M101.9 490l0.9 -0.9l3.1 -0.3l-0.9 0.9z"/>
<path class="c40" d="M83.5 494.2l0.8 -0.6l2.4 0.1l-0.9 0.6z"/>
<path class="c38" d="M80.2 494.8l0.9 -0.6l2.4 0l-0.9 0.6z"/>
<path class="c47" d="M94 491.8l0.8 -0.6l4.7 -0.4l-0.9 0.6z"/>
<path class="c96" d="M136.2 475.5l0.9 -0.9l4.6 -1.5l-0.8 1z"/>
<path class="c46" d="M90.8 492.5l0.8 -0.7l2.4 0l-0.9 0.7z"/>
<path class="c90" d="M130.7 477.9l0.9 -0.9l4.6 -1.5l-0.9 1z"/>
<path class="c45" d="M87.5 493l0.9 -0.6l2.4 0.1l-0.9 0.6z"/>
<path class="c79" d="M119.6 482.3l0.9 -0.8l9.3 -2.7l-0.9 0.8z"/>
<path class="c65" d="M107.7 486.9l0.9 -0.9l9.2 -1.9l-0.8 0.9z"/>
<path class="c43" d="M84.3 493.6l0.9 -0.6l2.3 0l-0.8 0.7z"/>
<path class="c57" d="M102.8 489.1l0.9 -1l3.1 -0.2l-0.9 0.9z"/>
<path class="c42" d="M81.1 494.2l0.9 -0.6l2.3 0l-0.8 0.6z"/>
<path class="c51" d="M94.8 491.2l0.9 -0.6l4.7 -0.4l-0.9 0.6z"/>
<path class="c54" d="M98.8 490.3l0.9 -1l3.1 -0.2l-0.9 0.9z"/>
<path class="c101" d="M137.1 474.6l0.9 -0.9l4.6 -1.5l-0.9 0.9z"/>
<path class="c50" d="M91.6 491.8l0.9 -0.6l2.3 0l-0.8 0.6z"/>
<path class="c49" d="M88.4 492.4l0.9 -0.6l2.3 0l-0.8 0.7z"/>
<path class="c95" d="M131.6 477l0.9 -0.9l4.6 -1.5l-0.9 0.9z"/>
<path class="c47" d="M85.2 493l0.9 -0.6l2.3 0l-0.9 0.6z"/>
<path class="c84" d="M120.5 481.5l0.9 -0.9l9.3 -2.7l-0.9 0.9z"/>
<path class="c70" d="M108.6 486l0.8 -0.9l9.3 -1.9l-0.9 0.9z"/>
<path class="c46" d="M82 493.6l0.9 -0.6l2.3 0l-0.9 0.6z"/>
<path class="c63" d="M103.7 488.1l0.9 -0.9l3.1 -0.3l-0.9 1z"/>
<path class="c60" d="M99.7 489.3l0.9 -1l3.1 -0.2l-0.9 1z"/>
<path class="c56" d="M95.7 490.6l0.9 -1l3.1 -0.3l-0.9 1z"/>
<path class="c106" d="M138 473.7l0.9 -1l4.6 -1.5l-0.9 1z"/>
<path class="c54" d="M92.5 491.2l0.9 -0.6l2.3 0l-0.9 0.6z"/>
<path class="c53" d="M89.3 491.8l0.9 -0.6l2.3 0l-0.9 0.6z"/>
<path class="c51" d="M86.1 492.4l0.9 -0.6l2.3 0l-0.9 0.6z"/>
<path class="c100" d="M132.5 476.1l0.8 -0.9l4.7 -1.5l-0.9 0.9z"/>
<path class="c50" d="M82.9 493l0.9 -0.6l2.3 0l-0.9 0.6z"/>
<path class="c89" d="M121.4 480.6l0.9 -0.9l9.3 -2.7l-0.9 0.9z"/>
<path class="c75" d="M109.4 485.1l0.9 -0.9l9.3 -1.9l-0.9 0.9z"/>
<path class="c68" d="M104.6 487.2l0.9 -1l3.1 -0.2l-0.9 0.9z"/>
<path class="c65" d="M100.6 488.3l0.9 -0.9l3.1 -0.2l-0.9 0.9z"/>
<path class="c62" d="M96.6 489.6l0.9 -1l3.1 -0.3l-0.9 1z"/>
<path class="c111" d="M138.9 472.7l0.9 -0.9l4.6 -1.6l-0.9 1z"/>
<path class="c59" d="M93.4 490.6l0.9 -1l2.3 0l-0.9 1z"/>
<path class="c56" d="M90.2 491.2l0.9 -0.6l2.3 0l-0.9 0.6z"/>
<path class="c55" d="M87 491.8l0.9 -0.6l2.3 0l-0.9 0.6z"/>
<path class="c54" d="M83.8 492.4l0.9 -0.6l2.3 0l-0.9 0.6z"/>
<path class="c105" d="M133.3 475.2l0.9 -0.9l4.7 -1.6l-0.9 1z"/>
<path class="c94" d="M122.3 479.7l0.9 -0.9l9.2 -2.7l-0.8 0.9z"/>
<path class="c80" d="M110.3 484.2l0.9 -0.9l9.3 -1.8l-0.9 0.8z"/>
<path class="c73" d="M105.5 486.2l0.8 -0.9l3.1 -0.2l-0.8 0.9z"/>
<path class="c70" d="M101.5 487.4l0.9 -1l3.1 -0.2l-0.9 1z"/>
<path class="c61" d="M91.1 490.6l0.9 -1l2.3 0l-0.9 1z"/>
<path class="c59" d="M87.9 491.2l0.9 -0.6l2.3 0l-0.9 0.6z"/>
<path class="c67" d="M97.5 488.6l0.9 -1l3.1 -0.2l-0.9 0.9z"/>
<path class="c117" d="M139.8 471.8l0.8 -1l4.7 -1.6l-0.9 1z"/>
<path class="c64" d="M94.3 489.6l0.9 -1l2.3 0l-0.9 1z"/>
<path class="c57" d="M84.7 491.8l0.9 -0.6l2.3 0l-0.9 0.6z"/>
<path class="c110" d="M134.2 474.3l0.9 -0.9l4.7 -1.6l-0.9 0.9z"/>
<path class="c99" d="M123.2 478.8l0.8 -0.9l9.3 -2.7l-0.9 0.9z"/>
<path class="c85" d="M111.2 483.3l0.9 -1l9.3 -1.7l-0.9 0.9z"/>
<path class="c78" d="M106.3 485.3l0.9 -1l3.1 -0.1l-0.9 0.9z"/>
<path class="c75" d="M102.4 486.4l0.9 -1l3 -0.1l-0.8 0.9z"/>
<path class="c63" d="M88.8 490.6l0.8 -1l2.4 0l-0.9 1z"/>
<path class="c61" d="M85.6 491.2l0.8 -0.6l2.4 0l-0.9 0.6z"/>
<path class="c67" d="M92 489.6l0.9 -1l2.3 0l-0.9 1z"/>
<path class="c73" d="M98.4 487.6l0.9 -1l3.1 -0.2l-0.9 1z"/>
<path class="c122" d="M140.6 470.8l0.9 -0.9l4.7 -1.7l-0.9 1z"/>
<path class="c70" d="M95.2 488.6l0.9 -1l2.3 0l-0.9 1z"/>
<path class="c115" d="M135.1 473.4l0.9 -0.9l4.6 -1.7l-0.8 1z"/>
<path class="c104" d="M124 477.9l0.9 -0.9l9.3 -2.7l-0.9 0.9z"/>
<path class="c90" d="M112.1 482.3l0.9 -0.9l9.3 -1.7l-0.9 0.9z"/>
<path class="c83" d="M107.2 484.3l0.9 -1l3.1 0l-0.9 0.9z"/>
<path class="c81" d="M103.3 485.4l0.8 -1l3.1 -0.1l-0.9 1z"/>
<path class="c66" d="M86.4 490.6l0.9 -1l2.3 0l-0.8 1z"/>
<path class="c69" d="M89.6 489.6l0.9 -1l2.4 0l-0.9 1z"/>
<path class="c127" d="M141.5 469.9l0.9 -1l4.6 -1.7l-0.8 1z"/>
<path class="c72" d="M92.9 488.6l0.8 -1.1l2.4 0.1l-0.9 1z"/>
<path class="c78" d="M99.3 486.6l0.9 -1l3.1 -0.2l-0.9 1z"/>
<path class="c75" d="M96.1 487.6l0.8 -1.1l2.4 0.1l-0.9 1z"/>
<path class="c120" d="M136 472.5l0.9 -1l4.6 -1.6l-0.9 0.9z"/>
<path class="c109" d="M124.9 477l0.9 -0.9l9.3 -2.7l-0.9 0.9z"/>
<path class="c95" d="M113 481.4l0.9 -0.9l9.3 -1.7l-0.9 0.9z"/>
<path class="c88" d="M108.1 483.3l0.9 -0.9l3.1 -0.1l-0.9 1z"/>
<path class="c86" d="M104.1 484.4l0.9 -1l3.1 -0.1l-0.9 1z"/>
<path class="c71" d="M87.3 489.6l0.9 -1l2.3 0l-0.9 1z"/>
<path class="c74" d="M90.5 488.6l0.9 -1.1l2.3 0l-0.8 1.1z"/>
<path class="c83" d="M100.2 485.6l0.8 -1.1l3.1 -0.1l-0.8 1z"/>
<path class="c77" d="M93.7 487.5l0.9 -1l2.3 0l-0.8 1.1z"/>
<path class="c80" d="M96.9 486.5l0.9 -1l2.4 0.1l-0.9 1z"/>
<path class="c125" d="M136.9 471.5l0.9 -0.9l4.6 -1.7l-0.9 1z"/>
<path class="c114" d="M125.8 476.1l0.9 -0.9l9.3 -2.7l-0.9 0.9z"/>
<path class="c100" d="M113.9 480.5l0.9 -0.9l9.2 -1.7l-0.8 0.9z"/>
<path class="c93" d="M109.8 482.4l0.9 -1l2.3 0l-0.9 0.9z"/>
<path class="c91" d="M105 483.4l0.9 -0.9l3.1 -0.1l-0.9 0.9z"/>
<path class="c77" d="M88.2 488.6l0.9 -1.1l2.3 0l-0.9 1.1z"/>
<path class="c80" d="M91.4 487.5l0.9 -1l2.3 0l-0.9 1z"/>
<path class="c89" d="M101 484.5l0.9 -1l3.1 -0.1l-0.9 1z"/>
<path class="c83" d="M94.6 486.5l0.9 -1l2.3 0l-0.9 1z"/>
<path class="c86" d="M97.8 485.5l0.9 -1l2.3 0l-0.8 1.1z"/>
<path class="c119" d="M126.7 475.2l0.9 -0.9l9.3 -2.8l-0.9 1z"/>
<path class="c105" d="M114.8 479.6l0.8 -0.9l9.3 -1.7l-0.9 0.9z"/>
<path class="c95" d="M107.5 482.4l0.8 -0.9l2.4 -0.1l-0.9 1z"/>
<path class="c98" d="M110.7 481.4l0.8 -0.9l2.4 0l-0.9 0.9z"/>
<path class="c82" d="M89.1 487.5l0.9 -1l2.3 0l-0.9 1z"/>
<path class="c85" d="M92.3 486.5l0.9 -1l2.3 0l-0.9 1z"/>
<path class="c94" d="M101.9 483.5l0.9 -1l3.1 0l-0.9 0.9z"/>
<path class="c88" d="M95.5 485.5l0.9 -1l2.3 0l-0.9 1z"/>
<path class="c91" d="M98.7 484.5l0.9 -1l2.3 0l-0.9 1z"/>
<path class="c124" d="M127.6 474.3l0.9 -0.9l9.3 -2.8l-0.9 0.9z"/>
<path class="c110" d="M115.6 478.7l0.9 -0.9l9.3 -1.7l-0.9 0.9z"/>
<path class="c97" d="M105.1 482.5l0.9 -1l2.3 0l-0.8 0.9z"/>
<path class="c100" d="M108.3 481.5l0.9 -1l2.3 0l-0.8 0.9z"/>
<path class="c103" d="M111.5 480.5l0.9 -0.9l2.4 0l-0.9 0.9z"/>
<path class="c88" d="M90 486.5l0.9 -1.1l2.3 0.1l-0.9 1z"/>
<path class="c91" d="M93.2 485.5l0.9 -1.1l2.3 0.1l-0.9 1z"/>
<path class="c94" d="M96.4 484.5l0.9 -1l2.3 0l-0.9 1z"/>
<path class="c97" d="M99.6 483.5l0.9 -1l2.3 0l-0.9 1z"/>
<path class="c100" d="M102.8 482.5l0.9 -1l2.3 0l-0.9 1z"/>
<path class="c115" d="M116.5 477.8l0.9 -0.9l9.3 -1.7l-0.9 0.9z"/>
<path class="c103" d="M106 481.5l0.9 -1l2.3 0l-0.9 1z"/>
<path class="c105" d="M109.2 480.5l0.9 -1l2.3 0.1l-0.9 0.9z"/>
<path class="c108" d="M112.4 479.6l0.9 -1l2.3 0.1l-0.8 0.9z"/>
<path class="c93" d="M90.9 485.4l0.9 -1l2.3 0l-0.9 1.1z"/>
<path class="c96" d="M94.1 484.4l0.9 -1l2.3 0.1l-0.9 1z"/>
<path class="c99" d="M97.3 483.5l0.9 -1.1l2.3 0.1l-0.9 1z"/>
<path class="c102" d="M100.5 482.5l0.9 -1.1l2.3 0.1l-0.9 1z"/>
<path class="c120" d="M117.4 476.9l0.9 -0.9l9.3 -1.7l-0.9 0.9z"/>
<path class="c105" d="M103.7 481.5l0.9 -1l2.3 0l-0.9 1z"/>
<path class="c108" d="M106.9 480.5l0.9 -1l2.3 0l-0.9 1z"/>
<path class="c111" d="M110.1 479.5l0.9 -0.9l2.3 0l-0.9 1z"/>
<path class="c113" d="M113.3 478.6l0.9 -0.9l2.3 0.1l-0.9 0.9z"/>
<path class="c99" d="M91.8 484.4l0.8 -1l2.4 0l-0.9 1z"/>
<path class="c102" d="M95 483.4l0.8 -1l2.4 0l-0.9 1.1z"/>
<path class="c105" d="M98.2 482.4l0.9 -1l2.3 0l-0.9 1.1z"/>
<path class="c107" d="M101.4 481.4l0.9 -1l2.3 0.1l-0.9 1z"/>
<path class="c125" d="M118.3 476l0.9 -0.9l9.3 -1.7l-0.9 0.9z"/>
<path class="c110" d="M104.6 480.5l0.9 -1l2.3 0l-0.9 1z"/>
<path class="c113" d="M107.8 479.5l0.9 -1l2.3 0.1l-0.9 0.9z"/>
<path class="c116" d="M111 478.6l0.9 -1l2.3 0.1l-0.9 0.9z"/>
<path class="c118" d="M114.2 477.7l0.9 -0.9l2.3 0.1l-0.9 0.9z"/>
<path class="c104" d="M92.6 483.4l0.9 -1.1l2.3 0.1l-0.8 1z"/>
<path class="c107" d="M95.8 482.4l0.9 -1.1l2.4 0.1l-0.9 1z"/>
<path class="c110" d="M99.1 481.4l0.8 -1l2.4 0l-0.9 1z"/>
<path class="c113" d="M102.3 480.4l0.8 -1l2.4 0.1l-0.9 1z"/>
<path class="c116" d="M105.5 479.5l0.8 -1l2.4 0l-0.9 1z"/>
<path class="c118" d="M108.7 478.5l0.9 -1l2.3 0.1l-0.9 1z"/>
<path class="c123" d="M115.1 476.8l0.9 -1l2.3 0.2l-0.9 0.9z"/>
<path class="c121" d="M111.9 477.6l0.9 -0.9l2.3 0.1l-0.9 0.9z"/>
<path class="c110" d="M93.5 482.3l0.9 -1l2.3 0l-0.9 1.1z"/>
<path class="c113" d="M96.7 481.3l0.9 -1l2.3 0.1l-0.8 1z"/>
<path class="c116" d="M99.9 480.4l0.9 -1.1l2.3 0.1l-0.8 1z"/>
<path class="c118" d="M103.1 479.4l0.9 -1l2.3 0.1l-0.8 1z"/>
<path class="c121" d="M106.3 478.5l0.9 -1.1l2.4 0.1l-0.9 1z"/>
<path class="c128" d="M116 475.8l0.9 -0.9l2.3 0.2l-0.9 0.9z"/>
<path class="c124" d="M109.6 477.5l0.8 -1l2.4 0.2l-0.9 0.9z"/>
<path class="c126" d="M112.8 476.7l0.8 -1l2.4 0.1l-0.9 1z"/>
<path class="c115" d="M94.4 481.3l0.9 -1.1l2.3 0.1l-0.9 1z"/>
<path class="c118" d="M97.6 480.3l0.9 -1.1l2.3 0.1l-0.9 1.1z"/>
<path class="c121" d="M100.8 479.3l0.9 -1l2.3 0.1l-0.9 1z"/>
<path class="c124" d="M104 478.4l0.9 -1.1l2.3 0.1l-0.9 1.1z"/>
<path class="c126" d="M107.2 477.4l0.9 -1l2.3 0.1l-0.8 1z"/>
<path class="c131" d="M113.6 475.7l0.9 -1l2.4 0.2l-0.9 0.9z"/>
<path class="c129" d="M110.4 476.5l0.9 -1l2.3 0.2l-0.8 1z"/>
<path class="c121" d="M95.3 480.2l0.9 -1l2.3 0l-0.9 1.1z"/>
<path class="c124" d="M98.5 479.2l0.9 -1l2.3 0.1l-0.9 1z"/>
<path class="c127" d="M101.7 478.3l0.9 -1.1l2.3 0.1l-0.9 1.1z"/>
<path class="c129" d="M104.9 477.3l0.9 -1l2.3 0.1l-0.9 1z"/>
<path class="c132" d="M108.1 476.4l0.9 -1l2.3 0.1l-0.9 1z"/>
<path class="c134" d="M111.3 475.5l0.9 -0.9l2.3 0.1l-0.9 1z"/>
<path class="c126" d="M96.2 479.2l0.9 -1.1l2.3 0.1l-0.9 1z"/>
<path class="c129" d="M99.4 478.2l0.9 -1l2.3 0l-0.9 1.1z"/>
<path class="c132" d="M102.6 477.2l0.9 -1l2.3 0.1l-0.9 1z"/>
<path class="c135" d="M105.8 476.3l0.9 -1l2.3 0.1l-0.9 1z"/>
<path class="c137" d="M109 475.4l0.9 -1l2.3 0.2l-0.9 0.9z"/>
<path class="c132" d="M97.1 478.1l0.8 -1l2.4 0.1l-0.9 1z"/>
<path class="c135" d="M100.3 477.2l0.9 -1.1l2.3 0.1l-0.9 1z"/>
<path class="c137" d="M103.5 476.2l0.9 -1l2.3 0.1l-0.9 1z"/>
<path class="c140" d="M106.7 475.3l0.9 -1l2.3 0.1l-0.9 1z"/>
<path class="c137" d="M97.9 477.1l0.9 -1.1l2.4 0.1l-0.9 1.1z"/>
<path class="c140" d="M101.2 476.1l0.8 -1l2.4 0.1l-0.9 1z"/>
<path class="c143" d="M104.4 475.2l0.8 -1.1l2.4 0.2l-0.9 1z"/>
<path class="c143" d="M98.8 476l0.9 -1l2.3 0.1l-0.8 1z"/>
<path class="c146" d="M102 475.1l0.9 -1.1l2.3 0.1l-0.8 1.1z"/>
<path class="c149" d="M99.7 475l0.9 -1.1l2.3 0.1l-0.9 1.1z"/></g>
<line x1="29.8" y1="488.1" x2="29.8" y2="417.1" stroke="#444444" stroke-width="0.7"/>
<line x1="29.8" y1="488.1" x2="100.6" y2="520.9" stroke="#444444" stroke-width="0.7"/>
<line x1="100.6" y1="520.9" x2="193.5" y2="495.9" stroke="#444444" stroke-width="0.7"/>
<line x1="29.8" y1="488.1" x2="27.8" y2="488.7" stroke="#444444" stroke-width="0.7"/>
<line x1="100.6" y1="520.9" x2="102.6" y2="522.1" stroke="#444444" stroke-width="0.7"/>
<line x1="65.2" y1="504.5" x2="63.2" y2="505.1" stroke="#444444" stroke-width="0.7"/>
<line x1="147.1" y1="508.4" x2="149.1" y2="509.6" stroke="#444444" stroke-width="0.7"/>
<line x1="100.6" y1="520.9" x2="98.6" y2="521.5" stroke="#444444" stroke-width="0.7"/>
<line x1="193.5" y1="495.9" x2="195.5" y2="497.1" stroke="#444444" stroke-width="0.7"/>
<line x1="29.8" y1="488.1" x2="28" y2="487.6" stroke="#444444" stroke-width="0.7"/>
<line x1="29.8" y1="452.6" x2="28" y2="452.1" stroke="#444444" stroke-width="0.7"/>
<line x1="29.8" y1="417.1" x2="28" y2="416.6" stroke="#444444" stroke-width="0.7"/>
<text x="24.2" y="490.1" font-size="8" text-anchor="end">5</text>
<text x="24.2" y="454.6" font-size="8" text-anchor="end">10</text>
<text x="24.2" y="419.1" font-size="8" text-anchor="end">15</text>
<text x="21.6" y="498.5" font-size="8" text-anchor="middle">8</text>
<text x="56.7" y="515.5" font-size="8" text-anchor="middle">9</text>
<text x="90.4" y="531.4" font-size="8" text-anchor="middle">10</text>
<text x="110.8" y="532.5" font-size="8" text-anchor="middle">12</text>
<text x="158" y="519.8" font-size="8" text-anchor="middle">11</text>
<text x="203.2" y="507.5" font-size="8" text-anchor="middle">10</text>
<text x="51.8" y="536.2" font-size="9.5" text-anchor="middle">LWL</text>
<text x="155.8" y="537.8" font-size="9.5" text-anchor="middle">HWL</text>
<text font-size="9.4" text-anchor="middle" transform="translate(10.2 453.1) rotate(-90)">day</text>
<text x="111.5" y="388.6" font-size="9.25" text-anchor="middle">Gucheng Lake</text>
<text x="29.7" y="394.7" font-size="12" font-weight="bold" fill="#000">(e)</text>
<rect x="218.3" y="393.1" width="16" height="127.6" fill="url(#pg)" stroke="#3a3a3a" stroke-width="0.6"/>
<line x1="232.9" y1="519.8" x2="234.3" y2="519.8" stroke="#3a3a3a" stroke-width="0.6"/>
<text x="237.9" y="522.7" font-size="8">6</text>
<line x1="232.9" y1="498.2" x2="234.3" y2="498.2" stroke="#3a3a3a" stroke-width="0.6"/>
<text x="237.9" y="501.1" font-size="8">7</text>
<line x1="232.9" y1="476.5" x2="234.3" y2="476.5" stroke="#3a3a3a" stroke-width="0.6"/>
<text x="237.9" y="479.4" font-size="8">8</text>
<line x1="232.9" y1="454.8" x2="234.3" y2="454.8" stroke="#3a3a3a" stroke-width="0.6"/>
<text x="237.9" y="457.7" font-size="8">9</text>
<line x1="232.9" y1="433.2" x2="234.3" y2="433.2" stroke="#3a3a3a" stroke-width="0.6"/>
<text x="237.9" y="436.1" font-size="8">10</text>
<line x1="232.9" y1="411.5" x2="234.3" y2="411.5" stroke="#3a3a3a" stroke-width="0.6"/>
<text x="237.9" y="414.4" font-size="8">11</text>
</g>
<g id="pf">
<line x1="324.5" y1="487.9" x2="417.4" y2="462.9" stroke="#dcdcdc" stroke-width="0.6"/>
<line x1="324.5" y1="487.9" x2="395.3" y2="520.7" stroke="#dcdcdc" stroke-width="0.6"/>
<line x1="359.9" y1="504.3" x2="452.8" y2="479.3" stroke="#dcdcdc" stroke-width="0.6"/>
<line x1="370.9" y1="475.4" x2="441.8" y2="508.2" stroke="#dcdcdc" stroke-width="0.6"/>
<line x1="395.3" y1="520.7" x2="488.2" y2="495.7" stroke="#dcdcdc" stroke-width="0.6"/>
<line x1="417.4" y1="462.9" x2="488.2" y2="495.7" stroke="#dcdcdc" stroke-width="0.6"/>
<line x1="324.5" y1="487.9" x2="324.5" y2="416.9" stroke="#dcdcdc" stroke-width="0.6"/>
<line x1="417.4" y1="462.9" x2="417.4" y2="391.9" stroke="#dcdcdc" stroke-width="0.6"/>
<line x1="370.9" y1="475.4" x2="370.9" y2="404.4" stroke="#dcdcdc" stroke-width="0.6"/>
<line x1="452.8" y1="479.3" x2="452.8" y2="408.3" stroke="#dcdcdc" stroke-width="0.6"/>
<line x1="417.4" y1="462.9" x2="417.4" y2="391.9" stroke="#dcdcdc" stroke-width="0.6"/>
<line x1="488.2" y1="495.7" x2="488.2" y2="424.7" stroke="#dcdcdc" stroke-width="0.6"/>
<line x1="324.5" y1="487.9" x2="417.4" y2="462.9" stroke="#dcdcdc" stroke-width="0.6"/>
<line x1="417.4" y1="462.9" x2="488.2" y2="495.7" stroke="#dcdcdc" stroke-width="0.6"/>
<line x1="324.5" y1="464.2" x2="417.4" y2="439.2" stroke="#dcdcdc" stroke-width="0.6"/>
<line x1="417.4" y1="439.2" x2="488.2" y2="472" stroke="#dcdcdc" stroke-width="0.6"/>
<line x1="324.5" y1="440.6" x2="417.4" y2="415.6" stroke="#dcdcdc" stroke-width="0.6"/>
<line x1="417.4" y1="415.6" x2="488.2" y2="448.4" stroke="#dcdcdc" stroke-width="0.6"/>
<line x1="324.5" y1="416.9" x2="417.4" y2="391.9" stroke="#dcdcdc" stroke-width="0.6"/>
<line x1="417.4" y1="391.9" x2="488.2" y2="424.7" stroke="#dcdcdc" stroke-width="0.6"/>
<line x1="324.5" y1="416.9" x2="417.4" y2="391.9" stroke="#dcdcdc" stroke-width="0.6"/>
<line x1="417.4" y1="391.9" x2="488.2" y2="424.7" stroke="#dcdcdc" stroke-width="0.6"/>
<g class="s"><path class="c97" d="M398.8 419.3l0.9 1.3l1.2 -1.3l-0.9 -1.3z"/>
<path class="c100" d="M400 418l0.9 1.3l1.1 -1.2l-0.9 -1.4z"/>
<path class="c103" d="M401.1 416.7l0.9 1.4l1.2 -1.3l-0.9 -1.3z"/>
<path class="c106" d="M402.3 415.5l0.9 1.3l1.1 -1.2l-0.8 -1.4z"/>
<path class="c94" d="M397.3 420.7l1 1.5l1.5 -1.4l-1 -1.5z"/>
<path class="c109" d="M403.5 414.2l0.8 1.4l1.2 -1.3l-0.9 -1.4z"/>
<path class="c112" d="M404.6 412.9l0.9 1.4l1.2 -1.2l-0.9 -1.5z"/>
<path class="c115" d="M405.8 411.6l0.9 1.5l1.1 -1.3l-0.9 -1.4z"/>
<path class="c118" d="M406.9 410.4l0.9 1.4l1.2 -1.2l-0.9 -1.5z"/>
<path class="c95" d="M399.7 420.6l0.9 1.3l1.2 -1.2l-0.9 -1.4z"/>
<path class="c97" d="M400.9 419.3l0.9 1.4l1.1 -1.2l-0.9 -1.4z"/>
<path class="c100" d="M402 418.1l0.9 1.4l1.2 -1.3l-0.9 -1.4z"/>
<path class="c103" d="M403.2 416.8l0.9 1.4l1.1 -1.2l-0.9 -1.4z"/>
<path class="c106" d="M404.3 415.6l0.9 1.4l1.2 -1.2l-0.9 -1.5z"/>
<path class="c109" d="M405.5 414.3l0.9 1.5l1.2 -1.2l-0.9 -1.5z"/>
<path class="c112" d="M406.7 413.1l0.9 1.5l1.1 -1.3l-0.9 -1.5z"/>
<path class="c115" d="M407.8 411.8l0.9 1.5l1.2 -1.2l-0.9 -1.5z"/>
<path class="c91" d="M395.7 422.1l1 1.4l1.6 -1.3l-1 -1.5z"/>
<path class="c111" d="M408.7 413.3l0.9 1.5l1.2 -1.2l-0.9 -1.5z"/>
<path class="c122" d="M408.1 409.1l0.9 1.5l1.2 -1.7l-0.9 -1.6z"/>
<path class="c108" d="M407.6 414.6l0.8 1.4l1.2 -1.2l-0.9 -1.5z"/>
<path class="c91" d="M398.3 422.2l1 1.4l1.5 -1.3l-1 -1.5z"/>
<path class="c106" d="M406.4 415.8l0.9 1.4l1.1 -1.2l-0.8 -1.4z"/>
<path class="c103" d="M405.2 417l0.9 1.4l1.2 -1.2l-0.9 -1.4z"/>
<path class="c100" d="M404.1 418.2l0.9 1.4l1.1 -1.2l-0.9 -1.4z"/>
<path class="c97" d="M402.9 419.5l0.9 1.3l1.2 -1.2l-0.9 -1.4z"/>
<path class="c118" d="M409 410.6l0.9 1.5l1.1 -1.7l-0.8 -1.5z"/>
<path class="c94" d="M401.8 420.7l0.8 1.3l1.2 -1.2l-0.9 -1.3z"/>
<path class="c108" d="M409.6 414.8l0.9 1.5l1.1 -1.2l-0.8 -1.5z"/>
<path class="c92" d="M400.6 421.9l0.9 1.3l1.1 -1.2l-0.8 -1.3z"/>
<path class="c88" d="M394.2 423.5l1 1.4l1.5 -1.4l-1 -1.4z"/>
<path class="c105" d="M408.4 416l0.9 1.5l1.2 -1.2l-0.9 -1.5z"/>
<path class="c115" d="M409.9 412.1l0.9 1.5l1.1 -1.6l-0.9 -1.6z"/>
<path class="c102" d="M407.3 417.2l0.9 1.5l1.1 -1.2l-0.9 -1.5z"/>
<path class="c104" d="M410.5 416.3l0.9 1.5l1.1 -1.2l-0.9 -1.5z"/>
<path class="c100" d="M406.1 418.4l0.9 1.4l1.2 -1.1l-0.9 -1.5z"/>
<path class="c111" d="M410.8 413.6l0.8 1.5l1.2 -1.6l-0.9 -1.5z"/>
<path class="c97" d="M405 419.6l0.8 1.4l1.2 -1.2l-0.9 -1.4z"/>
<path class="c88" d="M396.7 423.5l1 1.5l1.6 -1.4l-1 -1.4z"/>
<path class="c102" d="M409.3 417.5l0.9 1.4l1.2 -1.1l-0.9 -1.5z"/>
<path class="c94" d="M403.8 420.8l0.9 1.4l1.1 -1.2l-0.8 -1.4z"/>
<path class="c101" d="M411.4 417.8l0.9 1.5l1.1 -1.1l-0.9 -1.6z"/>
<path class="c108" d="M411.6 415.1l0.9 1.5l1.2 -1.5l-0.9 -1.6z"/>
<path class="c92" d="M402.6 422l0.9 1.4l1.2 -1.2l-0.9 -1.4z"/>
<path class="c99" d="M408.2 418.7l0.9 1.4l1.1 -1.2l-0.9 -1.4z"/>
<path class="c85" d="M392.6 424.9l1 1.4l1.6 -1.4l-1 -1.4z"/>
<path class="c88" d="M399.3 423.6l1 1.5l1.6 -1.3l-1.1 -1.5z"/>
<path class="c89" d="M401.5 423.2l0.9 1.3l1.1 -1.1l-0.9 -1.4z"/>
<path class="c97" d="M407 419.8l0.9 1.4l1.2 -1.1l-0.9 -1.4z"/>
<path class="c99" d="M410.2 418.9l0.9 1.5l1.2 -1.1l-0.9 -1.5z"/>
<path class="c104" d="M412.5 416.6l0.9 1.6l1.2 -1.6l-0.9 -1.5z"/>
<path class="c126" d="M409.3 407.3l0.9 1.6l1.1 -1.7l-0.9 -1.6z"/>
<path class="c98" d="M412.3 419.3l0.8 1.5l1.2 -1.1l-0.9 -1.5z"/>
<path class="c94" d="M405.8 421l0.9 1.4l1.2 -1.2l-0.9 -1.4z"/>
<path class="c122" d="M410.2 408.9l0.8 1.5l1.2 -1.6l-0.9 -1.6z"/>
<path class="c96" d="M409.1 420.1l0.8 1.4l1.2 -1.1l-0.9 -1.5z"/>
<path class="c101" d="M413.4 418.2l0.9 1.5l1.2 -1.5l-0.9 -1.6z"/>
<path class="c85" d="M395.2 424.9l1 1.4l1.5 -1.3l-1 -1.5z"/>
<path class="c91" d="M404.7 422.2l0.9 1.3l1.1 -1.1l-0.9 -1.4z"/>
<path class="c119" d="M411 410.4l0.9 1.6l1.2 -1.6l-0.9 -1.6z"/>
<path class="c95" d="M411.1 420.4l0.9 1.5l1.1 -1.1l-0.8 -1.5z"/>
<path class="c94" d="M413.1 420.8l0.9 1.5l1.2 -1.1l-0.9 -1.5z"/>
<path class="c82" d="M391.1 426.3l1 1.4l1.5 -1.4l-1 -1.4z"/>
<path class="c115" d="M411.9 412l0.9 1.5l1.2 -1.5l-0.9 -1.6z"/>
<path class="c93" d="M407.9 421.2l0.9 1.5l1.1 -1.2l-0.8 -1.4z"/>
<path class="c89" d="M403.5 423.4l0.9 1.3l1.2 -1.2l-0.9 -1.3z"/>
<path class="c97" d="M414.3 419.7l0.9 1.5l1.2 -1.5l-0.9 -1.5z"/>
<path class="c85" d="M397.7 425l1.1 1.4l1.5 -1.3l-1 -1.5z"/>
<path class="c112" d="M412.8 413.5l0.9 1.6l1.2 -1.6l-0.9 -1.5z"/>
<path class="c86" d="M402.4 424.5l0.8 1.3l1.2 -1.1l-0.9 -1.3z"/>
<path class="c93" d="M409.9 421.5l0.9 1.5l1.2 -1.1l-0.9 -1.5z"/>
<path class="c91" d="M406.7 422.4l0.9 1.4l1.2 -1.1l-0.9 -1.5z"/>
<path class="c108" d="M413.7 415.1l0.9 1.5l1.1 -1.5l-0.8 -1.6z"/>
<path class="c92" d="M412 421.9l0.9 1.4l1.1 -1l-0.9 -1.5z"/>
<path class="c85" d="M400.3 425.1l1 1.5l1.6 -1.3l-1 -1.5z"/>
<path class="c104" d="M414.6 416.6l0.9 1.6l1.1 -1.5l-0.9 -1.6z"/>
<path class="c88" d="M405.6 423.5l0.9 1.4l1.1 -1.1l-0.9 -1.4z"/>
<path class="c82" d="M393.6 426.3l1 1.4l1.6 -1.4l-1 -1.4z"/>
<path class="c90" d="M408.8 422.7l0.9 1.4l1.1 -1.1l-0.9 -1.5z"/>
<path class="c79" d="M389.5 427.8l1 1.3l1.6 -1.4l-1 -1.4z"/>
<path class="c101" d="M415.5 418.2l0.9 1.5l1.1 -1.4l-0.9 -1.6z"/>
<path class="c90" d="M410.8 423l0.9 1.4l1.2 -1.1l-0.9 -1.4z"/>
<path class="c86" d="M404.4 424.7l0.9 1.3l1.2 -1.1l-0.9 -1.4z"/>
<path class="c130" d="M410.4 405.6l0.9 1.6l1.2 -1.7l-0.9 -1.6z"/>
<path class="c88" d="M407.6 423.8l0.9 1.4l1.2 -1.1l-0.9 -1.4z"/>
<path class="c127" d="M411.3 407.2l0.9 1.6l1.2 -1.7l-0.9 -1.6z"/>
<path class="c123" d="M412.2 408.8l0.9 1.6l1.1 -1.6l-0.8 -1.7z"/>
<path class="c82" d="M396.2 426.3l1 1.4l1.6 -1.3l-1.1 -1.4z"/>
<path class="c119" d="M413.1 410.4l0.9 1.6l1.1 -1.6l-0.9 -1.6z"/>
<path class="c83" d="M403.2 425.8l0.9 1.4l1.2 -1.2l-0.9 -1.3z"/>
<path class="c116" d="M414 412l0.9 1.5l1.1 -1.5l-0.9 -1.6z"/>
<path class="c87" d="M409.7 424.1l0.8 1.4l1.2 -1.1l-0.9 -1.4z"/>
<path class="c112" d="M414.9 413.5l0.8 1.6l1.2 -1.5l-0.9 -1.6z"/>
<path class="c108" d="M415.7 415.1l0.9 1.6l1.2 -1.4l-0.9 -1.7z"/>
<path class="c85" d="M406.5 424.9l0.8 1.4l1.2 -1.1l-0.9 -1.4z"/>
<path class="c94" d="M415.2 421.2l1.2 1.4l1.1 -1.5l-1.1 -1.4z"/>
<path class="c104" d="M416.6 416.7l0.9 1.6l1.2 -1.4l-0.9 -1.6z"/>
<path class="c82" d="M398.8 426.4l1 1.5l1.5 -1.3l-1 -1.5z"/>
<path class="c79" d="M392.1 427.7l1 1.3l1.5 -1.3l-1 -1.4z"/>
<path class="c82" d="M401.3 426.6l1 1.4l1.6 -1.2l-1 -1.5z"/>
<path class="c91" d="M413.6 422.6l1.5 1.7l1.5 -1.5l-1.4 -1.6z"/>
<path class="c85" d="M408.5 425.2l0.9 1.4l1.1 -1.1l-0.8 -1.4z"/>
<path class="c83" d="M405.3 426l0.9 1.4l1.1 -1.1l-0.8 -1.4z"/>
<path class="c98" d="M416.4 419.7l1.1 1.4l1.2 -1.4l-1.2 -1.4z"/>
<path class="c79" d="M394.6 427.7l1.1 1.4l1.5 -1.4l-1 -1.4z"/>
<path class="c108" d="M417.8 415.3l0.9 1.6l1.1 -1.5l-0.8 -1.6z"/>
<path class="c80" d="M404.1 427.2l0.9 1.3l1.2 -1.1l-0.9 -1.4z"/>
<path class="c112" d="M416.9 413.6l0.9 1.7l1.2 -1.5l-0.9 -1.7z"/>
<path class="c82" d="M407.3 426.3l0.9 1.3l1.2 -1l-0.9 -1.4z"/>
<path class="c116" d="M416 412l0.9 1.6l1.2 -1.5l-0.9 -1.6z"/>
<path class="c119" d="M415.1 410.4l0.9 1.6l1.2 -1.5l-0.9 -1.7z"/>
<path class="c123" d="M414.2 408.8l0.9 1.6l1.2 -1.6l-0.9 -1.7z"/>
<path class="c76" d="M390.5 429.1l1.1 1.3l1.5 -1.4l-1 -1.3z"/>
<path class="c88" d="M412.1 424l1.4 1.7l1.6 -1.4l-1.5 -1.7z"/>
<path class="c127" d="M413.4 407.1l0.8 1.7l1.2 -1.7l-0.9 -1.6z"/>
<path class="c131" d="M412.5 405.5l0.9 1.6l1.1 -1.6l-0.9 -1.7z"/>
<path class="c79" d="M397.2 427.7l1 1.5l1.6 -1.3l-1 -1.5z"/>
<path class="c135" d="M411.6 403.9l0.9 1.6l1.1 -1.7l-0.8 -1.7z"/>
<path class="c76" d="M387.2 429.4l1.2 1.5l2.3 -1.6l-1.2 -1.5z"/>
<path class="c101" d="M417.5 418.3l1.2 1.4l1.2 -1.4l-1.2 -1.4z"/>
<path class="c80" d="M406.2 427.4l0.9 1.3l1.1 -1.1l-0.9 -1.3z"/>
<path class="c79" d="M399.8 427.9l1 1.4l1.5 -1.3l-1 -1.4z"/>
<path class="c78" d="M402.3 428l1 1.5l1.6 -1.2l-1 -1.5z"/>
<path class="c111" d="M419 413.8l0.8 1.6l1.2 -1.4l-0.9 -1.7z"/>
<path class="c115" d="M418.1 412.1l0.9 1.7l1.1 -1.5l-0.9 -1.7z"/>
<path class="c76" d="M393.1 429l1 1.4l1.6 -1.3l-1.1 -1.4z"/>
<path class="c84" d="M410.5 425.5l1.5 1.6l1.5 -1.4l-1.4 -1.7z"/>
<path class="c78" d="M405 428.5l0.9 1.3l1.2 -1.1l-0.9 -1.3z"/>
<path class="c119" d="M417.2 410.5l0.9 1.6l1.1 -1.5l-0.9 -1.7z"/>
<path class="c105" d="M418.7 416.9l1.2 1.4l1.1 -1.4l-1.2 -1.5z"/>
<path class="c123" d="M416.3 408.8l0.9 1.7l1.1 -1.6l-0.8 -1.7z"/>
<path class="c127" d="M415.4 407.1l0.9 1.7l1.2 -1.6l-0.9 -1.7z"/>
<path class="c115" d="M420.1 412.3l0.9 1.7l1.2 -1.4l-0.9 -1.8z"/>
<path class="c76" d="M395.7 429.1l1 1.3l1.5 -1.2l-1 -1.5z"/>
<path class="c131" d="M414.5 405.5l0.9 1.6l1.2 -1.6l-0.9 -1.7z"/>
<path class="c81" d="M409 426.9l1.4 1.6l1.6 -1.4l-1.5 -1.6z"/>
<path class="c119" d="M419.2 410.6l0.9 1.7l1.2 -1.5l-0.9 -1.7z"/>
<path class="c135" d="M413.6 403.8l0.9 1.7l1.2 -1.7l-0.9 -1.7z"/>
<path class="c108" d="M419.8 415.4l1.2 1.5l1.2 -1.4l-1.2 -1.5z"/>
<path class="c76" d="M398.2 429.2l1 1.4l1.6 -1.3l-1 -1.4z"/>
<path class="c92" d="M416.4 422.6l1.2 1.3l1.1 -1.4l-1.2 -1.4z"/>
<path class="c75" d="M403.3 429.5l1.1 1.5l1.5 -1.2l-1 -1.5z"/>
<path class="c76" d="M400.8 429.3l1 1.4l1.5 -1.2l-1 -1.5z"/>
<path class="c74" d="M391.6 430.4l1 1.3l1.5 -1.3l-1 -1.4z"/>
<path class="c139" d="M412.8 402.1l0.8 1.7l1.2 -1.7l-0.9 -1.7z"/>
<path class="c123" d="M418.3 408.9l0.9 1.7l1.2 -1.5l-0.9 -1.7z"/>
<path class="c119" d="M421.3 410.8l0.9 1.8l1.1 -1.5l-0.9 -1.7z"/>
<path class="c127" d="M417.5 407.2l0.8 1.7l1.2 -1.5l-0.9 -1.8z"/>
<path class="c78" d="M407.4 428.3l1.5 1.6l1.5 -1.4l-1.4 -1.6z"/>
<path class="c95" d="M417.5 421.1l1.2 1.4l1.2 -1.4l-1.2 -1.4z"/>
<path class="c112" d="M421 414l1.2 1.5l1.1 -1.5l-1.1 -1.4z"/>
<path class="c73" d="M388.4 430.9l1.2 1.5l2.3 -1.6l-1.2 -1.5z"/>
<path class="c123" d="M420.4 409.1l0.9 1.7l1.1 -1.4l-0.9 -1.8z"/>
<path class="c74" d="M394.1 430.4l1 1.3l1.6 -1.3l-1 -1.3z"/>
<path class="c131" d="M416.6 405.5l0.9 1.7l1.1 -1.6l-0.9 -1.7z"/>
<path class="c88" d="M415.1 424.3l1.4 1.6l1.5 -1.4l-1.4 -1.7z"/>
<path class="c122" d="M422.4 409.4l0.9 1.7l1.2 -1.4l-0.9 -1.8z"/>
<path class="c135" d="M415.7 403.8l0.9 1.7l1.1 -1.6l-0.9 -1.7z"/>
<path class="c127" d="M419.5 407.4l0.9 1.7l1.1 -1.5l-0.8 -1.8z"/>
<path class="c98" d="M418.7 419.7l1.2 1.4l1.1 -1.4l-1.1 -1.4z"/>
<path class="c74" d="M396.7 430.4l1 1.4l1.5 -1.2l-1 -1.4z"/>
<path class="c72" d="M384.9 431.1l1.2 1.5l2.3 -1.7l-1.2 -1.5z"/>
<path class="c115" d="M422.2 412.6l1.1 1.4l1.2 -1.4l-1.2 -1.5z"/>
<path class="c75" d="M405.9 429.8l1.4 1.5l1.6 -1.4l-1.5 -1.6z"/>
<path class="c73" d="M399.2 430.6l1 1.4l1.6 -1.3l-1 -1.4z"/>
<path class="c139" d="M414.8 402.1l0.9 1.7l1.1 -1.6l-0.8 -1.8z"/>
<path class="c73" d="M401.8 430.7l1 1.5l1.6 -1.2l-1.1 -1.5z"/>
<path class="c126" d="M421.5 407.6l0.9 1.8l1.2 -1.5l-0.9 -1.8z"/>
<path class="c131" d="M418.6 405.6l0.9 1.8l1.2 -1.6l-0.9 -1.8z"/>
<path class="c85" d="M413.5 425.7l1.4 1.6l1.6 -1.4l-1.4 -1.6z"/>
<path class="c143" d="M413.9 400.4l0.9 1.7l1.2 -1.7l-0.9 -1.7z"/>
<path class="c102" d="M419.9 418.3l1.1 1.4l1.2 -1.4l-1.2 -1.4z"/>
<path class="c71" d="M392.6 431.7l1 1.3l1.5 -1.3l-1 -1.3z"/>
<path class="c118" d="M423.3 411.1l1.2 1.5l1.2 -1.4l-1.2 -1.5z"/>
<path class="c135" d="M417.7 403.9l0.9 1.7l1.2 -1.6l-0.9 -1.7z"/>
<path class="c131" d="M420.7 405.8l0.8 1.8l1.2 -1.5l-0.9 -1.8z"/>
<path class="c105" d="M421 416.9l1.2 1.4l1.2 -1.4l-1.2 -1.4z"/>
<path class="c71" d="M395.1 431.7l1 1.4l1.6 -1.3l-1 -1.4z"/>
<path class="c81" d="M412 427.1l1.4 1.6l1.5 -1.4l-1.4 -1.6z"/>
<path class="c139" d="M416.8 402.2l0.9 1.7l1.2 -1.6l-0.9 -1.8z"/>
<path class="c72" d="M404 431.2l1.5 1.6l1.8 -1.5l-1.4 -1.5z"/>
<path class="c89" d="M417.6 423.9l1.1 1.4l1.2 -1.4l-1.2 -1.4z"/>
<path class="c135" d="M419.8 404l0.9 1.8l1.1 -1.5l-0.9 -1.8z"/>
<path class="c71" d="M397.7 431.8l1 1.4l1.5 -1.2l-1 -1.4z"/>
<path class="c70" d="M389.6 432.4l1.1 1.5l2.4 -1.5l-1.2 -1.6z"/>
<path class="c70" d="M400.2 432l1.1 1.4l1.5 -1.2l-1 -1.5z"/>
<path class="c144" d="M416 400.4l0.8 1.8l1.2 -1.7l-0.9 -1.8z"/>
<path class="c109" d="M422.2 415.5l1.2 1.4l1.1 -1.4l-1.2 -1.5z"/>
<path class="c92" d="M418.7 422.5l1.2 1.4l1.2 -1.4l-1.2 -1.4z"/>
<path class="c78" d="M410.4 428.5l1.4 1.6l1.6 -1.4l-1.4 -1.6z"/>
<path class="c139" d="M418.9 402.3l0.9 1.7l1.1 -1.5l-0.8 -1.8z"/>
<path class="c148" d="M415.1 398.7l0.9 1.7l1.1 -1.7l-0.9 -1.8z"/>
<path class="c69" d="M386.1 432.6l1.1 1.4l2.4 -1.6l-1.2 -1.5z"/>
<path class="c112" d="M423.3 414l1.2 1.5l1.2 -1.4l-1.2 -1.5z"/>
<path class="c68" d="M393.6 433l1 1.4l1.5 -1.3l-1 -1.4z"/>
<path class="c96" d="M419.9 421.1l1.2 1.4l1.1 -1.4l-1.2 -1.4z"/>
<path class="c144" d="M418 400.5l0.9 1.8l1.2 -1.6l-0.9 -1.9z"/>
<path class="c69" d="M382.6 432.8l1.1 1.4l2.4 -1.6l-1.2 -1.5z"/>
<path class="c75" d="M408.9 429.9l1.4 1.6l1.5 -1.4l-1.4 -1.6z"/>
<path class="c85" d="M416.5 425.9l1.4 1.6l1.5 -1.4l-1.4 -1.6z"/>
<path class="c68" d="M396.1 433.1l1 1.3l1.6 -1.2l-1 -1.4z"/>
<path class="c116" d="M424.5 412.6l1.2 1.5l1.1 -1.4l-1.1 -1.5z"/>
<path class="c99" d="M421 419.7l1.2 1.4l1.2 -1.3l-1.2 -1.5z"/>
<path class="c68" d="M398.7 433.2l1 1.4l1.6 -1.2l-1.1 -1.4z"/>
<path class="c69" d="M402.2 432.7l1.4 1.5l1.9 -1.4l-1.5 -1.6z"/>
<path class="c148" d="M417.1 398.7l0.9 1.8l1.2 -1.7l-0.9 -1.8z"/>
<path class="c72" d="M407.3 431.3l1.4 1.6l1.6 -1.4l-1.4 -1.6z"/>
<path class="c103" d="M422.2 418.3l1.2 1.5l1.1 -1.4l-1.1 -1.5z"/>
<path class="c82" d="M414.9 427.3l1.4 1.6l1.6 -1.4l-1.4 -1.6z"/>
<path class="c152" d="M416.2 396.9l0.9 1.8l1.2 -1.7l-0.9 -1.8z"/>
<path class="c67" d="M390.7 433.9l1.2 1.5l2.3 -1.5l-1.1 -1.5z"/>
<path class="c86" d="M418.7 425.3l1.2 1.4l1.2 -1.4l-1.2 -1.4z"/>
<path class="c106" d="M423.4 416.9l1.1 1.5l1.2 -1.4l-1.2 -1.5z"/>
<path class="c66" d="M394.6 434.4l1 1.3l1.5 -1.3l-1 -1.3z"/>
<path class="c65" d="M397.1 434.4l1.1 1.4l1.5 -1.2l-1 -1.4z"/>
<path class="c79" d="M413.4 428.7l1.4 1.6l1.5 -1.4l-1.4 -1.6z"/>
<path class="c90" d="M419.9 423.9l1.2 1.4l1.1 -1.4l-1.1 -1.4z"/>
<path class="c67" d="M387.2 434l1.2 1.5l2.3 -1.6l-1.1 -1.5z"/>
<path class="c109" d="M424.5 415.5l1.2 1.5l1.2 -1.4l-1.2 -1.5z"/>
<path class="c69" d="M405.5 432.8l1.4 1.5l1.8 -1.4l-1.4 -1.6z"/>
<path class="c66" d="M400.3 434.1l1.4 1.5l1.9 -1.4l-1.4 -1.5z"/>
<path class="c93" d="M421.1 422.5l1.1 1.4l1.2 -1.3l-1.2 -1.5z"/>
<path class="c66" d="M383.7 434.2l1.2 1.4l2.3 -1.6l-1.1 -1.4z"/>
<path class="c113" d="M425.7 414.1l1.2 1.5l1.1 -1.4l-1.2 -1.5z"/>
<path class="c75" d="M411.8 430.1l1.4 1.6l1.6 -1.4l-1.4 -1.6z"/>
<path class="c66" d="M380.2 434.5l1.2 1.4l2.3 -1.7l-1.1 -1.4z"/>
<path class="c96" d="M422.2 421.1l1.2 1.5l1.2 -1.4l-1.2 -1.4z"/>
<path class="c63" d="M395.6 435.7l1 1.3l1.6 -1.2l-1.1 -1.4z"/>
<path class="c64" d="M391.9 435.4l1.2 1.5l2.3 -1.5l-1.2 -1.5z"/>
<path class="c100" d="M423.4 419.8l1.2 1.4l1.1 -1.4l-1.2 -1.4z"/>
<path class="c81" d="M417.9 427.5l1.4 1.7l1.6 -1.4l-1.5 -1.7z"/>
<path class="c72" d="M410.3 431.5l1.4 1.6l1.5 -1.4l-1.4 -1.6z"/>
<path class="c103" d="M424.5 418.4l1.2 1.4l1.2 -1.4l-1.2 -1.4z"/>
<path class="c84" d="M419.9 426.7l1.2 1.4l1.2 -1.4l-1.2 -1.4z"/>
<path class="c66" d="M403.6 434.2l1.4 1.5l1.9 -1.4l-1.4 -1.5z"/>
<path class="c63" d="M398.5 435.5l1.4 1.5l1.8 -1.4l-1.4 -1.5z"/>
<path class="c64" d="M388.4 435.5l1.2 1.5l2.3 -1.6l-1.2 -1.5z"/>
<path class="c79" d="M416.3 428.9l1.5 1.6l1.5 -1.3l-1.4 -1.7z"/>
<path class="c69" d="M408.7 432.9l1.4 1.6l1.6 -1.4l-1.4 -1.6z"/>
<path class="c106" d="M425.7 417l1.2 1.4l1.1 -1.3l-1.1 -1.5z"/>
<path class="c87" d="M421.1 425.3l1.2 1.4l1.1 -1.4l-1.2 -1.4z"/>
<path class="c64" d="M384.9 435.6l1.2 1.5l2.3 -1.6l-1.2 -1.5z"/>
<path class="c90" d="M422.2 423.9l1.2 1.4l1.2 -1.3l-1.2 -1.4z"/>
<path class="c110" d="M426.9 415.6l1.1 1.5l1.2 -1.4l-1.2 -1.5z"/>
<path class="c76" d="M414.8 430.3l1.4 1.6l1.6 -1.4l-1.5 -1.6z"/>
<path class="c63" d="M381.4 435.9l1.2 1.4l2.3 -1.7l-1.2 -1.4z"/>
<path class="c94" d="M423.4 422.6l1.2 1.4l1.1 -1.4l-1.1 -1.4z"/>
<path class="c60" d="M393.1 436.9l1.2 1.5l2.3 -1.4l-1.2 -1.6z"/>
<path class="c66" d="M406.9 434.3l1.4 1.6l1.8 -1.4l-1.4 -1.6z"/>
<path class="c97" d="M424.6 421.2l1.1 1.4l1.2 -1.3l-1.2 -1.5z"/>
<path class="c60" d="M396.6 437l1.4 1.5l1.9 -1.5l-1.4 -1.5z"/>
<path class="c64" d="M401.7 435.6l1.5 1.5l1.8 -1.4l-1.4 -1.5z"/>
<path class="c63" d="M377.9 436l1.4 1.6l2.4 -1.5l-1.5 -1.6z"/>
<path class="c73" d="M413.2 431.7l1.5 1.6l1.5 -1.4l-1.4 -1.6z"/>
<path class="c100" d="M425.7 419.8l1.2 1.5l1.2 -1.4l-1.2 -1.5z"/>
<path class="c61" d="M389.6 437l1.2 1.4l2.3 -1.5l-1.2 -1.5z"/>
<path class="c78" d="M419.3 429.2l1.4 1.6l1.6 -1.4l-1.4 -1.6z"/>
<path class="c81" d="M421.1 428.1l1.2 1.3l1.1 -1.3l-1.1 -1.4z"/>
<path class="c104" d="M426.9 418.4l1.2 1.5l1.1 -1.4l-1.2 -1.4z"/>
<path class="c70" d="M411.7 433.1l1.4 1.5l1.6 -1.3l-1.5 -1.6z"/>
<path class="c84" d="M422.3 426.7l1.1 1.4l1.2 -1.3l-1.2 -1.5z"/>
<path class="c107" d="M428 417.1l1.2 1.4l1.2 -1.3l-1.2 -1.5z"/>
<path class="c61" d="M386.1 437.1l1.2 1.4l2.3 -1.5l-1.2 -1.5z"/>
<path class="c88" d="M423.4 425.3l1.2 1.5l1.2 -1.4l-1.2 -1.4z"/>
<path class="c75" d="M417.8 430.5l1.4 1.7l1.5 -1.4l-1.4 -1.6z"/>
<path class="c64" d="M405 435.7l1.4 1.6l1.9 -1.4l-1.4 -1.6z"/>
<path class="c61" d="M399.9 437l1.4 1.6l1.9 -1.5l-1.5 -1.5z"/>
<path class="c61" d="M382.6 437.3l1.2 1.3l2.3 -1.5l-1.2 -1.5z"/>
<path class="c67" d="M410.1 434.5l1.5 1.5l1.5 -1.4l-1.4 -1.5z"/>
<path class="c91" d="M424.6 424l1.2 1.4l1.1 -1.3l-1.2 -1.5z"/>
<path class="c94" d="M425.7 422.6l1.2 1.5l1.2 -1.4l-1.2 -1.4z"/>
<path class="c73" d="M416.2 431.9l1.4 1.6l1.6 -1.3l-1.4 -1.7z"/>
<path class="c97" d="M426.9 421.3l1.2 1.4l1.1 -1.3l-1.1 -1.5z"/>
<path class="c58" d="M390.8 438.4l1.2 1.5l2.3 -1.5l-1.2 -1.5z"/>
<path class="c57" d="M394.3 438.4l1.8 1.9l2.3 -1.5l-1.8 -1.8z"/>
<path class="c60" d="M375.6 437.6l1.4 1.6l2.3 -1.6l-1.4 -1.6z"/>
<path class="c101" d="M428.1 419.9l1.1 1.5l1.2 -1.4l-1.2 -1.5z"/>
<path class="c60" d="M379.3 437.6l1.4 1.7l2.4 -1.5l-1.4 -1.7z"/>
<path class="c64" d="M408.3 435.9l1.4 1.5l1.9 -1.4l-1.5 -1.5z"/>
<path class="c70" d="M414.7 433.3l1.4 1.6l1.5 -1.4l-1.4 -1.6z"/>
<path class="c104" d="M429.2 418.5l1.2 1.5l1.2 -1.3l-1.2 -1.5z"/>
<path class="c61" d="M403.2 437.1l1.4 1.6l1.8 -1.4l-1.4 -1.6z"/>
<path class="c58" d="M398 438.5l1.4 1.5l1.9 -1.4l-1.4 -1.6z"/>
<path class="c58" d="M387.3 438.5l1.2 1.4l2.3 -1.5l-1.2 -1.4z"/>
<path class="c79" d="M422.3 429.4l1.4 1.5l1.1 -1.3l-1.4 -1.5z"/>
<path class="c82" d="M423.4 428.1l1.4 1.5l1.2 -1.4l-1.4 -1.4z"/>
<path class="c58" d="M383.8 438.6l1.2 1.4l2.3 -1.5l-1.2 -1.4z"/>
<path class="c67" d="M413.1 434.6l1.4 1.6l1.6 -1.3l-1.4 -1.6z"/>
<path class="c85" d="M424.6 426.8l1.4 1.4l1.2 -1.3l-1.4 -1.5z"/>
<path class="c75" d="M420.7 430.8l1.8 1.8l1.5 -1.3l-1.7 -1.9z"/>
<path class="c88" d="M425.8 425.4l1.4 1.5l1.1 -1.3l-1.4 -1.5z"/>
<path class="c61" d="M406.4 437.3l1.4 1.5l1.9 -1.4l-1.4 -1.5z"/>
<path class="c91" d="M426.9 424.1l1.4 1.5l1.2 -1.4l-1.4 -1.5z"/>
<path class="c64" d="M411.6 436l1.4 1.6l1.5 -1.4l-1.4 -1.6z"/>
<path class="c58" d="M401.3 438.6l1.4 1.5l1.9 -1.4l-1.4 -1.6z"/>
<path class="c72" d="M419.2 432.2l1.7 1.7l1.6 -1.3l-1.8 -1.8z"/>
<path class="c95" d="M428.1 422.7l1.4 1.5l1.2 -1.3l-1.5 -1.5z"/>
<path class="c98" d="M429.2 421.4l1.5 1.5l1.1 -1.3l-1.4 -1.6z"/>
<path class="c55" d="M388.5 439.9l1.1 1.5l2.4 -1.5l-1.2 -1.5z"/>
<path class="c57" d="M373.3 439.1l1.4 1.6l2.3 -1.5l-1.4 -1.6z"/>
<path class="c57" d="M380.7 439.3l1.5 1.6l2.3 -1.4l-1.4 -1.7z"/>
<path class="c55" d="M392 439.9l1.7 1.8l2.4 -1.4l-1.8 -1.9z"/>
<path class="c57" d="M377 439.2l1.4 1.5l2.3 -1.4l-1.4 -1.7z"/>
<path class="c101" d="M430.4 420l1.4 1.6l1.2 -1.4l-1.4 -1.5z"/>
<path class="c70" d="M417.6 433.5l1.8 1.8l1.5 -1.4l-1.7 -1.7z"/>
<path class="c61" d="M409.7 437.4l1.4 1.5l1.9 -1.3l-1.4 -1.6z"/>
<path class="c55" d="M385 440l1.1 1.4l2.4 -1.5l-1.2 -1.4z"/>
<path class="c58" d="M404.6 438.7l1.4 1.5l1.8 -1.4l-1.4 -1.5z"/>
<path class="c55" d="M399.4 440l1.5 1.5l1.8 -1.4l-1.4 -1.5z"/>
<path class="c67" d="M416.1 434.9l1.7 1.7l1.6 -1.3l-1.8 -1.8z"/>
<path class="c54" d="M396.1 440.3l1.7 1.8l2.3 -1.4l-1.7 -1.9z"/>
<path class="c76" d="M423.7 430.9l1.4 1.4l1.2 -1.3l-1.5 -1.4z"/>
<path class="c79" d="M424.8 429.6l1.5 1.4l1.1 -1.3l-1.4 -1.5z"/>
<path class="c83" d="M426 428.2l1.4 1.5l1.2 -1.3l-1.4 -1.5z"/>
<path class="c64" d="M414.5 436.2l1.8 1.7l1.5 -1.3l-1.7 -1.7z"/>
<path class="c86" d="M427.2 426.9l1.4 1.5l1.1 -1.3l-1.4 -1.5z"/>
<path class="c58" d="M407.8 438.8l1.5 1.5l1.8 -1.4l-1.4 -1.5z"/>
<path class="c89" d="M428.3 425.6l1.4 1.5l1.2 -1.3l-1.4 -1.6z"/>
<path class="c55" d="M402.7 440.1l1.4 1.5l1.9 -1.4l-1.4 -1.5z"/>
<path class="c92" d="M429.5 424.2l1.4 1.6l1.2 -1.4l-1.4 -1.5z"/>
<path class="c54" d="M371 440.7l1.4 1.5l2.3 -1.5l-1.4 -1.6z"/>
<path class="c53" d="M386.1 441.4l1.2 1.4l2.3 -1.4l-1.1 -1.5z"/>
<path class="c53" d="M382.2 440.9l1.4 1.6l2.3 -1.4l-1.4 -1.6z"/>
<path class="c72" d="M422.5 432.6l1.8 1.8l1.5 -1.3l-1.8 -1.8z"/>
<path class="c95" d="M430.7 422.9l1.4 1.5l1.1 -1.3l-1.4 -1.5z"/>
<path class="c61" d="M413 437.6l1.8 1.7l1.5 -1.4l-1.8 -1.7z"/>
<path class="c54" d="M374.7 440.7l1.4 1.5l2.3 -1.5l-1.4 -1.5z"/>
<path class="c54" d="M378.4 440.7l1.4 1.6l2.4 -1.4l-1.5 -1.6z"/>
<path class="c52" d="M389.6 441.4l1.8 1.8l2.3 -1.5l-1.7 -1.8z"/>
<path class="c98" d="M431.8 421.6l1.4 1.5l1.2 -1.3l-1.4 -1.6z"/>
<path class="c69" d="M420.9 433.9l1.8 1.8l1.6 -1.3l-1.8 -1.8z"/>
<path class="c55" d="M406 440.2l1.4 1.5l1.9 -1.4l-1.5 -1.5z"/>
<path class="c53" d="M400.9 441.5l1.4 1.4l1.8 -1.3l-1.4 -1.5z"/>
<path class="c52" d="M393.7 441.7l1.8 1.9l2.3 -1.5l-1.7 -1.8z"/>
<path class="c58" d="M411.1 438.9l1.8 1.7l1.9 -1.3l-1.8 -1.7z"/>
<path class="c74" d="M425.1 432.3l1.4 1.5l1.2 -1.3l-1.4 -1.5z"/>
<path class="c67" d="M419.4 435.3l1.8 1.7l1.5 -1.3l-1.8 -1.8z"/>
<path class="c77" d="M426.3 431l1.4 1.5l1.1 -1.3l-1.4 -1.5z"/>
<path class="c80" d="M427.4 429.7l1.4 1.5l1.2 -1.3l-1.4 -1.5z"/>
<path class="c51" d="M397.8 442.1l1.8 1.9l2.3 -1.4l-1.8 -1.9z"/>
<path class="c83" d="M428.6 428.4l1.4 1.5l1.2 -1.3l-1.5 -1.5z"/>
<path class="c86" d="M429.7 427.1l1.5 1.5l1.1 -1.3l-1.4 -1.5z"/>
<path class="c52" d="M368.6 442.1l1.4 1.5l2.4 -1.4l-1.4 -1.5z"/>
<path class="c50" d="M383.6 442.5l1.4 1.7l2.3 -1.4l-1.4 -1.7z"/>
<path class="c64" d="M417.8 436.6l1.8 1.8l1.6 -1.4l-1.8 -1.7z"/>
<path class="c53" d="M404.1 441.6l1.4 1.5l1.9 -1.4l-1.4 -1.5z"/>
<path class="c89" d="M430.9 425.8l1.4 1.5l1.2 -1.3l-1.4 -1.6z"/>
<path class="c52" d="M372.4 442.2l1.4 1.5l2.3 -1.5l-1.4 -1.5z"/>
<path class="c51" d="M379.8 442.3l1.5 1.6l2.3 -1.4l-1.4 -1.6z"/>
<path class="c51" d="M376.1 442.2l1.4 1.6l2.3 -1.5l-1.4 -1.6z"/>
<path class="c92" d="M432.1 424.4l1.4 1.6l1.1 -1.3l-1.4 -1.6z"/>
<path class="c50" d="M387.3 442.8l1.8 1.8l2.3 -1.4l-1.8 -1.8z"/>
<path class="c55" d="M409.3 440.3l1.7 1.7l1.9 -1.4l-1.8 -1.7z"/>
<path class="c95" d="M433.2 423.1l1.4 1.6l1.2 -1.3l-1.4 -1.6z"/>
<path class="c61" d="M416.3 437.9l1.8 1.8l1.5 -1.3l-1.8 -1.8z"/>
<path class="c69" d="M424.3 434.4l1.7 1.8l1.6 -1.3l-1.8 -1.8z"/>
<path class="c49" d="M391.4 443.2l1.8 1.8l2.3 -1.4l-1.8 -1.9z"/>
<path class="c50" d="M402.3 442.9l1.4 1.5l1.8 -1.3l-1.4 -1.5z"/>
<path class="c58" d="M414.8 439.3l1.7 1.7l1.6 -1.3l-1.8 -1.8z"/>
<path class="c53" d="M407.4 441.7l1.8 1.7l1.8 -1.4l-1.7 -1.7z"/>
<path class="c71" d="M426.5 433.8l1.4 1.4l1.2 -1.3l-1.4 -1.4z"/>
<path class="c66" d="M422.7 435.7l1.8 1.8l1.5 -1.3l-1.7 -1.8z"/>
<path class="c74" d="M427.7 432.5l1.4 1.4l1.2 -1.2l-1.5 -1.5z"/>
<path class="c48" d="M395.5 443.6l1.8 1.8l2.3 -1.4l-1.8 -1.9z"/>
<path class="c77" d="M428.8 431.2l1.5 1.5l1.1 -1.3l-1.4 -1.5z"/>
<path class="c80" d="M430 429.9l1.4 1.5l1.2 -1.3l-1.4 -1.5z"/>
<path class="c49" d="M366.3 443.5l1.4 1.4l2.3 -1.3l-1.4 -1.5z"/>
<path class="c83" d="M431.2 428.6l1.4 1.5l1.1 -1.3l-1.4 -1.5z"/>
<path class="c48" d="M381.3 443.9l1.4 1.6l2.3 -1.3l-1.4 -1.7z"/>
<path class="c55" d="M412.9 440.6l1.8 1.7l1.8 -1.3l-1.7 -1.7z"/>
<path class="c49" d="M370 443.6l1.5 1.4l2.3 -1.3l-1.4 -1.5z"/>
<path class="c49" d="M373.8 443.7l1.4 1.5l2.3 -1.4l-1.4 -1.6z"/>
<path class="c87" d="M432.3 427.3l1.4 1.5l1.2 -1.3l-1.4 -1.5z"/>
<path class="c49" d="M377.5 443.8l1.4 1.5l2.4 -1.4l-1.5 -1.6z"/>
<path class="c64" d="M421.2 437l1.7 1.8l1.6 -1.3l-1.8 -1.8z"/>
<path class="c90" d="M433.5 426l1.4 1.5l1.2 -1.3l-1.5 -1.5z"/>
<path class="c93" d="M434.6 424.7l1.5 1.5l1.1 -1.3l-1.4 -1.5z"/>
<path class="c48" d="M399.6 444l1.8 1.8l2.3 -1.4l-1.8 -1.8z"/>
<path class="c50" d="M405.5 443.1l1.8 1.6l1.9 -1.3l-1.8 -1.7z"/>
<path class="c47" d="M384.2 444.6l1.8 1.8l3.1 -1.8l-1.8 -1.8z"/>
<path class="c61" d="M419.6 438.4l1.8 1.7l1.5 -1.3l-1.7 -1.8z"/>
<path class="c47" d="M389.1 444.6l1.8 1.8l2.3 -1.4l-1.8 -1.8z"/>
<path class="c53" d="M411 442l1.8 1.7l1.9 -1.4l-1.8 -1.7z"/>
<path class="c58" d="M418.1 439.7l1.7 1.7l1.6 -1.3l-1.8 -1.7z"/>
<path class="c69" d="M427.9 435.2l1.5 1.5l1.1 -1.3l-1.4 -1.5z"/>
<path class="c66" d="M426 436.2l1.8 1.8l1.6 -1.3l-1.8 -1.8z"/>
<path class="c47" d="M403.7 444.4l1.8 1.7l1.8 -1.4l-1.8 -1.6z"/>
<path class="c46" d="M393.2 445l1.8 1.8l2.3 -1.4l-1.8 -1.8z"/>
<path class="c72" d="M429.1 433.9l1.4 1.5l1.2 -1.3l-1.4 -1.4z"/>
<path class="c75" d="M430.3 432.7l1.4 1.4l1.1 -1.2l-1.4 -1.5z"/>
<path class="c78" d="M431.4 431.4l1.4 1.5l1.2 -1.3l-1.4 -1.5z"/>
<path class="c47" d="M364 444.9l1.4 1.4l2.3 -1.4l-1.4 -1.4z"/>
<path class="c55" d="M416.5 441l1.8 1.7l1.5 -1.3l-1.7 -1.7z"/>
<path class="c81" d="M432.6 430.1l1.4 1.5l1.2 -1.3l-1.5 -1.5z"/>
<path class="c46" d="M378.9 445.3l1.5 1.6l2.3 -1.4l-1.4 -1.6z"/>
<path class="c47" d="M367.7 444.9l1.4 1.5l2.4 -1.4l-1.5 -1.4z"/>
<path class="c46" d="M375.2 445.2l1.4 1.5l2.3 -1.4l-1.4 -1.5z"/>
<path class="c46" d="M371.5 445l1.4 1.5l2.3 -1.3l-1.4 -1.5z"/>
<path class="c84" d="M433.7 428.8l1.5 1.5l1.1 -1.3l-1.4 -1.5z"/>
<path class="c87" d="M434.9 427.5l1.4 1.5l1.2 -1.2l-1.4 -1.6z"/>
<path class="c90" d="M436.1 426.2l1.4 1.6l1.1 -1.3l-1.4 -1.6z"/>
<path class="c63" d="M424.5 437.5l1.8 1.8l1.5 -1.3l-1.8 -1.8z"/>
<path class="c50" d="M409.2 443.4l1.7 1.6l1.9 -1.3l-1.8 -1.7z"/>
<path class="c45" d="M397.3 445.4l1.7 1.8l2.4 -1.4l-1.8 -1.8z"/>
<path class="c53" d="M414.7 442.3l1.7 1.7l1.9 -1.3l-1.8 -1.7z"/>
<path class="c61" d="M422.9 438.8l1.8 1.8l1.6 -1.3l-1.8 -1.8z"/>
<path class="c44" d="M386 446.4l1.8 1.8l3.1 -1.8l-1.8 -1.8z"/>
<path class="c44" d="M381.1 446.4l1.8 1.8l3.1 -1.8l-1.8 -1.8z"/>
<path class="c48" d="M407.3 444.7l1.8 1.7l1.8 -1.4l-1.7 -1.6z"/>
<path class="c45" d="M400.6 446.3l1.8 1.6l3.1 -1.8l-1.8 -1.7z"/>
<path class="c58" d="M421.4 440.1l1.8 1.7l1.5 -1.2l-1.8 -1.8z"/>
<path class="c44" d="M390.9 446.4l1.7 1.8l2.4 -1.4l-1.8 -1.8z"/>
<path class="c44" d="M361.7 446.3l1.4 1.4l2.3 -1.4l-1.4 -1.4z"/>
<path class="c43" d="M376.6 446.7l1.4 1.5l2.4 -1.3l-1.5 -1.6z"/>
<path class="c50" d="M412.8 443.7l1.8 1.7l1.8 -1.4l-1.7 -1.7z"/>
<path class="c44" d="M365.4 446.3l1.4 1.4l2.3 -1.3l-1.4 -1.5z"/>
<path class="c44" d="M372.9 446.5l1.4 1.5l2.3 -1.3l-1.4 -1.5z"/>
<path class="c44" d="M369.1 446.4l1.5 1.4l2.3 -1.3l-1.4 -1.5z"/>
<path class="c66" d="M429.4 436.7l1.7 1.6l1.2 -1.2l-1.8 -1.7z"/>
<path class="c55" d="M419.8 441.4l1.8 1.7l1.6 -1.3l-1.8 -1.7z"/>
<path class="c69" d="M430.5 435.4l1.8 1.7l1.1 -1.3l-1.7 -1.7z"/>
<path class="c72" d="M431.7 434.1l1.7 1.7l1.2 -1.2l-1.8 -1.7z"/>
<path class="c43" d="M395 446.8l1.7 1.8l2.3 -1.4l-1.7 -1.8z"/>
<path class="c75" d="M432.8 432.9l1.8 1.7l1.2 -1.3l-1.8 -1.7z"/>
<path class="c78" d="M434 431.6l1.8 1.7l1.1 -1.2l-1.7 -1.8z"/>
<path class="c81" d="M435.2 430.3l1.7 1.8l1.2 -1.3l-1.8 -1.8z"/>
<path class="c84" d="M436.3 429l1.8 1.8l1.1 -1.2l-1.7 -1.8z"/>
<path class="c87" d="M437.5 427.8l1.7 1.8l1.2 -1.3l-1.8 -1.8z"/>
<path class="c63" d="M427.5 438.2l1.8 1.6l1.8 -1.5l-1.7 -1.6z"/>
<path class="c45" d="M405.5 446.1l1.7 1.6l1.9 -1.3l-1.8 -1.7z"/>
<path class="c53" d="M418.3 442.7l1.8 1.7l1.5 -1.3l-1.8 -1.7z"/>
<path class="c47" d="M410.9 445l1.8 1.7l1.9 -1.3l-1.8 -1.7z"/>
<path class="c60" d="M425.6 439.8l1.8 1.5l1.9 -1.5l-1.8 -1.6z"/>
<path class="c50" d="M416.4 444l1.8 1.7l1.9 -1.3l-1.8 -1.7z"/>
<path class="c41" d="M387.8 448.2l1.7 1.8l3.1 -1.8l-1.7 -1.8z"/>
<path class="c41" d="M382.9 448.2l1.8 1.8l3.1 -1.8l-1.8 -1.8z"/>
<path class="c41" d="M378 448.2l1.8 1.8l3.1 -1.8l-1.8 -1.8z"/>
<path class="c42" d="M363.1 447.7l1.4 1.4l2.3 -1.4l-1.4 -1.4z"/>
<path class="c41" d="M374.3 448l1.4 1.5l2.3 -1.3l-1.4 -1.5z"/>
<path class="c41" d="M397.5 448.2l1.8 1.6l3.1 -1.9l-1.8 -1.6z"/>
<path class="c57" d="M423.8 441.3l1.7 1.6l1.9 -1.6l-1.8 -1.5z"/>
<path class="c42" d="M366.8 447.7l1.4 1.5l2.4 -1.4l-1.5 -1.4z"/>
<path class="c42" d="M370.6 447.8l1.4 1.5l2.3 -1.3l-1.4 -1.5z"/>
<path class="c41" d="M392.6 448.2l1.8 1.8l2.3 -1.4l-1.7 -1.8z"/>
<path class="c45" d="M409.1 446.4l1.8 1.6l1.8 -1.3l-1.8 -1.7z"/>
<path class="c42" d="M402.4 447.9l1.7 1.6l3.1 -1.8l-1.7 -1.6z"/>
<path class="c42" d="M358.6 447.9l1.7 1.7l3.1 -1.5l-1.7 -1.8z"/>
<path class="c47" d="M414.6 445.4l1.7 1.6l1.9 -1.3l-1.8 -1.7z"/>
<path class="c54" d="M421.9 442.9l1.8 1.5l1.8 -1.5l-1.7 -1.6z"/>
<path class="c64" d="M431.1 438.3l1.8 1.6l1.2 -1.2l-1.8 -1.6z"/>
<path class="c67" d="M432.3 437.1l1.8 1.6l1.1 -1.2l-1.8 -1.7z"/>
<path class="c69" d="M433.4 435.8l1.8 1.7l1.2 -1.2l-1.8 -1.7z"/>
<path class="c72" d="M434.6 434.6l1.8 1.7l1.1 -1.3l-1.7 -1.7z"/>
<path class="c75" d="M435.8 433.3l1.7 1.7l1.2 -1.2l-1.8 -1.7z"/>
<path class="c78" d="M436.9 432.1l1.8 1.7l1.2 -1.2l-1.8 -1.8z"/>
<path class="c81" d="M438.1 430.8l1.8 1.8l1.1 -1.2l-1.8 -1.8z"/>
<path class="c84" d="M439.2 429.6l1.8 1.8l1.2 -1.3l-1.8 -1.8z"/>
<path class="c42" d="M407.2 447.7l1.8 1.6l1.9 -1.3l-1.8 -1.6z"/>
<path class="c61" d="M429.3 439.8l1.7 1.6l1.9 -1.5l-1.8 -1.6z"/>
<path class="c50" d="M420.1 444.4l1.7 1.5l1.9 -1.5l-1.8 -1.5z"/>
<path class="c45" d="M412.7 446.7l1.8 1.7l1.8 -1.4l-1.7 -1.6z"/>
<path class="c40" d="M364.5 449.1l1.4 1.4l2.3 -1.3l-1.4 -1.5z"/>
<path class="c39" d="M372 449.3l1.4 1.4l2.3 -1.2l-1.4 -1.5z"/>
<path class="c40" d="M368.2 449.2l1.4 1.4l2.4 -1.3l-1.4 -1.5z"/>
<path class="c58" d="M427.4 441.3l1.8 1.6l1.8 -1.5l-1.7 -1.6z"/>
<path class="c38" d="M389.5 450l1.8 1.7l3.1 -1.7l-1.8 -1.8z"/>
<path class="c38" d="M384.7 450l1.7 1.7l3.1 -1.7l-1.7 -1.8z"/>
<path class="c38" d="M394.4 450l1.8 1.6l3.1 -1.8l-1.8 -1.6z"/>
<path class="c38" d="M379.8 450l1.8 1.7l3.1 -1.7l-1.8 -1.8z"/>
<path class="c38" d="M374.9 449.9l1.8 1.7l3.1 -1.6l-1.8 -1.8z"/>
<path class="c39" d="M399.3 449.8l1.7 1.6l3.1 -1.9l-1.7 -1.6z"/>
<path class="c55" d="M425.5 442.9l1.8 1.5l1.9 -1.5l-1.8 -1.6z"/>
<path class="c42" d="M410.9 448l1.7 1.7l1.9 -1.3l-1.8 -1.7z"/>
<path class="c47" d="M417.7 446.1l2.4 1.9l2.3 -1.6l-2.3 -2z"/>
<path class="c39" d="M404.1 449.5l1.8 1.6l3.1 -1.8l-1.8 -1.6z"/>
<path class="c39" d="M360.3 449.6l1.8 1.7l3.1 -1.5l-1.8 -1.7z"/>
<path class="c81" d="M441 431.4l1.8 1.8l1.2 -1.2l-1.8 -1.9z"/>
<path class="c78" d="M439.9 432.6l1.7 1.8l1.2 -1.2l-1.8 -1.8z"/>
<path class="c40" d="M355.5 449.5l1.7 1.6l3.1 -1.5l-1.7 -1.7z"/>
<path class="c75" d="M438.7 433.8l1.8 1.8l1.1 -1.2l-1.7 -1.8z"/>
<path class="c72" d="M437.5 435l1.8 1.8l1.2 -1.2l-1.8 -1.8z"/>
<path class="c70" d="M436.4 436.3l1.7 1.7l1.2 -1.2l-1.8 -1.8z"/>
<path class="c67" d="M435.2 437.5l1.8 1.7l1.1 -1.2l-1.7 -1.7z"/>
<path class="c64" d="M434.1 438.7l1.7 1.7l1.2 -1.2l-1.8 -1.7z"/>
<path class="c61" d="M432.9 439.9l1.8 1.7l1.1 -1.2l-1.7 -1.7z"/>
<path class="c51" d="M423.7 444.4l1.8 1.5l1.8 -1.5l-1.8 -1.5z"/>
<path class="c38" d="M365.9 450.5l1.4 1.4l2.3 -1.3l-1.4 -1.4z"/>
<path class="c40" d="M409 449.3l1.8 1.7l1.8 -1.3l-1.7 -1.7z"/>
<path class="c37" d="M369.6 450.6l1.5 1.4l2.3 -1.3l-1.4 -1.4z"/>
<path class="c58" d="M431 441.4l1.8 1.6l1.9 -1.4l-1.8 -1.7z"/>
<path class="c48" d="M421.8 445.9l1.8 1.5l1.9 -1.5l-1.8 -1.5z"/>
<path class="c44" d="M415.4 447.7l2.4 1.9l2.3 -1.6l-2.4 -1.9z"/>
<path class="c55" d="M429.2 442.9l1.7 1.6l1.9 -1.5l-1.8 -1.6z"/>
<path class="c35" d="M386.4 451.7l1.8 1.8l3.1 -1.8l-1.8 -1.7z"/>
<path class="c35" d="M381.6 451.7l1.7 1.8l3.1 -1.8l-1.7 -1.7z"/>
<path class="c35" d="M376.7 451.6l1.8 1.8l3.1 -1.7l-1.8 -1.7z"/>
<path class="c36" d="M396.2 451.6l1.7 1.6l3.1 -1.8l-1.7 -1.6z"/>
<path class="c36" d="M371.8 451.6l1.8 1.7l3.1 -1.7l-1.8 -1.7z"/>
<path class="c35" d="M391.3 451.7l2.4 2.1l3.1 -1.7l-2.4 -2.1z"/>
<path class="c36" d="M401 451.4l1.8 1.6l3.1 -1.9l-1.8 -1.6z"/>
<path class="c52" d="M427.3 444.4l1.8 1.6l1.8 -1.5l-1.7 -1.6z"/>
<path class="c36" d="M362.1 451.3l1.8 1.7l3.1 -1.5l-1.8 -1.7z"/>
<path class="c37" d="M405.9 451.1l1.8 1.7l3.1 -1.8l-1.8 -1.7z"/>
<path class="c78" d="M442.8 433.2l1.8 1.8l1.1 -1.2l-1.7 -1.8z"/>
<path class="c75" d="M441.6 434.4l1.8 1.7l1.2 -1.1l-1.8 -1.8z"/>
<path class="c41" d="M413.1 449.3l2.4 1.9l2.3 -1.6l-2.4 -1.9z"/>
<path class="c72" d="M440.5 435.6l1.7 1.7l1.2 -1.2l-1.8 -1.7z"/>
<path class="c35" d="M367.3 451.9l1.4 1.3l2.4 -1.2l-1.5 -1.4z"/>
<path class="c70" d="M439.3 436.8l1.8 1.7l1.1 -1.2l-1.7 -1.7z"/>
<path class="c37" d="M357.2 451.1l1.8 1.7l3.1 -1.5l-1.8 -1.7z"/>
<path class="c67" d="M438.1 438l1.8 1.7l1.2 -1.2l-1.8 -1.7z"/>
<path class="c64" d="M437 439.2l1.8 1.6l1.1 -1.1l-1.8 -1.7z"/>
<path class="c61" d="M435.8 440.4l1.8 1.6l1.2 -1.2l-1.8 -1.6z"/>
<path class="c59" d="M434.7 441.6l1.7 1.6l1.2 -1.2l-1.8 -1.6z"/>
<path class="c37" d="M352.4 451.1l1.7 1.6l3.1 -1.6l-1.7 -1.6z"/>
<path class="c49" d="M425.5 445.9l1.7 1.5l1.9 -1.4l-1.8 -1.6z"/>
<path class="c56" d="M432.8 443l1.8 1.6l1.8 -1.4l-1.7 -1.6z"/>
<path class="c44" d="M420.1 448l2.4 2l2.3 -1.6l-2.4 -2z"/>
<path class="c38" d="M410.8 451l2.3 1.8l2.4 -1.6l-2.4 -1.9z"/>
<path class="c46" d="M423.6 447.4l1.8 1.5l1.8 -1.5l-1.7 -1.5z"/>
<path class="c32" d="M383.3 453.5l1.8 1.7l3.1 -1.7l-1.8 -1.8z"/>
<path class="c32" d="M378.5 453.4l1.7 1.7l3.1 -1.6l-1.7 -1.8z"/>
<path class="c53" d="M430.9 444.5l1.8 1.6l1.9 -1.5l-1.8 -1.6z"/>
<path class="c33" d="M373.6 453.3l1.8 1.7l3.1 -1.6l-1.8 -1.8z"/>
<path class="c33" d="M368.7 453.2l1.8 1.7l3.1 -1.6l-1.8 -1.7z"/>
<path class="c33" d="M397.9 453.2l1.8 1.6l3.1 -1.8l-1.8 -1.6z"/>
<path class="c32" d="M388.2 453.5l2.4 2l3.1 -1.7l-2.4 -2.1z"/>
<path class="c34" d="M402.8 453l1.8 1.6l3.1 -1.8l-1.8 -1.7z"/>
<path class="c34" d="M363.9 453l1.7 1.7l3.1 -1.5l-1.7 -1.7z"/>
<path class="c41" d="M417.8 449.6l2.3 1.9l2.4 -1.5l-2.4 -2z"/>
<path class="c50" d="M429.1 446l1.8 1.5l1.8 -1.4l-1.8 -1.6z"/>
<path class="c34" d="M359 452.8l1.8 1.6l3.1 -1.4l-1.8 -1.7z"/>
<path class="c75" d="M444.4 435.1l2.4 2l1.3 -1.3l-2.4 -2z"/>
<path class="c35" d="M354.1 452.7l1.8 1.6l3.1 -1.5l-1.8 -1.7z"/>
<path class="c32" d="M393.7 453.8l2.3 2.1l3.1 -1.7l-2.3 -2.1z"/>
<path class="c72" d="M443.1 436.5l2.3 1.9l1.4 -1.3l-2.4 -2z"/>
<path class="c35" d="M407.7 452.8l2.3 1.8l3.1 -1.8l-2.3 -1.8z"/>
<path class="c69" d="M441.7 437.8l2.4 1.9l1.3 -1.3l-2.3 -1.9z"/>
<path class="c47" d="M427.2 447.4l1.8 1.5l1.9 -1.4l-1.8 -1.5z"/>
<path class="c66" d="M440.4 439.2l2.4 1.8l1.3 -1.3l-2.4 -1.9z"/>
<path class="c63" d="M439.1 440.5l2.3 1.8l1.4 -1.3l-2.4 -1.8z"/>
<path class="c60" d="M437.8 441.8l2.3 1.8l1.3 -1.3l-2.3 -1.8z"/>
<path class="c57" d="M436.4 443.2l2.4 1.7l1.3 -1.3l-2.3 -1.8z"/>
<path class="c38" d="M415.5 451.2l2.3 1.9l2.3 -1.6l-2.3 -1.9z"/>
<path class="c30" d="M380.2 455.1l1.8 1.7l3.1 -1.6l-1.8 -1.7z"/>
<path class="c44" d="M425.4 448.9l1.7 1.5l1.9 -1.5l-1.8 -1.5z"/>
<path class="c30" d="M375.4 455l1.7 1.7l3.1 -1.6l-1.7 -1.7z"/>
<path class="c30" d="M370.5 454.9l1.8 1.7l3.1 -1.6l-1.8 -1.7z"/>
<path class="c29" d="M385.1 455.2l2.4 2.1l3.1 -1.8l-2.4 -2z"/>
<path class="c35" d="M347.7 453.1l2.4 2.1l4.6 -2l-2.3 -2.1z"/>
<path class="c31" d="M399.7 454.8l1.8 1.5l3.1 -1.7l-1.8 -1.6z"/>
<path class="c41" d="M422.5 450l2.3 1.9l2.3 -1.5l-2.3 -2z"/>
<path class="c32" d="M360.8 454.4l1.7 1.7l3.1 -1.4l-1.7 -1.7z"/>
<path class="c35" d="M413.1 452.8l2.4 1.9l2.3 -1.6l-2.3 -1.9z"/>
<path class="c53" d="M434.6 444.6l3.5 2.6l1.9 -1.4l-3.6 -2.6z"/>
<path class="c30" d="M364.1 455.4l1.8 1.6l4.6 -2.1l-1.8 -1.7z"/>
<path class="c32" d="M355.9 454.3l1.8 1.6l3.1 -1.5l-1.8 -1.6z"/>
<path class="c32" d="M404.6 454.6l2.3 1.7l3.1 -1.7l-2.3 -1.8z"/>
<path class="c29" d="M390.6 455.5l2.3 2.1l3.1 -1.7l-2.3 -2.1z"/>
<path class="c50" d="M432.7 446.1l3.6 2.5l1.8 -1.4l-3.5 -2.6z"/>
<path class="c39" d="M420.1 451.5l2.4 2l2.3 -1.6l-2.3 -1.9z"/>
<path class="c29" d="M396 455.9l2.4 2.1l3.1 -1.7l-2.4 -2.1z"/>
<path class="c27" d="M377.1 456.7l1.8 1.7l3.1 -1.6l-1.8 -1.7z"/>
<path class="c72" d="M446.8 437.1l2.3 1.9l1.3 -1.3l-2.3 -1.9z"/>
<path class="c28" d="M372.3 456.6l1.7 1.7l3.1 -1.6l-1.7 -1.7z"/>
<path class="c69" d="M445.4 438.4l2.4 1.9l1.3 -1.3l-2.3 -1.9z"/>
<path class="c47" d="M430.9 447.5l3.5 2.5l1.9 -1.4l-3.6 -2.5z"/>
<path class="c27" d="M382 456.8l2.4 2l3.1 -1.5l-2.4 -2.1z"/>
<path class="c66" d="M444.1 439.7l2.4 1.9l1.3 -1.3l-2.4 -1.9z"/>
<path class="c32" d="M410 454.6l2.4 1.8l3.1 -1.7l-2.4 -1.9z"/>
<path class="c63" d="M442.8 441l2.3 1.8l1.4 -1.2l-2.4 -1.9z"/>
<path class="c60" d="M441.4 442.3l2.4 1.8l1.3 -1.3l-2.3 -1.8z"/>
<path class="c57" d="M440.1 443.6l2.4 1.8l1.3 -1.3l-2.4 -1.8z"/>
<path class="c36" d="M417.8 453.1l2.4 1.9l2.3 -1.5l-2.4 -2z"/>
<path class="c54" d="M438.8 444.9l2.4 1.8l1.3 -1.3l-2.4 -1.8z"/>
<path class="c45" d="M429 448.9l3.5 2.5l1.9 -1.4l-3.5 -2.5z"/>
<path class="c29" d="M401.5 456.3l2.3 1.8l3.1 -1.8l-2.3 -1.7z"/>
<path class="c28" d="M365.9 457l1.7 1.7l4.7 -2.1l-1.8 -1.7z"/>
<path class="c31" d="M350.1 455.2l2.3 2.1l4.7 -2l-2.4 -2.1z"/>
<path class="c26" d="M387.5 457.3l2.3 2l3.1 -1.7l-2.3 -2.1z"/>
<path class="c30" d="M357.7 455.9l1.7 1.6l3.1 -1.4l-1.7 -1.7z"/>
<path class="c42" d="M427.1 450.4l3.6 2.4l1.8 -1.4l-3.5 -2.5z"/>
<path class="c32" d="M343.1 455.2l2.3 2l4.7 -2l-2.4 -2.1z"/>
<path class="c33" d="M415.5 454.7l2.3 1.8l2.4 -1.5l-2.4 -1.9z"/>
<path class="c26" d="M392.9 457.6l2.4 2.1l3.1 -1.7l-2.4 -2.1z"/>
<path class="c25" d="M374 458.3l1.8 1.7l3.1 -1.6l-1.8 -1.7z"/>
<path class="c29" d="M406.9 456.3l2.4 1.8l3.1 -1.7l-2.4 -1.8z"/>
<path class="c24" d="M378.9 458.4l2.4 2l3.1 -1.6l-2.4 -2z"/>
<path class="c28" d="M359.4 457.5l1.8 1.6l4.7 -2.1l-1.8 -1.6z"/>
<path class="c39" d="M424.8 451.9l3.6 2.4l2.3 -1.5l-3.6 -2.4z"/>
<path class="c25" d="M367.6 458.7l1.8 1.7l4.6 -2.1l-1.7 -1.7z"/>
<path class="c69" d="M449.1 439l2.4 1.9l1.3 -1.2l-2.4 -2z"/>
<path class="c24" d="M384.4 458.8l2.3 2.1l3.1 -1.6l-2.3 -2z"/>
<path class="c66" d="M447.8 440.3l2.3 1.9l1.4 -1.3l-2.4 -1.9z"/>
<path class="c64" d="M446.5 441.6l2.3 1.8l1.3 -1.2l-2.3 -1.9z"/>
<path class="c30" d="M412.4 456.4l2.4 1.8l3 -1.7l-2.3 -1.8z"/>
<path class="c61" d="M445.1 442.8l2.4 1.9l1.3 -1.3l-2.3 -1.8z"/>
<path class="c58" d="M443.8 444.1l2.4 1.8l1.3 -1.2l-2.4 -1.9z"/>
<path class="c50" d="M438.1 447.2l3.6 2.6l1.8 -1.4l-3.5 -2.6z"/>
<path class="c36" d="M422.5 453.5l3.5 2.3l2.4 -1.5l-3.6 -2.4z"/>
<path class="c25" d="M398.4 458l3.5 2.6l3.1 -1.6l-3.5 -2.7z"/>
<path class="c28" d="M352.4 457.3l2.4 2.1l4.6 -1.9l-2.3 -2.2z"/>
<path class="c55" d="M442.5 445.4l2.3 1.8l1.4 -1.3l-2.4 -1.8z"/>
<path class="c23" d="M389.8 459.3l2.4 2.1l3.1 -1.7l-2.4 -2.1z"/>
<path class="c52" d="M441.2 446.7l2.3 1.7l1.3 -1.2l-2.3 -1.8z"/>
<path class="c27" d="M403.8 458.1l2.4 1.8l3.1 -1.8l-2.4 -1.8z"/>
<path class="c47" d="M436.3 448.6l3.5 2.5l1.9 -1.3l-3.6 -2.6z"/>
<path class="c22" d="M375.8 460l2.4 2l3.1 -1.6l-2.4 -2z"/>
<path class="c25" d="M361.2 459.1l1.8 1.7l4.6 -2.1l-1.7 -1.7z"/>
<path class="c29" d="M345.4 457.2l2.4 2l4.6 -1.9l-2.3 -2.1z"/>
<path class="c22" d="M369.4 460.4l1.8 1.7l4.6 -2.1l-1.8 -1.7z"/>
<path class="c33" d="M420.2 455l3.5 2.3l2.3 -1.5l-3.5 -2.3z"/>
<path class="c45" d="M434.4 450l3.5 2.5l1.9 -1.4l-3.5 -2.5z"/>
<path class="c22" d="M381.3 460.4l2.3 2l3.1 -1.5l-2.3 -2.1z"/>
<path class="c27" d="M409.3 458.1l2.4 1.8l3.1 -1.7l-2.4 -1.8z"/>
<path class="c23" d="M395.3 459.7l3.5 2.5l3.1 -1.6l-3.5 -2.6z"/>
<path class="c42" d="M432.5 451.4l3.6 2.4l1.8 -1.3l-3.5 -2.5z"/>
<path class="c21" d="M386.7 460.9l2.4 2l3.1 -1.5l-2.4 -2.1z"/>
<path class="c31" d="M417.9 456.5l3.5 2.3l2.3 -1.5l-3.5 -2.3z"/>
<path class="c25" d="M354.8 459.4l1.8 1.6l4.6 -1.9l-1.8 -1.6z"/>
<path class="c22" d="M363 460.8l1.8 1.7l4.6 -2.1l-1.8 -1.7z"/>
<path class="c39" d="M430.7 452.8l3.5 2.4l1.9 -1.4l-3.6 -2.4z"/>
<path class="c20" d="M371.2 462.1l2.3 1.9l4.7 -2l-2.4 -2z"/>
<path class="c25" d="M406.2 459.9l2.4 1.7l3.1 -1.7l-2.4 -1.8z"/>
<path class="c19" d="M378.2 462l2.3 2l3.1 -1.6l-2.3 -2z"/>
<path class="c26" d="M347.8 459.2l2.4 2l4.6 -1.8l-2.4 -2.1z"/>
<path class="c28" d="M414.8 458.2l3.5 2.2l3.1 -1.6l-3.6 -2.3z"/>
<path class="c37" d="M428.4 454.3l3.5 2.3l2.3 -1.4l-3.5 -2.4z"/>
<path class="c30" d="M333.8 458.5l2.4 2l9.2 -3.3l-2.3 -2z"/>
<path class="c20" d="M392.2 461.4l3.5 2.5l3.1 -1.7l-3.5 -2.5z"/>
<path class="c19" d="M383.6 462.4l2.4 2.1l3.1 -1.6l-2.4 -2z"/>
<path class="c23" d="M356.6 461l1.7 1.7l4.7 -1.9l-1.8 -1.7z"/>
<path class="c20" d="M364.8 462.5l1.7 1.6l4.7 -2l-1.8 -1.7z"/>
<path class="c22" d="M401.9 460.6l3.6 2.6l3.1 -1.6l-3.6 -2.6z"/>
<path class="c34" d="M426 455.8l3.6 2.3l2.3 -1.5l-3.5 -2.3z"/>
<path class="c50" d="M441.7 449.8l3.5 0.9l1.8 -1.3l-3.5 -1z"/>
<path class="c25" d="M411.7 459.9l3.5 2.2l3.1 -1.7l-3.5 -2.2z"/>
<path class="c18" d="M389.1 462.9l3.5 2.5l3.1 -1.5l-3.5 -2.5z"/>
<path class="c23" d="M350.2 461.2l1.7 1.7l4.7 -1.9l-1.8 -1.6z"/>
<path class="c31" d="M423.7 457.3l3.6 2.3l2.3 -1.5l-3.6 -2.3z"/>
<path class="c20" d="M358.3 462.7l1.8 1.6l4.7 -1.8l-1.8 -1.7z"/>
<path class="c17" d="M373.5 464l2.4 2l4.6 -2l-2.3 -2z"/>
<path class="c16" d="M380.5 464l2.4 2l3.1 -1.5l-2.4 -2.1z"/>
<path class="c47" d="M439.8 451.1l3.5 1l1.9 -1.4l-3.5 -0.9z"/>
<path class="c20" d="M398.8 462.2l3.6 2.6l3.1 -1.6l-3.6 -2.6z"/>
<path class="c27" d="M336.2 460.5l2.3 1.9l9.3 -3.2l-2.4 -2z"/>
<path class="c17" d="M366.5 464.1l2.4 2l4.6 -2.1l-2.3 -1.9z"/>
<path class="c44" d="M437.9 452.5l3.6 1l1.8 -1.4l-3.5 -1z"/>
<path class="c29" d="M421.4 458.8l3.5 2.2l2.4 -1.4l-3.6 -2.3z"/>
<path class="c23" d="M408.6 461.6l3.5 2.2l3.1 -1.7l-3.5 -2.2z"/>
<path class="c42" d="M436.1 453.8l3.5 1.1l1.9 -1.4l-3.6 -1z"/>
<path class="c21" d="M351.9 462.9l1.8 1.6l4.6 -1.8l-1.7 -1.7z"/>
<path class="c16" d="M386 464.5l3.5 2.4l3.1 -1.5l-3.5 -2.5z"/>
<path class="c18" d="M360.1 464.3l1.8 1.6l4.6 -1.8l-1.7 -1.6z"/>
<path class="c39" d="M434.2 455.2l3.6 1.1l1.8 -1.4l-3.5 -1.1z"/>
<path class="c18" d="M395.7 463.9l3.6 2.5l3.1 -1.6l-3.6 -2.6z"/>
<path class="c26" d="M418.3 460.4l3.5 2.2l3.1 -1.6l-3.5 -2.2z"/>
<path class="c14" d="M375.9 466l2.4 2l4.6 -2l-2.4 -2z"/>
<path class="c24" d="M338.5 462.4l2.4 2l9.3 -3.2l-2.4 -2z"/>
<path class="c36" d="M431.9 456.6l3.5 1.2l2.4 -1.5l-3.6 -1.1z"/>
<path class="c14" d="M368.9 466.1l2.3 1.9l4.7 -2l-2.4 -2z"/>
<path class="c18" d="M353.7 464.5l1.8 1.6l4.6 -1.8l-1.8 -1.6z"/>
<path class="c14" d="M382.9 466l3.5 2.4l3.1 -1.5l-3.5 -2.4z"/>
<path class="c15" d="M361.9 465.9l2.3 2l4.7 -1.8l-2.4 -2z"/>
<path class="c34" d="M429.6 458.1l3.5 1.2l2.3 -1.5l-3.5 -1.2z"/>
<path class="c15" d="M392.6 465.4l3.6 2.5l3.1 -1.5l-3.6 -2.5z"/>
<path class="c24" d="M415.2 462.1l3.5 2.2l3.1 -1.7l-3.5 -2.2z"/>
<path class="c16" d="M355.5 466.1l1.7 1.7l4.7 -1.9l-1.8 -1.6z"/>
<path class="c31" d="M427.3 459.6l3.5 1.2l2.3 -1.5l-3.5 -1.2z"/>
<path class="c22" d="M340.9 464.4l1.7 1.6l9.3 -3.1l-1.7 -1.7z"/>
<path class="c28" d="M324.5 461.2l2.4 1.9l9.3 -2.6l-2.4 -2z"/>
<path class="c19" d="M405.5 463.2l7 4.2l3.1 -1.5l-7 -4.3z"/>
<path class="c52" d="M445.2 450.7l3.5 1l1.9 -1.4l-3.6 -0.9z"/>
<path class="c12" d="M371.2 468l2.4 2l4.7 -2l-2.4 -2z"/>
<path class="c21" d="M412.1 463.8l3.5 2.1l3.1 -1.6l-3.5 -2.2z"/>
<path class="c13" d="M389.5 466.9l3.6 2.4l3.1 -1.4l-3.6 -2.5z"/>
<path class="c12" d="M378.3 468l3.5 2.4l4.6 -2l-3.5 -2.4z"/>
<path class="c49" d="M443.3 452.1l3.6 1l1.8 -1.4l-3.5 -1z"/>
<path class="c28" d="M424.9 461l3.6 1.3l2.3 -1.5l-3.5 -1.2z"/>
<path class="c12" d="M364.2 467.9l2.4 1.9l4.6 -1.8l-2.3 -1.9z"/>
<path class="c46" d="M441.5 453.5l3.5 1.1l1.9 -1.5l-3.6 -1z"/>
<path class="c19" d="M342.6 466l1.8 1.6l9.3 -3.1l-1.8 -1.6z"/>
<path class="c13" d="M357.2 467.8l2.4 1.9l4.6 -1.8l-2.3 -2z"/>
<path class="c17" d="M402.4 464.8l7 4.1l3.1 -1.5l-7 -4.2z"/>
<path class="c43" d="M439.6 454.9l3.6 1.1l1.8 -1.4l-3.5 -1.1z"/>
<path class="c26" d="M326.9 463.1l2.3 1.9l9.3 -2.6l-2.3 -1.9z"/>
<path class="c41" d="M437.8 456.3l3.5 1.1l1.9 -1.4l-3.6 -1.1z"/>
<path class="c11" d="M386.4 468.4l3.6 2.4l3.1 -1.5l-3.6 -2.4z"/>
<path class="c17" d="M344.4 467.6l1.8 1.6l9.3 -3.1l-1.8 -1.6z"/>
<path class="c38" d="M435.4 457.8l3.6 1.1l2.3 -1.5l-3.5 -1.1z"/>
<path class="c10" d="M366.6 469.8l2.4 2l4.6 -1.8l-2.4 -2z"/>
<path class="c15" d="M399.3 466.4l7 4.1l3.1 -1.6l-7 -4.1z"/>
<path class="c9" d="M373.6 470l3.6 2.3l4.6 -1.9l-3.5 -2.4z"/>
<path class="c35" d="M433.1 459.3l3.6 1.2l2.3 -1.6l-3.6 -1.1z"/>
<path class="c11" d="M359.6 469.7l2.4 1.9l4.6 -1.8l-2.4 -1.9z"/>
<path class="c14" d="M346.2 469.2l1.7 1.6l9.3 -3l-1.7 -1.7z"/>
<path class="c26" d="M421.8 462.6l7.1 2.6l3.1 -1.7l-7.1 -2.5z"/>
<path class="c23" d="M329.2 465l2.4 2l9.3 -2.6l-2.4 -2z"/>
<path class="c9" d="M381.8 470.4l3.5 2.3l4.7 -1.9l-3.6 -2.4z"/>
<path class="c32" d="M430.8 460.8l3.5 1.2l2.4 -1.5l-3.6 -1.2z"/>
<path class="c12" d="M394.6 468.6l7.1 4l4.6 -2.1l-7 -4.1z"/>
<path class="c30" d="M428.5 462.3l3.5 1.2l2.3 -1.5l-3.5 -1.2z"/>
<path class="c24" d="M418.7 464.3l7.1 2.6l3.1 -1.7l-7.1 -2.6z"/>
<path class="c8" d="M362 471.6l2.3 1.9l4.7 -1.7l-2.4 -2z"/>
<path class="c12" d="M348 470.8l2.3 1.9l9.3 -3l-2.4 -1.9z"/>
<path class="c20" d="M331.6 467l2.3 2.1l9.3 -2.5l-2.3 -2.2z"/>
<path class="c7" d="M377.2 472.3l3.5 2.3l4.6 -1.9l-3.5 -2.3z"/>
<path class="c40" d="M439 458.9l2.3 0.3l2.4 -1.6l-2.4 -0.2z"/>
<path class="c21" d="M415.6 465.9l7.1 2.7l3.1 -1.7l-7.1 -2.6z"/>
<path class="c7" d="M364.3 473.5l3.6 2.3l9.3 -3.5l-3.6 -2.3z"/>
<path class="c10" d="M390 470.8l7.1 3.9l4.6 -2.1l-7.1 -4z"/>
<path class="c37" d="M436.7 460.5l2.3 0.2l2.3 -1.5l-2.3 -0.3z"/>
<path class="c9" d="M350.3 472.7l2.4 1.9l9.3 -3l-2.4 -1.9z"/>
<path class="c17" d="M333.9 469.1l2.4 2.2l9.3 -2.6l-2.4 -2.1z"/>
<path class="c19" d="M412.5 467.4l7.1 2.8l3.1 -1.6l-7.1 -2.7z"/>
<path class="c34" d="M434.3 462l2.4 0.3l2.3 -1.6l-2.3 -0.2z"/>
<path class="c31" d="M432 463.5l2.4 0.3l2.3 -1.5l-2.4 -0.3z"/>
<path class="c17" d="M409.4 468.9l7.1 2.9l3.1 -1.6l-7.1 -2.8z"/>
<path class="c13" d="M336.3 471.3l2.4 2.1l9.2 -2.6l-2.3 -2.1z"/>
<path class="c7" d="M385.3 472.7l7.1 3.9l4.7 -1.9l-7.1 -3.9z"/>
<path class="c6" d="M352.7 474.6l2.3 1.9l9.3 -3l-2.3 -1.9z"/>
<path class="c29" d="M428.9 465.2l2.4 0.4l3.1 -1.8l-2.4 -0.3z"/>
<path class="c43" d="M441.3 459.2l2.4 0.2l2.3 -1.6l-2.3 -0.2z"/>
<path class="c5" d="M367.9 475.8l3.5 2.2l9.3 -3.4l-3.5 -2.3z"/>
<path class="c40" d="M439 460.7l2.4 0.3l2.3 -1.6l-2.4 -0.2z"/>
<path class="c14" d="M406.3 470.5l7.1 2.9l3.1 -1.6l-7.1 -2.9z"/>
<path class="c26" d="M425.8 466.9l2.4 0.4l3.1 -1.7l-2.4 -0.4z"/>
<path class="c11" d="M338.7 473.4l2.3 1.9l9.3 -2.6l-2.3 -1.9z"/>
<path class="c37" d="M436.7 462.3l2.4 0.3l2.3 -1.6l-2.4 -0.3z"/>
<path class="c5" d="M380.7 474.6l7.1 3.8l4.6 -1.8l-7.1 -3.9z"/>
<path class="c34" d="M434.4 463.8l2.3 0.3l2.4 -1.5l-2.4 -0.3z"/>
<path class="c4" d="M355 476.5l3.6 2.2l9.3 -2.9l-3.6 -2.3z"/>
<path class="c23" d="M422.7 468.6l2.4 0.4l3.1 -1.7l-2.4 -0.4z"/>
<path class="c12" d="M401.7 472.6l7.1 3l4.6 -2.2l-7.1 -2.9z"/>
<path class="c31" d="M431.3 465.6l2.3 0.3l3.1 -1.8l-2.3 -0.3z"/>
<path class="c46" d="M443.7 459.4l2.4 0.2l2.3 -1.6l-2.4 -0.2z"/>
<path class="c8" d="M341 475.3l2.4 1.9l9.3 -2.6l-2.4 -1.9z"/>
<path class="c43" d="M441.4 461l2.3 0.2l2.4 -1.6l-2.4 -0.2z"/>
<path class="c28" d="M428.2 467.3l2.3 0.4l3.1 -1.8l-2.3 -0.3z"/>
<path class="c21" d="M419.6 470.2l3.6 0.7l3.1 -1.7l-3.6 -0.6z"/>
<path class="c39" d="M439.1 462.6l2.3 0.2l2.3 -1.6l-2.3 -0.2z"/>
<path class="c9" d="M397.1 474.7l7 3.1l4.7 -2.2l-7.1 -3z"/>
<path class="c6" d="M343.4 477.2l2.3 1.8l9.3 -2.5l-2.3 -1.9z"/>
<path class="c36" d="M436.7 464.1l2.4 0.4l2.3 -1.7l-2.3 -0.2z"/>
<path class="c25" d="M425.1 469l2.3 0.4l3.1 -1.7l-2.3 -0.4z"/>
<path class="c2" d="M358.6 478.7l3.5 2.2l9.3 -2.9l-3.5 -2.2z"/>
<path class="c3" d="M371.4 478l7.1 3.7l9.3 -3.3l-7.1 -3.8z"/>
<path class="c19" d="M416.5 471.8l3.6 0.7l3.1 -1.6l-3.6 -0.7z"/>
<path class="c33" d="M433.6 465.9l2.4 0.4l3.1 -1.8l-2.4 -0.4z"/>
<path class="c6" d="M392.4 476.6l7.1 3.1l4.6 -1.9l-7 -3.1z"/>
<path class="c16" d="M413.4 473.4l3.6 0.8l3.1 -1.7l-3.6 -0.7z"/>
<path class="c30" d="M430.5 467.7l2.4 0.4l3.1 -1.8l-2.4 -0.4z"/>
<path class="c4" d="M345.7 479l3.6 2.2l9.3 -2.5l-3.6 -2.2z"/>
<path class="c14" d="M410.3 474.9l3.6 0.8l3.1 -1.5l-3.6 -0.8z"/>
<path class="c28" d="M427.4 469.4l2.4 0.5l3.1 -1.8l-2.4 -0.4z"/>
<path class="c24" d="M423.2 470.9l3.5 0.6l3.1 -1.6l-3.5 -0.7z"/>
<path class="c36" d="M436 466.3l1.8 -0.1l3.1 -1.8l-1.8 0.1z"/>
<path class="c4" d="M387.8 478.4l7 3.2l4.7 -1.9l-7.1 -3.1z"/>
<path class="c12" d="M407.2 476.3l3.6 0.9l3.1 -1.5l-3.6 -0.8z"/>
<path class="c33" d="M432.9 468.1l1.8 -0.1l3.1 -1.8l-1.8 0.1z"/>
<path class="c22" d="M420.1 472.5l3.5 0.7l3.1 -1.7l-3.5 -0.6z"/>
<path class="c1" d="M362.1 480.9l7.1 3.7l9.3 -2.9l-7.1 -3.7z"/>
<path class="c10" d="M404.1 477.8l3.6 0.9l3.1 -1.5l-3.6 -0.9z"/>
<path class="c2" d="M349.3 481.2l3.5 2.2l9.3 -2.5l-3.5 -2.2z"/>
<path class="c30" d="M429.8 469.9l1.8 -0.1l3.1 -1.8l-1.8 0.1z"/>
<path class="c19" d="M417 474.2l3.5 0.7l3.1 -1.7l-3.5 -0.7z"/>
<path class="c39" d="M437.8 466.2l1.7 0l3.1 -1.8l-1.7 0z"/>
<path class="c27" d="M426.7 471.5l1.8 0l3.1 -1.7l-1.8 0.1z"/>
<path class="c36" d="M434.7 468l1.7 0l3.1 -1.8l-1.7 0z"/>
<path class="c17" d="M413.9 475.7l3.5 0.8l3.1 -1.6l-3.5 -0.7z"/>
<path class="c8" d="M399.5 479.7l3.5 1l4.7 -2l-3.6 -0.9z"/>
<path class="c2" d="M378.5 481.7l7.1 3.3l9.2 -3.4l-7 -3.2z"/>
<path class="c24" d="M423.6 473.2l1.8 0l3.1 -1.7l-1.8 0z"/>
<path class="c33" d="M431.6 469.8l1.7 0l3.1 -1.8l-1.7 0z"/>
<path class="c41" d="M439.5 466.2l1.8 0l3.1 -1.9l-1.8 0.1z"/>
<path class="c14" d="M410.8 477.2l3.5 0.9l3.1 -1.6l-3.5 -0.8z"/>
<path class="c22" d="M420.5 474.9l1.8 0l3.1 -1.7l-1.8 0z"/>
<path class="c30" d="M428.5 471.5l1.7 0l3.1 -1.7l-1.7 0z"/>
<path class="c38" d="M436.4 468l1.8 0l3.1 -1.8l-1.8 0z"/>
<path class="c6" d="M394.8 481.6l3.6 1l4.6 -1.9l-3.5 -1z"/>
<path class="c12" d="M407.7 478.7l3.5 0.9l3.1 -1.5l-3.5 -0.9z"/>
<path class="c19" d="M417.4 476.5l1.8 0l3.1 -1.6l-1.8 0z"/>
<path class="c27" d="M425.4 473.2l1.7 0l3.1 -1.7l-1.7 0z"/>
<path class="c35" d="M433.3 469.8l1.8 0l3.1 -1.8l-1.8 0z"/>
<path class="c0" d="M352.8 483.4l7.1 3.6l9.3 -2.4l-7.1 -3.7z"/>
<path class="c44" d="M441.3 466.2l1.8 -0.1l3.1 -1.8l-1.8 0z"/>
<path class="c10" d="M403 480.7l3.6 0.9l4.6 -2l-3.5 -0.9z"/>
<path class="c24" d="M422.3 474.9l1.7 0l3.1 -1.7l-1.7 0z"/>
<path class="c17" d="M414.3 478.1l1.8 0l3.1 -1.6l-1.8 0z"/>
<path class="c32" d="M430.2 471.5l1.8 0l3.1 -1.7l-1.8 0z"/>
<path class="c41" d="M438.2 468l1.8 -0.1l3.1 -1.8l-1.8 0.1z"/>
<path class="c0" d="M369.2 484.6l7.1 3.2l9.3 -2.8l-7.1 -3.3z"/>
<path class="c22" d="M419.2 476.5l1.8 0l3 -1.6l-1.7 0z"/>
<path class="c30" d="M427.1 473.2l1.8 0l3.1 -1.7l-1.8 0z"/>
<path class="c15" d="M411.2 479.6l1.8 0.1l3.1 -1.6l-1.8 0z"/>
<path class="c38" d="M435.1 469.8l1.8 0l3.1 -1.9l-1.8 0.1z"/>
<path class="c3" d="M385.6 485l3.5 1l9.3 -3.4l-3.6 -1z"/>
<path class="c8" d="M398.4 482.6l3.5 1l4.7 -2l-3.6 -0.9z"/>
<path class="c27" d="M424 474.9l1.8 0l3.1 -1.7l-1.8 0z"/>
<path class="c19" d="M416.1 478.1l1.8 0l3.1 -1.6l-1.8 0z"/>
<path class="c35" d="M432 471.5l1.8 0l3.1 -1.7l-1.8 0z"/>
<path class="c13" d="M406.6 481.6l2.3 0.1l4.7 -2l-2.4 -0.1z"/>
<path class="c24" d="M421 476.5l1.7 0l3.1 -1.6l-1.8 0z"/>
<path class="c32" d="M428.9 473.2l1.8 0l3.1 -1.7l-1.8 0z"/>
<path class="c17" d="M413 479.7l1.8 0l3.1 -1.6l-1.8 0z"/>
<path class="c29" d="M425.8 474.9l1.8 0l3.1 -1.7l-1.8 0z"/>
<path class="c22" d="M417.9 478.1l1.7 0l3.1 -1.6l-1.7 0z"/>
<path class="c37" d="M433.8 471.5l1.8 0.1l3 -1.7l-1.7 -0.1z"/>
<path class="c5" d="M389.1 486l3.5 1l9.3 -3.4l-3.5 -1z"/>
<path class="c10" d="M401.9 483.6l2.4 0.1l4.6 -2l-2.3 -0.1z"/>
<path class="c27" d="M422.7 476.5l1.8 0l3.1 -1.6l-1.8 0z"/>
<path class="c35" d="M430.7 473.2l1.8 0l3.1 -1.6l-1.8 -0.1z"/>
<path class="c20" d="M414.8 479.7l1.7 0l3.1 -1.6l-1.7 0z"/>
<path class="c0" d="M359.9 487l7.1 3.2l9.3 -2.4l-7.1 -3.2z"/>
<path class="c1" d="M376.3 487.8l3.5 1l9.3 -2.8l-3.5 -1z"/>
<path class="c16" d="M408.9 481.7l2.4 0.1l4.6 -2.1l-2.3 0z"/>
<path class="c32" d="M427.6 474.9l1.8 0l3.1 -1.7l-1.8 0z"/>
<path class="c40" d="M435.6 471.6l1.7 0l3.1 -1.6l-1.8 -0.1z"/>
<path class="c24" d="M419.6 478.1l1.8 0.1l3.1 -1.7l-1.8 0z"/>
<path class="c37" d="M432.5 473.2l1.7 0.1l3.1 -1.7l-1.7 0z"/>
<path class="c29" d="M424.5 476.5l1.8 0l3.1 -1.6l-1.8 0z"/>
<path class="c22" d="M416.5 479.7l1.8 0.1l3.1 -1.6l-1.8 -0.1z"/>
<path class="c14" d="M404.3 483.7l2.3 0.1l4.7 -2l-2.4 -0.1z"/>
<path class="c8" d="M392.6 487l2.4 0.1l9.3 -3.4l-2.4 -0.1z"/>
<path class="c42" d="M437.3 471.6l1.8 0.1l3.1 -1.6l-1.8 -0.1z"/>
<path class="c34" d="M429.4 474.9l1.7 0l3.1 -1.6l-1.7 -0.1z"/>
<path class="c27" d="M421.4 478.2l1.8 0l3.1 -1.7l-1.8 0z"/>
<path class="c19" d="M411.3 481.8l2.4 0l4.6 -2l-2.4 -0.1z"/>
<path class="c3" d="M379.8 488.8l3.5 1l9.3 -2.8l-3.5 -1z"/>
<path class="c39" d="M434.2 473.3l1.8 0l3.1 -1.6l-1.8 -0.1z"/>
<path class="c32" d="M426.3 476.5l1.7 0l3.1 -1.6l-1.7 0z"/>
<path class="c25" d="M418.3 479.8l1.8 0l3.1 -1.6l-1.8 0z"/>
<path class="c1" d="M367 490.2l3.5 1l9.3 -2.4l-3.5 -1z"/>
<path class="c44" d="M439.1 471.7l1.8 0.1l3.1 -1.6l-1.8 -0.1z"/>
<path class="c17" d="M406.6 483.8l2.4 0.1l4.7 -2.1l-2.4 0z"/>
<path class="c37" d="M431.1 474.9l1.8 0.1l3.1 -1.7l-1.8 0z"/>
<path class="c29" d="M423.2 478.2l1.7 -0.1l3.1 -1.6l-1.7 0z"/>
<path class="c11" d="M395 487.1l2.4 0.1l9.2 -3.4l-2.3 -0.1z"/>
<path class="c22" d="M413.7 481.8l1.7 0l4.7 -2l-1.8 0z"/>
<path class="c42" d="M436 473.3l1.8 0.1l3.1 -1.6l-1.8 -0.1z"/>
<path class="c34" d="M428 476.5l1.8 0l3.1 -1.5l-1.8 -0.1z"/>
<path class="c27" d="M420.1 479.8l1.7 -0.1l3.1 -1.6l-1.7 0.1z"/>
<path class="c6" d="M383.3 489.8l2.4 0.1l9.3 -2.8l-2.4 -0.1z"/>
<path class="c39" d="M432.9 475l1.8 0l3.1 -1.6l-1.8 -0.1z"/>
<path class="c32" d="M424.9 478.1l1.8 0l3.1 -1.6l-1.8 0z"/>
<path class="c20" d="M409 483.9l1.8 -0.1l4.6 -2l-1.7 0z"/>
<path class="c25" d="M415.4 481.8l1.8 -0.1l4.6 -2l-1.7 0.1z"/>
<path class="c14" d="M397.4 487.2l2.3 0.1l9.3 -3.4l-2.4 -0.1z"/>
<path class="c37" d="M429.8 476.5l1.8 0l3.1 -1.5l-1.8 0z"/>
<path class="c30" d="M421.8 479.7l1.8 0l3.1 -1.6l-1.8 0z"/>
<path class="c3" d="M370.5 491.2l3.6 1l9.2 -2.4l-3.5 -1z"/>
<path class="c35" d="M426.7 478.1l1.8 0l3.1 -1.6l-1.8 0z"/>
<path class="c22" d="M410.8 483.8l1.8 -0.1l4.6 -2l-1.8 0.1z"/>
<path class="c9" d="M385.7 489.9l2.4 0l9.3 -2.7l-2.4 -0.1z"/>
<path class="c27" d="M417.2 481.7l1.8 0l4.6 -2l-1.8 0z"/>
<path class="c40" d="M431.6 476.5l1.7 -0.1l3.1 -1.5l-1.7 0.1z"/>
<path class="c32" d="M423.6 479.7l1.8 0l3.1 -1.6l-1.8 0z"/>
<path class="c17" d="M399.7 487.3l1.8 -0.2l9.3 -3.3l-1.8 0.1z"/>
<path class="c5" d="M374.1 492.2l1.7 0l9.3 -2.3l-1.8 -0.1z"/>
<path class="c37" d="M428.5 478.1l1.7 -0.1l3.1 -1.6l-1.7 0.1z"/>
<path class="c25" d="M412.6 483.7l1.7 0l4.7 -2l-1.8 0z"/>
<path class="c30" d="M419 481.7l1.7 0l4.7 -2l-1.8 0z"/>
<path class="c12" d="M388.1 489.9l2.3 0.1l9.3 -2.7l-2.3 -0.1z"/>
<path class="c42" d="M433.3 476.4l1.8 -0.1l3.1 -1.5l-1.8 0.1z"/>
<path class="c35" d="M425.4 479.7l1.8 -0.1l3 -1.6l-1.7 0.1z"/>
<path class="c20" d="M401.5 487.1l1.8 -0.1l9.3 -3.3l-1.8 0.1z"/>
<path class="c8" d="M375.8 492.2l1.8 0l9.3 -2.3l-1.8 0z"/>
<path class="c40" d="M430.2 478l1.8 -0.1l3.1 -1.6l-1.8 0.1z"/>
<path class="c28" d="M414.3 483.7l1.8 -0.1l4.6 -1.9l-1.7 0z"/>
<path class="c33" d="M420.7 481.7l1.8 -0.2l4.7 -1.9l-1.8 0.1z"/>
<path class="c45" d="M435.1 476.3l1.8 -0.1l3.1 -1.5l-1.8 0.1z"/>
<path class="c38" d="M427.2 479.6l1.7 -0.1l3.1 -1.6l-1.8 0.1z"/>
<path class="c23" d="M403.3 487l1.7 -0.1l9.3 -3.2l-1.7 0z"/>
<path class="c15" d="M390.4 490l1.8 -0.2l9.3 -2.7l-1.8 0.2z"/>
<path class="c10" d="M377.6 492.2l1.8 0l9.3 -2.3l-1.8 0z"/>
<path class="c43" d="M432 477.9l1.8 -0.1l3.1 -1.6l-1.8 0.1z"/>
<path class="c31" d="M416.1 483.6l1.8 -0.1l4.6 -2l-1.8 0.2z"/>
<path class="c36" d="M422.5 481.5l1.8 -0.1l4.6 -1.9l-1.7 0.1z"/>
<path class="c48" d="M436.9 476.2l1.8 -0.1l3.1 -1.5l-1.8 0.1z"/>
<path class="c41" d="M428.9 479.5l1.8 -0.2l3.1 -1.5l-1.8 0.1z"/>
<path class="c26" d="M405 486.9l1.8 -0.1l9.3 -3.2l-1.8 0.1z"/>
<path class="c18" d="M392.2 489.8l1.8 -0.2l9.3 -2.6l-1.8 0.1z"/>
<path class="c13" d="M379.4 492.2l1.7 0l9.3 -2.2l-1.7 -0.1z"/>
<path class="c46" d="M433.8 477.8l1.8 -0.1l3.1 -1.6l-1.8 0.1z"/>
<path class="c34" d="M417.9 483.5l1.7 -0.2l4.7 -1.9l-1.8 0.1z"/>
<path class="c39" d="M424.3 481.4l1.7 -0.2l4.7 -1.9l-1.8 0.2z"/>
<path class="c44" d="M430.7 479.3l1.8 -0.1l3.1 -1.5l-1.8 0.1z"/>
<path class="c29" d="M406.8 486.8l1.8 -0.2l9.3 -3.1l-1.8 0.1z"/>
<path class="c21" d="M394 489.6l1.7 -0.1l9.3 -2.6l-1.7 0.1z"/>
<path class="c16" d="M381.1 492.2l1.8 -0.2l9.3 -2.2l-1.8 0.2z"/>
<path class="c37" d="M419.6 483.3l1.8 -0.1l4.6 -2l-1.7 0.2z"/>
<path class="c42" d="M426 481.2l1.8 -0.1l4.7 -1.9l-1.8 0.1z"/>
<path class="c32" d="M408.6 486.6l1.7 -0.3l9.3 -3l-1.7 0.2z"/>
<path class="c24" d="M395.7 489.5l1.8 -0.2l9.3 -2.5l-1.8 0.1z"/>
<path class="c19" d="M382.9 492l1.8 -0.1l9.3 -2.3l-1.8 0.2z"/>
<path class="c40" d="M421.4 483.2l1.8 -0.2l4.6 -1.9l-1.8 0.1z"/>
<path class="c27" d="M397.5 489.3l1.4 -0.2l9.3 -2.5l-1.4 0.2z"/>
<path class="c35" d="M410.3 486.3l1.8 -0.2l9.3 -2.9l-1.8 0.1z"/>
<path class="c22" d="M384.7 491.9l1.7 -0.2l9.3 -2.2l-1.7 0.1z"/>
<path class="c30" d="M398.9 489.1l1.4 -0.2l9.3 -2.5l-1.4 0.2z"/>
<path class="c38" d="M412.1 486.1l1.8 -0.2l9.3 -2.9l-1.8 0.2z"/>
<path class="c25" d="M386.4 491.7l1.8 -0.2l9.3 -2.2l-1.8 0.2z"/>
<path class="c33" d="M400.3 488.9l1.5 -0.2l9.2 -2.5l-1.4 0.2z"/>
<path class="c28" d="M388.2 491.5l1.4 -0.2l9.3 -2.2l-1.4 0.2z"/>
<path class="c35" d="M401.8 488.7l1.4 -0.2l9.3 -2.4l-1.5 0.1z"/>
<path class="c30" d="M389.6 491.3l1.5 -0.2l9.2 -2.2l-1.4 0.2z"/>
<path class="c38" d="M403.2 488.5l1.4 -0.3l9.3 -2.3l-1.4 0.2z"/>
<path class="c33" d="M391.1 491.1l1.4 -0.3l9.3 -2.1l-1.5 0.2z"/>
<path class="c36" d="M392.5 490.8l1.4 -0.2l9.3 -2.1l-1.4 0.2z"/>
<path class="c39" d="M393.9 490.6l1.4 -0.2l9.3 -2.2l-1.4 0.3z"/></g>
<line x1="324.5" y1="487.9" x2="324.5" y2="416.9" stroke="#444444" stroke-width="0.7"/>
<line x1="324.5" y1="487.9" x2="395.3" y2="520.7" stroke="#444444" stroke-width="0.7"/>
<line x1="395.3" y1="520.7" x2="488.2" y2="495.7" stroke="#444444" stroke-width="0.7"/>
<line x1="324.5" y1="487.9" x2="322.5" y2="488.5" stroke="#444444" stroke-width="0.7"/>
<line x1="395.3" y1="520.7" x2="397.3" y2="521.9" stroke="#444444" stroke-width="0.7"/>
<line x1="359.9" y1="504.3" x2="357.9" y2="504.9" stroke="#444444" stroke-width="0.7"/>
<line x1="441.8" y1="508.2" x2="443.8" y2="509.4" stroke="#444444" stroke-width="0.7"/>
<line x1="395.3" y1="520.7" x2="393.3" y2="521.3" stroke="#444444" stroke-width="0.7"/>
<line x1="488.2" y1="495.7" x2="490.2" y2="496.9" stroke="#444444" stroke-width="0.7"/>
<line x1="324.5" y1="487.9" x2="322.7" y2="487.4" stroke="#444444" stroke-width="0.7"/>
<line x1="324.5" y1="464.2" x2="322.7" y2="463.7" stroke="#444444" stroke-width="0.7"/>
<line x1="324.5" y1="440.6" x2="322.7" y2="440.1" stroke="#444444" stroke-width="0.7"/>
<line x1="324.5" y1="416.9" x2="322.7" y2="416.4" stroke="#444444" stroke-width="0.7"/>
<text x="318.9" y="489.9" font-size="8" text-anchor="end">0</text>
<text x="318.9" y="466.2" font-size="8" text-anchor="end">50</text>
<text x="318.9" y="442.6" font-size="8" text-anchor="end">100</text>
<text x="318.9" y="418.9" font-size="8" text-anchor="end">150</text>
<text x="316.3" y="498.3" font-size="8" text-anchor="middle">8</text>
<text x="351.4" y="515.3" font-size="8" text-anchor="middle">9</text>
<text x="385.1" y="531.2" font-size="8" text-anchor="middle">10</text>
<text x="405.5" y="532.3" font-size="8" text-anchor="middle">12</text>
<text x="452.7" y="519.6" font-size="8" text-anchor="middle">11</text>
<text x="497.9" y="507.3" font-size="8" text-anchor="middle">10</text>
<text x="346.5" y="536" font-size="9.5" text-anchor="middle">LWL</text>
<text x="450.5" y="537.6" font-size="9.5" text-anchor="middle">HWL</text>
<text font-size="9.4" text-anchor="middle" transform="translate(300.4 452.9) rotate(-90)">day</text>
<text x="406.2" y="388.4" font-size="9.25" text-anchor="middle">Rivers and Lake in Total</text>
<text x="327" y="396.8" font-size="12" font-weight="bold" fill="#000">(f)</text>
<rect x="513" y="392.9" width="16" height="127.6" fill="url(#pg)" stroke="#3a3a3a" stroke-width="0.6"/>
<line x1="527.6" y1="516.4" x2="529" y2="516.4" stroke="#3a3a3a" stroke-width="0.6"/>
<text x="532.6" y="519.3" font-size="8">40</text>
<line x1="527.6" y1="492.8" x2="529" y2="492.8" stroke="#3a3a3a" stroke-width="0.6"/>
<text x="532.6" y="495.7" font-size="8">60</text>
<line x1="527.6" y1="469.2" x2="529" y2="469.2" stroke="#3a3a3a" stroke-width="0.6"/>
<text x="532.6" y="472.1" font-size="8">80</text>
<line x1="527.6" y1="445.6" x2="529" y2="445.6" stroke="#3a3a3a" stroke-width="0.6"/>
<text x="532.6" y="448.5" font-size="8">100</text>
<line x1="527.6" y1="422" x2="529" y2="422" stroke="#3a3a3a" stroke-width="0.6"/>
<text x="532.6" y="424.9" font-size="8">120</text>
<line x1="527.6" y1="398.4" x2="529" y2="398.4" stroke="#3a3a3a" stroke-width="0.6"/>
<text x="532.6" y="401.3" font-size="8">140</text>
</g>
</svg></body></html>
